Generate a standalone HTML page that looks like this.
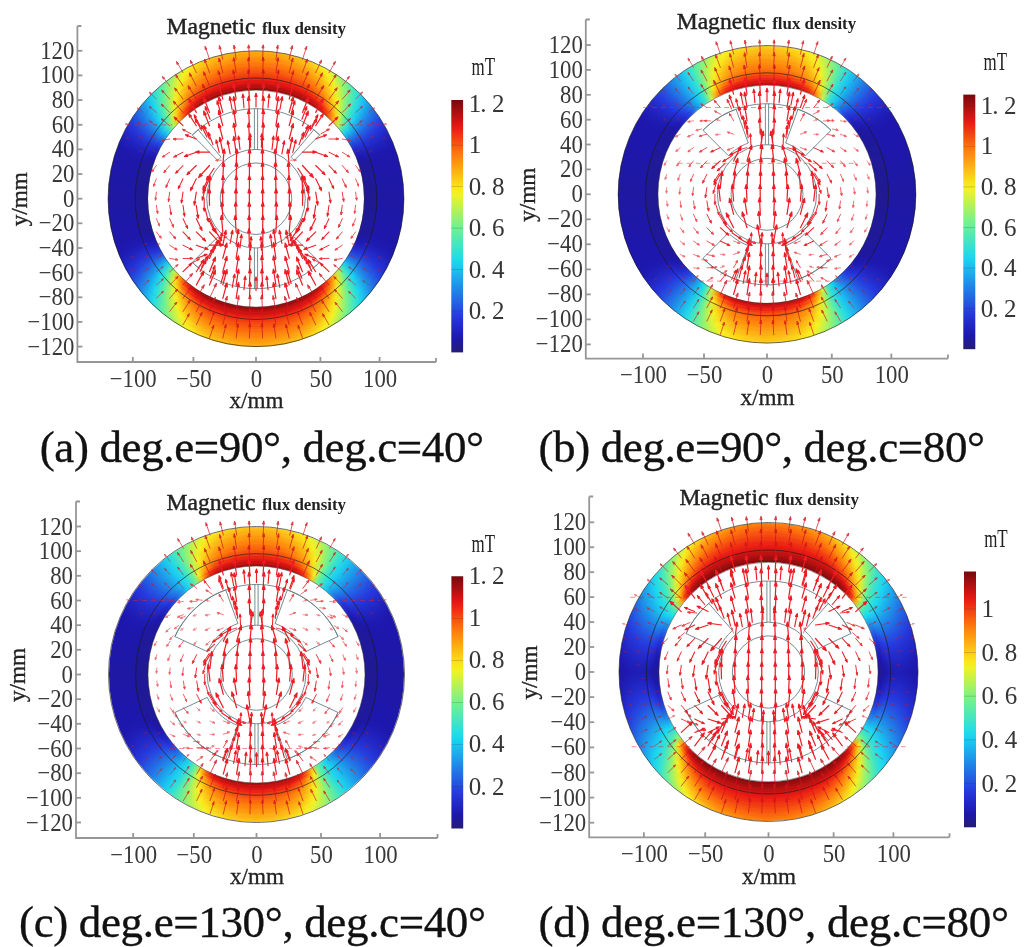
<!DOCTYPE html>
<html><head><meta charset="utf-8"><title>Magnetic flux density</title>
<style>
html,body{margin:0;padding:0;background:#fff;}
#wrap{position:relative;width:1025px;height:947px;overflow:hidden;background:#fff;font-family:"Liberation Serif",serif;}
.disc{position:absolute;border-radius:50%;}
svg{position:absolute;left:0;top:0;}
text{font-family:"Liberation Serif",serif;fill:#222;}
.tk{font-size:24.5px;fill:#383838;}
.cb{font-size:25px;fill:#363636;}
.cap{font-size:45px;fill:#111;stroke:#111;stroke-width:0.35px;}
</style></head><body><div id="wrap">
<div class="disc" style="left:108.10px;top:50.80px;width:295.80px;height:295.80px;background:conic-gradient(#fdaa13 0deg,#fdab14 3deg,#fdae14 6deg,#fdb114 9deg,#fdb515 12deg,#fcbb16 15deg,#fcc317 18deg,#fcce19 21deg,#fbdc1b 24deg,#faee1e 27deg,#e2f232 30deg,#bef24f 33deg,#93f272 36deg,#68ef99 39deg,#45e5c1 42deg,#20dbeb 45deg,#1cb6ee 48deg,#1f8ee9 51deg,#2269e4 54deg,#2549e0 57deg,#2533d6 60deg,#2227c5 63deg,#1f1eb8 66deg,#1d17ad 69deg,#1e17ab 72deg,#1e17aa 75deg,#1e17a9 78deg,#1e18a7 81deg,#1e18a6 84deg,#1e18a5 87deg,#1e18a3 90deg,#1e18a5 93deg,#1e18a6 96deg,#1e18a7 99deg,#1e17a9 102deg,#1e17aa 105deg,#1e17ab 108deg,#1d17ad 111deg,#1f1eb8 114deg,#2227c5 117deg,#2533d6 120deg,#2549e0 123deg,#2269e4 126deg,#1f8ee9 129deg,#1cb6ee 132deg,#20dbeb 135deg,#45e5c1 138deg,#68ef99 141deg,#93f272 144deg,#bef24f 147deg,#e2f232 150deg,#faee1e 153deg,#fbdc1b 156deg,#fcce19 159deg,#fcc317 162deg,#fcbb16 165deg,#fdb515 168deg,#fdb114 171deg,#fdae14 174deg,#fdab14 177deg,#fdaa13 180deg,#fdab14 183deg,#fdae14 186deg,#fdb114 189deg,#fdb515 192deg,#fcbb16 195deg,#fcc317 198deg,#fcce19 201deg,#fbdc1b 204deg,#faee1e 207deg,#e2f232 210deg,#bef24f 213deg,#93f272 216deg,#68ef99 219deg,#45e5c1 222deg,#20dbeb 225deg,#1cb6ee 228deg,#1f8ee9 231deg,#2269e4 234deg,#2549e0 237deg,#2533d6 240deg,#2227c5 243deg,#1f1eb8 246deg,#1d17ad 249deg,#1e17ab 252deg,#1e17aa 255deg,#1e17a9 258deg,#1e18a7 261deg,#1e18a6 264deg,#1e18a5 267deg,#1e18a3 270deg,#1e18a5 273deg,#1e18a6 276deg,#1e18a7 279deg,#1e17a9 282deg,#1e17aa 285deg,#1e17ab 288deg,#1d17ad 291deg,#1f1eb8 294deg,#2227c5 297deg,#2533d6 300deg,#2549e0 303deg,#2269e4 306deg,#1f8ee9 309deg,#1cb6ee 312deg,#20dbeb 315deg,#45e5c1 318deg,#68ef99 321deg,#93f272 324deg,#bef24f 327deg,#e2f232 330deg,#faee1e 333deg,#fbdc1b 336deg,#fcce19 339deg,#fcc317 342deg,#fcbb16 345deg,#fdb515 348deg,#fdb114 351deg,#fdae14 354deg,#fdab14 357deg,#fdaa13 360deg)"></div>
<div class="disc" style="left:110.56px;top:53.26px;width:290.87px;height:290.87px;background:conic-gradient(#fe9f12 0deg,#fea112 3deg,#fda312 6deg,#fda613 9deg,#fdaa13 12deg,#fdaf14 15deg,#fdb715 18deg,#fcc117 21deg,#fbce19 24deg,#fbe01c 27deg,#f4f223 30deg,#d1f240 33deg,#a5f263 36deg,#73f28c 39deg,#4fe8b5 42deg,#28dde1 45deg,#1cbeef 48deg,#1f95ea 51deg,#226fe5 54deg,#254de1 57deg,#2535d9 60deg,#2228c7 63deg,#1f1fb9 66deg,#1d17ae 69deg,#1e17ab 72deg,#1e17aa 75deg,#1e17a9 78deg,#1e18a7 81deg,#1e18a6 84deg,#1e18a5 87deg,#1e18a3 90deg,#1e18a5 93deg,#1e18a6 96deg,#1e18a7 99deg,#1e17a9 102deg,#1e17aa 105deg,#1e17ab 108deg,#1d17ae 111deg,#1f1fb9 114deg,#2228c7 117deg,#2535d9 120deg,#254de1 123deg,#226fe5 126deg,#1f95ea 129deg,#1cbeef 132deg,#28dde1 135deg,#4fe8b5 138deg,#73f28c 141deg,#a5f263 144deg,#d1f240 147deg,#f4f223 150deg,#fbe01c 153deg,#fbce19 156deg,#fcc117 159deg,#fdb715 162deg,#fdaf14 165deg,#fdaa13 168deg,#fda613 171deg,#fda312 174deg,#fea112 177deg,#fe9f12 180deg,#fea112 183deg,#fda312 186deg,#fda613 189deg,#fdaa13 192deg,#fdaf14 195deg,#fdb715 198deg,#fcc117 201deg,#fbce19 204deg,#fbe01c 207deg,#f4f223 210deg,#d1f240 213deg,#a5f263 216deg,#73f28c 219deg,#4fe8b5 222deg,#28dde1 225deg,#1cbeef 228deg,#1f95ea 231deg,#226fe5 234deg,#254de1 237deg,#2535d9 240deg,#2228c7 243deg,#1f1fb9 246deg,#1d17ae 249deg,#1e17ab 252deg,#1e17aa 255deg,#1e17a9 258deg,#1e18a7 261deg,#1e18a6 264deg,#1e18a5 267deg,#1e18a3 270deg,#1e18a5 273deg,#1e18a6 276deg,#1e18a7 279deg,#1e17a9 282deg,#1e17aa 285deg,#1e17ab 288deg,#1d17ae 291deg,#1f1fb9 294deg,#2228c7 297deg,#2535d9 300deg,#254de1 303deg,#226fe5 306deg,#1f95ea 309deg,#1cbeef 312deg,#28dde1 315deg,#4fe8b5 318deg,#73f28c 321deg,#a5f263 324deg,#d1f240 327deg,#f4f223 330deg,#fbe01c 333deg,#fbce19 336deg,#fcc117 339deg,#fdb715 342deg,#fdaf14 345deg,#fdaa13 348deg,#fda613 351deg,#fda312 354deg,#fea112 357deg,#fe9f12 360deg)"></div>
<div class="disc" style="left:113.03px;top:55.73px;width:285.94px;height:285.94px;background:conic-gradient(#fe9510 0deg,#fe9610 3deg,#fe9811 6deg,#fe9b11 9deg,#fe9f12 12deg,#fda412 15deg,#fdab13 18deg,#fdb415 21deg,#fcc117 24deg,#fbd21a 27deg,#fae81d 30deg,#e4f231 33deg,#b8f254 36deg,#85f27e 39deg,#59eba9 42deg,#31e0d7 45deg,#1bc7f0 48deg,#1e9ceb 51deg,#2175e6 54deg,#2452e1 57deg,#2636db 60deg,#222ac9 63deg,#2020ba 66deg,#1e18af 69deg,#1e17ab 72deg,#1e17aa 75deg,#1e17a9 78deg,#1e18a7 81deg,#1e18a6 84deg,#1e18a5 87deg,#1e18a3 90deg,#1e18a5 93deg,#1e18a6 96deg,#1e18a7 99deg,#1e17a9 102deg,#1e17aa 105deg,#1e17ab 108deg,#1e18af 111deg,#2020ba 114deg,#222ac9 117deg,#2636db 120deg,#2452e1 123deg,#2175e6 126deg,#1e9ceb 129deg,#1bc7f0 132deg,#31e0d7 135deg,#59eba9 138deg,#85f27e 141deg,#b8f254 144deg,#e4f231 147deg,#fae81d 150deg,#fbd21a 153deg,#fcc117 156deg,#fdb415 159deg,#fdab13 162deg,#fda412 165deg,#fe9f12 168deg,#fe9b11 171deg,#fe9811 174deg,#fe9610 177deg,#fe9510 180deg,#fe9610 183deg,#fe9811 186deg,#fe9b11 189deg,#fe9f12 192deg,#fda412 195deg,#fdab13 198deg,#fdb415 201deg,#fcc117 204deg,#fbd21a 207deg,#fae81d 210deg,#e4f231 213deg,#b8f254 216deg,#85f27e 219deg,#59eba9 222deg,#31e0d7 225deg,#1bc7f0 228deg,#1e9ceb 231deg,#2175e6 234deg,#2452e1 237deg,#2636db 240deg,#222ac9 243deg,#2020ba 246deg,#1e18af 249deg,#1e17ab 252deg,#1e17aa 255deg,#1e17a9 258deg,#1e18a7 261deg,#1e18a6 264deg,#1e18a5 267deg,#1e18a3 270deg,#1e18a5 273deg,#1e18a6 276deg,#1e18a7 279deg,#1e17a9 282deg,#1e17aa 285deg,#1e17ab 288deg,#1e18af 291deg,#2020ba 294deg,#222ac9 297deg,#2636db 300deg,#2452e1 303deg,#2175e6 306deg,#1e9ceb 309deg,#1bc7f0 312deg,#31e0d7 315deg,#59eba9 318deg,#85f27e 321deg,#b8f254 324deg,#e4f231 327deg,#fae81d 330deg,#fbd21a 333deg,#fcc117 336deg,#fdb415 339deg,#fdab13 342deg,#fda412 345deg,#fe9f12 348deg,#fe9b11 351deg,#fe9811 354deg,#fe9610 357deg,#fe9510 360deg)"></div>
<div class="disc" style="left:115.50px;top:58.19px;width:281.01px;height:281.01px;background:conic-gradient(#ff8b0e 0deg,#fe8c0f 3deg,#fe8e0f 6deg,#fe900f 9deg,#fe9310 12deg,#fe9811 15deg,#fe9e12 18deg,#fda713 21deg,#fdb315 24deg,#fcc417 27deg,#fbd91b 30deg,#f7f221 33deg,#ccf244 36deg,#97f26e 39deg,#64ee9d 42deg,#3be2cc 45deg,#1ad0f1 48deg,#1ea3eb 51deg,#217be6 54deg,#2457e2 57deg,#2638de 60deg,#232bcb 63deg,#2021bc 66deg,#1e19b0 69deg,#1e17ab 72deg,#1e17aa 75deg,#1e17a9 78deg,#1e18a7 81deg,#1e18a6 84deg,#1e18a5 87deg,#1e18a3 90deg,#1e18a5 93deg,#1e18a6 96deg,#1e18a7 99deg,#1e17a9 102deg,#1e17aa 105deg,#1e17ab 108deg,#1e19b0 111deg,#2021bc 114deg,#232bcb 117deg,#2638de 120deg,#2457e2 123deg,#217be6 126deg,#1ea3eb 129deg,#1ad0f1 132deg,#3be2cc 135deg,#64ee9d 138deg,#97f26e 141deg,#ccf244 144deg,#f7f221 147deg,#fbd91b 150deg,#fcc417 153deg,#fdb315 156deg,#fda713 159deg,#fe9e12 162deg,#fe9811 165deg,#fe9310 168deg,#fe900f 171deg,#fe8e0f 174deg,#fe8c0f 177deg,#ff8b0e 180deg,#fe8c0f 183deg,#fe8e0f 186deg,#fe900f 189deg,#fe9310 192deg,#fe9811 195deg,#fe9e12 198deg,#fda713 201deg,#fdb315 204deg,#fcc417 207deg,#fbd91b 210deg,#f7f221 213deg,#ccf244 216deg,#97f26e 219deg,#64ee9d 222deg,#3be2cc 225deg,#1ad0f1 228deg,#1ea3eb 231deg,#217be6 234deg,#2457e2 237deg,#2638de 240deg,#232bcb 243deg,#2021bc 246deg,#1e19b0 249deg,#1e17ab 252deg,#1e17aa 255deg,#1e17a9 258deg,#1e18a7 261deg,#1e18a6 264deg,#1e18a5 267deg,#1e18a3 270deg,#1e18a5 273deg,#1e18a6 276deg,#1e18a7 279deg,#1e17a9 282deg,#1e17aa 285deg,#1e17ab 288deg,#1e19b0 291deg,#2021bc 294deg,#232bcb 297deg,#2638de 300deg,#2457e2 303deg,#217be6 306deg,#1ea3eb 309deg,#1ad0f1 312deg,#3be2cc 315deg,#64ee9d 318deg,#97f26e 321deg,#ccf244 324deg,#f7f221 327deg,#fbd91b 330deg,#fcc417 333deg,#fdb315 336deg,#fda713 339deg,#fe9e12 342deg,#fe9811 345deg,#fe9310 348deg,#fe900f 351deg,#fe8e0f 354deg,#fe8c0f 357deg,#ff8b0e 360deg)"></div>
<div class="disc" style="left:117.96px;top:60.66px;width:276.08px;height:276.08px;background:conic-gradient(#ff800d 0deg,#ff810d 3deg,#ff830d 6deg,#ff850e 9deg,#ff880e 12deg,#fe8c0f 15deg,#fe9210 18deg,#fe9a11 21deg,#fda613 24deg,#fdb515 27deg,#fcca18 30deg,#fae51d 33deg,#e0f234 36deg,#abf25f 39deg,#70f190 42deg,#45e5c1 45deg,#1ad9f2 48deg,#1dabec 51deg,#2081e7 54deg,#235be2 57deg,#263bde 60deg,#232ccc 63deg,#2021bd 66deg,#1e19b1 69deg,#1e17ab 72deg,#1e17aa 75deg,#1e17a9 78deg,#1e18a7 81deg,#1e18a6 84deg,#1e18a5 87deg,#1e18a3 90deg,#1e18a5 93deg,#1e18a6 96deg,#1e18a7 99deg,#1e17a9 102deg,#1e17aa 105deg,#1e17ab 108deg,#1e19b1 111deg,#2021bd 114deg,#232ccc 117deg,#263bde 120deg,#235be2 123deg,#2081e7 126deg,#1dabec 129deg,#1ad9f2 132deg,#45e5c1 135deg,#70f190 138deg,#abf25f 141deg,#e0f234 144deg,#fae51d 147deg,#fcca18 150deg,#fdb515 153deg,#fda613 156deg,#fe9a11 159deg,#fe9210 162deg,#fe8c0f 165deg,#ff880e 168deg,#ff850e 171deg,#ff830d 174deg,#ff810d 177deg,#ff800d 180deg,#ff810d 183deg,#ff830d 186deg,#ff850e 189deg,#ff880e 192deg,#fe8c0f 195deg,#fe9210 198deg,#fe9a11 201deg,#fda613 204deg,#fdb515 207deg,#fcca18 210deg,#fae51d 213deg,#e0f234 216deg,#abf25f 219deg,#70f190 222deg,#45e5c1 225deg,#1ad9f2 228deg,#1dabec 231deg,#2081e7 234deg,#235be2 237deg,#263bde 240deg,#232ccc 243deg,#2021bd 246deg,#1e19b1 249deg,#1e17ab 252deg,#1e17aa 255deg,#1e17a9 258deg,#1e18a7 261deg,#1e18a6 264deg,#1e18a5 267deg,#1e18a3 270deg,#1e18a5 273deg,#1e18a6 276deg,#1e18a7 279deg,#1e17a9 282deg,#1e17aa 285deg,#1e17ab 288deg,#1e19b1 291deg,#2021bd 294deg,#232ccc 297deg,#263bde 300deg,#235be2 303deg,#2081e7 306deg,#1dabec 309deg,#1ad9f2 312deg,#45e5c1 315deg,#70f190 318deg,#abf25f 321deg,#e0f234 324deg,#fae51d 327deg,#fcca18 330deg,#fdb515 333deg,#fda613 336deg,#fe9a11 339deg,#fe9210 342deg,#fe8c0f 345deg,#ff880e 348deg,#ff850e 351deg,#ff830d 354deg,#ff810d 357deg,#ff800d 360deg)"></div>
<div class="disc" style="left:120.43px;top:63.12px;width:271.15px;height:271.15px;background:conic-gradient(#fd750e 0deg,#fd760d 3deg,#fd770d 6deg,#fe790d 9deg,#fe7c0d 12deg,#ff810d 15deg,#ff860e 18deg,#fe8d0f 21deg,#fe9811 24deg,#fda713 27deg,#fcba16 30deg,#fbd51a 33deg,#f4f223 36deg,#bff24e 39deg,#81f281 42deg,#4fe8b5 45deg,#22dbe8 48deg,#1cb3ed 51deg,#2087e8 54deg,#2360e3 57deg,#263fdf 60deg,#232dce 63deg,#2022be 66deg,#1e1ab1 69deg,#1e17ab 72deg,#1e17aa 75deg,#1e17a9 78deg,#1e18a7 81deg,#1e18a6 84deg,#1e18a5 87deg,#1e18a3 90deg,#1e18a5 93deg,#1e18a6 96deg,#1e18a7 99deg,#1e17a9 102deg,#1e17aa 105deg,#1e17ab 108deg,#1e1ab1 111deg,#2022be 114deg,#232dce 117deg,#263fdf 120deg,#2360e3 123deg,#2087e8 126deg,#1cb3ed 129deg,#22dbe8 132deg,#4fe8b5 135deg,#81f281 138deg,#bff24e 141deg,#f4f223 144deg,#fbd51a 147deg,#fcba16 150deg,#fda713 153deg,#fe9811 156deg,#fe8d0f 159deg,#ff860e 162deg,#ff810d 165deg,#fe7c0d 168deg,#fe790d 171deg,#fd770d 174deg,#fd760d 177deg,#fd750e 180deg,#fd760d 183deg,#fd770d 186deg,#fe790d 189deg,#fe7c0d 192deg,#ff810d 195deg,#ff860e 198deg,#fe8d0f 201deg,#fe9811 204deg,#fda713 207deg,#fcba16 210deg,#fbd51a 213deg,#f4f223 216deg,#bff24e 219deg,#81f281 222deg,#4fe8b5 225deg,#22dbe8 228deg,#1cb3ed 231deg,#2087e8 234deg,#2360e3 237deg,#263fdf 240deg,#232dce 243deg,#2022be 246deg,#1e1ab1 249deg,#1e17ab 252deg,#1e17aa 255deg,#1e17a9 258deg,#1e18a7 261deg,#1e18a6 264deg,#1e18a5 267deg,#1e18a3 270deg,#1e18a5 273deg,#1e18a6 276deg,#1e18a7 279deg,#1e17a9 282deg,#1e17aa 285deg,#1e17ab 288deg,#1e1ab1 291deg,#2022be 294deg,#232dce 297deg,#263fdf 300deg,#2360e3 303deg,#2087e8 306deg,#1cb3ed 309deg,#22dbe8 312deg,#4fe8b5 315deg,#81f281 318deg,#bff24e 321deg,#f4f223 324deg,#fbd51a 327deg,#fcba16 330deg,#fda713 333deg,#fe9811 336deg,#fe8d0f 339deg,#ff860e 342deg,#ff810d 345deg,#fe7c0d 348deg,#fe790d 351deg,#fd770d 354deg,#fd760d 357deg,#fd750e 360deg)"></div>
<div class="disc" style="left:122.89px;top:65.59px;width:266.22px;height:266.22px;background:conic-gradient(#fa690e 0deg,#fb6a0e 3deg,#fb6b0e 6deg,#fb6d0e 9deg,#fc6f0e 12deg,#fd730e 15deg,#fe790d 18deg,#ff810d 21deg,#ff8a0e 24deg,#fe9811 27deg,#fdab13 30deg,#fcc417 33deg,#fae61d 36deg,#d4f23d 39deg,#94f271 42deg,#5aeba8 45deg,#2bdede 48deg,#1cbbee 51deg,#208de9 54deg,#2364e3 57deg,#2542df 60deg,#242ed0 63deg,#2123bf 66deg,#1e1ab2 69deg,#1e17ab 72deg,#1e17aa 75deg,#1e17a9 78deg,#1e18a7 81deg,#1e18a6 84deg,#1e18a5 87deg,#1e18a3 90deg,#1e18a5 93deg,#1e18a6 96deg,#1e18a7 99deg,#1e17a9 102deg,#1e17aa 105deg,#1e17ab 108deg,#1e1ab2 111deg,#2123bf 114deg,#242ed0 117deg,#2542df 120deg,#2364e3 123deg,#208de9 126deg,#1cbbee 129deg,#2bdede 132deg,#5aeba8 135deg,#94f271 138deg,#d4f23d 141deg,#fae61d 144deg,#fcc417 147deg,#fdab13 150deg,#fe9811 153deg,#ff8a0e 156deg,#ff810d 159deg,#fe790d 162deg,#fd730e 165deg,#fc6f0e 168deg,#fb6d0e 171deg,#fb6b0e 174deg,#fb6a0e 177deg,#fa690e 180deg,#fb6a0e 183deg,#fb6b0e 186deg,#fb6d0e 189deg,#fc6f0e 192deg,#fd730e 195deg,#fe790d 198deg,#ff810d 201deg,#ff8a0e 204deg,#fe9811 207deg,#fdab13 210deg,#fcc417 213deg,#fae61d 216deg,#d4f23d 219deg,#94f271 222deg,#5aeba8 225deg,#2bdede 228deg,#1cbbee 231deg,#208de9 234deg,#2364e3 237deg,#2542df 240deg,#242ed0 243deg,#2123bf 246deg,#1e1ab2 249deg,#1e17ab 252deg,#1e17aa 255deg,#1e17a9 258deg,#1e18a7 261deg,#1e18a6 264deg,#1e18a5 267deg,#1e18a3 270deg,#1e18a5 273deg,#1e18a6 276deg,#1e18a7 279deg,#1e17a9 282deg,#1e17aa 285deg,#1e17ab 288deg,#1e1ab2 291deg,#2123bf 294deg,#242ed0 297deg,#2542df 300deg,#2364e3 303deg,#208de9 306deg,#1cbbee 309deg,#2bdede 312deg,#5aeba8 315deg,#94f271 318deg,#d4f23d 321deg,#fae61d 324deg,#fcc417 327deg,#fdab13 330deg,#fe9811 333deg,#ff8a0e 336deg,#ff810d 339deg,#fe790d 342deg,#fd730e 345deg,#fc6f0e 348deg,#fb6d0e 351deg,#fb6b0e 354deg,#fb6a0e 357deg,#fa690e 360deg)"></div>
<div class="disc" style="left:125.36px;top:68.06px;width:261.29px;height:261.29px;background:conic-gradient(#f85d0f 0deg,#f85e0f 3deg,#f85f0f 6deg,#f9600f 9deg,#f9620f 12deg,#fa660f 15deg,#fb6b0e 18deg,#fc720e 21deg,#fe7c0d 24deg,#ff890e 27deg,#fe9b11 30deg,#fdb415 33deg,#fbd41a 36deg,#eaf22b 39deg,#a9f260 42deg,#66ef9b 45deg,#34e0d4 48deg,#1bc4f0 51deg,#1f93e9 54deg,#2269e4 57deg,#2545df 60deg,#242fd1 63deg,#2123bf 66deg,#1e1ab2 69deg,#1e17ab 72deg,#1e17aa 75deg,#1e17a9 78deg,#1e18a7 81deg,#1e18a6 84deg,#1e18a5 87deg,#1e18a3 90deg,#1e18a5 93deg,#1e18a6 96deg,#1e18a7 99deg,#1e17a9 102deg,#1e17aa 105deg,#1e17ab 108deg,#1e1ab2 111deg,#2123bf 114deg,#242fd1 117deg,#2545df 120deg,#2269e4 123deg,#1f93e9 126deg,#1bc4f0 129deg,#34e0d4 132deg,#66ef9b 135deg,#a9f260 138deg,#eaf22b 141deg,#fbd41a 144deg,#fdb415 147deg,#fe9b11 150deg,#ff890e 153deg,#fe7c0d 156deg,#fc720e 159deg,#fb6b0e 162deg,#fa660f 165deg,#f9620f 168deg,#f9600f 171deg,#f85f0f 174deg,#f85e0f 177deg,#f85d0f 180deg,#f85e0f 183deg,#f85f0f 186deg,#f9600f 189deg,#f9620f 192deg,#fa660f 195deg,#fb6b0e 198deg,#fc720e 201deg,#fe7c0d 204deg,#ff890e 207deg,#fe9b11 210deg,#fdb415 213deg,#fbd41a 216deg,#eaf22b 219deg,#a9f260 222deg,#66ef9b 225deg,#34e0d4 228deg,#1bc4f0 231deg,#1f93e9 234deg,#2269e4 237deg,#2545df 240deg,#242fd1 243deg,#2123bf 246deg,#1e1ab2 249deg,#1e17ab 252deg,#1e17aa 255deg,#1e17a9 258deg,#1e18a7 261deg,#1e18a6 264deg,#1e18a5 267deg,#1e18a3 270deg,#1e18a5 273deg,#1e18a6 276deg,#1e18a7 279deg,#1e17a9 282deg,#1e17aa 285deg,#1e17ab 288deg,#1e1ab2 291deg,#2123bf 294deg,#242fd1 297deg,#2545df 300deg,#2269e4 303deg,#1f93e9 306deg,#1bc4f0 309deg,#34e0d4 312deg,#66ef9b 315deg,#a9f260 318deg,#eaf22b 321deg,#fbd41a 324deg,#fdb415 327deg,#fe9b11 330deg,#ff890e 333deg,#fe7c0d 336deg,#fc720e 339deg,#fb6b0e 342deg,#fa660f 345deg,#f9620f 348deg,#f9600f 351deg,#f85f0f 354deg,#f85e0f 357deg,#f85d0f 360deg)"></div>
<div class="disc" style="left:127.82px;top:70.52px;width:256.36px;height:256.36px;background:conic-gradient(#f65110 0deg,#f65210 3deg,#f65210 6deg,#f65410 9deg,#f75610 12deg,#f75910 15deg,#f85d0f 18deg,#f9630f 21deg,#fb6c0e 24deg,#fe7a0d 27deg,#fe8b0f 30deg,#fda212 33deg,#fcc217 36deg,#faec1e 39deg,#c0f24e 42deg,#73f28c 45deg,#3de3c9 48deg,#1bccf1 51deg,#1f9aea 54deg,#226de5 57deg,#2548e0 60deg,#2430d2 63deg,#2124c0 66deg,#1e1ab2 69deg,#1e17ab 72deg,#1e17aa 75deg,#1e17a9 78deg,#1e18a7 81deg,#1e18a6 84deg,#1e18a5 87deg,#1e18a3 90deg,#1e18a5 93deg,#1e18a6 96deg,#1e18a7 99deg,#1e17a9 102deg,#1e17aa 105deg,#1e17ab 108deg,#1e1ab2 111deg,#2124c0 114deg,#2430d2 117deg,#2548e0 120deg,#226de5 123deg,#1f9aea 126deg,#1bccf1 129deg,#3de3c9 132deg,#73f28c 135deg,#c0f24e 138deg,#faec1e 141deg,#fcc217 144deg,#fda212 147deg,#fe8b0f 150deg,#fe7a0d 153deg,#fb6c0e 156deg,#f9630f 159deg,#f85d0f 162deg,#f75910 165deg,#f75610 168deg,#f65410 171deg,#f65210 174deg,#f65210 177deg,#f65110 180deg,#f65210 183deg,#f65210 186deg,#f65410 189deg,#f75610 192deg,#f75910 195deg,#f85d0f 198deg,#f9630f 201deg,#fb6c0e 204deg,#fe7a0d 207deg,#fe8b0f 210deg,#fda212 213deg,#fcc217 216deg,#faec1e 219deg,#c0f24e 222deg,#73f28c 225deg,#3de3c9 228deg,#1bccf1 231deg,#1f9aea 234deg,#226de5 237deg,#2548e0 240deg,#2430d2 243deg,#2124c0 246deg,#1e1ab2 249deg,#1e17ab 252deg,#1e17aa 255deg,#1e17a9 258deg,#1e18a7 261deg,#1e18a6 264deg,#1e18a5 267deg,#1e18a3 270deg,#1e18a5 273deg,#1e18a6 276deg,#1e18a7 279deg,#1e17a9 282deg,#1e17aa 285deg,#1e17ab 288deg,#1e1ab2 291deg,#2124c0 294deg,#2430d2 297deg,#2548e0 300deg,#226de5 303deg,#1f9aea 306deg,#1bccf1 309deg,#3de3c9 312deg,#73f28c 315deg,#c0f24e 318deg,#faec1e 321deg,#fcc217 324deg,#fda212 327deg,#fe8b0f 330deg,#fe7a0d 333deg,#fb6c0e 336deg,#f9630f 339deg,#f85d0f 342deg,#f75910 345deg,#f75610 348deg,#f65410 351deg,#f65210 354deg,#f65210 357deg,#f65110 360deg)"></div>
<div class="disc" style="left:130.29px;top:72.98px;width:251.43px;height:251.43px;background:conic-gradient(#f34511 0deg,#f34611 3deg,#f44611 6deg,#f44711 9deg,#f44911 12deg,#f54b11 15deg,#f54f10 18deg,#f65410 21deg,#f85c0f 24deg,#fa690e 27deg,#fe7a0d 30deg,#fe910f 33deg,#fdb014 36deg,#fbd91b 39deg,#d7f23b 42deg,#88f27b 45deg,#48e6bd 48deg,#1ad5f2 51deg,#1ea0eb 54deg,#2271e5 57deg,#254ae0 60deg,#2431d3 63deg,#2124c0 66deg,#1e1ab2 69deg,#1e17ab 72deg,#1e17aa 75deg,#1e17a9 78deg,#1e18a7 81deg,#1e18a6 84deg,#1e18a5 87deg,#1e18a3 90deg,#1e18a5 93deg,#1e18a6 96deg,#1e18a7 99deg,#1e17a9 102deg,#1e17aa 105deg,#1e17ab 108deg,#1e1ab2 111deg,#2124c0 114deg,#2431d3 117deg,#254ae0 120deg,#2271e5 123deg,#1ea0eb 126deg,#1ad5f2 129deg,#48e6bd 132deg,#88f27b 135deg,#d7f23b 138deg,#fbd91b 141deg,#fdb014 144deg,#fe910f 147deg,#fe7a0d 150deg,#fa690e 153deg,#f85c0f 156deg,#f65410 159deg,#f54f10 162deg,#f54b11 165deg,#f44911 168deg,#f44711 171deg,#f44611 174deg,#f34611 177deg,#f34511 180deg,#f34611 183deg,#f44611 186deg,#f44711 189deg,#f44911 192deg,#f54b11 195deg,#f54f10 198deg,#f65410 201deg,#f85c0f 204deg,#fa690e 207deg,#fe7a0d 210deg,#fe910f 213deg,#fdb014 216deg,#fbd91b 219deg,#d7f23b 222deg,#88f27b 225deg,#48e6bd 228deg,#1ad5f2 231deg,#1ea0eb 234deg,#2271e5 237deg,#254ae0 240deg,#2431d3 243deg,#2124c0 246deg,#1e1ab2 249deg,#1e17ab 252deg,#1e17aa 255deg,#1e17a9 258deg,#1e18a7 261deg,#1e18a6 264deg,#1e18a5 267deg,#1e18a3 270deg,#1e18a5 273deg,#1e18a6 276deg,#1e18a7 279deg,#1e17a9 282deg,#1e17aa 285deg,#1e17ab 288deg,#1e1ab2 291deg,#2124c0 294deg,#2431d3 297deg,#254ae0 300deg,#2271e5 303deg,#1ea0eb 306deg,#1ad5f2 309deg,#48e6bd 312deg,#88f27b 315deg,#d7f23b 318deg,#fbd91b 321deg,#fdb014 324deg,#fe910f 327deg,#fe7a0d 330deg,#fa690e 333deg,#f85c0f 336deg,#f65410 339deg,#f54f10 342deg,#f54b11 345deg,#f44911 348deg,#f44711 351deg,#f44611 354deg,#f34611 357deg,#f34511 360deg)"></div>
<div class="disc" style="left:132.75px;top:75.45px;width:246.50px;height:246.50px;background:conic-gradient(#f13a12 0deg,#f13a12 3deg,#f13a12 6deg,#f13b12 9deg,#f23c12 12deg,#f23e12 15deg,#f34111 18deg,#f34611 21deg,#f54d11 24deg,#f75710 27deg,#fa670f 30deg,#ff7f0d 33deg,#fe9c11 36deg,#fcc417 39deg,#f1f226 42deg,#9ef269 45deg,#54e9b0 48deg,#1edaed 51deg,#1da7ec 54deg,#2175e6 57deg,#254ce0 60deg,#2431d4 63deg,#2124c0 66deg,#1e1ab2 69deg,#1e17ab 72deg,#1e17aa 75deg,#1e17a9 78deg,#1e18a7 81deg,#1e18a6 84deg,#1e18a5 87deg,#1e18a3 90deg,#1e18a5 93deg,#1e18a6 96deg,#1e18a7 99deg,#1e17a9 102deg,#1e17aa 105deg,#1e17ab 108deg,#1e1ab2 111deg,#2124c0 114deg,#2431d4 117deg,#254ce0 120deg,#2175e6 123deg,#1da7ec 126deg,#1edaed 129deg,#54e9b0 132deg,#9ef269 135deg,#f1f226 138deg,#fcc417 141deg,#fe9c11 144deg,#ff7f0d 147deg,#fa670f 150deg,#f75710 153deg,#f54d11 156deg,#f34611 159deg,#f34111 162deg,#f23e12 165deg,#f23c12 168deg,#f13b12 171deg,#f13a12 174deg,#f13a12 177deg,#f13a12 180deg,#f13a12 183deg,#f13a12 186deg,#f13b12 189deg,#f23c12 192deg,#f23e12 195deg,#f34111 198deg,#f34611 201deg,#f54d11 204deg,#f75710 207deg,#fa670f 210deg,#ff7f0d 213deg,#fe9c11 216deg,#fcc417 219deg,#f1f226 222deg,#9ef269 225deg,#54e9b0 228deg,#1edaed 231deg,#1da7ec 234deg,#2175e6 237deg,#254ce0 240deg,#2431d4 243deg,#2124c0 246deg,#1e1ab2 249deg,#1e17ab 252deg,#1e17aa 255deg,#1e17a9 258deg,#1e18a7 261deg,#1e18a6 264deg,#1e18a5 267deg,#1e18a3 270deg,#1e18a5 273deg,#1e18a6 276deg,#1e18a7 279deg,#1e17a9 282deg,#1e17aa 285deg,#1e17ab 288deg,#1e1ab2 291deg,#2124c0 294deg,#2431d4 297deg,#254ce0 300deg,#2175e6 303deg,#1da7ec 306deg,#1edaed 309deg,#54e9b0 312deg,#9ef269 315deg,#f1f226 318deg,#fcc417 321deg,#fe9c11 324deg,#ff7f0d 327deg,#fa670f 330deg,#f75710 333deg,#f54d11 336deg,#f34611 339deg,#f34111 342deg,#f23e12 345deg,#f23c12 348deg,#f13b12 351deg,#f13a12 354deg,#f13a12 357deg,#f13a12 360deg)"></div>
<div class="disc" style="left:135.22px;top:77.91px;width:241.57px;height:241.57px;background:conic-gradient(#ed2414 0deg,#ed2414 3deg,#ed2414 6deg,#ed2514 9deg,#ed2613 12deg,#ed2713 15deg,#ee2913 18deg,#ee2d13 21deg,#f03313 24deg,#f13c12 27deg,#f44a11 30deg,#f9600f 33deg,#ff800d 36deg,#fda713 39deg,#fbdd1b 42deg,#bff24e 45deg,#64ee9d 48deg,#2adde0 51deg,#1db0ed 54deg,#217be6 57deg,#244fe1 60deg,#2532d5 63deg,#2124c0 66deg,#1e1ab1 69deg,#1f18a1 72deg,#201999 75deg,#201998 78deg,#201997 81deg,#201995 84deg,#201994 87deg,#201993 90deg,#201994 93deg,#201995 96deg,#201997 99deg,#201998 102deg,#201999 105deg,#1f18a1 108deg,#1e1ab1 111deg,#2124c0 114deg,#2532d5 117deg,#244fe1 120deg,#217be6 123deg,#1db0ed 126deg,#2adde0 129deg,#64ee9d 132deg,#bff24e 135deg,#fbdd1b 138deg,#fda713 141deg,#ff800d 144deg,#f9600f 147deg,#f44a11 150deg,#f13c12 153deg,#f03313 156deg,#ee2d13 159deg,#ee2913 162deg,#ed2713 165deg,#ed2613 168deg,#ed2514 171deg,#ed2414 174deg,#ed2414 177deg,#ed2414 180deg,#ed2414 183deg,#ed2414 186deg,#ed2514 189deg,#ed2613 192deg,#ed2713 195deg,#ee2913 198deg,#ee2d13 201deg,#f03313 204deg,#f13c12 207deg,#f44a11 210deg,#f9600f 213deg,#ff800d 216deg,#fda713 219deg,#fbdd1b 222deg,#bff24e 225deg,#64ee9d 228deg,#2adde0 231deg,#1db0ed 234deg,#217be6 237deg,#244fe1 240deg,#2532d5 243deg,#2124c0 246deg,#1e1ab1 249deg,#1f18a1 252deg,#201999 255deg,#201998 258deg,#201997 261deg,#201995 264deg,#201994 267deg,#201993 270deg,#201994 273deg,#201995 276deg,#201997 279deg,#201998 282deg,#201999 285deg,#1f18a1 288deg,#1e1ab1 291deg,#2124c0 294deg,#2532d5 297deg,#244fe1 300deg,#217be6 303deg,#1db0ed 306deg,#2adde0 309deg,#64ee9d 312deg,#bff24e 315deg,#fbdd1b 318deg,#fda713 321deg,#ff800d 324deg,#f9600f 327deg,#f44a11 330deg,#f13c12 333deg,#f03313 336deg,#ee2d13 339deg,#ee2913 342deg,#ed2713 345deg,#ed2613 348deg,#ed2514 351deg,#ed2414 354deg,#ed2414 357deg,#ed2414 360deg)"></div>
<div class="disc" style="left:137.68px;top:80.38px;width:236.64px;height:236.64px;background:conic-gradient(#e21814 0deg,#e21814 3deg,#e21814 6deg,#e21814 9deg,#e31814 12deg,#e41914 15deg,#e61914 18deg,#e91914 21deg,#eb1d14 24deg,#ed2414 27deg,#ef3013 30deg,#f34311 33deg,#f9610f 36deg,#fe8b0f 39deg,#fcc017 42deg,#e0f234 45deg,#76f28a 48deg,#34e0d4 51deg,#1cb8ee 54deg,#217fe7 57deg,#2450e1 60deg,#2532d4 63deg,#2123bf 66deg,#1e19b0 69deg,#1f189e 72deg,#201999 75deg,#201998 78deg,#201997 81deg,#201995 84deg,#201994 87deg,#201993 90deg,#201994 93deg,#201995 96deg,#201997 99deg,#201998 102deg,#201999 105deg,#1f189e 108deg,#1e19b0 111deg,#2123bf 114deg,#2532d4 117deg,#2450e1 120deg,#217fe7 123deg,#1cb8ee 126deg,#34e0d4 129deg,#76f28a 132deg,#e0f234 135deg,#fcc017 138deg,#fe8b0f 141deg,#f9610f 144deg,#f34311 147deg,#ef3013 150deg,#ed2414 153deg,#eb1d14 156deg,#e91914 159deg,#e61914 162deg,#e41914 165deg,#e31814 168deg,#e21814 171deg,#e21814 174deg,#e21814 177deg,#e21814 180deg,#e21814 183deg,#e21814 186deg,#e21814 189deg,#e31814 192deg,#e41914 195deg,#e61914 198deg,#e91914 201deg,#eb1d14 204deg,#ed2414 207deg,#ef3013 210deg,#f34311 213deg,#f9610f 216deg,#fe8b0f 219deg,#fcc017 222deg,#e0f234 225deg,#76f28a 228deg,#34e0d4 231deg,#1cb8ee 234deg,#217fe7 237deg,#2450e1 240deg,#2532d4 243deg,#2123bf 246deg,#1e19b0 249deg,#1f189e 252deg,#201999 255deg,#201998 258deg,#201997 261deg,#201995 264deg,#201994 267deg,#201993 270deg,#201994 273deg,#201995 276deg,#201997 279deg,#201998 282deg,#201999 285deg,#1f189e 288deg,#1e19b0 291deg,#2123bf 294deg,#2532d4 297deg,#2450e1 300deg,#217fe7 303deg,#1cb8ee 306deg,#34e0d4 309deg,#76f28a 312deg,#e0f234 315deg,#fcc017 318deg,#fe8b0f 321deg,#f9610f 324deg,#f34311 327deg,#ef3013 330deg,#ed2414 333deg,#eb1d14 336deg,#e91914 339deg,#e61914 342deg,#e41914 345deg,#e31814 348deg,#e21814 351deg,#e21814 354deg,#e21814 357deg,#e21814 360deg)"></div>
<div class="disc" style="left:140.15px;top:82.84px;width:231.71px;height:231.71px;background:conic-gradient(#cc1512 0deg,#cc1512 3deg,#cc1512 6deg,#cd1512 9deg,#cd1512 12deg,#ce1512 15deg,#cf1513 18deg,#d11613 21deg,#d51613 24deg,#db1713 27deg,#e51914 30deg,#ed2414 33deg,#f23e12 36deg,#fa670f 39deg,#fe9f12 42deg,#fae71d 45deg,#95f271 48deg,#40e4c7 51deg,#1cbfef 54deg,#2082e7 57deg,#2450e1 60deg,#2430d2 63deg,#2021bc 66deg,#1d17ad 69deg,#1f199a 72deg,#201999 75deg,#201998 78deg,#201997 81deg,#201995 84deg,#201994 87deg,#201993 90deg,#201994 93deg,#201995 96deg,#201997 99deg,#201998 102deg,#201999 105deg,#1f199a 108deg,#1d17ad 111deg,#2021bc 114deg,#2430d2 117deg,#2450e1 120deg,#2082e7 123deg,#1cbfef 126deg,#40e4c7 129deg,#95f271 132deg,#fae71d 135deg,#fe9f12 138deg,#fa670f 141deg,#f23e12 144deg,#ed2414 147deg,#e51914 150deg,#db1713 153deg,#d51613 156deg,#d11613 159deg,#cf1513 162deg,#ce1512 165deg,#cd1512 168deg,#cd1512 171deg,#cc1512 174deg,#cc1512 177deg,#cc1512 180deg,#cc1512 183deg,#cc1512 186deg,#cd1512 189deg,#cd1512 192deg,#ce1512 195deg,#cf1513 198deg,#d11613 201deg,#d51613 204deg,#db1713 207deg,#e51914 210deg,#ed2414 213deg,#f23e12 216deg,#fa670f 219deg,#fe9f12 222deg,#fae71d 225deg,#95f271 228deg,#40e4c7 231deg,#1cbfef 234deg,#2082e7 237deg,#2450e1 240deg,#2430d2 243deg,#2021bc 246deg,#1d17ad 249deg,#1f199a 252deg,#201999 255deg,#201998 258deg,#201997 261deg,#201995 264deg,#201994 267deg,#201993 270deg,#201994 273deg,#201995 276deg,#201997 279deg,#201998 282deg,#201999 285deg,#1f199a 288deg,#1d17ad 291deg,#2021bc 294deg,#2430d2 297deg,#2450e1 300deg,#2082e7 303deg,#1cbfef 306deg,#40e4c7 309deg,#95f271 312deg,#fae71d 315deg,#fe9f12 318deg,#fa670f 321deg,#f23e12 324deg,#ed2414 327deg,#e51914 330deg,#db1713 333deg,#d51613 336deg,#d11613 339deg,#cf1513 342deg,#ce1512 345deg,#cd1512 348deg,#cd1512 351deg,#cc1512 354deg,#cc1512 357deg,#cc1512 360deg)"></div>
<div class="disc" style="left:142.61px;top:85.31px;width:226.78px;height:226.78px;background:conic-gradient(#b51111 0deg,#b51111 3deg,#b51111 6deg,#b51111 9deg,#b61111 12deg,#b61111 15deg,#b71111 18deg,#b81211 21deg,#ba1211 24deg,#bf1311 27deg,#c71412 30deg,#d51613 33deg,#eb1c14 36deg,#f24111 39deg,#fe7d0d 42deg,#fcc818 45deg,#b2f259 48deg,#49e6bc 51deg,#1bc3ef 54deg,#2181e7 57deg,#254be0 60deg,#232dce 63deg,#1f1eb8 66deg,#1e18a6 69deg,#1f199a 72deg,#201999 75deg,#201998 78deg,#201997 81deg,#201995 84deg,#201994 87deg,#201993 90deg,#201994 93deg,#201995 96deg,#201997 99deg,#201998 102deg,#201999 105deg,#1f199a 108deg,#1e18a6 111deg,#1f1eb8 114deg,#232dce 117deg,#254be0 120deg,#2181e7 123deg,#1bc3ef 126deg,#49e6bc 129deg,#b2f259 132deg,#fcc818 135deg,#fe7d0d 138deg,#f24111 141deg,#eb1c14 144deg,#d51613 147deg,#c71412 150deg,#bf1311 153deg,#ba1211 156deg,#b81211 159deg,#b71111 162deg,#b61111 165deg,#b61111 168deg,#b51111 171deg,#b51111 174deg,#b51111 177deg,#b51111 180deg,#b51111 183deg,#b51111 186deg,#b51111 189deg,#b61111 192deg,#b61111 195deg,#b71111 198deg,#b81211 201deg,#ba1211 204deg,#bf1311 207deg,#c71412 210deg,#d51613 213deg,#eb1c14 216deg,#f24111 219deg,#fe7d0d 222deg,#fcc818 225deg,#b2f259 228deg,#49e6bc 231deg,#1bc3ef 234deg,#2181e7 237deg,#254be0 240deg,#232dce 243deg,#1f1eb8 246deg,#1e18a6 249deg,#1f199a 252deg,#201999 255deg,#201998 258deg,#201997 261deg,#201995 264deg,#201994 267deg,#201993 270deg,#201994 273deg,#201995 276deg,#201997 279deg,#201998 282deg,#201999 285deg,#1f199a 288deg,#1e18a6 291deg,#1f1eb8 294deg,#232dce 297deg,#254be0 300deg,#2181e7 303deg,#1bc3ef 306deg,#49e6bc 309deg,#b2f259 312deg,#fcc818 315deg,#fe7d0d 318deg,#f24111 321deg,#eb1c14 324deg,#d51613 327deg,#c71412 330deg,#bf1311 333deg,#ba1211 336deg,#b81211 339deg,#b71111 342deg,#b61111 345deg,#b61111 348deg,#b51111 351deg,#b51111 354deg,#b51111 357deg,#b51111 360deg)"></div>
<div class="disc" style="left:145.07px;top:87.77px;width:221.85px;height:221.85px;background:conic-gradient(#9a0d0f 0deg,#9a0d0f 3deg,#9a0d0f 6deg,#9b0d0f 9deg,#9b0d0f 12deg,#9b0d0f 15deg,#9c0d0f 18deg,#9d0d0f 21deg,#a00e0f 24deg,#a40f10 27deg,#ac1010 30deg,#bb1211 33deg,#d41613 36deg,#ee2c13 39deg,#fa690e 42deg,#fcb916 45deg,#c2f24c 48deg,#51e8b3 51deg,#1bcaf0 54deg,#2085e8 57deg,#244fe1 60deg,#242ed0 63deg,#201fb9 66deg,#1e17a8 69deg,#1f199a 72deg,#201999 75deg,#201998 78deg,#201997 81deg,#201995 84deg,#201994 87deg,#201993 90deg,#201994 93deg,#201995 96deg,#201997 99deg,#201998 102deg,#201999 105deg,#1f199a 108deg,#1e17a8 111deg,#201fb9 114deg,#242ed0 117deg,#244fe1 120deg,#2085e8 123deg,#1bcaf0 126deg,#51e8b3 129deg,#c2f24c 132deg,#fcb916 135deg,#fa690e 138deg,#ee2c13 141deg,#d41613 144deg,#bb1211 147deg,#ac1010 150deg,#a40f10 153deg,#a00e0f 156deg,#9d0d0f 159deg,#9c0d0f 162deg,#9b0d0f 165deg,#9b0d0f 168deg,#9b0d0f 171deg,#9a0d0f 174deg,#9a0d0f 177deg,#9a0d0f 180deg,#9a0d0f 183deg,#9a0d0f 186deg,#9b0d0f 189deg,#9b0d0f 192deg,#9b0d0f 195deg,#9c0d0f 198deg,#9d0d0f 201deg,#a00e0f 204deg,#a40f10 207deg,#ac1010 210deg,#bb1211 213deg,#d41613 216deg,#ee2c13 219deg,#fa690e 222deg,#fcb916 225deg,#c2f24c 228deg,#51e8b3 231deg,#1bcaf0 234deg,#2085e8 237deg,#244fe1 240deg,#242ed0 243deg,#201fb9 246deg,#1e17a8 249deg,#1f199a 252deg,#201999 255deg,#201998 258deg,#201997 261deg,#201995 264deg,#201994 267deg,#201993 270deg,#201994 273deg,#201995 276deg,#201997 279deg,#201998 282deg,#201999 285deg,#1f199a 288deg,#1e17a8 291deg,#201fb9 294deg,#242ed0 297deg,#244fe1 300deg,#2085e8 303deg,#1bcaf0 306deg,#51e8b3 309deg,#c2f24c 312deg,#fcb916 315deg,#fa690e 318deg,#ee2c13 321deg,#d41613 324deg,#bb1211 327deg,#ac1010 330deg,#a40f10 333deg,#a00e0f 336deg,#9d0d0f 339deg,#9c0d0f 342deg,#9b0d0f 345deg,#9b0d0f 348deg,#9b0d0f 351deg,#9a0d0f 354deg,#9a0d0f 357deg,#9a0d0f 360deg)"></div>
<div class="disc" style="left:147.54px;top:90.24px;width:216.92px;height:216.92px;background:#fff"></div>
<div class="disc" style="left:618.20px;top:45.50px;width:297.60px;height:297.60px;background:conic-gradient(#fccb19 0deg,#fcce19 3deg,#fbd119 6deg,#fbd71a 9deg,#fbdf1c 12deg,#faeb1d 15deg,#eef228 18deg,#d1f240 21deg,#aaf25f 24deg,#78f288 27deg,#50e8b4 30deg,#25dce5 33deg,#1cbaee 36deg,#1f94ea 39deg,#2271e5 42deg,#2452e1 45deg,#2637dd 48deg,#232bcb 51deg,#2022bd 54deg,#1e1ab2 57deg,#1d17ae 60deg,#1d17ad 63deg,#1d17ac 66deg,#1e17ab 69deg,#1e17aa 72deg,#1e17a8 75deg,#1e18a7 78deg,#1e18a6 81deg,#1e18a5 84deg,#1e18a3 87deg,#1f18a2 90deg,#1e18a3 93deg,#1e18a5 96deg,#1e18a6 99deg,#1e18a7 102deg,#1e17a8 105deg,#1e17aa 108deg,#1e17ab 111deg,#1d17ac 114deg,#1d17ad 117deg,#1d17ae 120deg,#1e1ab2 123deg,#2022bd 126deg,#232bcb 129deg,#2637dd 132deg,#2452e1 135deg,#2271e5 138deg,#1f94ea 141deg,#1cbaee 144deg,#25dce5 147deg,#50e8b4 150deg,#78f288 153deg,#aaf25f 156deg,#d1f240 159deg,#eef228 162deg,#faeb1d 165deg,#fbdf1c 168deg,#fbd71a 171deg,#fbd119 174deg,#fcce19 177deg,#fccb19 180deg,#fcce19 183deg,#fbd119 186deg,#fbd71a 189deg,#fbdf1c 192deg,#faeb1d 195deg,#eef228 198deg,#d1f240 201deg,#aaf25f 204deg,#78f288 207deg,#50e8b4 210deg,#25dce5 213deg,#1cbaee 216deg,#1f94ea 219deg,#2271e5 222deg,#2452e1 225deg,#2637dd 228deg,#232bcb 231deg,#2022bd 234deg,#1e1ab2 237deg,#1d17ae 240deg,#1d17ad 243deg,#1d17ac 246deg,#1e17ab 249deg,#1e17aa 252deg,#1e17a8 255deg,#1e18a7 258deg,#1e18a6 261deg,#1e18a5 264deg,#1e18a3 267deg,#1f18a2 270deg,#1e18a3 273deg,#1e18a5 276deg,#1e18a6 279deg,#1e18a7 282deg,#1e17a8 285deg,#1e17aa 288deg,#1e17ab 291deg,#1d17ac 294deg,#1d17ad 297deg,#1d17ae 300deg,#1e1ab2 303deg,#2022bd 306deg,#232bcb 309deg,#2637dd 312deg,#2452e1 315deg,#2271e5 318deg,#1f94ea 321deg,#1cbaee 324deg,#25dce5 327deg,#50e8b4 330deg,#78f288 333deg,#aaf25f 336deg,#d1f240 339deg,#eef228 342deg,#faeb1d 345deg,#fbdf1c 348deg,#fbd71a 351deg,#fbd119 354deg,#fcce19 357deg,#fccb19 360deg)"></div>
<div class="disc" style="left:620.68px;top:47.98px;width:292.64px;height:292.64px;background:conic-gradient(#fcc117 0deg,#fcc417 3deg,#fcc818 6deg,#fccd19 9deg,#fbd51a 12deg,#fbe11c 15deg,#faf11e 18deg,#ddf236 21deg,#b5f257 24deg,#81f281 27deg,#54e9af 30deg,#27dde3 33deg,#1cbbef 36deg,#1f96ea 39deg,#2272e5 42deg,#2453e1 45deg,#2638dd 48deg,#232ccc 51deg,#2022bd 54deg,#1e1ab2 57deg,#1d17ae 60deg,#1d17ad 63deg,#1d17ac 66deg,#1e17ab 69deg,#1e17aa 72deg,#1e17a8 75deg,#1e18a7 78deg,#1e18a6 81deg,#1e18a5 84deg,#1e18a3 87deg,#1f18a2 90deg,#1e18a3 93deg,#1e18a5 96deg,#1e18a6 99deg,#1e18a7 102deg,#1e17a8 105deg,#1e17aa 108deg,#1e17ab 111deg,#1d17ac 114deg,#1d17ad 117deg,#1d17ae 120deg,#1e1ab2 123deg,#2022bd 126deg,#232ccc 129deg,#2638dd 132deg,#2453e1 135deg,#2272e5 138deg,#1f96ea 141deg,#1cbbef 144deg,#27dde3 147deg,#54e9af 150deg,#81f281 153deg,#b5f257 156deg,#ddf236 159deg,#faf11e 162deg,#fbe11c 165deg,#fbd51a 168deg,#fccd19 171deg,#fcc818 174deg,#fcc417 177deg,#fcc117 180deg,#fcc417 183deg,#fcc818 186deg,#fccd19 189deg,#fbd51a 192deg,#fbe11c 195deg,#faf11e 198deg,#ddf236 201deg,#b5f257 204deg,#81f281 207deg,#54e9af 210deg,#27dde3 213deg,#1cbbef 216deg,#1f96ea 219deg,#2272e5 222deg,#2453e1 225deg,#2638dd 228deg,#232ccc 231deg,#2022bd 234deg,#1e1ab2 237deg,#1d17ae 240deg,#1d17ad 243deg,#1d17ac 246deg,#1e17ab 249deg,#1e17aa 252deg,#1e17a8 255deg,#1e18a7 258deg,#1e18a6 261deg,#1e18a5 264deg,#1e18a3 267deg,#1f18a2 270deg,#1e18a3 273deg,#1e18a5 276deg,#1e18a6 279deg,#1e18a7 282deg,#1e17a8 285deg,#1e17aa 288deg,#1e17ab 291deg,#1d17ac 294deg,#1d17ad 297deg,#1d17ae 300deg,#1e1ab2 303deg,#2022bd 306deg,#232ccc 309deg,#2638dd 312deg,#2453e1 315deg,#2272e5 318deg,#1f96ea 321deg,#1cbbef 324deg,#27dde3 327deg,#54e9af 330deg,#81f281 333deg,#b5f257 336deg,#ddf236 339deg,#faf11e 342deg,#fbe11c 345deg,#fbd51a 348deg,#fccd19 351deg,#fcc818 354deg,#fcc417 357deg,#fcc117 360deg)"></div>
<div class="disc" style="left:623.16px;top:50.46px;width:287.68px;height:287.68px;background:conic-gradient(#fcb816 0deg,#fcba16 3deg,#fcbe16 6deg,#fcc317 9deg,#fccb18 12deg,#fbd61a 15deg,#fae71d 18deg,#eaf22c 21deg,#c0f24d 24deg,#8af279 27deg,#58ebab 30deg,#29dde1 33deg,#1cbdef 36deg,#1f97ea 39deg,#2273e5 42deg,#2453e1 45deg,#2638de 48deg,#232ccc 51deg,#2022be 54deg,#1e1ab2 57deg,#1d17ae 60deg,#1d17ad 63deg,#1d17ac 66deg,#1e17ab 69deg,#1e17aa 72deg,#1e17a8 75deg,#1e18a7 78deg,#1e18a6 81deg,#1e18a5 84deg,#1e18a3 87deg,#1f18a2 90deg,#1e18a3 93deg,#1e18a5 96deg,#1e18a6 99deg,#1e18a7 102deg,#1e17a8 105deg,#1e17aa 108deg,#1e17ab 111deg,#1d17ac 114deg,#1d17ad 117deg,#1d17ae 120deg,#1e1ab2 123deg,#2022be 126deg,#232ccc 129deg,#2638de 132deg,#2453e1 135deg,#2273e5 138deg,#1f97ea 141deg,#1cbdef 144deg,#29dde1 147deg,#58ebab 150deg,#8af279 153deg,#c0f24d 156deg,#eaf22c 159deg,#fae71d 162deg,#fbd61a 165deg,#fccb18 168deg,#fcc317 171deg,#fcbe16 174deg,#fcba16 177deg,#fcb816 180deg,#fcba16 183deg,#fcbe16 186deg,#fcc317 189deg,#fccb18 192deg,#fbd61a 195deg,#fae71d 198deg,#eaf22c 201deg,#c0f24d 204deg,#8af279 207deg,#58ebab 210deg,#29dde1 213deg,#1cbdef 216deg,#1f97ea 219deg,#2273e5 222deg,#2453e1 225deg,#2638de 228deg,#232ccc 231deg,#2022be 234deg,#1e1ab2 237deg,#1d17ae 240deg,#1d17ad 243deg,#1d17ac 246deg,#1e17ab 249deg,#1e17aa 252deg,#1e17a8 255deg,#1e18a7 258deg,#1e18a6 261deg,#1e18a5 264deg,#1e18a3 267deg,#1f18a2 270deg,#1e18a3 273deg,#1e18a5 276deg,#1e18a6 279deg,#1e18a7 282deg,#1e17a8 285deg,#1e17aa 288deg,#1e17ab 291deg,#1d17ac 294deg,#1d17ad 297deg,#1d17ae 300deg,#1e1ab2 303deg,#2022be 306deg,#232ccc 309deg,#2638de 312deg,#2453e1 315deg,#2273e5 318deg,#1f97ea 321deg,#1cbdef 324deg,#29dde1 327deg,#58ebab 330deg,#8af279 333deg,#c0f24d 336deg,#eaf22c 339deg,#fae71d 342deg,#fbd61a 345deg,#fccb18 348deg,#fcc317 351deg,#fcbe16 354deg,#fcba16 357deg,#fcb816 360deg)"></div>
<div class="disc" style="left:625.64px;top:52.94px;width:282.72px;height:282.72px;background:conic-gradient(#fdae14 0deg,#fdb014 3deg,#fdb415 6deg,#fcb916 9deg,#fcc017 12deg,#fccc19 15deg,#fbdd1b 18deg,#f6f221 21deg,#ccf244 24deg,#94f272 27deg,#5ceca6 30deg,#2adedf 33deg,#1cbfef 36deg,#1f98ea 39deg,#2174e5 42deg,#2454e1 45deg,#2639de 48deg,#232ccc 51deg,#2022be 54deg,#1e1bb3 57deg,#1d17ae 60deg,#1d17ad 63deg,#1d17ac 66deg,#1e17ab 69deg,#1e17aa 72deg,#1e17a8 75deg,#1e18a7 78deg,#1e18a6 81deg,#1e18a5 84deg,#1e18a3 87deg,#1f18a2 90deg,#1e18a3 93deg,#1e18a5 96deg,#1e18a6 99deg,#1e18a7 102deg,#1e17a8 105deg,#1e17aa 108deg,#1e17ab 111deg,#1d17ac 114deg,#1d17ad 117deg,#1d17ae 120deg,#1e1bb3 123deg,#2022be 126deg,#232ccc 129deg,#2639de 132deg,#2454e1 135deg,#2174e5 138deg,#1f98ea 141deg,#1cbfef 144deg,#2adedf 147deg,#5ceca6 150deg,#94f272 153deg,#ccf244 156deg,#f6f221 159deg,#fbdd1b 162deg,#fccc19 165deg,#fcc017 168deg,#fcb916 171deg,#fdb415 174deg,#fdb014 177deg,#fdae14 180deg,#fdb014 183deg,#fdb415 186deg,#fcb916 189deg,#fcc017 192deg,#fccc19 195deg,#fbdd1b 198deg,#f6f221 201deg,#ccf244 204deg,#94f272 207deg,#5ceca6 210deg,#2adedf 213deg,#1cbfef 216deg,#1f98ea 219deg,#2174e5 222deg,#2454e1 225deg,#2639de 228deg,#232ccc 231deg,#2022be 234deg,#1e1bb3 237deg,#1d17ae 240deg,#1d17ad 243deg,#1d17ac 246deg,#1e17ab 249deg,#1e17aa 252deg,#1e17a8 255deg,#1e18a7 258deg,#1e18a6 261deg,#1e18a5 264deg,#1e18a3 267deg,#1f18a2 270deg,#1e18a3 273deg,#1e18a5 276deg,#1e18a6 279deg,#1e18a7 282deg,#1e17a8 285deg,#1e17aa 288deg,#1e17ab 291deg,#1d17ac 294deg,#1d17ad 297deg,#1d17ae 300deg,#1e1bb3 303deg,#2022be 306deg,#232ccc 309deg,#2639de 312deg,#2454e1 315deg,#2174e5 318deg,#1f98ea 321deg,#1cbfef 324deg,#2adedf 327deg,#5ceca6 330deg,#94f272 333deg,#ccf244 336deg,#f6f221 339deg,#fbdd1b 342deg,#fccc19 345deg,#fcc017 348deg,#fcb916 351deg,#fdb415 354deg,#fdb014 357deg,#fdae14 360deg)"></div>
<div class="disc" style="left:628.12px;top:55.42px;width:277.76px;height:277.76px;background:conic-gradient(#fda513 0deg,#fda713 3deg,#fdaa13 6deg,#fdae14 9deg,#fdb615 12deg,#fcc117 15deg,#fbd21a 18deg,#faeb1d 21deg,#d8f23a 24deg,#9df26a 27deg,#60eda2 30deg,#2cdede 33deg,#1bc0ef 36deg,#1f99ea 39deg,#2175e6 42deg,#2454e1 45deg,#2639de 48deg,#232ccd 51deg,#2022be 54deg,#1e1bb3 57deg,#1d17ae 60deg,#1d17ad 63deg,#1d17ac 66deg,#1e17ab 69deg,#1e17aa 72deg,#1e17a8 75deg,#1e18a7 78deg,#1e18a6 81deg,#1e18a5 84deg,#1e18a3 87deg,#1f18a2 90deg,#1e18a3 93deg,#1e18a5 96deg,#1e18a6 99deg,#1e18a7 102deg,#1e17a8 105deg,#1e17aa 108deg,#1e17ab 111deg,#1d17ac 114deg,#1d17ad 117deg,#1d17ae 120deg,#1e1bb3 123deg,#2022be 126deg,#232ccd 129deg,#2639de 132deg,#2454e1 135deg,#2175e6 138deg,#1f99ea 141deg,#1bc0ef 144deg,#2cdede 147deg,#60eda2 150deg,#9df26a 153deg,#d8f23a 156deg,#faeb1d 159deg,#fbd21a 162deg,#fcc117 165deg,#fdb615 168deg,#fdae14 171deg,#fdaa13 174deg,#fda713 177deg,#fda513 180deg,#fda713 183deg,#fdaa13 186deg,#fdae14 189deg,#fdb615 192deg,#fcc117 195deg,#fbd21a 198deg,#faeb1d 201deg,#d8f23a 204deg,#9df26a 207deg,#60eda2 210deg,#2cdede 213deg,#1bc0ef 216deg,#1f99ea 219deg,#2175e6 222deg,#2454e1 225deg,#2639de 228deg,#232ccd 231deg,#2022be 234deg,#1e1bb3 237deg,#1d17ae 240deg,#1d17ad 243deg,#1d17ac 246deg,#1e17ab 249deg,#1e17aa 252deg,#1e17a8 255deg,#1e18a7 258deg,#1e18a6 261deg,#1e18a5 264deg,#1e18a3 267deg,#1f18a2 270deg,#1e18a3 273deg,#1e18a5 276deg,#1e18a6 279deg,#1e18a7 282deg,#1e17a8 285deg,#1e17aa 288deg,#1e17ab 291deg,#1d17ac 294deg,#1d17ad 297deg,#1d17ae 300deg,#1e1bb3 303deg,#2022be 306deg,#232ccd 309deg,#2639de 312deg,#2454e1 315deg,#2175e6 318deg,#1f99ea 321deg,#1bc0ef 324deg,#2cdede 327deg,#60eda2 330deg,#9df26a 333deg,#d8f23a 336deg,#faeb1d 339deg,#fbd21a 342deg,#fcc117 345deg,#fdb615 348deg,#fdae14 351deg,#fdaa13 354deg,#fda713 357deg,#fda513 360deg)"></div>
<div class="disc" style="left:630.60px;top:57.90px;width:272.80px;height:272.80px;background:conic-gradient(#fe9b11 0deg,#fe9d11 3deg,#fea012 6deg,#fda412 9deg,#fdab14 12deg,#fdb615 15deg,#fcc718 18deg,#fbe01c 21deg,#e4f231 24deg,#a7f262 27deg,#64ee9e 30deg,#2ddedc 33deg,#1bc1ef 36deg,#1f9aea 39deg,#2175e6 42deg,#2454e1 45deg,#2639de 48deg,#232ccc 51deg,#2022be 54deg,#1e1ab2 57deg,#1d17ae 60deg,#1d17ad 63deg,#1d17ac 66deg,#1e17ab 69deg,#1e17aa 72deg,#1e17a8 75deg,#1e18a7 78deg,#1e18a6 81deg,#1e18a5 84deg,#1e18a3 87deg,#1f18a2 90deg,#1e18a3 93deg,#1e18a5 96deg,#1e18a6 99deg,#1e18a7 102deg,#1e17a8 105deg,#1e17aa 108deg,#1e17ab 111deg,#1d17ac 114deg,#1d17ad 117deg,#1d17ae 120deg,#1e1ab2 123deg,#2022be 126deg,#232ccc 129deg,#2639de 132deg,#2454e1 135deg,#2175e6 138deg,#1f9aea 141deg,#1bc1ef 144deg,#2ddedc 147deg,#64ee9e 150deg,#a7f262 153deg,#e4f231 156deg,#fbe01c 159deg,#fcc718 162deg,#fdb615 165deg,#fdab14 168deg,#fda412 171deg,#fea012 174deg,#fe9d11 177deg,#fe9b11 180deg,#fe9d11 183deg,#fea012 186deg,#fda412 189deg,#fdab14 192deg,#fdb615 195deg,#fcc718 198deg,#fbe01c 201deg,#e4f231 204deg,#a7f262 207deg,#64ee9e 210deg,#2ddedc 213deg,#1bc1ef 216deg,#1f9aea 219deg,#2175e6 222deg,#2454e1 225deg,#2639de 228deg,#232ccc 231deg,#2022be 234deg,#1e1ab2 237deg,#1d17ae 240deg,#1d17ad 243deg,#1d17ac 246deg,#1e17ab 249deg,#1e17aa 252deg,#1e17a8 255deg,#1e18a7 258deg,#1e18a6 261deg,#1e18a5 264deg,#1e18a3 267deg,#1f18a2 270deg,#1e18a3 273deg,#1e18a5 276deg,#1e18a6 279deg,#1e18a7 282deg,#1e17a8 285deg,#1e17aa 288deg,#1e17ab 291deg,#1d17ac 294deg,#1d17ad 297deg,#1d17ae 300deg,#1e1ab2 303deg,#2022be 306deg,#232ccc 309deg,#2639de 312deg,#2454e1 315deg,#2175e6 318deg,#1f9aea 321deg,#1bc1ef 324deg,#2ddedc 327deg,#64ee9e 330deg,#a7f262 333deg,#e4f231 336deg,#fbe01c 339deg,#fcc718 342deg,#fdb615 345deg,#fdab14 348deg,#fda412 351deg,#fea012 354deg,#fe9d11 357deg,#fe9b11 360deg)"></div>
<div class="disc" style="left:633.08px;top:60.38px;width:267.84px;height:267.84px;background:conic-gradient(#fe9110 0deg,#fe9310 3deg,#fe9610 6deg,#fe9a11 9deg,#fea012 12deg,#fdab14 15deg,#fcbc16 18deg,#fbd51a 21deg,#f1f226 24deg,#b1f25a 27deg,#67ef99 30deg,#2ddedc 33deg,#1bc2ef 36deg,#1e9aea 39deg,#2175e6 42deg,#2454e1 45deg,#2638de 48deg,#232ccc 51deg,#2022bd 54deg,#1e1ab2 57deg,#1d17ae 60deg,#1d17ad 63deg,#1d17ac 66deg,#1e17ab 69deg,#1e17aa 72deg,#1e17a8 75deg,#1e18a7 78deg,#1e18a6 81deg,#1e18a5 84deg,#1e18a3 87deg,#1f18a2 90deg,#1e18a3 93deg,#1e18a5 96deg,#1e18a6 99deg,#1e18a7 102deg,#1e17a8 105deg,#1e17aa 108deg,#1e17ab 111deg,#1d17ac 114deg,#1d17ad 117deg,#1d17ae 120deg,#1e1ab2 123deg,#2022bd 126deg,#232ccc 129deg,#2638de 132deg,#2454e1 135deg,#2175e6 138deg,#1e9aea 141deg,#1bc2ef 144deg,#2ddedc 147deg,#67ef99 150deg,#b1f25a 153deg,#f1f226 156deg,#fbd51a 159deg,#fcbc16 162deg,#fdab14 165deg,#fea012 168deg,#fe9a11 171deg,#fe9610 174deg,#fe9310 177deg,#fe9110 180deg,#fe9310 183deg,#fe9610 186deg,#fe9a11 189deg,#fea012 192deg,#fdab14 195deg,#fcbc16 198deg,#fbd51a 201deg,#f1f226 204deg,#b1f25a 207deg,#67ef99 210deg,#2ddedc 213deg,#1bc2ef 216deg,#1e9aea 219deg,#2175e6 222deg,#2454e1 225deg,#2638de 228deg,#232ccc 231deg,#2022bd 234deg,#1e1ab2 237deg,#1d17ae 240deg,#1d17ad 243deg,#1d17ac 246deg,#1e17ab 249deg,#1e17aa 252deg,#1e17a8 255deg,#1e18a7 258deg,#1e18a6 261deg,#1e18a5 264deg,#1e18a3 267deg,#1f18a2 270deg,#1e18a3 273deg,#1e18a5 276deg,#1e18a6 279deg,#1e18a7 282deg,#1e17a8 285deg,#1e17aa 288deg,#1e17ab 291deg,#1d17ac 294deg,#1d17ad 297deg,#1d17ae 300deg,#1e1ab2 303deg,#2022bd 306deg,#232ccc 309deg,#2638de 312deg,#2454e1 315deg,#2175e6 318deg,#1e9aea 321deg,#1bc2ef 324deg,#2ddedc 327deg,#67ef99 330deg,#b1f25a 333deg,#f1f226 336deg,#fbd51a 339deg,#fcbc16 342deg,#fdab14 345deg,#fea012 348deg,#fe9a11 351deg,#fe9610 354deg,#fe9310 357deg,#fe9110 360deg)"></div>
<div class="disc" style="left:635.56px;top:62.86px;width:262.88px;height:262.88px;background:conic-gradient(#ff880e 0deg,#ff890e 3deg,#fe8b0f 6deg,#fe8f0f 9deg,#fe9610 12deg,#fea012 15deg,#fdb014 18deg,#fcca18 21deg,#faef1e 24deg,#bcf251 27deg,#6bf095 30deg,#2edfdb 33deg,#1bc3f0 36deg,#1e9aea 39deg,#2174e6 42deg,#2453e1 45deg,#2638dd 48deg,#232bcb 51deg,#2021bd 54deg,#1e1ab1 57deg,#1d17ae 60deg,#1d17ad 63deg,#1d17ac 66deg,#1e17ab 69deg,#1e17aa 72deg,#1e17a8 75deg,#1e18a7 78deg,#1e18a6 81deg,#1e18a5 84deg,#1e18a3 87deg,#1f18a2 90deg,#1e18a3 93deg,#1e18a5 96deg,#1e18a6 99deg,#1e18a7 102deg,#1e17a8 105deg,#1e17aa 108deg,#1e17ab 111deg,#1d17ac 114deg,#1d17ad 117deg,#1d17ae 120deg,#1e1ab1 123deg,#2021bd 126deg,#232bcb 129deg,#2638dd 132deg,#2453e1 135deg,#2174e6 138deg,#1e9aea 141deg,#1bc3f0 144deg,#2edfdb 147deg,#6bf095 150deg,#bcf251 153deg,#faef1e 156deg,#fcca18 159deg,#fdb014 162deg,#fea012 165deg,#fe9610 168deg,#fe8f0f 171deg,#fe8b0f 174deg,#ff890e 177deg,#ff880e 180deg,#ff890e 183deg,#fe8b0f 186deg,#fe8f0f 189deg,#fe9610 192deg,#fea012 195deg,#fdb014 198deg,#fcca18 201deg,#faef1e 204deg,#bcf251 207deg,#6bf095 210deg,#2edfdb 213deg,#1bc3f0 216deg,#1e9aea 219deg,#2174e6 222deg,#2453e1 225deg,#2638dd 228deg,#232bcb 231deg,#2021bd 234deg,#1e1ab1 237deg,#1d17ae 240deg,#1d17ad 243deg,#1d17ac 246deg,#1e17ab 249deg,#1e17aa 252deg,#1e17a8 255deg,#1e18a7 258deg,#1e18a6 261deg,#1e18a5 264deg,#1e18a3 267deg,#1f18a2 270deg,#1e18a3 273deg,#1e18a5 276deg,#1e18a6 279deg,#1e18a7 282deg,#1e17a8 285deg,#1e17aa 288deg,#1e17ab 291deg,#1d17ac 294deg,#1d17ad 297deg,#1d17ae 300deg,#1e1ab1 303deg,#2021bd 306deg,#232bcb 309deg,#2638dd 312deg,#2453e1 315deg,#2174e6 318deg,#1e9aea 321deg,#1bc3f0 324deg,#2edfdb 327deg,#6bf095 330deg,#bcf251 333deg,#faef1e 336deg,#fcca18 339deg,#fdb014 342deg,#fea012 345deg,#fe9610 348deg,#fe8f0f 351deg,#fe8b0f 354deg,#ff890e 357deg,#ff880e 360deg)"></div>
<div class="disc" style="left:638.04px;top:65.34px;width:257.92px;height:257.92px;background:conic-gradient(#ff7e0d 0deg,#ff7f0d 3deg,#ff810d 6deg,#ff850e 9deg,#ff8b0e 12deg,#fe9410 15deg,#fda412 18deg,#fcbe16 21deg,#fbe41c 24deg,#c7f248 27deg,#6ff190 30deg,#2edfdb 33deg,#1bc4f0 36deg,#1e9aea 39deg,#2274e5 42deg,#2452e1 45deg,#2637dc 48deg,#232bca 51deg,#2021bc 54deg,#1e19b0 57deg,#1d17ae 60deg,#1d17ad 63deg,#1d17ac 66deg,#1e17ab 69deg,#1e17aa 72deg,#1e17a8 75deg,#1e18a7 78deg,#1e18a6 81deg,#1e18a5 84deg,#1e18a3 87deg,#1f18a2 90deg,#1e18a3 93deg,#1e18a5 96deg,#1e18a6 99deg,#1e18a7 102deg,#1e17a8 105deg,#1e17aa 108deg,#1e17ab 111deg,#1d17ac 114deg,#1d17ad 117deg,#1d17ae 120deg,#1e19b0 123deg,#2021bc 126deg,#232bca 129deg,#2637dc 132deg,#2452e1 135deg,#2274e5 138deg,#1e9aea 141deg,#1bc4f0 144deg,#2edfdb 147deg,#6ff190 150deg,#c7f248 153deg,#fbe41c 156deg,#fcbe16 159deg,#fda412 162deg,#fe9410 165deg,#ff8b0e 168deg,#ff850e 171deg,#ff810d 174deg,#ff7f0d 177deg,#ff7e0d 180deg,#ff7f0d 183deg,#ff810d 186deg,#ff850e 189deg,#ff8b0e 192deg,#fe9410 195deg,#fda412 198deg,#fcbe16 201deg,#fbe41c 204deg,#c7f248 207deg,#6ff190 210deg,#2edfdb 213deg,#1bc4f0 216deg,#1e9aea 219deg,#2274e5 222deg,#2452e1 225deg,#2637dc 228deg,#232bca 231deg,#2021bc 234deg,#1e19b0 237deg,#1d17ae 240deg,#1d17ad 243deg,#1d17ac 246deg,#1e17ab 249deg,#1e17aa 252deg,#1e17a8 255deg,#1e18a7 258deg,#1e18a6 261deg,#1e18a5 264deg,#1e18a3 267deg,#1f18a2 270deg,#1e18a3 273deg,#1e18a5 276deg,#1e18a6 279deg,#1e18a7 282deg,#1e17a8 285deg,#1e17aa 288deg,#1e17ab 291deg,#1d17ac 294deg,#1d17ad 297deg,#1d17ae 300deg,#1e19b0 303deg,#2021bc 306deg,#232bca 309deg,#2637dc 312deg,#2452e1 315deg,#2274e5 318deg,#1e9aea 321deg,#1bc4f0 324deg,#2edfdb 327deg,#6ff190 330deg,#c7f248 333deg,#fbe41c 336deg,#fcbe16 339deg,#fda412 342deg,#fe9410 345deg,#ff8b0e 348deg,#ff850e 351deg,#ff810d 354deg,#ff7f0d 357deg,#ff7e0d 360deg)"></div>
<div class="disc" style="left:640.52px;top:67.82px;width:252.96px;height:252.96px;background:conic-gradient(#fc730e 0deg,#fd740e 3deg,#fd760d 6deg,#fe7a0d 9deg,#ff800d 12deg,#ff890e 15deg,#fe9811 18deg,#fdb114 21deg,#fbd81b 24deg,#d2f23f 27deg,#73f28c 30deg,#2fdfda 33deg,#1bc4f0 36deg,#1f99ea 39deg,#2272e5 42deg,#2450e1 45deg,#2636db 48deg,#222ac9 51deg,#2020ba 54deg,#1e18af 57deg,#1d17ae 60deg,#1d17ad 63deg,#1d17ac 66deg,#1e17ab 69deg,#1e17aa 72deg,#1e17a8 75deg,#1e18a7 78deg,#1e18a6 81deg,#1e18a5 84deg,#1e18a3 87deg,#1f18a2 90deg,#1e18a3 93deg,#1e18a5 96deg,#1e18a6 99deg,#1e18a7 102deg,#1e17a8 105deg,#1e17aa 108deg,#1e17ab 111deg,#1d17ac 114deg,#1d17ad 117deg,#1d17ae 120deg,#1e18af 123deg,#2020ba 126deg,#222ac9 129deg,#2636db 132deg,#2450e1 135deg,#2272e5 138deg,#1f99ea 141deg,#1bc4f0 144deg,#2fdfda 147deg,#73f28c 150deg,#d2f23f 153deg,#fbd81b 156deg,#fdb114 159deg,#fe9811 162deg,#ff890e 165deg,#ff800d 168deg,#fe7a0d 171deg,#fd760d 174deg,#fd740e 177deg,#fc730e 180deg,#fd740e 183deg,#fd760d 186deg,#fe7a0d 189deg,#ff800d 192deg,#ff890e 195deg,#fe9811 198deg,#fdb114 201deg,#fbd81b 204deg,#d2f23f 207deg,#73f28c 210deg,#2fdfda 213deg,#1bc4f0 216deg,#1f99ea 219deg,#2272e5 222deg,#2450e1 225deg,#2636db 228deg,#222ac9 231deg,#2020ba 234deg,#1e18af 237deg,#1d17ae 240deg,#1d17ad 243deg,#1d17ac 246deg,#1e17ab 249deg,#1e17aa 252deg,#1e17a8 255deg,#1e18a7 258deg,#1e18a6 261deg,#1e18a5 264deg,#1e18a3 267deg,#1f18a2 270deg,#1e18a3 273deg,#1e18a5 276deg,#1e18a6 279deg,#1e18a7 282deg,#1e17a8 285deg,#1e17aa 288deg,#1e17ab 291deg,#1d17ac 294deg,#1d17ad 297deg,#1d17ae 300deg,#1e18af 303deg,#2020ba 306deg,#222ac9 309deg,#2636db 312deg,#2450e1 315deg,#2272e5 318deg,#1f99ea 321deg,#1bc4f0 324deg,#2fdfda 327deg,#73f28c 330deg,#d2f23f 333deg,#fbd81b 336deg,#fdb114 339deg,#fe9811 342deg,#ff890e 345deg,#ff800d 348deg,#fe7a0d 351deg,#fd760d 354deg,#fd740e 357deg,#fc730e 360deg)"></div>
<div class="disc" style="left:643.00px;top:70.30px;width:248.00px;height:248.00px;background:conic-gradient(#fa680f 0deg,#fa690e 3deg,#fb6a0e 6deg,#fb6d0e 9deg,#fc730e 12deg,#fe7c0d 15deg,#fe8b0f 18deg,#fda412 21deg,#fccc19 24deg,#dff234 27deg,#7af287 30deg,#30dfd8 33deg,#1bc4f0 36deg,#1f98ea 39deg,#2270e5 42deg,#254ee1 45deg,#2534d8 48deg,#2228c7 51deg,#1f1eb8 54deg,#1e18ae 57deg,#1d17ae 60deg,#1d17ad 63deg,#1d17ac 66deg,#1e17ab 69deg,#1e17aa 72deg,#1e17a8 75deg,#1e18a7 78deg,#1e18a6 81deg,#1e18a5 84deg,#1e18a3 87deg,#1f18a2 90deg,#1e18a3 93deg,#1e18a5 96deg,#1e18a6 99deg,#1e18a7 102deg,#1e17a8 105deg,#1e17aa 108deg,#1e17ab 111deg,#1d17ac 114deg,#1d17ad 117deg,#1d17ae 120deg,#1e18ae 123deg,#1f1eb8 126deg,#2228c7 129deg,#2534d8 132deg,#254ee1 135deg,#2270e5 138deg,#1f98ea 141deg,#1bc4f0 144deg,#30dfd8 147deg,#7af287 150deg,#dff234 153deg,#fccc19 156deg,#fda412 159deg,#fe8b0f 162deg,#fe7c0d 165deg,#fc730e 168deg,#fb6d0e 171deg,#fb6a0e 174deg,#fa690e 177deg,#fa680f 180deg,#fa690e 183deg,#fb6a0e 186deg,#fb6d0e 189deg,#fc730e 192deg,#fe7c0d 195deg,#fe8b0f 198deg,#fda412 201deg,#fccc19 204deg,#dff234 207deg,#7af287 210deg,#30dfd8 213deg,#1bc4f0 216deg,#1f98ea 219deg,#2270e5 222deg,#254ee1 225deg,#2534d8 228deg,#2228c7 231deg,#1f1eb8 234deg,#1e18ae 237deg,#1d17ae 240deg,#1d17ad 243deg,#1d17ac 246deg,#1e17ab 249deg,#1e17aa 252deg,#1e17a8 255deg,#1e18a7 258deg,#1e18a6 261deg,#1e18a5 264deg,#1e18a3 267deg,#1f18a2 270deg,#1e18a3 273deg,#1e18a5 276deg,#1e18a6 279deg,#1e18a7 282deg,#1e17a8 285deg,#1e17aa 288deg,#1e17ab 291deg,#1d17ac 294deg,#1d17ad 297deg,#1d17ae 300deg,#1e18ae 303deg,#1f1eb8 306deg,#2228c7 309deg,#2534d8 312deg,#254ee1 315deg,#2270e5 318deg,#1f98ea 321deg,#1bc4f0 324deg,#30dfd8 327deg,#7af287 330deg,#dff234 333deg,#fccc19 336deg,#fda412 339deg,#fe8b0f 342deg,#fe7c0d 345deg,#fc730e 348deg,#fb6d0e 351deg,#fb6a0e 354deg,#fa690e 357deg,#fa680f 360deg)"></div>
<div class="disc" style="left:645.48px;top:72.78px;width:243.04px;height:243.04px;background:conic-gradient(#f65010 0deg,#f65110 3deg,#f65210 6deg,#f65510 9deg,#f75a10 12deg,#f9620f 15deg,#fc720e 18deg,#fe8c0f 21deg,#fdb515 24deg,#f8f221 27deg,#89f27b 30deg,#35e1d3 33deg,#1bc7f0 36deg,#1f99ea 39deg,#226fe5 42deg,#254ce0 45deg,#2533d7 48deg,#2227c5 51deg,#1f1db7 54deg,#1e17ab 57deg,#1f189e 60deg,#1f189d 63deg,#1f199c 66deg,#1f199a 69deg,#201999 72deg,#201998 75deg,#201997 78deg,#201996 81deg,#201994 84deg,#201993 87deg,#201992 90deg,#201993 93deg,#201994 96deg,#201996 99deg,#201997 102deg,#201998 105deg,#201999 108deg,#1f199a 111deg,#1f199c 114deg,#1f189d 117deg,#1f189e 120deg,#1e17ab 123deg,#1f1db7 126deg,#2227c5 129deg,#2533d7 132deg,#254ce0 135deg,#226fe5 138deg,#1f99ea 141deg,#1bc7f0 144deg,#35e1d3 147deg,#89f27b 150deg,#f8f221 153deg,#fdb515 156deg,#fe8c0f 159deg,#fc720e 162deg,#f9620f 165deg,#f75a10 168deg,#f65510 171deg,#f65210 174deg,#f65110 177deg,#f65010 180deg,#f65110 183deg,#f65210 186deg,#f65510 189deg,#f75a10 192deg,#f9620f 195deg,#fc720e 198deg,#fe8c0f 201deg,#fdb515 204deg,#f8f221 207deg,#89f27b 210deg,#35e1d3 213deg,#1bc7f0 216deg,#1f99ea 219deg,#226fe5 222deg,#254ce0 225deg,#2533d7 228deg,#2227c5 231deg,#1f1db7 234deg,#1e17ab 237deg,#1f189e 240deg,#1f189d 243deg,#1f199c 246deg,#1f199a 249deg,#201999 252deg,#201998 255deg,#201997 258deg,#201996 261deg,#201994 264deg,#201993 267deg,#201992 270deg,#201993 273deg,#201994 276deg,#201996 279deg,#201997 282deg,#201998 285deg,#201999 288deg,#1f199a 291deg,#1f199c 294deg,#1f189d 297deg,#1f189e 300deg,#1e17ab 303deg,#1f1db7 306deg,#2227c5 309deg,#2533d7 312deg,#254ce0 315deg,#226fe5 318deg,#1f99ea 321deg,#1bc7f0 324deg,#35e1d3 327deg,#89f27b 330deg,#f8f221 333deg,#fdb515 336deg,#fe8c0f 339deg,#fc720e 342deg,#f9620f 345deg,#f75a10 348deg,#f65510 351deg,#f65210 354deg,#f65110 357deg,#f65010 360deg)"></div>
<div class="disc" style="left:647.96px;top:75.26px;width:238.08px;height:238.08px;background:conic-gradient(#f13b12 0deg,#f13c12 3deg,#f23c12 6deg,#f23e12 9deg,#f34211 12deg,#f44911 15deg,#f75810 18deg,#fc720e 21deg,#fe9d11 24deg,#fbe01c 27deg,#97f26f 30deg,#39e2ce 33deg,#1bc9f0 36deg,#1f98ea 39deg,#226ce4 42deg,#2548e0 45deg,#2431d3 48deg,#2125c1 51deg,#1e1bb4 54deg,#1e18a6 57deg,#1f189e 60deg,#1f189d 63deg,#1f199c 66deg,#1f199a 69deg,#201999 72deg,#201998 75deg,#201997 78deg,#201996 81deg,#201994 84deg,#201993 87deg,#201992 90deg,#201993 93deg,#201994 96deg,#201996 99deg,#201997 102deg,#201998 105deg,#201999 108deg,#1f199a 111deg,#1f199c 114deg,#1f189d 117deg,#1f189e 120deg,#1e18a6 123deg,#1e1bb4 126deg,#2125c1 129deg,#2431d3 132deg,#2548e0 135deg,#226ce4 138deg,#1f98ea 141deg,#1bc9f0 144deg,#39e2ce 147deg,#97f26f 150deg,#fbe01c 153deg,#fe9d11 156deg,#fc720e 159deg,#f75810 162deg,#f44911 165deg,#f34211 168deg,#f23e12 171deg,#f23c12 174deg,#f13c12 177deg,#f13b12 180deg,#f13c12 183deg,#f23c12 186deg,#f23e12 189deg,#f34211 192deg,#f44911 195deg,#f75810 198deg,#fc720e 201deg,#fe9d11 204deg,#fbe01c 207deg,#97f26f 210deg,#39e2ce 213deg,#1bc9f0 216deg,#1f98ea 219deg,#226ce4 222deg,#2548e0 225deg,#2431d3 228deg,#2125c1 231deg,#1e1bb4 234deg,#1e18a6 237deg,#1f189e 240deg,#1f189d 243deg,#1f199c 246deg,#1f199a 249deg,#201999 252deg,#201998 255deg,#201997 258deg,#201996 261deg,#201994 264deg,#201993 267deg,#201992 270deg,#201993 273deg,#201994 276deg,#201996 279deg,#201997 282deg,#201998 285deg,#201999 288deg,#1f199a 291deg,#1f199c 294deg,#1f189d 297deg,#1f189e 300deg,#1e18a6 303deg,#1e1bb4 306deg,#2125c1 309deg,#2431d3 312deg,#2548e0 315deg,#226ce4 318deg,#1f98ea 321deg,#1bc9f0 324deg,#39e2ce 327deg,#97f26f 330deg,#fbe01c 333deg,#fe9d11 336deg,#fc720e 339deg,#f75810 342deg,#f44911 345deg,#f34211 348deg,#f23e12 351deg,#f23c12 354deg,#f13c12 357deg,#f13b12 360deg)"></div>
<div class="disc" style="left:650.44px;top:77.74px;width:233.12px;height:233.12px;background:conic-gradient(#ed2514 0deg,#ed2514 3deg,#ed2514 6deg,#ed2713 9deg,#ee2913 12deg,#ef2f13 15deg,#f13a12 18deg,#f65210 21deg,#ff800d 24deg,#fcc718 27deg,#a9f260 30deg,#3de3ca 33deg,#1bc8f0 36deg,#1f94ea 39deg,#2367e4 42deg,#2641df 45deg,#232dce 48deg,#2021bc 51deg,#1e18af 54deg,#1f189f 57deg,#1f189e 60deg,#1f189d 63deg,#1f199c 66deg,#1f199a 69deg,#201999 72deg,#201998 75deg,#201997 78deg,#201996 81deg,#201994 84deg,#201993 87deg,#201992 90deg,#201993 93deg,#201994 96deg,#201996 99deg,#201997 102deg,#201998 105deg,#201999 108deg,#1f199a 111deg,#1f199c 114deg,#1f189d 117deg,#1f189e 120deg,#1f189f 123deg,#1e18af 126deg,#2021bc 129deg,#232dce 132deg,#2641df 135deg,#2367e4 138deg,#1f94ea 141deg,#1bc8f0 144deg,#3de3ca 147deg,#a9f260 150deg,#fcc718 153deg,#ff800d 156deg,#f65210 159deg,#f13a12 162deg,#ef2f13 165deg,#ee2913 168deg,#ed2713 171deg,#ed2514 174deg,#ed2514 177deg,#ed2514 180deg,#ed2514 183deg,#ed2514 186deg,#ed2713 189deg,#ee2913 192deg,#ef2f13 195deg,#f13a12 198deg,#f65210 201deg,#ff800d 204deg,#fcc718 207deg,#a9f260 210deg,#3de3ca 213deg,#1bc8f0 216deg,#1f94ea 219deg,#2367e4 222deg,#2641df 225deg,#232dce 228deg,#2021bc 231deg,#1e18af 234deg,#1f189f 237deg,#1f189e 240deg,#1f189d 243deg,#1f199c 246deg,#1f199a 249deg,#201999 252deg,#201998 255deg,#201997 258deg,#201996 261deg,#201994 264deg,#201993 267deg,#201992 270deg,#201993 273deg,#201994 276deg,#201996 279deg,#201997 282deg,#201998 285deg,#201999 288deg,#1f199a 291deg,#1f199c 294deg,#1f189d 297deg,#1f189e 300deg,#1f189f 303deg,#1e18af 306deg,#2021bc 309deg,#232dce 312deg,#2641df 315deg,#2367e4 318deg,#1f94ea 321deg,#1bc8f0 324deg,#3de3ca 327deg,#a9f260 330deg,#fcc718 333deg,#ff800d 336deg,#f65210 339deg,#f13a12 342deg,#ef2f13 345deg,#ee2913 348deg,#ed2713 351deg,#ed2514 354deg,#ed2514 357deg,#ed2514 360deg)"></div>
<div class="disc" style="left:652.92px;top:80.22px;width:228.16px;height:228.16px;background:conic-gradient(#dc1713 0deg,#dc1713 3deg,#dc1713 6deg,#dd1713 9deg,#df1814 12deg,#e31814 15deg,#eb1b14 18deg,#ef2f13 21deg,#f75a10 24deg,#fda713 27deg,#c1f24d 30deg,#42e4c4 33deg,#1bc8f0 36deg,#1f90e9 39deg,#235fe3 42deg,#2639de 45deg,#2229c7 48deg,#1f1db6 51deg,#1e17a7 54deg,#1f189f 57deg,#1f189e 60deg,#1f189d 63deg,#1f199c 66deg,#1f199a 69deg,#201999 72deg,#201998 75deg,#201997 78deg,#201996 81deg,#201994 84deg,#201993 87deg,#201992 90deg,#201993 93deg,#201994 96deg,#201996 99deg,#201997 102deg,#201998 105deg,#201999 108deg,#1f199a 111deg,#1f199c 114deg,#1f189d 117deg,#1f189e 120deg,#1f189f 123deg,#1e17a7 126deg,#1f1db6 129deg,#2229c7 132deg,#2639de 135deg,#235fe3 138deg,#1f90e9 141deg,#1bc8f0 144deg,#42e4c4 147deg,#c1f24d 150deg,#fda713 153deg,#f75a10 156deg,#ef2f13 159deg,#eb1b14 162deg,#e31814 165deg,#df1814 168deg,#dd1713 171deg,#dc1713 174deg,#dc1713 177deg,#dc1713 180deg,#dc1713 183deg,#dc1713 186deg,#dd1713 189deg,#df1814 192deg,#e31814 195deg,#eb1b14 198deg,#ef2f13 201deg,#f75a10 204deg,#fda713 207deg,#c1f24d 210deg,#42e4c4 213deg,#1bc8f0 216deg,#1f90e9 219deg,#235fe3 222deg,#2639de 225deg,#2229c7 228deg,#1f1db6 231deg,#1e17a7 234deg,#1f189f 237deg,#1f189e 240deg,#1f189d 243deg,#1f199c 246deg,#1f199a 249deg,#201999 252deg,#201998 255deg,#201997 258deg,#201996 261deg,#201994 264deg,#201993 267deg,#201992 270deg,#201993 273deg,#201994 276deg,#201996 279deg,#201997 282deg,#201998 285deg,#201999 288deg,#1f199a 291deg,#1f199c 294deg,#1f189d 297deg,#1f189e 300deg,#1f189f 303deg,#1e17a7 306deg,#1f1db6 309deg,#2229c7 312deg,#2639de 315deg,#235fe3 318deg,#1f90e9 321deg,#1bc8f0 324deg,#42e4c4 327deg,#c1f24d 330deg,#fda713 333deg,#f75a10 336deg,#ef2f13 339deg,#eb1b14 342deg,#e31814 345deg,#df1814 348deg,#dd1713 351deg,#dc1713 354deg,#dc1713 357deg,#dc1713 360deg)"></div>
<div class="disc" style="left:655.40px;top:82.70px;width:223.20px;height:223.20px;background:conic-gradient(#bc1211 0deg,#bc1211 3deg,#bd1211 6deg,#bd1211 9deg,#bf1312 12deg,#c31312 15deg,#ce1512 18deg,#e41914 21deg,#f24012 24deg,#fe9410 27deg,#d4f23d 30deg,#4be7ba 33deg,#1ad0f1 36deg,#1f96ea 39deg,#2364e3 42deg,#263cde 45deg,#222ac9 48deg,#1f1eb8 51deg,#1e17a9 54deg,#1f189f 57deg,#1f189e 60deg,#1f189d 63deg,#1f199c 66deg,#1f199a 69deg,#201999 72deg,#201998 75deg,#201997 78deg,#201996 81deg,#201994 84deg,#201993 87deg,#201992 90deg,#201993 93deg,#201994 96deg,#201996 99deg,#201997 102deg,#201998 105deg,#201999 108deg,#1f199a 111deg,#1f199c 114deg,#1f189d 117deg,#1f189e 120deg,#1f189f 123deg,#1e17a9 126deg,#1f1eb8 129deg,#222ac9 132deg,#263cde 135deg,#2364e3 138deg,#1f96ea 141deg,#1ad0f1 144deg,#4be7ba 147deg,#d4f23d 150deg,#fe9410 153deg,#f24012 156deg,#e41914 159deg,#ce1512 162deg,#c31312 165deg,#bf1312 168deg,#bd1211 171deg,#bd1211 174deg,#bc1211 177deg,#bc1211 180deg,#bc1211 183deg,#bd1211 186deg,#bd1211 189deg,#bf1312 192deg,#c31312 195deg,#ce1512 198deg,#e41914 201deg,#f24012 204deg,#fe9410 207deg,#d4f23d 210deg,#4be7ba 213deg,#1ad0f1 216deg,#1f96ea 219deg,#2364e3 222deg,#263cde 225deg,#222ac9 228deg,#1f1eb8 231deg,#1e17a9 234deg,#1f189f 237deg,#1f189e 240deg,#1f189d 243deg,#1f199c 246deg,#1f199a 249deg,#201999 252deg,#201998 255deg,#201997 258deg,#201996 261deg,#201994 264deg,#201993 267deg,#201992 270deg,#201993 273deg,#201994 276deg,#201996 279deg,#201997 282deg,#201998 285deg,#201999 288deg,#1f199a 291deg,#1f199c 294deg,#1f189d 297deg,#1f189e 300deg,#1f189f 303deg,#1e17a9 306deg,#1f1eb8 309deg,#222ac9 312deg,#263cde 315deg,#2364e3 318deg,#1f96ea 321deg,#1ad0f1 324deg,#4be7ba 327deg,#d4f23d 330deg,#fe9410 333deg,#f24012 336deg,#e41914 339deg,#ce1512 342deg,#c31312 345deg,#bf1312 348deg,#bd1211 351deg,#bd1211 354deg,#bc1211 357deg,#bc1211 360deg)"></div>
<div class="disc" style="left:657.88px;top:85.18px;width:218.24px;height:218.24px;background:#fff"></div>
<div class="disc" style="left:108.50px;top:526.50px;width:295.99px;height:295.99px;background:conic-gradient(#fcc017 0deg,#fcc217 3deg,#fcc618 6deg,#fccb18 9deg,#fbd21a 12deg,#fbdc1b 15deg,#faea1d 18deg,#eef228 21deg,#d0f241 24deg,#a9f260 27deg,#7af286 30deg,#54eaaf 33deg,#2edfdb 36deg,#1bc6f0 39deg,#1ea4ec 42deg,#2084e7 45deg,#2366e4 48deg,#254ce0 51deg,#2636db 54deg,#232ccc 57deg,#2123bf 60deg,#1f1cb5 63deg,#1d17ae 66deg,#1d17ad 69deg,#1d17ac 72deg,#1e17ab 75deg,#1e17a9 78deg,#1e17a8 81deg,#1e18a7 84deg,#1e18a5 87deg,#1e18a4 90deg,#1e18a5 93deg,#1e18a7 96deg,#1e17a8 99deg,#1e17a9 102deg,#1e17ab 105deg,#1d17ac 108deg,#1d17ad 111deg,#1d17ae 114deg,#1f1cb5 117deg,#2123bf 120deg,#232ccc 123deg,#2636db 126deg,#254ce0 129deg,#2366e4 132deg,#2084e7 135deg,#1ea4ec 138deg,#1bc6f0 141deg,#2edfdb 144deg,#54eaaf 147deg,#7af286 150deg,#a9f260 153deg,#d0f241 156deg,#eef228 159deg,#faea1d 162deg,#fbdc1b 165deg,#fbd21a 168deg,#fccb18 171deg,#fcc618 174deg,#fcc217 177deg,#fcc017 180deg,#fcc217 183deg,#fcc618 186deg,#fccb18 189deg,#fbd21a 192deg,#fbdc1b 195deg,#faea1d 198deg,#eef228 201deg,#d0f241 204deg,#a9f260 207deg,#7af286 210deg,#54eaaf 213deg,#2edfdb 216deg,#1bc6f0 219deg,#1ea4ec 222deg,#2084e7 225deg,#2366e4 228deg,#254ce0 231deg,#2636db 234deg,#232ccc 237deg,#2123bf 240deg,#1f1cb5 243deg,#1d17ae 246deg,#1d17ad 249deg,#1d17ac 252deg,#1e17ab 255deg,#1e17a9 258deg,#1e17a8 261deg,#1e18a7 264deg,#1e18a5 267deg,#1e18a4 270deg,#1e18a5 273deg,#1e18a7 276deg,#1e17a8 279deg,#1e17a9 282deg,#1e17ab 285deg,#1d17ac 288deg,#1d17ad 291deg,#1d17ae 294deg,#1f1cb5 297deg,#2123bf 300deg,#232ccc 303deg,#2636db 306deg,#254ce0 309deg,#2366e4 312deg,#2084e7 315deg,#1ea4ec 318deg,#1bc6f0 321deg,#2edfdb 324deg,#54eaaf 327deg,#7af286 330deg,#a9f260 333deg,#d0f241 336deg,#eef228 339deg,#faea1d 342deg,#fbdc1b 345deg,#fbd21a 348deg,#fccb18 351deg,#fcc618 354deg,#fcc217 357deg,#fcc017 360deg)"></div>
<div class="disc" style="left:110.97px;top:528.97px;width:291.06px;height:291.06px;background:conic-gradient(#fdb515 0deg,#fdb815 3deg,#fcbb16 6deg,#fcc017 9deg,#fcc718 12deg,#fbd119 15deg,#fbdf1c 18deg,#faf11e 21deg,#dcf237 24deg,#b4f258 27deg,#82f280 30deg,#58eaab 33deg,#2fdfda 36deg,#1bc8f0 39deg,#1ea6ec 42deg,#2086e8 45deg,#2268e4 48deg,#254ee1 51deg,#2637dd 54deg,#232dce 57deg,#2124c1 60deg,#1f1db6 63deg,#1d17ae 66deg,#1d17ad 69deg,#1d17ac 72deg,#1e17ab 75deg,#1e17a9 78deg,#1e17a8 81deg,#1e18a7 84deg,#1e18a5 87deg,#1e18a4 90deg,#1e18a5 93deg,#1e18a7 96deg,#1e17a8 99deg,#1e17a9 102deg,#1e17ab 105deg,#1d17ac 108deg,#1d17ad 111deg,#1d17ae 114deg,#1f1db6 117deg,#2124c1 120deg,#232dce 123deg,#2637dd 126deg,#254ee1 129deg,#2268e4 132deg,#2086e8 135deg,#1ea6ec 138deg,#1bc8f0 141deg,#2fdfda 144deg,#58eaab 147deg,#82f280 150deg,#b4f258 153deg,#dcf237 156deg,#faf11e 159deg,#fbdf1c 162deg,#fbd119 165deg,#fcc718 168deg,#fcc017 171deg,#fcbb16 174deg,#fdb815 177deg,#fdb515 180deg,#fdb815 183deg,#fcbb16 186deg,#fcc017 189deg,#fcc718 192deg,#fbd119 195deg,#fbdf1c 198deg,#faf11e 201deg,#dcf237 204deg,#b4f258 207deg,#82f280 210deg,#58eaab 213deg,#2fdfda 216deg,#1bc8f0 219deg,#1ea6ec 222deg,#2086e8 225deg,#2268e4 228deg,#254ee1 231deg,#2637dd 234deg,#232dce 237deg,#2124c1 240deg,#1f1db6 243deg,#1d17ae 246deg,#1d17ad 249deg,#1d17ac 252deg,#1e17ab 255deg,#1e17a9 258deg,#1e17a8 261deg,#1e18a7 264deg,#1e18a5 267deg,#1e18a4 270deg,#1e18a5 273deg,#1e18a7 276deg,#1e17a8 279deg,#1e17a9 282deg,#1e17ab 285deg,#1d17ac 288deg,#1d17ad 291deg,#1d17ae 294deg,#1f1db6 297deg,#2124c1 300deg,#232dce 303deg,#2637dd 306deg,#254ee1 309deg,#2268e4 312deg,#2086e8 315deg,#1ea6ec 318deg,#1bc8f0 321deg,#2fdfda 324deg,#58eaab 327deg,#82f280 330deg,#b4f258 333deg,#dcf237 336deg,#faf11e 339deg,#fbdf1c 342deg,#fbd119 345deg,#fcc718 348deg,#fcc017 351deg,#fcbb16 354deg,#fdb815 357deg,#fdb515 360deg)"></div>
<div class="disc" style="left:113.44px;top:531.44px;width:286.13px;height:286.13px;background:conic-gradient(#fdaa13 0deg,#fdad14 3deg,#fdb014 6deg,#fdb515 9deg,#fcbc16 12deg,#fcc618 15deg,#fbd41a 18deg,#fae71d 21deg,#e8f22d 24deg,#bef24f 27deg,#8af27a 30deg,#5aeba8 33deg,#2fdfd9 36deg,#1bc9f0 39deg,#1da7ec 42deg,#2087e8 45deg,#226ae4 48deg,#2450e1 51deg,#2639de 54deg,#242ecf 57deg,#2125c2 60deg,#1f1eb8 63deg,#1e18af 66deg,#1d17ad 69deg,#1d17ac 72deg,#1e17ab 75deg,#1e17a9 78deg,#1e17a8 81deg,#1e18a7 84deg,#1e18a5 87deg,#1e18a4 90deg,#1e18a5 93deg,#1e18a7 96deg,#1e17a8 99deg,#1e17a9 102deg,#1e17ab 105deg,#1d17ac 108deg,#1d17ad 111deg,#1e18af 114deg,#1f1eb8 117deg,#2125c2 120deg,#242ecf 123deg,#2639de 126deg,#2450e1 129deg,#226ae4 132deg,#2087e8 135deg,#1da7ec 138deg,#1bc9f0 141deg,#2fdfd9 144deg,#5aeba8 147deg,#8af27a 150deg,#bef24f 153deg,#e8f22d 156deg,#fae71d 159deg,#fbd41a 162deg,#fcc618 165deg,#fcbc16 168deg,#fdb515 171deg,#fdb014 174deg,#fdad14 177deg,#fdaa13 180deg,#fdad14 183deg,#fdb014 186deg,#fdb515 189deg,#fcbc16 192deg,#fcc618 195deg,#fbd41a 198deg,#fae71d 201deg,#e8f22d 204deg,#bef24f 207deg,#8af27a 210deg,#5aeba8 213deg,#2fdfd9 216deg,#1bc9f0 219deg,#1da7ec 222deg,#2087e8 225deg,#226ae4 228deg,#2450e1 231deg,#2639de 234deg,#242ecf 237deg,#2125c2 240deg,#1f1eb8 243deg,#1e18af 246deg,#1d17ad 249deg,#1d17ac 252deg,#1e17ab 255deg,#1e17a9 258deg,#1e17a8 261deg,#1e18a7 264deg,#1e18a5 267deg,#1e18a4 270deg,#1e18a5 273deg,#1e18a7 276deg,#1e17a8 279deg,#1e17a9 282deg,#1e17ab 285deg,#1d17ac 288deg,#1d17ad 291deg,#1e18af 294deg,#1f1eb8 297deg,#2125c2 300deg,#242ecf 303deg,#2639de 306deg,#2450e1 309deg,#226ae4 312deg,#2087e8 315deg,#1da7ec 318deg,#1bc9f0 321deg,#2fdfd9 324deg,#5aeba8 327deg,#8af27a 330deg,#bef24f 333deg,#e8f22d 336deg,#fae71d 339deg,#fbd41a 342deg,#fcc618 345deg,#fcbc16 348deg,#fdb515 351deg,#fdb014 354deg,#fdad14 357deg,#fdaa13 360deg)"></div>
<div class="disc" style="left:115.90px;top:533.90px;width:281.19px;height:281.19px;background:conic-gradient(#fea012 0deg,#fda212 3deg,#fda513 6deg,#fdaa13 9deg,#fdb114 12deg,#fcba16 15deg,#fcc818 18deg,#fbdc1b 21deg,#f5f223 24deg,#c9f247 27deg,#91f273 30deg,#5deca5 33deg,#2fdfd9 36deg,#1bcaf0 39deg,#1da8ec 42deg,#2089e8 45deg,#226ce4 48deg,#2451e1 51deg,#263bde 54deg,#242fd0 57deg,#2126c4 60deg,#1f1fb9 63deg,#1e19b0 66deg,#1d17ad 69deg,#1d17ac 72deg,#1e17ab 75deg,#1e17a9 78deg,#1e17a8 81deg,#1e18a7 84deg,#1e18a5 87deg,#1e18a4 90deg,#1e18a5 93deg,#1e18a7 96deg,#1e17a8 99deg,#1e17a9 102deg,#1e17ab 105deg,#1d17ac 108deg,#1d17ad 111deg,#1e19b0 114deg,#1f1fb9 117deg,#2126c4 120deg,#242fd0 123deg,#263bde 126deg,#2451e1 129deg,#226ce4 132deg,#2089e8 135deg,#1da8ec 138deg,#1bcaf0 141deg,#2fdfd9 144deg,#5deca5 147deg,#91f273 150deg,#c9f247 153deg,#f5f223 156deg,#fbdc1b 159deg,#fcc818 162deg,#fcba16 165deg,#fdb114 168deg,#fdaa13 171deg,#fda513 174deg,#fda212 177deg,#fea012 180deg,#fda212 183deg,#fda513 186deg,#fdaa13 189deg,#fdb114 192deg,#fcba16 195deg,#fcc818 198deg,#fbdc1b 201deg,#f5f223 204deg,#c9f247 207deg,#91f273 210deg,#5deca5 213deg,#2fdfd9 216deg,#1bcaf0 219deg,#1da8ec 222deg,#2089e8 225deg,#226ce4 228deg,#2451e1 231deg,#263bde 234deg,#242fd0 237deg,#2126c4 240deg,#1f1fb9 243deg,#1e19b0 246deg,#1d17ad 249deg,#1d17ac 252deg,#1e17ab 255deg,#1e17a9 258deg,#1e17a8 261deg,#1e18a7 264deg,#1e18a5 267deg,#1e18a4 270deg,#1e18a5 273deg,#1e18a7 276deg,#1e17a8 279deg,#1e17a9 282deg,#1e17ab 285deg,#1d17ac 288deg,#1d17ad 291deg,#1e19b0 294deg,#1f1fb9 297deg,#2126c4 300deg,#242fd0 303deg,#263bde 306deg,#2451e1 309deg,#226ce4 312deg,#2089e8 315deg,#1da8ec 318deg,#1bcaf0 321deg,#2fdfd9 324deg,#5deca5 327deg,#91f273 330deg,#c9f247 333deg,#f5f223 336deg,#fbdc1b 339deg,#fcc818 342deg,#fcba16 345deg,#fdb114 348deg,#fdaa13 351deg,#fda513 354deg,#fda212 357deg,#fea012 360deg)"></div>
<div class="disc" style="left:118.37px;top:536.37px;width:276.26px;height:276.26px;background:conic-gradient(#fe9510 0deg,#fe9710 3deg,#fe9a11 6deg,#fe9f12 9deg,#fda513 12deg,#fdaf14 15deg,#fcbd16 18deg,#fbd119 21deg,#faec1e 24deg,#d3f23e 27deg,#99f26d 30deg,#5feda3 33deg,#2fdfda 36deg,#1bcbf0 39deg,#1da9ec 42deg,#208ae8 45deg,#226de5 48deg,#2453e1 51deg,#263cde 54deg,#2430d1 57deg,#2227c5 60deg,#201fba 63deg,#1e19b1 66deg,#1d17ad 69deg,#1d17ac 72deg,#1e17ab 75deg,#1e17a9 78deg,#1e17a8 81deg,#1e18a7 84deg,#1e18a5 87deg,#1e18a4 90deg,#1e18a5 93deg,#1e18a7 96deg,#1e17a8 99deg,#1e17a9 102deg,#1e17ab 105deg,#1d17ac 108deg,#1d17ad 111deg,#1e19b1 114deg,#201fba 117deg,#2227c5 120deg,#2430d1 123deg,#263cde 126deg,#2453e1 129deg,#226de5 132deg,#208ae8 135deg,#1da9ec 138deg,#1bcbf0 141deg,#2fdfda 144deg,#5feda3 147deg,#99f26d 150deg,#d3f23e 153deg,#faec1e 156deg,#fbd119 159deg,#fcbd16 162deg,#fdaf14 165deg,#fda513 168deg,#fe9f12 171deg,#fe9a11 174deg,#fe9710 177deg,#fe9510 180deg,#fe9710 183deg,#fe9a11 186deg,#fe9f12 189deg,#fda513 192deg,#fdaf14 195deg,#fcbd16 198deg,#fbd119 201deg,#faec1e 204deg,#d3f23e 207deg,#99f26d 210deg,#5feda3 213deg,#2fdfda 216deg,#1bcbf0 219deg,#1da9ec 222deg,#208ae8 225deg,#226de5 228deg,#2453e1 231deg,#263cde 234deg,#2430d1 237deg,#2227c5 240deg,#201fba 243deg,#1e19b1 246deg,#1d17ad 249deg,#1d17ac 252deg,#1e17ab 255deg,#1e17a9 258deg,#1e17a8 261deg,#1e18a7 264deg,#1e18a5 267deg,#1e18a4 270deg,#1e18a5 273deg,#1e18a7 276deg,#1e17a8 279deg,#1e17a9 282deg,#1e17ab 285deg,#1d17ac 288deg,#1d17ad 291deg,#1e19b1 294deg,#201fba 297deg,#2227c5 300deg,#2430d1 303deg,#263cde 306deg,#2453e1 309deg,#226de5 312deg,#208ae8 315deg,#1da9ec 318deg,#1bcbf0 321deg,#2fdfda 324deg,#5feda3 327deg,#99f26d 330deg,#d3f23e 333deg,#faec1e 336deg,#fbd119 339deg,#fcbd16 342deg,#fdaf14 345deg,#fda513 348deg,#fe9f12 351deg,#fe9a11 354deg,#fe9710 357deg,#fe9510 360deg)"></div>
<div class="disc" style="left:120.84px;top:538.84px;width:271.33px;height:271.33px;background:conic-gradient(#ff8a0e 0deg,#fe8c0f 3deg,#fe8f0f 6deg,#fe9310 9deg,#fe9a11 12deg,#fda312 15deg,#fdb114 18deg,#fcc518 21deg,#fbe21c 24deg,#def235 27deg,#a1f267 30deg,#61eda0 33deg,#2edfdb 36deg,#1bccf1 39deg,#1daaec 42deg,#208be8 45deg,#226ee5 48deg,#2454e1 51deg,#263dde 54deg,#2430d2 57deg,#2227c5 60deg,#2020ba 63deg,#1e1ab2 66deg,#1d17ad 69deg,#1d17ac 72deg,#1e17ab 75deg,#1e17a9 78deg,#1e17a8 81deg,#1e18a7 84deg,#1e18a5 87deg,#1e18a4 90deg,#1e18a5 93deg,#1e18a7 96deg,#1e17a8 99deg,#1e17a9 102deg,#1e17ab 105deg,#1d17ac 108deg,#1d17ad 111deg,#1e1ab2 114deg,#2020ba 117deg,#2227c5 120deg,#2430d2 123deg,#263dde 126deg,#2454e1 129deg,#226ee5 132deg,#208be8 135deg,#1daaec 138deg,#1bccf1 141deg,#2edfdb 144deg,#61eda0 147deg,#a1f267 150deg,#def235 153deg,#fbe21c 156deg,#fcc518 159deg,#fdb114 162deg,#fda312 165deg,#fe9a11 168deg,#fe9310 171deg,#fe8f0f 174deg,#fe8c0f 177deg,#ff8a0e 180deg,#fe8c0f 183deg,#fe8f0f 186deg,#fe9310 189deg,#fe9a11 192deg,#fda312 195deg,#fdb114 198deg,#fcc518 201deg,#fbe21c 204deg,#def235 207deg,#a1f267 210deg,#61eda0 213deg,#2edfdb 216deg,#1bccf1 219deg,#1daaec 222deg,#208be8 225deg,#226ee5 228deg,#2454e1 231deg,#263dde 234deg,#2430d2 237deg,#2227c5 240deg,#2020ba 243deg,#1e1ab2 246deg,#1d17ad 249deg,#1d17ac 252deg,#1e17ab 255deg,#1e17a9 258deg,#1e17a8 261deg,#1e18a7 264deg,#1e18a5 267deg,#1e18a4 270deg,#1e18a5 273deg,#1e18a7 276deg,#1e17a8 279deg,#1e17a9 282deg,#1e17ab 285deg,#1d17ac 288deg,#1d17ad 291deg,#1e1ab2 294deg,#2020ba 297deg,#2227c5 300deg,#2430d2 303deg,#263dde 306deg,#2454e1 309deg,#226ee5 312deg,#208be8 315deg,#1daaec 318deg,#1bccf1 321deg,#2edfdb 324deg,#61eda0 327deg,#a1f267 330deg,#def235 333deg,#fbe21c 336deg,#fcc518 339deg,#fdb114 342deg,#fda312 345deg,#fe9a11 348deg,#fe9310 351deg,#fe8f0f 354deg,#fe8c0f 357deg,#ff8a0e 360deg)"></div>
<div class="disc" style="left:123.30px;top:541.30px;width:266.39px;height:266.39px;background:conic-gradient(#ff800d 0deg,#ff810d 3deg,#ff840d 6deg,#ff880e 9deg,#fe8e0f 12deg,#fe9710 15deg,#fda513 18deg,#fcba16 21deg,#fbd71a 24deg,#eaf22c 27deg,#a9f261 30deg,#63ee9e 33deg,#2ddedc 36deg,#1accf1 39deg,#1dabec 42deg,#208be8 45deg,#226ee5 48deg,#2454e1 51deg,#263dde 54deg,#2430d2 57deg,#2227c5 60deg,#2020bb 63deg,#1e1ab2 66deg,#1d17ad 69deg,#1d17ac 72deg,#1e17ab 75deg,#1e17a9 78deg,#1e17a8 81deg,#1e18a7 84deg,#1e18a5 87deg,#1e18a4 90deg,#1e18a5 93deg,#1e18a7 96deg,#1e17a8 99deg,#1e17a9 102deg,#1e17ab 105deg,#1d17ac 108deg,#1d17ad 111deg,#1e1ab2 114deg,#2020bb 117deg,#2227c5 120deg,#2430d2 123deg,#263dde 126deg,#2454e1 129deg,#226ee5 132deg,#208be8 135deg,#1dabec 138deg,#1accf1 141deg,#2ddedc 144deg,#63ee9e 147deg,#a9f261 150deg,#eaf22c 153deg,#fbd71a 156deg,#fcba16 159deg,#fda513 162deg,#fe9710 165deg,#fe8e0f 168deg,#ff880e 171deg,#ff840d 174deg,#ff810d 177deg,#ff800d 180deg,#ff810d 183deg,#ff840d 186deg,#ff880e 189deg,#fe8e0f 192deg,#fe9710 195deg,#fda513 198deg,#fcba16 201deg,#fbd71a 204deg,#eaf22c 207deg,#a9f261 210deg,#63ee9e 213deg,#2ddedc 216deg,#1accf1 219deg,#1dabec 222deg,#208be8 225deg,#226ee5 228deg,#2454e1 231deg,#263dde 234deg,#2430d2 237deg,#2227c5 240deg,#2020bb 243deg,#1e1ab2 246deg,#1d17ad 249deg,#1d17ac 252deg,#1e17ab 255deg,#1e17a9 258deg,#1e17a8 261deg,#1e18a7 264deg,#1e18a5 267deg,#1e18a4 270deg,#1e18a5 273deg,#1e18a7 276deg,#1e17a8 279deg,#1e17a9 282deg,#1e17ab 285deg,#1d17ac 288deg,#1d17ad 291deg,#1e1ab2 294deg,#2020bb 297deg,#2227c5 300deg,#2430d2 303deg,#263dde 306deg,#2454e1 309deg,#226ee5 312deg,#208be8 315deg,#1dabec 318deg,#1accf1 321deg,#2ddedc 324deg,#63ee9e 327deg,#a9f261 330deg,#eaf22c 333deg,#fbd71a 336deg,#fcba16 339deg,#fda513 342deg,#fe9710 345deg,#fe8e0f 348deg,#ff880e 351deg,#ff840d 354deg,#ff810d 357deg,#ff800d 360deg)"></div>
<div class="disc" style="left:125.77px;top:543.77px;width:261.46px;height:261.46px;background:conic-gradient(#fd730e 0deg,#fd750e 3deg,#fd770d 6deg,#fe7c0d 9deg,#ff820d 12deg,#fe8b0f 15deg,#fe9911 18deg,#fdad14 21deg,#fccc19 24deg,#f6f222 27deg,#b0f25a 30deg,#65ee9c 33deg,#2edfdb 36deg,#1acdf1 39deg,#1dabec 42deg,#208be8 45deg,#226ee5 48deg,#2454e1 51deg,#263dde 54deg,#2430d2 57deg,#2227c5 60deg,#2020bb 63deg,#1e1ab2 66deg,#1d17ad 69deg,#1d17ac 72deg,#1e17ab 75deg,#1e17a9 78deg,#1e17a8 81deg,#1e18a7 84deg,#1e18a5 87deg,#1e18a4 90deg,#1e18a5 93deg,#1e18a7 96deg,#1e17a8 99deg,#1e17a9 102deg,#1e17ab 105deg,#1d17ac 108deg,#1d17ad 111deg,#1e1ab2 114deg,#2020bb 117deg,#2227c5 120deg,#2430d2 123deg,#263dde 126deg,#2454e1 129deg,#226ee5 132deg,#208be8 135deg,#1dabec 138deg,#1acdf1 141deg,#2edfdb 144deg,#65ee9c 147deg,#b0f25a 150deg,#f6f222 153deg,#fccc19 156deg,#fdad14 159deg,#fe9911 162deg,#fe8b0f 165deg,#ff820d 168deg,#fe7c0d 171deg,#fd770d 174deg,#fd750e 177deg,#fd730e 180deg,#fd750e 183deg,#fd770d 186deg,#fe7c0d 189deg,#ff820d 192deg,#fe8b0f 195deg,#fe9911 198deg,#fdad14 201deg,#fccc19 204deg,#f6f222 207deg,#b0f25a 210deg,#65ee9c 213deg,#2edfdb 216deg,#1acdf1 219deg,#1dabec 222deg,#208be8 225deg,#226ee5 228deg,#2454e1 231deg,#263dde 234deg,#2430d2 237deg,#2227c5 240deg,#2020bb 243deg,#1e1ab2 246deg,#1d17ad 249deg,#1d17ac 252deg,#1e17ab 255deg,#1e17a9 258deg,#1e17a8 261deg,#1e18a7 264deg,#1e18a5 267deg,#1e18a4 270deg,#1e18a5 273deg,#1e18a7 276deg,#1e17a8 279deg,#1e17a9 282deg,#1e17ab 285deg,#1d17ac 288deg,#1d17ad 291deg,#1e1ab2 294deg,#2020bb 297deg,#2227c5 300deg,#2430d2 303deg,#263dde 306deg,#2454e1 309deg,#226ee5 312deg,#208be8 315deg,#1dabec 318deg,#1acdf1 321deg,#2edfdb 324deg,#65ee9c 327deg,#b0f25a 330deg,#f6f222 333deg,#fccc19 336deg,#fdad14 339deg,#fe9911 342deg,#fe8b0f 345deg,#ff820d 348deg,#fe7c0d 351deg,#fd770d 354deg,#fd750e 357deg,#fd730e 360deg)"></div>
<div class="disc" style="left:128.24px;top:546.24px;width:256.53px;height:256.53px;background:conic-gradient(#fa670f 0deg,#fa680f 3deg,#fb6a0e 6deg,#fc6e0e 9deg,#fd740e 12deg,#ff7e0d 15deg,#fe8c0f 18deg,#fea112 21deg,#fcc017 24deg,#faec1e 27deg,#b8f254 30deg,#66ef9b 33deg,#2fdfda 36deg,#1acdf1 39deg,#1dabec 42deg,#208be8 45deg,#226de5 48deg,#2453e1 51deg,#263cde 54deg,#2430d2 57deg,#2227c5 60deg,#2020ba 63deg,#1e1ab1 66deg,#1d17ad 69deg,#1d17ac 72deg,#1e17ab 75deg,#1e17a9 78deg,#1e17a8 81deg,#1e18a7 84deg,#1e18a5 87deg,#1e18a4 90deg,#1e18a5 93deg,#1e18a7 96deg,#1e17a8 99deg,#1e17a9 102deg,#1e17ab 105deg,#1d17ac 108deg,#1d17ad 111deg,#1e1ab1 114deg,#2020ba 117deg,#2227c5 120deg,#2430d2 123deg,#263cde 126deg,#2453e1 129deg,#226de5 132deg,#208be8 135deg,#1dabec 138deg,#1acdf1 141deg,#2fdfda 144deg,#66ef9b 147deg,#b8f254 150deg,#faec1e 153deg,#fcc017 156deg,#fea112 159deg,#fe8c0f 162deg,#ff7e0d 165deg,#fd740e 168deg,#fc6e0e 171deg,#fb6a0e 174deg,#fa680f 177deg,#fa670f 180deg,#fa680f 183deg,#fb6a0e 186deg,#fc6e0e 189deg,#fd740e 192deg,#ff7e0d 195deg,#fe8c0f 198deg,#fea112 201deg,#fcc017 204deg,#faec1e 207deg,#b8f254 210deg,#66ef9b 213deg,#2fdfda 216deg,#1acdf1 219deg,#1dabec 222deg,#208be8 225deg,#226de5 228deg,#2453e1 231deg,#263cde 234deg,#2430d2 237deg,#2227c5 240deg,#2020ba 243deg,#1e1ab1 246deg,#1d17ad 249deg,#1d17ac 252deg,#1e17ab 255deg,#1e17a9 258deg,#1e17a8 261deg,#1e18a7 264deg,#1e18a5 267deg,#1e18a4 270deg,#1e18a5 273deg,#1e18a7 276deg,#1e17a8 279deg,#1e17a9 282deg,#1e17ab 285deg,#1d17ac 288deg,#1d17ad 291deg,#1e1ab1 294deg,#2020ba 297deg,#2227c5 300deg,#2430d2 303deg,#263cde 306deg,#2453e1 309deg,#226de5 312deg,#208be8 315deg,#1dabec 318deg,#1acdf1 321deg,#2fdfda 324deg,#66ef9b 327deg,#b8f254 330deg,#faec1e 333deg,#fcc017 336deg,#fea112 339deg,#fe8c0f 342deg,#ff7e0d 345deg,#fd740e 348deg,#fc6e0e 351deg,#fb6a0e 354deg,#fa680f 357deg,#fa670f 360deg)"></div>
<div class="disc" style="left:130.70px;top:548.70px;width:251.59px;height:251.59px;background:conic-gradient(#f85a10 0deg,#f85b0f 3deg,#f85d0f 6deg,#f9610f 9deg,#fa660f 12deg,#fc700e 15deg,#ff7f0d 18deg,#fe9310 21deg,#fdb315 24deg,#fbe11c 27deg,#c1f24d 30deg,#66ef9b 33deg,#2fdfda 36deg,#1acdf1 39deg,#1daaec 42deg,#2089e8 45deg,#226ce4 48deg,#2451e1 51deg,#263ade 54deg,#242fd0 57deg,#2126c4 60deg,#1f1fb9 63deg,#1e19b0 66deg,#1d17ad 69deg,#1d17ac 72deg,#1e17ab 75deg,#1e17a9 78deg,#1e17a8 81deg,#1e18a7 84deg,#1e18a5 87deg,#1e18a4 90deg,#1e18a5 93deg,#1e18a7 96deg,#1e17a8 99deg,#1e17a9 102deg,#1e17ab 105deg,#1d17ac 108deg,#1d17ad 111deg,#1e19b0 114deg,#1f1fb9 117deg,#2126c4 120deg,#242fd0 123deg,#263ade 126deg,#2451e1 129deg,#226ce4 132deg,#2089e8 135deg,#1daaec 138deg,#1acdf1 141deg,#2fdfda 144deg,#66ef9b 147deg,#c1f24d 150deg,#fbe11c 153deg,#fdb315 156deg,#fe9310 159deg,#ff7f0d 162deg,#fc700e 165deg,#fa660f 168deg,#f9610f 171deg,#f85d0f 174deg,#f85b0f 177deg,#f85a10 180deg,#f85b0f 183deg,#f85d0f 186deg,#f9610f 189deg,#fa660f 192deg,#fc700e 195deg,#ff7f0d 198deg,#fe9310 201deg,#fdb315 204deg,#fbe11c 207deg,#c1f24d 210deg,#66ef9b 213deg,#2fdfda 216deg,#1acdf1 219deg,#1daaec 222deg,#2089e8 225deg,#226ce4 228deg,#2451e1 231deg,#263ade 234deg,#242fd0 237deg,#2126c4 240deg,#1f1fb9 243deg,#1e19b0 246deg,#1d17ad 249deg,#1d17ac 252deg,#1e17ab 255deg,#1e17a9 258deg,#1e17a8 261deg,#1e18a7 264deg,#1e18a5 267deg,#1e18a4 270deg,#1e18a5 273deg,#1e18a7 276deg,#1e17a8 279deg,#1e17a9 282deg,#1e17ab 285deg,#1d17ac 288deg,#1d17ad 291deg,#1e19b0 294deg,#1f1fb9 297deg,#2126c4 300deg,#242fd0 303deg,#263ade 306deg,#2451e1 309deg,#226ce4 312deg,#2089e8 315deg,#1daaec 318deg,#1acdf1 321deg,#2fdfda 324deg,#66ef9b 327deg,#c1f24d 330deg,#fbe11c 333deg,#fdb315 336deg,#fe9310 339deg,#ff7f0d 342deg,#fc700e 345deg,#fa660f 348deg,#f9610f 351deg,#f85d0f 354deg,#f85b0f 357deg,#f85a10 360deg)"></div>
<div class="disc" style="left:133.17px;top:551.17px;width:246.66px;height:246.66px;background:conic-gradient(#f54e10 0deg,#f54f10 3deg,#f65010 6deg,#f65310 9deg,#f75810 12deg,#f9600f 15deg,#fc6f0e 18deg,#ff850e 21deg,#fda513 24deg,#fbd51a 27deg,#c9f246 30deg,#66ef9a 33deg,#2fdfd9 36deg,#1accf1 39deg,#1da9ec 42deg,#2087e8 45deg,#2269e4 48deg,#244fe1 51deg,#2638de 54deg,#232ece 57deg,#2125c2 60deg,#1f1eb7 63deg,#1e18af 66deg,#1d17ad 69deg,#1d17ac 72deg,#1e17ab 75deg,#1e17a9 78deg,#1e17a8 81deg,#1e18a7 84deg,#1e18a5 87deg,#1e18a4 90deg,#1e18a5 93deg,#1e18a7 96deg,#1e17a8 99deg,#1e17a9 102deg,#1e17ab 105deg,#1d17ac 108deg,#1d17ad 111deg,#1e18af 114deg,#1f1eb7 117deg,#2125c2 120deg,#232ece 123deg,#2638de 126deg,#244fe1 129deg,#2269e4 132deg,#2087e8 135deg,#1da9ec 138deg,#1accf1 141deg,#2fdfd9 144deg,#66ef9a 147deg,#c9f246 150deg,#fbd51a 153deg,#fda513 156deg,#ff850e 159deg,#fc6f0e 162deg,#f9600f 165deg,#f75810 168deg,#f65310 171deg,#f65010 174deg,#f54f10 177deg,#f54e10 180deg,#f54f10 183deg,#f65010 186deg,#f65310 189deg,#f75810 192deg,#f9600f 195deg,#fc6f0e 198deg,#ff850e 201deg,#fda513 204deg,#fbd51a 207deg,#c9f246 210deg,#66ef9a 213deg,#2fdfd9 216deg,#1accf1 219deg,#1da9ec 222deg,#2087e8 225deg,#2269e4 228deg,#244fe1 231deg,#2638de 234deg,#232ece 237deg,#2125c2 240deg,#1f1eb7 243deg,#1e18af 246deg,#1d17ad 249deg,#1d17ac 252deg,#1e17ab 255deg,#1e17a9 258deg,#1e17a8 261deg,#1e18a7 264deg,#1e18a5 267deg,#1e18a4 270deg,#1e18a5 273deg,#1e18a7 276deg,#1e17a8 279deg,#1e17a9 282deg,#1e17ab 285deg,#1d17ac 288deg,#1d17ad 291deg,#1e18af 294deg,#1f1eb7 297deg,#2125c2 300deg,#232ece 303deg,#2638de 306deg,#244fe1 309deg,#2269e4 312deg,#2087e8 315deg,#1da9ec 318deg,#1accf1 321deg,#2fdfd9 324deg,#66ef9a 327deg,#c9f246 330deg,#fbd51a 333deg,#fda513 336deg,#ff850e 339deg,#fc6f0e 342deg,#f9600f 345deg,#f75810 348deg,#f65310 351deg,#f65010 354deg,#f54f10 357deg,#f54e10 360deg)"></div>
<div class="disc" style="left:135.64px;top:553.64px;width:241.73px;height:241.73px;background:conic-gradient(#f03612 0deg,#f03712 3deg,#f13812 6deg,#f13a12 9deg,#f23e12 12deg,#f34611 15deg,#f65310 18deg,#fb6a0e 21deg,#fe8d0f 24deg,#fcc117 27deg,#dbf237 30deg,#6af096 33deg,#33e0d5 36deg,#1acef1 39deg,#1da9ec 42deg,#2087e8 45deg,#2268e4 48deg,#254ce0 51deg,#2637dc 54deg,#232ccc 57deg,#2124c0 60deg,#1f1cb5 63deg,#1d17ad 66deg,#1f18a1 69deg,#1f199b 72deg,#20199a 75deg,#201998 78deg,#201997 81deg,#201996 84deg,#201994 87deg,#201993 90deg,#201994 93deg,#201996 96deg,#201997 99deg,#201998 102deg,#20199a 105deg,#1f199b 108deg,#1f18a1 111deg,#1d17ad 114deg,#1f1cb5 117deg,#2124c0 120deg,#232ccc 123deg,#2637dc 126deg,#254ce0 129deg,#2268e4 132deg,#2087e8 135deg,#1da9ec 138deg,#1acef1 141deg,#33e0d5 144deg,#6af096 147deg,#dbf237 150deg,#fcc117 153deg,#fe8d0f 156deg,#fb6a0e 159deg,#f65310 162deg,#f34611 165deg,#f23e12 168deg,#f13a12 171deg,#f13812 174deg,#f03712 177deg,#f03612 180deg,#f03712 183deg,#f13812 186deg,#f13a12 189deg,#f23e12 192deg,#f34611 195deg,#f65310 198deg,#fb6a0e 201deg,#fe8d0f 204deg,#fcc117 207deg,#dbf237 210deg,#6af096 213deg,#33e0d5 216deg,#1acef1 219deg,#1da9ec 222deg,#2087e8 225deg,#2268e4 228deg,#254ce0 231deg,#2637dc 234deg,#232ccc 237deg,#2124c0 240deg,#1f1cb5 243deg,#1d17ad 246deg,#1f18a1 249deg,#1f199b 252deg,#20199a 255deg,#201998 258deg,#201997 261deg,#201996 264deg,#201994 267deg,#201993 270deg,#201994 273deg,#201996 276deg,#201997 279deg,#201998 282deg,#20199a 285deg,#1f199b 288deg,#1f18a1 291deg,#1d17ad 294deg,#1f1cb5 297deg,#2124c0 300deg,#232ccc 303deg,#2637dc 306deg,#254ce0 309deg,#2268e4 312deg,#2087e8 315deg,#1da9ec 318deg,#1acef1 321deg,#33e0d5 324deg,#6af096 327deg,#dbf237 330deg,#fcc117 333deg,#fe8d0f 336deg,#fb6a0e 339deg,#f65310 342deg,#f34611 345deg,#f23e12 348deg,#f13a12 351deg,#f13812 354deg,#f03712 357deg,#f03612 360deg)"></div>
<div class="disc" style="left:138.10px;top:556.10px;width:236.79px;height:236.79px;background:conic-gradient(#ec2214 0deg,#ec2314 3deg,#ed2414 6deg,#ed2514 9deg,#ee2813 12deg,#ef2f13 15deg,#f13a12 18deg,#f54f10 21deg,#fd750e 24deg,#fdac14 27deg,#edf229 30deg,#6cf095 33deg,#34e0d4 36deg,#1acef1 39deg,#1da7ec 42deg,#2083e7 45deg,#2363e3 48deg,#2547e0 51deg,#2534d8 54deg,#2229c8 57deg,#2021bc 60deg,#1e1ab2 63deg,#1e17a8 66deg,#1f189d 69deg,#1f199b 72deg,#20199a 75deg,#201998 78deg,#201997 81deg,#201996 84deg,#201994 87deg,#201993 90deg,#201994 93deg,#201996 96deg,#201997 99deg,#201998 102deg,#20199a 105deg,#1f199b 108deg,#1f189d 111deg,#1e17a8 114deg,#1e1ab2 117deg,#2021bc 120deg,#2229c8 123deg,#2534d8 126deg,#2547e0 129deg,#2363e3 132deg,#2083e7 135deg,#1da7ec 138deg,#1acef1 141deg,#34e0d4 144deg,#6cf095 147deg,#edf229 150deg,#fdac14 153deg,#fd750e 156deg,#f54f10 159deg,#f13a12 162deg,#ef2f13 165deg,#ee2813 168deg,#ed2514 171deg,#ed2414 174deg,#ec2314 177deg,#ec2214 180deg,#ec2314 183deg,#ed2414 186deg,#ed2514 189deg,#ee2813 192deg,#ef2f13 195deg,#f13a12 198deg,#f54f10 201deg,#fd750e 204deg,#fdac14 207deg,#edf229 210deg,#6cf095 213deg,#34e0d4 216deg,#1acef1 219deg,#1da7ec 222deg,#2083e7 225deg,#2363e3 228deg,#2547e0 231deg,#2534d8 234deg,#2229c8 237deg,#2021bc 240deg,#1e1ab2 243deg,#1e17a8 246deg,#1f189d 249deg,#1f199b 252deg,#20199a 255deg,#201998 258deg,#201997 261deg,#201996 264deg,#201994 267deg,#201993 270deg,#201994 273deg,#201996 276deg,#201997 279deg,#201998 282deg,#20199a 285deg,#1f199b 288deg,#1f189d 291deg,#1e17a8 294deg,#1e1ab2 297deg,#2021bc 300deg,#2229c8 303deg,#2534d8 306deg,#2547e0 309deg,#2363e3 312deg,#2083e7 315deg,#1da7ec 318deg,#1acef1 321deg,#34e0d4 324deg,#6cf095 327deg,#edf229 330deg,#fdac14 333deg,#fd750e 336deg,#f54f10 339deg,#f13a12 342deg,#ef2f13 345deg,#ee2813 348deg,#ed2514 351deg,#ed2414 354deg,#ec2314 357deg,#ec2214 360deg)"></div>
<div class="disc" style="left:140.57px;top:558.57px;width:231.86px;height:231.86px;background:conic-gradient(#dd1713 0deg,#dd1714 3deg,#de1814 6deg,#df1814 9deg,#e11814 12deg,#e61914 15deg,#ec1e14 18deg,#ef3013 21deg,#f65310 24deg,#fe910f 27deg,#faeb1d 30deg,#6cf094 33deg,#35e1d3 36deg,#1bcbf1 39deg,#1ea1eb 42deg,#217be6 45deg,#245ae2 48deg,#263edf 51deg,#242fd1 54deg,#2125c2 57deg,#1f1db6 60deg,#1d17ad 63deg,#1f18a0 66deg,#1f199c 69deg,#1f199b 72deg,#20199a 75deg,#201998 78deg,#201997 81deg,#201996 84deg,#201994 87deg,#201993 90deg,#201994 93deg,#201996 96deg,#201997 99deg,#201998 102deg,#20199a 105deg,#1f199b 108deg,#1f199c 111deg,#1f18a0 114deg,#1d17ad 117deg,#1f1db6 120deg,#2125c2 123deg,#242fd1 126deg,#263edf 129deg,#245ae2 132deg,#217be6 135deg,#1ea1eb 138deg,#1bcbf1 141deg,#35e1d3 144deg,#6cf094 147deg,#faeb1d 150deg,#fe910f 153deg,#f65310 156deg,#ef3013 159deg,#ec1e14 162deg,#e61914 165deg,#e11814 168deg,#df1814 171deg,#de1814 174deg,#dd1714 177deg,#dd1713 180deg,#dd1714 183deg,#de1814 186deg,#df1814 189deg,#e11814 192deg,#e61914 195deg,#ec1e14 198deg,#ef3013 201deg,#f65310 204deg,#fe910f 207deg,#faeb1d 210deg,#6cf094 213deg,#35e1d3 216deg,#1bcbf1 219deg,#1ea1eb 222deg,#217be6 225deg,#245ae2 228deg,#263edf 231deg,#242fd1 234deg,#2125c2 237deg,#1f1db6 240deg,#1d17ad 243deg,#1f18a0 246deg,#1f199c 249deg,#1f199b 252deg,#20199a 255deg,#201998 258deg,#201997 261deg,#201996 264deg,#201994 267deg,#201993 270deg,#201994 273deg,#201996 276deg,#201997 279deg,#201998 282deg,#20199a 285deg,#1f199b 288deg,#1f199c 291deg,#1f18a0 294deg,#1d17ad 297deg,#1f1db6 300deg,#2125c2 303deg,#242fd1 306deg,#263edf 309deg,#245ae2 312deg,#217be6 315deg,#1ea1eb 318deg,#1bcbf1 321deg,#35e1d3 324deg,#6cf094 327deg,#faeb1d 330deg,#fe910f 333deg,#f65310 336deg,#ef3013 339deg,#ec1e14 342deg,#e61914 345deg,#e11814 348deg,#df1814 351deg,#de1814 354deg,#dd1714 357deg,#dd1713 360deg)"></div>
<div class="disc" style="left:143.04px;top:561.04px;width:226.93px;height:226.93px;background:conic-gradient(#c41312 0deg,#c41312 3deg,#c41412 6deg,#c51412 9deg,#c61412 12deg,#c91412 15deg,#cf1513 18deg,#de1814 21deg,#ee2c13 24deg,#fb6b0e 27deg,#fbd019 30deg,#71f28f 33deg,#36e1d2 36deg,#1bc8f0 39deg,#1e9aea 42deg,#2272e5 45deg,#244fe1 48deg,#2635da 51deg,#2229c8 54deg,#2020ba 57deg,#1e18af 60deg,#1f18a2 63deg,#1f189d 66deg,#1f199c 69deg,#1f199b 72deg,#20199a 75deg,#201998 78deg,#201997 81deg,#201996 84deg,#201994 87deg,#201993 90deg,#201994 93deg,#201996 96deg,#201997 99deg,#201998 102deg,#20199a 105deg,#1f199b 108deg,#1f199c 111deg,#1f189d 114deg,#1f18a2 117deg,#1e18af 120deg,#2020ba 123deg,#2229c8 126deg,#2635da 129deg,#244fe1 132deg,#2272e5 135deg,#1e9aea 138deg,#1bc8f0 141deg,#36e1d2 144deg,#71f28f 147deg,#fbd019 150deg,#fb6b0e 153deg,#ee2c13 156deg,#de1814 159deg,#cf1513 162deg,#c91412 165deg,#c61412 168deg,#c51412 171deg,#c41412 174deg,#c41312 177deg,#c41312 180deg,#c41312 183deg,#c41412 186deg,#c51412 189deg,#c61412 192deg,#c91412 195deg,#cf1513 198deg,#de1814 201deg,#ee2c13 204deg,#fb6b0e 207deg,#fbd019 210deg,#71f28f 213deg,#36e1d2 216deg,#1bc8f0 219deg,#1e9aea 222deg,#2272e5 225deg,#244fe1 228deg,#2635da 231deg,#2229c8 234deg,#2020ba 237deg,#1e18af 240deg,#1f18a2 243deg,#1f189d 246deg,#1f199c 249deg,#1f199b 252deg,#20199a 255deg,#201998 258deg,#201997 261deg,#201996 264deg,#201994 267deg,#201993 270deg,#201994 273deg,#201996 276deg,#201997 279deg,#201998 282deg,#20199a 285deg,#1f199b 288deg,#1f199c 291deg,#1f189d 294deg,#1f18a2 297deg,#1e18af 300deg,#2020ba 303deg,#2229c8 306deg,#2635da 309deg,#244fe1 312deg,#2272e5 315deg,#1e9aea 318deg,#1bc8f0 321deg,#36e1d2 324deg,#71f28f 327deg,#fbd019 330deg,#fb6b0e 333deg,#ee2c13 336deg,#de1814 339deg,#cf1513 342deg,#c91412 345deg,#c61412 348deg,#c51412 351deg,#c41412 354deg,#c41312 357deg,#c41312 360deg)"></div>
<div class="disc" style="left:145.50px;top:563.50px;width:221.99px;height:221.99px;background:conic-gradient(#a70f10 0deg,#a70f10 3deg,#a70f10 6deg,#a80f10 9deg,#a90f10 12deg,#ac1010 15deg,#b21111 18deg,#c21312 21deg,#e51914 24deg,#f65510 27deg,#fcc017 30deg,#7ef283 33deg,#3ee3c9 36deg,#1acff1 39deg,#1ea0eb 42deg,#2177e6 45deg,#2453e1 48deg,#2637dc 51deg,#232aca 54deg,#2021bb 57deg,#1e19b0 60deg,#1f18a3 63deg,#1f189d 66deg,#1f199c 69deg,#1f199b 72deg,#20199a 75deg,#201998 78deg,#201997 81deg,#201996 84deg,#201994 87deg,#201993 90deg,#201994 93deg,#201996 96deg,#201997 99deg,#201998 102deg,#20199a 105deg,#1f199b 108deg,#1f199c 111deg,#1f189d 114deg,#1f18a3 117deg,#1e19b0 120deg,#2021bb 123deg,#232aca 126deg,#2637dc 129deg,#2453e1 132deg,#2177e6 135deg,#1ea0eb 138deg,#1acff1 141deg,#3ee3c9 144deg,#7ef283 147deg,#fcc017 150deg,#f65510 153deg,#e51914 156deg,#c21312 159deg,#b21111 162deg,#ac1010 165deg,#a90f10 168deg,#a80f10 171deg,#a70f10 174deg,#a70f10 177deg,#a70f10 180deg,#a70f10 183deg,#a70f10 186deg,#a80f10 189deg,#a90f10 192deg,#ac1010 195deg,#b21111 198deg,#c21312 201deg,#e51914 204deg,#f65510 207deg,#fcc017 210deg,#7ef283 213deg,#3ee3c9 216deg,#1acff1 219deg,#1ea0eb 222deg,#2177e6 225deg,#2453e1 228deg,#2637dc 231deg,#232aca 234deg,#2021bb 237deg,#1e19b0 240deg,#1f18a3 243deg,#1f189d 246deg,#1f199c 249deg,#1f199b 252deg,#20199a 255deg,#201998 258deg,#201997 261deg,#201996 264deg,#201994 267deg,#201993 270deg,#201994 273deg,#201996 276deg,#201997 279deg,#201998 282deg,#20199a 285deg,#1f199b 288deg,#1f199c 291deg,#1f189d 294deg,#1f18a3 297deg,#1e19b0 300deg,#2021bb 303deg,#232aca 306deg,#2637dc 309deg,#2453e1 312deg,#2177e6 315deg,#1ea0eb 318deg,#1acff1 321deg,#3ee3c9 324deg,#7ef283 327deg,#fcc017 330deg,#f65510 333deg,#e51914 336deg,#c21312 339deg,#b21111 342deg,#ac1010 345deg,#a90f10 348deg,#a80f10 351deg,#a70f10 354deg,#a70f10 357deg,#a70f10 360deg)"></div>
<div class="disc" style="left:147.97px;top:565.97px;width:217.06px;height:217.06px;background:#fff"></div>
<div class="disc" style="left:619.00px;top:522.50px;width:298.99px;height:298.99px;background:conic-gradient(#fe7c0d 0deg,#ff7f0d 3deg,#ff820d 6deg,#ff850e 9deg,#ff8a0e 12deg,#fe900f 15deg,#fe9811 18deg,#fda212 21deg,#fdb014 24deg,#fcc117 27deg,#fbd61a 30deg,#faf01e 33deg,#d6f23c 36deg,#a9f261 39deg,#76f28a 42deg,#52e9b2 45deg,#2edfdb 48deg,#1ad4f2 51deg,#1cb9ee 54deg,#1e9eeb 57deg,#2085e8 60deg,#226ee5 63deg,#2459e2 66deg,#2546e0 69deg,#2636db 72deg,#242ed0 75deg,#2227c5 78deg,#2021bd 81deg,#1f1cb5 84deg,#1e18af 87deg,#1e18a6 90deg,#1e18af 93deg,#1f1cb5 96deg,#2021bd 99deg,#2227c5 102deg,#242ed0 105deg,#2636db 108deg,#2546e0 111deg,#2459e2 114deg,#226ee5 117deg,#2085e8 120deg,#1e9eeb 123deg,#1cb9ee 126deg,#1ad4f2 129deg,#2edfdb 132deg,#52e9b2 135deg,#76f28a 138deg,#a9f261 141deg,#d6f23c 144deg,#faf01e 147deg,#fbd61a 150deg,#fcc117 153deg,#fdb014 156deg,#fda212 159deg,#fe9811 162deg,#fe900f 165deg,#ff8a0e 168deg,#ff850e 171deg,#ff820d 174deg,#ff7f0d 177deg,#fe7c0d 180deg,#ff7f0d 183deg,#ff820d 186deg,#ff850e 189deg,#ff8a0e 192deg,#fe900f 195deg,#fe9811 198deg,#fda212 201deg,#fdb014 204deg,#fcc117 207deg,#fbd61a 210deg,#faf01e 213deg,#d6f23c 216deg,#a9f261 219deg,#76f28a 222deg,#52e9b2 225deg,#2edfdb 228deg,#1ad4f2 231deg,#1cb9ee 234deg,#1e9eeb 237deg,#2085e8 240deg,#226ee5 243deg,#2459e2 246deg,#2546e0 249deg,#2636db 252deg,#242ed0 255deg,#2227c5 258deg,#2021bd 261deg,#1f1cb5 264deg,#1e18af 267deg,#1e18a6 270deg,#1e18af 273deg,#1f1cb5 276deg,#2021bd 279deg,#2227c5 282deg,#242ed0 285deg,#2636db 288deg,#2546e0 291deg,#2459e2 294deg,#226ee5 297deg,#2085e8 300deg,#1e9eeb 303deg,#1cb9ee 306deg,#1ad4f2 309deg,#2edfdb 312deg,#52e9b2 315deg,#76f28a 318deg,#a9f261 321deg,#d6f23c 324deg,#faf01e 327deg,#fbd61a 330deg,#fcc117 333deg,#fdb014 336deg,#fda212 339deg,#fe9811 342deg,#fe900f 345deg,#ff8a0e 348deg,#ff850e 351deg,#ff820d 354deg,#ff7f0d 357deg,#fe7c0d 360deg)"></div>
<div class="disc" style="left:621.50px;top:525.00px;width:294.01px;height:294.01px;background:conic-gradient(#fc710e 0deg,#fc730e 3deg,#fd760d 6deg,#fe790d 9deg,#ff7e0d 12deg,#ff840d 15deg,#fe8b0f 18deg,#fe9510 21deg,#fda112 24deg,#fdb115 27deg,#fcc618 30deg,#fbdf1c 33deg,#ebf22a 36deg,#bef24f 39deg,#8af27a 42deg,#5deca5 45deg,#37e1d1 48deg,#1ddaee 51deg,#1bc1ef 54deg,#1da7ec 57deg,#1f8ee9 60deg,#2176e6 63deg,#2360e3 66deg,#254de0 69deg,#263bde 72deg,#2431d4 75deg,#222ac9 78deg,#2124c0 81deg,#1f1eb8 84deg,#1e1ab1 87deg,#1e17aa 90deg,#1e1ab1 93deg,#1f1eb8 96deg,#2124c0 99deg,#222ac9 102deg,#2431d4 105deg,#263bde 108deg,#254de0 111deg,#2360e3 114deg,#2176e6 117deg,#1f8ee9 120deg,#1da7ec 123deg,#1bc1ef 126deg,#1ddaee 129deg,#37e1d1 132deg,#5deca5 135deg,#8af27a 138deg,#bef24f 141deg,#ebf22a 144deg,#fbdf1c 147deg,#fcc618 150deg,#fdb115 153deg,#fda112 156deg,#fe9510 159deg,#fe8b0f 162deg,#ff840d 165deg,#ff7e0d 168deg,#fe790d 171deg,#fd760d 174deg,#fc730e 177deg,#fc710e 180deg,#fc730e 183deg,#fd760d 186deg,#fe790d 189deg,#ff7e0d 192deg,#ff840d 195deg,#fe8b0f 198deg,#fe9510 201deg,#fda112 204deg,#fdb115 207deg,#fcc618 210deg,#fbdf1c 213deg,#ebf22a 216deg,#bef24f 219deg,#8af27a 222deg,#5deca5 225deg,#37e1d1 228deg,#1ddaee 231deg,#1bc1ef 234deg,#1da7ec 237deg,#1f8ee9 240deg,#2176e6 243deg,#2360e3 246deg,#254de0 249deg,#263bde 252deg,#2431d4 255deg,#222ac9 258deg,#2124c0 261deg,#1f1eb8 264deg,#1e1ab1 267deg,#1e17aa 270deg,#1e1ab1 273deg,#1f1eb8 276deg,#2124c0 279deg,#222ac9 282deg,#2431d4 285deg,#263bde 288deg,#254de0 291deg,#2360e3 294deg,#2176e6 297deg,#1f8ee9 300deg,#1da7ec 303deg,#1bc1ef 306deg,#1ddaee 309deg,#37e1d1 312deg,#5deca5 315deg,#8af27a 318deg,#bef24f 321deg,#ebf22a 324deg,#fbdf1c 327deg,#fcc618 330deg,#fdb115 333deg,#fda112 336deg,#fe9510 339deg,#fe8b0f 342deg,#ff840d 345deg,#ff7e0d 348deg,#fe790d 351deg,#fd760d 354deg,#fc730e 357deg,#fc710e 360deg)"></div>
<div class="disc" style="left:623.99px;top:527.49px;width:289.03px;height:289.03px;background:conic-gradient(#fa660f 0deg,#fa670f 3deg,#fb6a0e 6deg,#fb6d0e 9deg,#fc710e 12deg,#fd770d 15deg,#ff7f0d 18deg,#ff870e 21deg,#fe9310 24deg,#fda212 27deg,#fdb515 30deg,#fcce19 33deg,#faec1e 36deg,#d4f23e 39deg,#9ff269 42deg,#69f097 45deg,#41e4c5 48deg,#25dce5 51deg,#1bcaf0 54deg,#1dafed 57deg,#1f96ea 60deg,#217de7 63deg,#2367e4 66deg,#2453e1 69deg,#2641df 72deg,#2534d8 75deg,#232dcd 78deg,#2126c4 81deg,#2020bb 84deg,#1f1bb4 87deg,#1d17ae 90deg,#1f1bb4 93deg,#2020bb 96deg,#2126c4 99deg,#232dcd 102deg,#2534d8 105deg,#2641df 108deg,#2453e1 111deg,#2367e4 114deg,#217de7 117deg,#1f96ea 120deg,#1dafed 123deg,#1bcaf0 126deg,#25dce5 129deg,#41e4c5 132deg,#69f097 135deg,#9ff269 138deg,#d4f23e 141deg,#faec1e 144deg,#fcce19 147deg,#fdb515 150deg,#fda212 153deg,#fe9310 156deg,#ff870e 159deg,#ff7f0d 162deg,#fd770d 165deg,#fc710e 168deg,#fb6d0e 171deg,#fb6a0e 174deg,#fa670f 177deg,#fa660f 180deg,#fa670f 183deg,#fb6a0e 186deg,#fb6d0e 189deg,#fc710e 192deg,#fd770d 195deg,#ff7f0d 198deg,#ff870e 201deg,#fe9310 204deg,#fda212 207deg,#fdb515 210deg,#fcce19 213deg,#faec1e 216deg,#d4f23e 219deg,#9ff269 222deg,#69f097 225deg,#41e4c5 228deg,#25dce5 231deg,#1bcaf0 234deg,#1dafed 237deg,#1f96ea 240deg,#217de7 243deg,#2367e4 246deg,#2453e1 249deg,#2641df 252deg,#2534d8 255deg,#232dcd 258deg,#2126c4 261deg,#2020bb 264deg,#1f1bb4 267deg,#1d17ae 270deg,#1f1bb4 273deg,#2020bb 276deg,#2126c4 279deg,#232dcd 282deg,#2534d8 285deg,#2641df 288deg,#2453e1 291deg,#2367e4 294deg,#217de7 297deg,#1f96ea 300deg,#1dafed 303deg,#1bcaf0 306deg,#25dce5 309deg,#41e4c5 312deg,#69f097 315deg,#9ff269 318deg,#d4f23e 321deg,#faec1e 324deg,#fcce19 327deg,#fdb515 330deg,#fda212 333deg,#fe9310 336deg,#ff870e 339deg,#ff7f0d 342deg,#fd770d 345deg,#fc710e 348deg,#fb6d0e 351deg,#fb6a0e 354deg,#fa670f 357deg,#fa660f 360deg)"></div>
<div class="disc" style="left:626.48px;top:529.98px;width:284.04px;height:284.04px;background:conic-gradient(#f85b10 0deg,#f85c0f 3deg,#f85e0f 6deg,#f9610f 9deg,#fa640f 12deg,#fb690e 15deg,#fc700e 18deg,#fe790d 21deg,#ff850e 24deg,#fe9310 27deg,#fda513 30deg,#fcbc16 33deg,#fbda1b 36deg,#ebf22b 39deg,#b5f257 42deg,#78f288 45deg,#4de7b8 48deg,#2cdedd 51deg,#1ad2f1 54deg,#1cb7ee 57deg,#1e9deb 60deg,#2085e8 63deg,#226ee5 66deg,#2459e2 69deg,#2547e0 72deg,#2637dc 75deg,#242fd1 78deg,#2228c7 81deg,#2022be 84deg,#1f1db6 87deg,#1e19b0 90deg,#1f1db6 93deg,#2022be 96deg,#2228c7 99deg,#242fd1 102deg,#2637dc 105deg,#2547e0 108deg,#2459e2 111deg,#226ee5 114deg,#2085e8 117deg,#1e9deb 120deg,#1cb7ee 123deg,#1ad2f1 126deg,#2cdedd 129deg,#4de7b8 132deg,#78f288 135deg,#b5f257 138deg,#ebf22b 141deg,#fbda1b 144deg,#fcbc16 147deg,#fda513 150deg,#fe9310 153deg,#ff850e 156deg,#fe790d 159deg,#fc700e 162deg,#fb690e 165deg,#fa640f 168deg,#f9610f 171deg,#f85e0f 174deg,#f85c0f 177deg,#f85b10 180deg,#f85c0f 183deg,#f85e0f 186deg,#f9610f 189deg,#fa640f 192deg,#fb690e 195deg,#fc700e 198deg,#fe790d 201deg,#ff850e 204deg,#fe9310 207deg,#fda513 210deg,#fcbc16 213deg,#fbda1b 216deg,#ebf22b 219deg,#b5f257 222deg,#78f288 225deg,#4de7b8 228deg,#2cdedd 231deg,#1ad2f1 234deg,#1cb7ee 237deg,#1e9deb 240deg,#2085e8 243deg,#226ee5 246deg,#2459e2 249deg,#2547e0 252deg,#2637dc 255deg,#242fd1 258deg,#2228c7 261deg,#2022be 264deg,#1f1db6 267deg,#1e19b0 270deg,#1f1db6 273deg,#2022be 276deg,#2228c7 279deg,#242fd1 282deg,#2637dc 285deg,#2547e0 288deg,#2459e2 291deg,#226ee5 294deg,#2085e8 297deg,#1e9deb 300deg,#1cb7ee 303deg,#1ad2f1 306deg,#2cdedd 309deg,#4de7b8 312deg,#78f288 315deg,#b5f257 318deg,#ebf22b 321deg,#fbda1b 324deg,#fcbc16 327deg,#fda513 330deg,#fe9310 333deg,#ff850e 336deg,#fe790d 339deg,#fc700e 342deg,#fb690e 345deg,#fa640f 348deg,#f9610f 351deg,#f85e0f 354deg,#f85c0f 357deg,#f85b10 360deg)"></div>
<div class="disc" style="left:628.97px;top:532.47px;width:279.06px;height:279.06px;background:conic-gradient(#f55010 0deg,#f65110 3deg,#f65210 6deg,#f65510 9deg,#f75810 12deg,#f85c0f 15deg,#f9620f 18deg,#fb6a0e 21deg,#fd750e 24deg,#ff830d 27deg,#fe9410 30deg,#fdab13 33deg,#fcc718 36deg,#faeb1d 39deg,#ccf243 42deg,#8ef276 45deg,#59ebaa 48deg,#34e0d4 51deg,#1bd9f0 54deg,#1cbfef 57deg,#1ea5ec 60deg,#208ce8 63deg,#2175e6 66deg,#235fe3 69deg,#254ce0 72deg,#263bde 75deg,#2431d4 78deg,#232aca 81deg,#2124c1 84deg,#1f1fb9 87deg,#1e1ab2 90deg,#1f1fb9 93deg,#2124c1 96deg,#232aca 99deg,#2431d4 102deg,#263bde 105deg,#254ce0 108deg,#235fe3 111deg,#2175e6 114deg,#208ce8 117deg,#1ea5ec 120deg,#1cbfef 123deg,#1bd9f0 126deg,#34e0d4 129deg,#59ebaa 132deg,#8ef276 135deg,#ccf243 138deg,#faeb1d 141deg,#fcc718 144deg,#fdab13 147deg,#fe9410 150deg,#ff830d 153deg,#fd750e 156deg,#fb6a0e 159deg,#f9620f 162deg,#f85c0f 165deg,#f75810 168deg,#f65510 171deg,#f65210 174deg,#f65110 177deg,#f55010 180deg,#f65110 183deg,#f65210 186deg,#f65510 189deg,#f75810 192deg,#f85c0f 195deg,#f9620f 198deg,#fb6a0e 201deg,#fd750e 204deg,#ff830d 207deg,#fe9410 210deg,#fdab13 213deg,#fcc718 216deg,#faeb1d 219deg,#ccf243 222deg,#8ef276 225deg,#59ebaa 228deg,#34e0d4 231deg,#1bd9f0 234deg,#1cbfef 237deg,#1ea5ec 240deg,#208ce8 243deg,#2175e6 246deg,#235fe3 249deg,#254ce0 252deg,#263bde 255deg,#2431d4 258deg,#232aca 261deg,#2124c1 264deg,#1f1fb9 267deg,#1e1ab2 270deg,#1f1fb9 273deg,#2124c1 276deg,#232aca 279deg,#2431d4 282deg,#263bde 285deg,#254ce0 288deg,#235fe3 291deg,#2175e6 294deg,#208ce8 297deg,#1ea5ec 300deg,#1cbfef 303deg,#1bd9f0 306deg,#34e0d4 309deg,#59ebaa 312deg,#8ef276 315deg,#ccf243 318deg,#faeb1d 321deg,#fcc718 324deg,#fdab13 327deg,#fe9410 330deg,#ff830d 333deg,#fd750e 336deg,#fb6a0e 339deg,#f9620f 342deg,#f85c0f 345deg,#f75810 348deg,#f65510 351deg,#f65210 354deg,#f65110 357deg,#f55010 360deg)"></div>
<div class="disc" style="left:631.46px;top:534.96px;width:274.08px;height:274.08px;background:conic-gradient(#f34511 0deg,#f34611 3deg,#f44711 6deg,#f44911 9deg,#f54b11 12deg,#f54f10 15deg,#f65410 18deg,#f85b10 21deg,#fa640f 24deg,#fc720e 27deg,#ff830d 30deg,#fe9811 33deg,#fdb415 36deg,#fbd71a 39deg,#e5f22f 42deg,#a5f263 45deg,#66ee9b 48deg,#3be2cc 51deg,#22dbe8 54deg,#1bc7f0 57deg,#1daced 60deg,#1f92e9 63deg,#217be6 66deg,#2365e4 69deg,#2451e1 72deg,#263fdf 75deg,#2533d7 78deg,#232ccc 81deg,#2126c3 84deg,#2020bb 87deg,#1e1bb4 90deg,#2020bb 93deg,#2126c3 96deg,#232ccc 99deg,#2533d7 102deg,#263fdf 105deg,#2451e1 108deg,#2365e4 111deg,#217be6 114deg,#1f92e9 117deg,#1daced 120deg,#1bc7f0 123deg,#22dbe8 126deg,#3be2cc 129deg,#66ee9b 132deg,#a5f263 135deg,#e5f22f 138deg,#fbd71a 141deg,#fdb415 144deg,#fe9811 147deg,#ff830d 150deg,#fc720e 153deg,#fa640f 156deg,#f85b10 159deg,#f65410 162deg,#f54f10 165deg,#f54b11 168deg,#f44911 171deg,#f44711 174deg,#f34611 177deg,#f34511 180deg,#f34611 183deg,#f44711 186deg,#f44911 189deg,#f54b11 192deg,#f54f10 195deg,#f65410 198deg,#f85b10 201deg,#fa640f 204deg,#fc720e 207deg,#ff830d 210deg,#fe9811 213deg,#fdb415 216deg,#fbd71a 219deg,#e5f22f 222deg,#a5f263 225deg,#66ee9b 228deg,#3be2cc 231deg,#22dbe8 234deg,#1bc7f0 237deg,#1daced 240deg,#1f92e9 243deg,#217be6 246deg,#2365e4 249deg,#2451e1 252deg,#263fdf 255deg,#2533d7 258deg,#232ccc 261deg,#2126c3 264deg,#2020bb 267deg,#1e1bb4 270deg,#2020bb 273deg,#2126c3 276deg,#232ccc 279deg,#2533d7 282deg,#263fdf 285deg,#2451e1 288deg,#2365e4 291deg,#217be6 294deg,#1f92e9 297deg,#1daced 300deg,#1bc7f0 303deg,#22dbe8 306deg,#3be2cc 309deg,#66ee9b 312deg,#a5f263 315deg,#e5f22f 318deg,#fbd71a 321deg,#fdb415 324deg,#fe9811 327deg,#ff830d 330deg,#fc720e 333deg,#fa640f 336deg,#f85b10 339deg,#f65410 342deg,#f54f10 345deg,#f54b11 348deg,#f44911 351deg,#f44711 354deg,#f34611 357deg,#f34511 360deg)"></div>
<div class="disc" style="left:633.95px;top:537.45px;width:269.09px;height:269.09px;background:conic-gradient(#f13a12 0deg,#f13b12 3deg,#f13c12 6deg,#f23d12 9deg,#f23f12 12deg,#f34211 15deg,#f34611 18deg,#f54c11 21deg,#f65410 24deg,#f9600f 27deg,#fc700e 30deg,#ff860e 33deg,#fea012 36deg,#fcc217 39deg,#faed1e 42deg,#bff24f 45deg,#74f28b 48deg,#43e5c3 51deg,#2adde0 54deg,#1acff1 57deg,#1cb3ed 60deg,#1f99ea 63deg,#2180e7 66deg,#226ae4 69deg,#2455e2 72deg,#2543df 75deg,#2535da 78deg,#232ece 81deg,#2227c5 84deg,#2021bc 87deg,#1f1cb5 90deg,#2021bc 93deg,#2227c5 96deg,#232ece 99deg,#2535da 102deg,#2543df 105deg,#2455e2 108deg,#226ae4 111deg,#2180e7 114deg,#1f99ea 117deg,#1cb3ed 120deg,#1acff1 123deg,#2adde0 126deg,#43e5c3 129deg,#74f28b 132deg,#bff24f 135deg,#faed1e 138deg,#fcc217 141deg,#fea012 144deg,#ff860e 147deg,#fc700e 150deg,#f9600f 153deg,#f65410 156deg,#f54c11 159deg,#f34611 162deg,#f34211 165deg,#f23f12 168deg,#f23d12 171deg,#f13c12 174deg,#f13b12 177deg,#f13a12 180deg,#f13b12 183deg,#f13c12 186deg,#f23d12 189deg,#f23f12 192deg,#f34211 195deg,#f34611 198deg,#f54c11 201deg,#f65410 204deg,#f9600f 207deg,#fc700e 210deg,#ff860e 213deg,#fea012 216deg,#fcc217 219deg,#faed1e 222deg,#bff24f 225deg,#74f28b 228deg,#43e5c3 231deg,#2adde0 234deg,#1acff1 237deg,#1cb3ed 240deg,#1f99ea 243deg,#2180e7 246deg,#226ae4 249deg,#2455e2 252deg,#2543df 255deg,#2535da 258deg,#232ece 261deg,#2227c5 264deg,#2021bc 267deg,#1f1cb5 270deg,#2021bc 273deg,#2227c5 276deg,#232ece 279deg,#2535da 282deg,#2543df 285deg,#2455e2 288deg,#226ae4 291deg,#2180e7 294deg,#1f99ea 297deg,#1cb3ed 300deg,#1acff1 303deg,#2adde0 306deg,#43e5c3 309deg,#74f28b 312deg,#bff24f 315deg,#faed1e 318deg,#fcc217 321deg,#fea012 324deg,#ff860e 327deg,#fc700e 330deg,#f9600f 333deg,#f65410 336deg,#f54c11 339deg,#f34611 342deg,#f34211 345deg,#f23f12 348deg,#f23d12 351deg,#f13c12 354deg,#f13b12 357deg,#f13a12 360deg)"></div>
<div class="disc" style="left:636.45px;top:539.95px;width:264.11px;height:264.11px;background:conic-gradient(#ef3013 0deg,#ef3013 3deg,#ef3113 6deg,#ef3213 9deg,#f03312 12deg,#f03512 15deg,#f13912 18deg,#f23d12 21deg,#f34411 24deg,#f54e10 27deg,#f85d0f 30deg,#fc710e 33deg,#fe8c0f 36deg,#fdac14 39deg,#fbd71a 42deg,#daf239 45deg,#8cf277 48deg,#4ee8b7 51deg,#31dfd8 54deg,#1ad6f2 57deg,#1cbaee 60deg,#1e9feb 63deg,#2086e8 66deg,#226ee5 69deg,#2459e2 72deg,#2546e0 75deg,#2637dc 78deg,#242fd0 81deg,#2228c6 84deg,#2022bd 87deg,#1f1db6 90deg,#2022bd 93deg,#2228c6 96deg,#242fd0 99deg,#2637dc 102deg,#2546e0 105deg,#2459e2 108deg,#226ee5 111deg,#2086e8 114deg,#1e9feb 117deg,#1cbaee 120deg,#1ad6f2 123deg,#31dfd8 126deg,#4ee8b7 129deg,#8cf277 132deg,#daf239 135deg,#fbd71a 138deg,#fdac14 141deg,#fe8c0f 144deg,#fc710e 147deg,#f85d0f 150deg,#f54e10 153deg,#f34411 156deg,#f23d12 159deg,#f13912 162deg,#f03512 165deg,#f03312 168deg,#ef3213 171deg,#ef3113 174deg,#ef3013 177deg,#ef3013 180deg,#ef3013 183deg,#ef3113 186deg,#ef3213 189deg,#f03312 192deg,#f03512 195deg,#f13912 198deg,#f23d12 201deg,#f34411 204deg,#f54e10 207deg,#f85d0f 210deg,#fc710e 213deg,#fe8c0f 216deg,#fdac14 219deg,#fbd71a 222deg,#daf239 225deg,#8cf277 228deg,#4ee8b7 231deg,#31dfd8 234deg,#1ad6f2 237deg,#1cbaee 240deg,#1e9feb 243deg,#2086e8 246deg,#226ee5 249deg,#2459e2 252deg,#2546e0 255deg,#2637dc 258deg,#242fd0 261deg,#2228c6 264deg,#2022bd 267deg,#1f1db6 270deg,#2022bd 273deg,#2228c6 276deg,#242fd0 279deg,#2637dc 282deg,#2546e0 285deg,#2459e2 288deg,#226ee5 291deg,#2086e8 294deg,#1e9feb 297deg,#1cbaee 300deg,#1ad6f2 303deg,#31dfd8 306deg,#4ee8b7 309deg,#8cf277 312deg,#daf239 315deg,#fbd71a 318deg,#fdac14 321deg,#fe8c0f 324deg,#fc710e 327deg,#f85d0f 330deg,#f54e10 333deg,#f34411 336deg,#f23d12 339deg,#f13912 342deg,#f03512 345deg,#f03312 348deg,#ef3213 351deg,#ef3113 354deg,#ef3013 357deg,#ef3013 360deg)"></div>
<div class="disc" style="left:638.94px;top:542.44px;width:259.13px;height:259.13px;background:conic-gradient(#ed2514 0deg,#ed2514 3deg,#ed2613 6deg,#ed2713 9deg,#ed2813 12deg,#ee2913 15deg,#ee2c13 18deg,#ef3013 21deg,#f03512 24deg,#f23d12 27deg,#f44a11 30deg,#f85c0f 33deg,#fd760d 36deg,#fe9610 39deg,#fcbf17 42deg,#f8f220 45deg,#a7f262 48deg,#5beca7 51deg,#38e2cf 54deg,#1edaed 57deg,#1bc0ef 60deg,#1ea4ec 63deg,#208ae8 66deg,#2272e5 69deg,#235ce2 72deg,#2549e0 75deg,#2638dd 78deg,#242fd1 81deg,#2228c7 84deg,#2022be 87deg,#1f1db6 90deg,#2022be 93deg,#2228c7 96deg,#242fd1 99deg,#2638dd 102deg,#2549e0 105deg,#235ce2 108deg,#2272e5 111deg,#208ae8 114deg,#1ea4ec 117deg,#1bc0ef 120deg,#1edaed 123deg,#38e2cf 126deg,#5beca7 129deg,#a7f262 132deg,#f8f220 135deg,#fcbf17 138deg,#fe9610 141deg,#fd760d 144deg,#f85c0f 147deg,#f44a11 150deg,#f23d12 153deg,#f03512 156deg,#ef3013 159deg,#ee2c13 162deg,#ee2913 165deg,#ed2813 168deg,#ed2713 171deg,#ed2613 174deg,#ed2514 177deg,#ed2514 180deg,#ed2514 183deg,#ed2613 186deg,#ed2713 189deg,#ed2813 192deg,#ee2913 195deg,#ee2c13 198deg,#ef3013 201deg,#f03512 204deg,#f23d12 207deg,#f44a11 210deg,#f85c0f 213deg,#fd760d 216deg,#fe9610 219deg,#fcbf17 222deg,#f8f220 225deg,#a7f262 228deg,#5beca7 231deg,#38e2cf 234deg,#1edaed 237deg,#1bc0ef 240deg,#1ea4ec 243deg,#208ae8 246deg,#2272e5 249deg,#235ce2 252deg,#2549e0 255deg,#2638dd 258deg,#242fd1 261deg,#2228c7 264deg,#2022be 267deg,#1f1db6 270deg,#2022be 273deg,#2228c7 276deg,#242fd1 279deg,#2638dd 282deg,#2549e0 285deg,#235ce2 288deg,#2272e5 291deg,#208ae8 294deg,#1ea4ec 297deg,#1bc0ef 300deg,#1edaed 303deg,#38e2cf 306deg,#5beca7 309deg,#a7f262 312deg,#f8f220 315deg,#fcbf17 318deg,#fe9610 321deg,#fd760d 324deg,#f85c0f 327deg,#f44a11 330deg,#f23d12 333deg,#f03512 336deg,#ef3013 339deg,#ee2c13 342deg,#ee2913 345deg,#ed2813 348deg,#ed2713 351deg,#ed2613 354deg,#ed2514 357deg,#ed2514 360deg)"></div>
<div class="disc" style="left:641.43px;top:544.93px;width:254.14px;height:254.14px;background:conic-gradient(#eb1b14 0deg,#eb1b14 3deg,#eb1b14 6deg,#eb1c14 9deg,#eb1d14 12deg,#eb1e14 15deg,#ec1f14 18deg,#ec2214 21deg,#ed2613 24deg,#ee2d13 27deg,#f03712 30deg,#f44611 33deg,#f85d0f 36deg,#ff7e0d 39deg,#fda613 42deg,#fbda1b 45deg,#c5f249 48deg,#6bf096 51deg,#40e4c7 54deg,#24dce6 57deg,#1bc7f0 60deg,#1daaec 63deg,#1f8ee9 66deg,#2175e6 69deg,#235fe3 72deg,#254ae0 75deg,#2638de 78deg,#2430d2 81deg,#2228c7 84deg,#2022be 87deg,#1f1db6 90deg,#2022be 93deg,#2228c7 96deg,#2430d2 99deg,#2638de 102deg,#254ae0 105deg,#235fe3 108deg,#2175e6 111deg,#1f8ee9 114deg,#1daaec 117deg,#1bc7f0 120deg,#24dce6 123deg,#40e4c7 126deg,#6bf096 129deg,#c5f249 132deg,#fbda1b 135deg,#fda613 138deg,#ff7e0d 141deg,#f85d0f 144deg,#f44611 147deg,#f03712 150deg,#ee2d13 153deg,#ed2613 156deg,#ec2214 159deg,#ec1f14 162deg,#eb1e14 165deg,#eb1d14 168deg,#eb1c14 171deg,#eb1b14 174deg,#eb1b14 177deg,#eb1b14 180deg,#eb1b14 183deg,#eb1b14 186deg,#eb1c14 189deg,#eb1d14 192deg,#eb1e14 195deg,#ec1f14 198deg,#ec2214 201deg,#ed2613 204deg,#ee2d13 207deg,#f03712 210deg,#f44611 213deg,#f85d0f 216deg,#ff7e0d 219deg,#fda613 222deg,#fbda1b 225deg,#c5f249 228deg,#6bf096 231deg,#40e4c7 234deg,#24dce6 237deg,#1bc7f0 240deg,#1daaec 243deg,#1f8ee9 246deg,#2175e6 249deg,#235fe3 252deg,#254ae0 255deg,#2638de 258deg,#2430d2 261deg,#2228c7 264deg,#2022be 267deg,#1f1db6 270deg,#2022be 273deg,#2228c7 276deg,#2430d2 279deg,#2638de 282deg,#254ae0 285deg,#235fe3 288deg,#2175e6 291deg,#1f8ee9 294deg,#1daaec 297deg,#1bc7f0 300deg,#24dce6 303deg,#40e4c7 306deg,#6bf096 309deg,#c5f249 312deg,#fbda1b 315deg,#fda613 318deg,#ff7e0d 321deg,#f85d0f 324deg,#f44611 327deg,#f03712 330deg,#ee2d13 333deg,#ed2613 336deg,#ec2214 339deg,#ec1f14 342deg,#eb1e14 345deg,#eb1d14 348deg,#eb1c14 351deg,#eb1b14 354deg,#eb1b14 357deg,#eb1b14 360deg)"></div>
<div class="disc" style="left:643.92px;top:547.42px;width:249.16px;height:249.16px;background:conic-gradient(#e11814 0deg,#e11814 3deg,#e11814 6deg,#e11814 9deg,#e21814 12deg,#e21814 15deg,#e41814 18deg,#e61914 21deg,#e91914 24deg,#eb1d14 27deg,#ed2514 30deg,#ef3113 33deg,#f34411 36deg,#f9610f 39deg,#ff8b0e 42deg,#fcbe16 45deg,#e7f22e 48deg,#81f280 51deg,#47e6be 54deg,#2bdedf 57deg,#1accf1 60deg,#1daeed 63deg,#1f91e9 66deg,#2177e6 69deg,#2360e3 72deg,#254ae0 75deg,#2638de 78deg,#242fd1 81deg,#2228c6 84deg,#2021bd 87deg,#1f1cb5 90deg,#2021bd 93deg,#2228c6 96deg,#242fd1 99deg,#2638de 102deg,#254ae0 105deg,#2360e3 108deg,#2177e6 111deg,#1f91e9 114deg,#1daeed 117deg,#1accf1 120deg,#2bdedf 123deg,#47e6be 126deg,#81f280 129deg,#e7f22e 132deg,#fcbe16 135deg,#ff8b0e 138deg,#f9610f 141deg,#f34411 144deg,#ef3113 147deg,#ed2514 150deg,#eb1d14 153deg,#e91914 156deg,#e61914 159deg,#e41814 162deg,#e21814 165deg,#e21814 168deg,#e11814 171deg,#e11814 174deg,#e11814 177deg,#e11814 180deg,#e11814 183deg,#e11814 186deg,#e11814 189deg,#e21814 192deg,#e21814 195deg,#e41814 198deg,#e61914 201deg,#e91914 204deg,#eb1d14 207deg,#ed2514 210deg,#ef3113 213deg,#f34411 216deg,#f9610f 219deg,#ff8b0e 222deg,#fcbe16 225deg,#e7f22e 228deg,#81f280 231deg,#47e6be 234deg,#2bdedf 237deg,#1accf1 240deg,#1daeed 243deg,#1f91e9 246deg,#2177e6 249deg,#2360e3 252deg,#254ae0 255deg,#2638de 258deg,#242fd1 261deg,#2228c6 264deg,#2021bd 267deg,#1f1cb5 270deg,#2021bd 273deg,#2228c6 276deg,#242fd1 279deg,#2638de 282deg,#254ae0 285deg,#2360e3 288deg,#2177e6 291deg,#1f91e9 294deg,#1daeed 297deg,#1accf1 300deg,#2bdedf 303deg,#47e6be 306deg,#81f280 309deg,#e7f22e 312deg,#fcbe16 315deg,#ff8b0e 318deg,#f9610f 321deg,#f34411 324deg,#ef3113 327deg,#ed2514 330deg,#eb1d14 333deg,#e91914 336deg,#e61914 339deg,#e41814 342deg,#e21814 345deg,#e21814 348deg,#e11814 351deg,#e11814 354deg,#e11814 357deg,#e11814 360deg)"></div>
<div class="disc" style="left:646.41px;top:549.91px;width:244.18px;height:244.18px;background:conic-gradient(#cb1512 0deg,#cb1512 3deg,#cb1512 6deg,#cb1512 9deg,#cb1512 12deg,#cc1512 15deg,#cc1512 18deg,#ce1512 21deg,#d01513 24deg,#d41613 27deg,#da1713 30deg,#e41814 33deg,#ec2314 36deg,#f13c12 39deg,#f9620f 42deg,#fe9811 45deg,#fbdd1b 48deg,#a8f261 51deg,#52e9b1 54deg,#34e0d4 57deg,#1ad4f2 60deg,#1cb4ee 63deg,#1f95ea 66deg,#2179e6 69deg,#2360e3 72deg,#254ae0 75deg,#2637dd 78deg,#242ed0 81deg,#2227c5 84deg,#2020bb 87deg,#1e1bb3 90deg,#2020bb 93deg,#2227c5 96deg,#242ed0 99deg,#2637dd 102deg,#254ae0 105deg,#2360e3 108deg,#2179e6 111deg,#1f95ea 114deg,#1cb4ee 117deg,#1ad4f2 120deg,#34e0d4 123deg,#52e9b1 126deg,#a8f261 129deg,#fbdd1b 132deg,#fe9811 135deg,#f9620f 138deg,#f13c12 141deg,#ec2314 144deg,#e41814 147deg,#da1713 150deg,#d41613 153deg,#d01513 156deg,#ce1512 159deg,#cc1512 162deg,#cc1512 165deg,#cb1512 168deg,#cb1512 171deg,#cb1512 174deg,#cb1512 177deg,#cb1512 180deg,#cb1512 183deg,#cb1512 186deg,#cb1512 189deg,#cb1512 192deg,#cc1512 195deg,#cc1512 198deg,#ce1512 201deg,#d01513 204deg,#d41613 207deg,#da1713 210deg,#e41814 213deg,#ec2314 216deg,#f13c12 219deg,#f9620f 222deg,#fe9811 225deg,#fbdd1b 228deg,#a8f261 231deg,#52e9b1 234deg,#34e0d4 237deg,#1ad4f2 240deg,#1cb4ee 243deg,#1f95ea 246deg,#2179e6 249deg,#2360e3 252deg,#254ae0 255deg,#2637dd 258deg,#242ed0 261deg,#2227c5 264deg,#2020bb 267deg,#1e1bb3 270deg,#2020bb 273deg,#2227c5 276deg,#242ed0 279deg,#2637dd 282deg,#254ae0 285deg,#2360e3 288deg,#2179e6 291deg,#1f95ea 294deg,#1cb4ee 297deg,#1ad4f2 300deg,#34e0d4 303deg,#52e9b1 306deg,#a8f261 309deg,#fbdd1b 312deg,#fe9811 315deg,#f9620f 318deg,#f13c12 321deg,#ec2314 324deg,#e41814 327deg,#da1713 330deg,#d41613 333deg,#d01513 336deg,#ce1512 339deg,#cc1512 342deg,#cc1512 345deg,#cb1512 348deg,#cb1512 351deg,#cb1512 354deg,#cb1512 357deg,#cb1512 360deg)"></div>
<div class="disc" style="left:648.90px;top:552.40px;width:239.19px;height:239.19px;background:conic-gradient(#bc1211 0deg,#bc1211 3deg,#bc1211 6deg,#bc1211 9deg,#bc1211 12deg,#bc1211 15deg,#bc1211 18deg,#bd1211 21deg,#be1311 24deg,#c01312 27deg,#c41412 30deg,#cb1512 33deg,#d71613 36deg,#eb1b14 39deg,#f13b12 42deg,#fc700e 45deg,#fdb615 48deg,#d2f23f 51deg,#5ceca6 54deg,#3be2cc 57deg,#1ad9f2 60deg,#1cb6ee 63deg,#1f95ea 66deg,#2178e6 69deg,#235de3 72deg,#2546e0 75deg,#2535d9 78deg,#232ccc 81deg,#2124c0 84deg,#1f1eb7 87deg,#1e18af 90deg,#1f1eb7 93deg,#2124c0 96deg,#232ccc 99deg,#2535d9 102deg,#2546e0 105deg,#235de3 108deg,#2178e6 111deg,#1f95ea 114deg,#1cb6ee 117deg,#1ad9f2 120deg,#3be2cc 123deg,#5ceca6 126deg,#d2f23f 129deg,#fdb615 132deg,#fc700e 135deg,#f13b12 138deg,#eb1b14 141deg,#d71613 144deg,#cb1512 147deg,#c41412 150deg,#c01312 153deg,#be1311 156deg,#bd1211 159deg,#bc1211 162deg,#bc1211 165deg,#bc1211 168deg,#bc1211 171deg,#bc1211 174deg,#bc1211 177deg,#bc1211 180deg,#bc1211 183deg,#bc1211 186deg,#bc1211 189deg,#bc1211 192deg,#bc1211 195deg,#bc1211 198deg,#bd1211 201deg,#be1311 204deg,#c01312 207deg,#c41412 210deg,#cb1512 213deg,#d71613 216deg,#eb1b14 219deg,#f13b12 222deg,#fc700e 225deg,#fdb615 228deg,#d2f23f 231deg,#5ceca6 234deg,#3be2cc 237deg,#1ad9f2 240deg,#1cb6ee 243deg,#1f95ea 246deg,#2178e6 249deg,#235de3 252deg,#2546e0 255deg,#2535d9 258deg,#232ccc 261deg,#2124c0 264deg,#1f1eb7 267deg,#1e18af 270deg,#1f1eb7 273deg,#2124c0 276deg,#232ccc 279deg,#2535d9 282deg,#2546e0 285deg,#235de3 288deg,#2178e6 291deg,#1f95ea 294deg,#1cb6ee 297deg,#1ad9f2 300deg,#3be2cc 303deg,#5ceca6 306deg,#d2f23f 309deg,#fdb615 312deg,#fc700e 315deg,#f13b12 318deg,#eb1b14 321deg,#d71613 324deg,#cb1512 327deg,#c41412 330deg,#c01312 333deg,#be1311 336deg,#bd1211 339deg,#bc1211 342deg,#bc1211 345deg,#bc1211 348deg,#bc1211 351deg,#bc1211 354deg,#bc1211 357deg,#bc1211 360deg)"></div>
<div class="disc" style="left:651.39px;top:554.89px;width:234.21px;height:234.21px;background:conic-gradient(#ac1010 0deg,#ac1010 3deg,#ac1010 6deg,#ac1010 9deg,#ac1010 12deg,#ac1010 15deg,#ac1010 18deg,#ac1010 21deg,#ad1010 24deg,#ae1010 27deg,#af1010 30deg,#b21111 33deg,#b91211 36deg,#c61412 39deg,#e01814 42deg,#f13a12 45deg,#ff840d 48deg,#fae61d 51deg,#6ef192 54deg,#41e4c5 57deg,#1ddaef 60deg,#1cb5ee 63deg,#1f90e9 66deg,#2270e5 69deg,#2454e1 72deg,#263bde 75deg,#242fd1 78deg,#2126c3 81deg,#1f1fb8 84deg,#1e19b0 87deg,#1e18a5 90deg,#1e19b0 93deg,#1f1fb8 96deg,#2126c3 99deg,#242fd1 102deg,#263bde 105deg,#2454e1 108deg,#2270e5 111deg,#1f90e9 114deg,#1cb5ee 117deg,#1ddaef 120deg,#41e4c5 123deg,#6ef192 126deg,#fae61d 129deg,#ff840d 132deg,#f13a12 135deg,#e01814 138deg,#c61412 141deg,#b91211 144deg,#b21111 147deg,#af1010 150deg,#ae1010 153deg,#ad1010 156deg,#ac1010 159deg,#ac1010 162deg,#ac1010 165deg,#ac1010 168deg,#ac1010 171deg,#ac1010 174deg,#ac1010 177deg,#ac1010 180deg,#ac1010 183deg,#ac1010 186deg,#ac1010 189deg,#ac1010 192deg,#ac1010 195deg,#ac1010 198deg,#ac1010 201deg,#ad1010 204deg,#ae1010 207deg,#af1010 210deg,#b21111 213deg,#b91211 216deg,#c61412 219deg,#e01814 222deg,#f13a12 225deg,#ff840d 228deg,#fae61d 231deg,#6ef192 234deg,#41e4c5 237deg,#1ddaef 240deg,#1cb5ee 243deg,#1f90e9 246deg,#2270e5 249deg,#2454e1 252deg,#263bde 255deg,#242fd1 258deg,#2126c3 261deg,#1f1fb8 264deg,#1e19b0 267deg,#1e18a5 270deg,#1e19b0 273deg,#1f1fb8 276deg,#2126c3 279deg,#242fd1 282deg,#263bde 285deg,#2454e1 288deg,#2270e5 291deg,#1f90e9 294deg,#1cb5ee 297deg,#1ddaef 300deg,#41e4c5 303deg,#6ef192 306deg,#fae61d 309deg,#ff840d 312deg,#f13a12 315deg,#e01814 318deg,#c61412 321deg,#b91211 324deg,#b21111 327deg,#af1010 330deg,#ae1010 333deg,#ad1010 336deg,#ac1010 339deg,#ac1010 342deg,#ac1010 345deg,#ac1010 348deg,#ac1010 351deg,#ac1010 354deg,#ac1010 357deg,#ac1010 360deg)"></div>
<div class="disc" style="left:653.89px;top:557.39px;width:229.23px;height:229.23px;background:conic-gradient(#9b0d0f 0deg,#9b0d0f 3deg,#9b0d0f 6deg,#9b0d0f 9deg,#9b0d0f 12deg,#9b0d0f 15deg,#9b0d0f 18deg,#9b0d0f 21deg,#9b0d0f 24deg,#9b0d0f 27deg,#9c0d0f 30deg,#9d0d0f 33deg,#a00e0f 36deg,#a60f10 39deg,#b61111 42deg,#d81713 45deg,#f44911 48deg,#fdb515 51deg,#8bf278 54deg,#45e5c1 57deg,#1bd9f1 60deg,#1daded 63deg,#2084e7 66deg,#2361e3 69deg,#2543df 72deg,#2431d3 75deg,#2126c4 78deg,#1f1eb7 81deg,#1d17ae 84deg,#1f18a0 87deg,#201996 90deg,#1f18a0 93deg,#1d17ae 96deg,#1f1eb7 99deg,#2126c4 102deg,#2431d3 105deg,#2543df 108deg,#2361e3 111deg,#2084e7 114deg,#1daded 117deg,#1bd9f1 120deg,#45e5c1 123deg,#8bf278 126deg,#fdb515 129deg,#f44911 132deg,#d81713 135deg,#b61111 138deg,#a60f10 141deg,#a00e0f 144deg,#9d0d0f 147deg,#9c0d0f 150deg,#9b0d0f 153deg,#9b0d0f 156deg,#9b0d0f 159deg,#9b0d0f 162deg,#9b0d0f 165deg,#9b0d0f 168deg,#9b0d0f 171deg,#9b0d0f 174deg,#9b0d0f 177deg,#9b0d0f 180deg,#9b0d0f 183deg,#9b0d0f 186deg,#9b0d0f 189deg,#9b0d0f 192deg,#9b0d0f 195deg,#9b0d0f 198deg,#9b0d0f 201deg,#9b0d0f 204deg,#9b0d0f 207deg,#9c0d0f 210deg,#9d0d0f 213deg,#a00e0f 216deg,#a60f10 219deg,#b61111 222deg,#d81713 225deg,#f44911 228deg,#fdb515 231deg,#8bf278 234deg,#45e5c1 237deg,#1bd9f1 240deg,#1daded 243deg,#2084e7 246deg,#2361e3 249deg,#2543df 252deg,#2431d3 255deg,#2126c4 258deg,#1f1eb7 261deg,#1d17ae 264deg,#1f18a0 267deg,#201996 270deg,#1f18a0 273deg,#1d17ae 276deg,#1f1eb7 279deg,#2126c4 282deg,#2431d3 285deg,#2543df 288deg,#2361e3 291deg,#2084e7 294deg,#1daded 297deg,#1bd9f1 300deg,#45e5c1 303deg,#8bf278 306deg,#fdb515 309deg,#f44911 312deg,#d81713 315deg,#b61111 318deg,#a60f10 321deg,#a00e0f 324deg,#9d0d0f 327deg,#9c0d0f 330deg,#9b0d0f 333deg,#9b0d0f 336deg,#9b0d0f 339deg,#9b0d0f 342deg,#9b0d0f 345deg,#9b0d0f 348deg,#9b0d0f 351deg,#9b0d0f 354deg,#9b0d0f 357deg,#9b0d0f 360deg)"></div>
<div class="disc" style="left:656.38px;top:559.88px;width:224.24px;height:224.24px;background:conic-gradient(#870a0e 0deg,#870a0e 3deg,#870a0e 6deg,#870a0e 9deg,#870a0e 12deg,#870a0e 15deg,#870a0e 18deg,#870a0e 21deg,#870a0e 24deg,#870a0e 27deg,#880a0e 30deg,#890a0e 33deg,#8c0b0e 36deg,#930c0f 39deg,#a20e10 42deg,#c51412 45deg,#f13912 48deg,#fdaa13 51deg,#96f270 54deg,#4ae7ba 57deg,#1fdaec 60deg,#1db1ed 63deg,#2088e8 66deg,#2364e3 69deg,#2545e0 72deg,#2532d4 75deg,#2227c5 78deg,#1f1eb8 81deg,#1d18ae 84deg,#1f18a1 87deg,#201997 90deg,#1f18a1 93deg,#1d18ae 96deg,#1f1eb8 99deg,#2227c5 102deg,#2532d4 105deg,#2545e0 108deg,#2364e3 111deg,#2088e8 114deg,#1db1ed 117deg,#1fdaec 120deg,#4ae7ba 123deg,#96f270 126deg,#fdaa13 129deg,#f13912 132deg,#c51412 135deg,#a20e10 138deg,#930c0f 141deg,#8c0b0e 144deg,#890a0e 147deg,#880a0e 150deg,#870a0e 153deg,#870a0e 156deg,#870a0e 159deg,#870a0e 162deg,#870a0e 165deg,#870a0e 168deg,#870a0e 171deg,#870a0e 174deg,#870a0e 177deg,#870a0e 180deg,#870a0e 183deg,#870a0e 186deg,#870a0e 189deg,#870a0e 192deg,#870a0e 195deg,#870a0e 198deg,#870a0e 201deg,#870a0e 204deg,#870a0e 207deg,#880a0e 210deg,#890a0e 213deg,#8c0b0e 216deg,#930c0f 219deg,#a20e10 222deg,#c51412 225deg,#f13912 228deg,#fdaa13 231deg,#96f270 234deg,#4ae7ba 237deg,#1fdaec 240deg,#1db1ed 243deg,#2088e8 246deg,#2364e3 249deg,#2545e0 252deg,#2532d4 255deg,#2227c5 258deg,#1f1eb8 261deg,#1d18ae 264deg,#1f18a1 267deg,#201997 270deg,#1f18a1 273deg,#1d18ae 276deg,#1f1eb8 279deg,#2227c5 282deg,#2532d4 285deg,#2545e0 288deg,#2364e3 291deg,#2088e8 294deg,#1db1ed 297deg,#1fdaec 300deg,#4ae7ba 303deg,#96f270 306deg,#fdaa13 309deg,#f13912 312deg,#c51412 315deg,#a20e10 318deg,#930c0f 321deg,#8c0b0e 324deg,#890a0e 327deg,#880a0e 330deg,#870a0e 333deg,#870a0e 336deg,#870a0e 339deg,#870a0e 342deg,#870a0e 345deg,#870a0e 348deg,#870a0e 351deg,#870a0e 354deg,#870a0e 357deg,#870a0e 360deg)"></div>
<div class="disc" style="left:658.87px;top:562.37px;width:219.26px;height:219.26px;background:#fff"></div>
<svg width="1025" height="947" viewBox="0 0 1025 947">
<defs><linearGradient id="jet" x1="0" y1="1" x2="0" y2="0"><stop offset="0.000" stop-color="#241c75"/><stop offset="0.025" stop-color="#211a8f"/><stop offset="0.050" stop-color="#1e17a8"/><stop offset="0.075" stop-color="#1f1fb9"/><stop offset="0.100" stop-color="#2228c7"/><stop offset="0.125" stop-color="#2532d5"/><stop offset="0.150" stop-color="#263fdf"/><stop offset="0.175" stop-color="#2452e1"/><stop offset="0.200" stop-color="#2364e3"/><stop offset="0.225" stop-color="#2176e6"/><stop offset="0.250" stop-color="#2088e8"/><stop offset="0.275" stop-color="#1e9bea"/><stop offset="0.300" stop-color="#1daded"/><stop offset="0.325" stop-color="#1cbfef"/><stop offset="0.350" stop-color="#1ad1f1"/><stop offset="0.375" stop-color="#23dbe7"/><stop offset="0.400" stop-color="#33e0d5"/><stop offset="0.425" stop-color="#43e5c3"/><stop offset="0.450" stop-color="#53e9b1"/><stop offset="0.475" stop-color="#63ee9e"/><stop offset="0.500" stop-color="#73f28c"/><stop offset="0.525" stop-color="#8cf278"/><stop offset="0.550" stop-color="#a5f264"/><stop offset="0.575" stop-color="#bef24f"/><stop offset="0.600" stop-color="#d7f23b"/><stop offset="0.625" stop-color="#f0f227"/><stop offset="0.650" stop-color="#fae61d"/><stop offset="0.675" stop-color="#fbd31a"/><stop offset="0.700" stop-color="#fcbf17"/><stop offset="0.725" stop-color="#fdab14"/><stop offset="0.750" stop-color="#fe9710"/><stop offset="0.775" stop-color="#ff830d"/><stop offset="0.800" stop-color="#fb6d0e"/><stop offset="0.825" stop-color="#f75610"/><stop offset="0.850" stop-color="#f23f12"/><stop offset="0.875" stop-color="#ed2713"/><stop offset="0.900" stop-color="#e01814"/><stop offset="0.925" stop-color="#c61412"/><stop offset="0.950" stop-color="#ac1010"/><stop offset="0.975" stop-color="#920c0e"/><stop offset="1.000" stop-color="#78080d"/></linearGradient></defs>
<g stroke="#969696" stroke-width="1.8" fill="none">
<path d="M77.4 26.0V362.0H436.0"/>
<path d="M77.4 26.0h4M436.0 362.0v-4"/>
<path d="M77.4 346.6h5"/>
<path d="M77.4 321.9h5"/>
<path d="M77.4 297.3h5"/>
<path d="M77.4 272.6h5"/>
<path d="M77.4 248.0h5"/>
<path d="M77.4 223.3h5"/>
<path d="M77.4 198.7h5"/>
<path d="M77.4 174.0h5"/>
<path d="M77.4 149.4h5"/>
<path d="M77.4 124.8h5"/>
<path d="M77.4 100.1h5"/>
<path d="M77.4 75.4h5"/>
<path d="M77.4 50.8h5"/>
<path d="M132.8 362.0v-5"/>
<path d="M193.4 362.0v-5"/>
<path d="M256.0 362.0v-5"/>
<path d="M320.4 362.0v-5"/>
<path d="M379.6 362.0v-5"/>
</g>
<text class="tk" transform="translate(74.4 354.6) scale(0.93 1)" text-anchor="end">−120</text>
<text class="tk" transform="translate(74.4 329.9) scale(0.93 1)" text-anchor="end">−100</text>
<text class="tk" transform="translate(74.4 305.3) scale(0.93 1)" text-anchor="end">−80</text>
<text class="tk" transform="translate(74.4 280.6) scale(0.93 1)" text-anchor="end">−60</text>
<text class="tk" transform="translate(74.4 256.0) scale(0.93 1)" text-anchor="end">−40</text>
<text class="tk" transform="translate(74.4 231.3) scale(0.93 1)" text-anchor="end">−20</text>
<text class="tk" transform="translate(74.4 206.7) scale(0.93 1)" text-anchor="end">0</text>
<text class="tk" transform="translate(74.4 182.0) scale(0.93 1)" text-anchor="end">20</text>
<text class="tk" transform="translate(74.4 157.4) scale(0.93 1)" text-anchor="end">40</text>
<text class="tk" transform="translate(74.4 132.8) scale(0.93 1)" text-anchor="end">60</text>
<text class="tk" transform="translate(74.4 108.1) scale(0.93 1)" text-anchor="end">80</text>
<text class="tk" transform="translate(74.4 83.4) scale(0.93 1)" text-anchor="end">100</text>
<text class="tk" transform="translate(74.4 58.8) scale(0.93 1)" text-anchor="end">120</text>
<text class="tk" transform="translate(133.2 386.8) scale(0.93 1)" text-anchor="middle">−100</text>
<text class="tk" transform="translate(193.9 386.8) scale(0.93 1)" text-anchor="middle">−50</text>
<text class="tk" transform="translate(256.5 386.8) scale(0.93 1)" text-anchor="middle">0</text>
<text class="tk" transform="translate(320.9 386.8) scale(0.93 1)" text-anchor="middle">50</text>
<text class="tk" transform="translate(380.1 386.8) scale(0.93 1)" text-anchor="middle">100</text>
<text x="256.5" y="408.3" text-anchor="middle" font-size="24" fill="#2a2a2a" stroke="#2a2a2a" stroke-width="0.35" textLength="54" lengthAdjust="spacingAndGlyphs">x/mm</text>
<text transform="translate(26.7 199.2) rotate(-90)" text-anchor="middle" font-size="24" fill="#2a2a2a" stroke="#2a2a2a" stroke-width="0.35" textLength="54" lengthAdjust="spacingAndGlyphs">y/mm</text>
<text x="166.5" y="34.4" font-size="23.5" fill="#222" stroke="#222" stroke-width="0.45" textLength="89" lengthAdjust="spacingAndGlyphs">Magnetic</text>
<text x="262.0" y="34.4" font-size="16" font-weight="bold" fill="#222" textLength="84" lengthAdjust="spacingAndGlyphs">flux density</text>
<g fill="none" stroke="#1a1a1a" stroke-width="0.8" opacity="0.8">
<circle cx="256.0" cy="198.7" r="147.90"/>
<circle cx="256.0" cy="198.7" r="120.78"/>
</g>
<g fill="none" stroke="#4a6a70" stroke-width="0.9" opacity="0.85">
<circle cx="256.0" cy="198.7" r="108.46" stroke="#333" stroke-width="0.6"/>
<circle cx="256.0" cy="198.7" r="49.30"/>
<circle cx="256.0" cy="198.7" r="35.74"/>
<path d="M192.4 135.1L194.9 132.6L197.6 130.3L200.3 128.0L203.1 125.9L206.0 123.9L209.0 122.0L212.0 120.2L215.2 118.5L218.3 117.0L221.6 115.6L224.9 114.3L228.2 113.1L231.6 112.1L235.0 111.2L238.4 110.5L241.9 109.8L245.4 109.4L248.9 109.0L252.5 108.8L256.0 108.7L259.5 108.8L263.1 109.0L266.6 109.4L270.1 109.8L273.6 110.5L277.0 111.2L280.4 112.1L283.8 113.1L287.1 114.3L290.4 115.6L293.7 117.0L296.8 118.5L300.0 120.2L303.0 122.0L306.0 123.9L308.9 125.9L311.7 128.0L314.4 130.3L317.1 132.6L319.6 135.1"/>
<path d="M254.4 149.4V108.7"/>
<path d="M257.6 149.4V108.7"/>
<path d="M198.2 129.8L197.7 130.2L197.2 130.6L196.7 131.1L196.2 131.5L195.7 131.9L195.2 132.4L194.7 132.8L194.3 133.3L193.8 133.7L193.3 134.2L192.8 134.6L192.4 135.1L217.7 160.4L217.9 160.1L218.2 159.8L218.5 159.5L218.8 159.3L219.1 159.0L219.4 158.7L219.7 158.5L219.9 158.2L220.2 157.9L220.5 157.7L220.8 157.4L221.1 157.2Z"/>
<path d="M313.8 129.8L314.3 130.2L314.8 130.6L315.3 131.1L315.8 131.5L316.3 131.9L316.8 132.4L317.3 132.8L317.7 133.3L318.2 133.7L318.7 134.2L319.2 134.6L319.6 135.1L294.3 160.4L294.1 160.1L293.8 159.8L293.5 159.5L293.2 159.3L292.9 159.0L292.6 158.7L292.3 158.5L292.1 158.2L291.8 157.9L291.5 157.7L291.2 157.4L290.9 157.2Z"/>
<path d="M319.6 262.3L317.1 264.8L314.4 267.1L311.7 269.4L308.9 271.5L306.0 273.5L303.0 275.4L300.0 277.2L296.8 278.9L293.7 280.4L290.4 281.8L287.1 283.1L283.8 284.3L280.4 285.3L277.0 286.2L273.6 286.9L270.1 287.6L266.6 288.0L263.1 288.4L259.5 288.6L256.0 288.7L252.5 288.6L248.9 288.4L245.4 288.0L241.9 287.6L238.4 286.9L235.0 286.2L231.6 285.3L228.2 284.3L224.9 283.1L221.6 281.8L218.3 280.4L215.2 278.9L212.0 277.2L209.0 275.4L206.0 273.5L203.1 271.5L200.3 269.4L197.6 267.1L194.9 264.8L192.4 262.3"/>
<path d="M254.4 248.0V288.7"/>
<path d="M257.6 248.0V288.7"/>
<path d="M313.8 267.6L314.3 267.2L314.8 266.8L315.3 266.3L315.8 265.9L316.3 265.5L316.8 265.0L317.3 264.6L317.7 264.1L318.2 263.7L318.7 263.2L319.2 262.8L319.6 262.3L294.3 237.0L294.1 237.3L293.8 237.6L293.5 237.9L293.2 238.1L292.9 238.4L292.6 238.7L292.3 238.9L292.1 239.2L291.8 239.5L291.5 239.7L291.2 240.0L290.9 240.2Z"/>
<path d="M198.2 267.6L197.7 267.2L197.2 266.8L196.7 266.3L196.2 265.9L195.7 265.5L195.2 265.0L194.7 264.6L194.3 264.1L193.8 263.7L193.3 263.2L192.8 262.8L192.4 262.3L217.7 237.0L217.9 237.3L218.2 237.6L218.5 237.9L218.8 238.1L219.1 238.4L219.4 238.7L219.7 238.9L219.9 239.2L220.2 239.5L220.5 239.7L220.8 240.0L221.1 240.2Z"/>
</g>
<g stroke="#ee1c25" fill="#ee1c25" stroke-linecap="round" stroke-linejoin="round">
<path d="M129.9 271.7L134.1 269.3M134.1 269.3L133.1 270.6L132.5 269.5Z" opacity="0.52" stroke-width="0.59" stroke="#d2141e" fill="#d2141e"/>
<path d="M129.9 258.4L133.5 256.7M133.5 256.7L132.4 258.0L131.8 256.8Z" opacity="0.47" stroke-width="0.57" stroke="#d2141e" fill="#d2141e"/>
<path d="M129.9 139.0L126.3 137.3M126.3 137.3L128.0 137.4L127.4 138.5Z" opacity="0.47" stroke-width="0.57" stroke="#d2141e" fill="#d2141e"/>
<path d="M129.9 125.7L125.7 123.3M125.7 123.3L127.3 123.5L126.7 124.6Z" opacity="0.52" stroke-width="0.59" stroke="#d2141e" fill="#d2141e"/>
<path d="M143.2 285.0L148.9 280.6M148.9 280.6L148.0 282.1L147.3 281.0Z" opacity="0.64" stroke-width="0.64" stroke="#d2141e" fill="#d2141e"/>
<path d="M143.2 271.7L148.4 268.3M148.4 268.3L147.4 269.7L146.7 268.6Z" opacity="0.59" stroke-width="0.61" stroke="#d2141e" fill="#d2141e"/>
<path d="M143.2 258.4L147.5 256.1M147.5 256.1L146.5 257.4L145.9 256.3Z" opacity="0.52" stroke-width="0.59" stroke="#d2141e" fill="#d2141e"/>
<path d="M143.2 245.2L146.4 243.8M146.4 243.8L145.2 245.0L144.7 243.8Z" opacity="0.44" stroke-width="0.56" stroke="#d2141e" fill="#d2141e"/>
<path d="M143.2 152.2L140.0 150.9M140.0 150.9L141.6 150.9L141.1 152.1Z" opacity="0.44" stroke-width="0.56" stroke="#d2141e" fill="#d2141e"/>
<path d="M143.2 139.0L138.8 136.7M138.8 136.7L140.5 136.8L139.9 138.0Z" opacity="0.52" stroke-width="0.59" stroke="#d2141e" fill="#d2141e"/>
<path d="M143.2 125.7L138.0 122.3M138.0 122.3L139.6 122.6L138.9 123.7Z" opacity="0.59" stroke-width="0.61" stroke="#d2141e" fill="#d2141e"/>
<path d="M143.2 112.4L137.5 108.1M137.5 108.1L139.1 108.5L138.3 109.5Z" opacity="0.64" stroke-width="0.64" stroke="#d2141e" fill="#d2141e"/>
<path d="M156.4 298.3L163.3 291.4M163.3 291.4L162.3 293.3L161.4 292.4Z" opacity="0.78" stroke-width="0.70" stroke="#d2141e" fill="#d2141e"/>
<path d="M156.4 285.0L163.3 279.0M163.3 279.0L162.3 280.7L161.5 279.8Z" opacity="0.75" stroke-width="0.69" stroke="#d2141e" fill="#d2141e"/>
<path d="M156.4 271.7L162.9 267.0M162.9 267.0L161.9 268.5L161.2 267.4Z" opacity="0.69" stroke-width="0.66" stroke="#d2141e" fill="#d2141e"/>
<path d="M156.4 258.4L161.8 255.2M161.8 255.2L160.8 256.6L160.1 255.5Z" opacity="0.59" stroke-width="0.61" stroke="#d2141e" fill="#d2141e"/>
<path d="M156.4 245.2L159.9 243.5M159.9 243.5L158.8 244.8L158.3 243.6Z" opacity="0.46" stroke-width="0.57" stroke="#d2141e" fill="#d2141e"/>
<path d="M156.4 231.9L161.0 238.0M161.0 238.0L159.2 237.0L160.5 236.0Z" opacity="0.78" stroke-width="0.90"/>
<path d="M156.4 218.6L159.4 225.8M159.4 225.8L157.9 224.4L159.4 223.8Z" opacity="0.80" stroke-width="0.91"/>
<path d="M156.4 205.3L157.5 213.2M157.5 213.2L156.4 211.4L158.0 211.2Z" opacity="0.80" stroke-width="0.91"/>
<path d="M156.4 192.1L155.4 199.9M155.4 199.9L154.9 197.9L156.5 198.1Z" opacity="0.80" stroke-width="0.91"/>
<path d="M156.4 178.8L153.5 186.0M153.5 186.0L153.5 184.0L155.0 184.6Z" opacity="0.80" stroke-width="0.91"/>
<path d="M156.4 165.5L151.9 171.6M151.9 171.6L152.4 169.7L153.6 170.6Z" opacity="0.78" stroke-width="0.90"/>
<path d="M156.4 152.2L152.9 150.6M152.9 150.6L154.6 150.7L154.1 151.8Z" opacity="0.46" stroke-width="0.57" stroke="#d2141e" fill="#d2141e"/>
<path d="M156.4 139.0L151.1 135.8M151.1 135.8L152.8 136.0L152.1 137.1Z" opacity="0.59" stroke-width="0.61" stroke="#d2141e" fill="#d2141e"/>
<path d="M156.4 125.7L150.0 121.0M150.0 121.0L151.7 121.4L151.0 122.5Z" opacity="0.69" stroke-width="0.66" stroke="#d2141e" fill="#d2141e"/>
<path d="M156.4 112.4L149.6 106.5M149.6 106.5L151.4 107.2L150.6 108.2Z" opacity="0.75" stroke-width="0.69" stroke="#d2141e" fill="#d2141e"/>
<path d="M156.4 99.1L149.6 92.3M149.6 92.3L151.5 93.3L150.6 94.2Z" opacity="0.78" stroke-width="0.70" stroke="#d2141e" fill="#d2141e"/>
<path d="M169.7 311.5L176.7 302.4M176.7 302.4L175.9 304.7L174.7 303.8Z" opacity="0.85" stroke-width="0.76" stroke="#d2141e" fill="#d2141e"/>
<path d="M169.7 298.3L177.4 289.4M177.4 289.4L176.4 291.7L175.3 290.7Z" opacity="0.85" stroke-width="0.77" stroke="#d2141e" fill="#d2141e"/>
<path d="M169.7 285.0L177.9 276.8M177.9 276.8L176.8 279.0L175.7 277.9Z" opacity="0.85" stroke-width="0.76" stroke="#d2141e" fill="#d2141e"/>
<path d="M169.7 271.7L177.9 264.8M177.9 264.8L176.7 266.7L175.8 265.7Z" opacity="0.83" stroke-width="0.73" stroke="#d2141e" fill="#d2141e"/>
<path d="M169.7 258.4L177.6 259.9M177.6 259.9L175.6 260.3L175.8 258.7Z" opacity="0.81" stroke-width="0.91"/>
<path d="M169.7 245.2L176.8 249.8M176.8 249.8L174.7 249.3L175.6 248.0Z" opacity="0.84" stroke-width="0.93"/>
<path d="M169.7 231.9L175.5 238.7M175.5 238.7L173.5 237.6L174.7 236.5Z" opacity="0.87" stroke-width="0.95"/>
<path d="M169.7 218.6L173.4 227.0M173.4 227.0L171.8 225.3L173.3 224.6Z" opacity="0.88" stroke-width="0.96"/>
<path d="M169.7 205.3L171.0 214.5M171.0 214.5L169.9 212.4L171.5 212.2Z" opacity="0.89" stroke-width="0.96"/>
<path d="M169.7 192.1L168.4 201.2M168.4 201.2L168.0 198.9L169.5 199.2Z" opacity="0.89" stroke-width="0.96"/>
<path d="M169.7 178.8L166.0 187.2M166.0 187.2L166.2 184.8L167.6 185.5Z" opacity="0.88" stroke-width="0.96"/>
<path d="M169.7 165.5L164.0 172.3M164.0 172.3L164.7 170.2L166.0 171.2Z" opacity="0.87" stroke-width="0.95"/>
<path d="M169.7 152.2L162.6 156.8M162.6 156.8L163.9 155.1L164.7 156.4Z" opacity="0.84" stroke-width="0.93"/>
<path d="M169.7 139.0L161.9 140.4M161.9 140.4L163.6 139.3L163.9 140.9Z" opacity="0.81" stroke-width="0.91"/>
<path d="M169.7 125.7L161.6 118.8M161.6 118.8L163.7 119.7L162.8 120.7Z" opacity="0.83" stroke-width="0.73" stroke="#d2141e" fill="#d2141e"/>
<path d="M169.7 112.4L161.6 104.3M161.6 104.3L163.8 105.4L162.7 106.5Z" opacity="0.85" stroke-width="0.76" stroke="#d2141e" fill="#d2141e"/>
<path d="M169.7 99.1L162.0 90.3M162.0 90.3L164.2 91.6L163.0 92.6Z" opacity="0.85" stroke-width="0.77" stroke="#d2141e" fill="#d2141e"/>
<path d="M169.7 85.9L162.7 76.7M162.7 76.7L164.7 78.1L163.5 79.0Z" opacity="0.85" stroke-width="0.76" stroke="#d2141e" fill="#d2141e"/>
<path d="M183.0 324.8L189.2 314.0M189.2 314.0L188.7 316.6L187.3 315.8Z" opacity="0.85" stroke-width="0.79" stroke="#d2141e" fill="#d2141e"/>
<path d="M183.0 311.5L190.1 300.5M190.1 300.5L189.4 303.2L187.9 302.3Z" opacity="0.85" stroke-width="0.81" stroke="#d2141e" fill="#d2141e"/>
<path d="M183.0 298.3L191.1 287.2M191.1 287.2L190.2 290.0L188.7 288.9Z" opacity="0.85" stroke-width="0.83" stroke="#d2141e" fill="#d2141e"/>
<path d="M183.0 285.0L192.5 273.7M192.5 273.7L191.3 276.6L189.8 275.4Z" opacity="0.85" stroke-width="0.87" stroke="#d2141e" fill="#d2141e"/>
<path d="M183.0 271.7L191.9 263.0M191.9 263.0L190.4 265.8L189.0 264.4Z" opacity="1.00" stroke-width="1.10"/>
<path d="M183.0 258.4L192.5 258.5M192.5 258.5L190.2 259.3L190.2 257.7Z" opacity="0.90" stroke-width="0.97"/>
<path d="M183.0 245.2L192.1 249.8M192.1 249.8L189.5 249.4L190.3 247.9Z" opacity="0.95" stroke-width="1.00"/>
<path d="M183.0 231.9L190.3 239.6M190.3 239.6L187.9 238.4L189.2 237.2Z" opacity="0.98" stroke-width="1.02"/>
<path d="M183.0 218.6L187.7 228.5M187.7 228.5L185.8 226.5L187.4 225.7Z" opacity="0.99" stroke-width="1.03"/>
<path d="M183.0 205.3L184.6 216.2M184.6 216.2L183.3 213.7L185.1 213.5Z" opacity="1.00" stroke-width="1.03"/>
<path d="M183.0 192.1L181.4 203.0M181.4 203.0L180.9 200.2L182.7 200.5Z" opacity="1.00" stroke-width="1.03"/>
<path d="M183.0 178.8L178.3 188.6M178.3 188.6L178.6 185.9L180.2 186.7Z" opacity="0.99" stroke-width="1.03"/>
<path d="M183.0 165.5L175.6 173.3M175.6 173.3L176.8 170.8L178.0 172.0Z" opacity="0.98" stroke-width="1.02"/>
<path d="M183.0 152.2L173.9 156.8M173.9 156.8L175.7 155.0L176.5 156.5Z" opacity="0.95" stroke-width="1.00"/>
<path d="M183.0 139.0L173.5 139.0M173.5 139.0L175.8 138.2L175.8 139.8Z" opacity="0.90" stroke-width="0.97"/>
<path d="M183.0 125.7L174.1 117.0M174.1 117.0L177.0 118.4L175.5 119.8Z" opacity="1.00" stroke-width="1.10"/>
<path d="M183.0 112.4L173.5 101.2M173.5 101.2L176.1 102.8L174.7 104.1Z" opacity="0.85" stroke-width="0.87" stroke="#d2141e" fill="#d2141e"/>
<path d="M183.0 99.1L174.9 88.1M174.9 88.1L177.3 89.8L175.8 90.9Z" opacity="0.85" stroke-width="0.83" stroke="#d2141e" fill="#d2141e"/>
<path d="M183.0 85.9L175.9 74.8M175.9 74.8L178.0 76.6L176.6 77.6Z" opacity="0.85" stroke-width="0.81" stroke="#d2141e" fill="#d2141e"/>
<path d="M183.0 72.6L176.7 61.8M176.7 61.8L178.7 63.6L177.3 64.4Z" opacity="0.85" stroke-width="0.79" stroke="#d2141e" fill="#d2141e"/>
<path d="M196.3 324.8L202.0 312.6M202.0 312.6L201.7 315.5L200.1 314.7Z" opacity="0.85" stroke-width="0.83" stroke="#d2141e" fill="#d2141e"/>
<path d="M196.3 311.5L203.0 298.9M203.0 298.9L202.4 301.9L200.8 301.0Z" opacity="0.85" stroke-width="0.85" stroke="#d2141e" fill="#d2141e"/>
<path d="M196.3 298.3L204.2 285.1M204.2 285.1L203.4 288.3L201.7 287.3Z" opacity="0.85" stroke-width="0.88" stroke="#d2141e" fill="#d2141e"/>
<path d="M196.3 285.0L203.9 271.1M203.9 271.1L203.2 275.1L200.9 273.8Z" opacity="1.00" stroke-width="1.22"/>
<path d="M196.3 271.7L203.9 259.6M203.9 259.6L203.1 263.1L201.1 261.9Z" opacity="1.00" stroke-width="1.19"/>
<path d="M196.3 258.4L207.2 254.2M207.2 254.2L204.9 256.1L204.2 254.3Z" opacity="1.00" stroke-width="1.06"/>
<path d="M196.3 245.2L208.1 249.4M208.1 249.4L204.9 249.3L205.6 247.4Z" opacity="1.00" stroke-width="1.10"/>
<path d="M196.3 231.9L205.6 241.1M205.6 241.1L202.6 239.6L204.1 238.1Z" opacity="1.00" stroke-width="1.13"/>
<path d="M196.3 218.6L202.0 230.4M202.0 230.4L199.7 228.1L201.6 227.1Z" opacity="1.00" stroke-width="1.13"/>
<path d="M196.3 205.3L198.2 218.3M198.2 218.3L196.7 215.4L198.8 215.1Z" opacity="1.00" stroke-width="1.13"/>
<path d="M196.3 192.1L194.3 205.1M194.3 205.1L193.7 201.8L195.8 202.1Z" opacity="1.00" stroke-width="1.13"/>
<path d="M196.3 178.8L190.5 190.6M190.5 190.6L190.9 187.3L192.9 188.2Z" opacity="1.00" stroke-width="1.13"/>
<path d="M196.3 165.5L186.9 174.7M186.9 174.7L188.4 171.8L189.9 173.3Z" opacity="1.00" stroke-width="1.13"/>
<path d="M196.3 152.2L184.4 156.5M184.4 156.5L186.9 154.5L187.6 156.4Z" opacity="1.00" stroke-width="1.10"/>
<path d="M196.3 139.0L185.4 134.8M185.4 134.8L188.3 134.9L187.6 136.7Z" opacity="1.00" stroke-width="1.06"/>
<path d="M196.3 125.7L188.6 113.6M188.6 113.6L191.4 115.9L189.5 117.1Z" opacity="1.00" stroke-width="1.19"/>
<path d="M196.3 112.4L188.6 98.5M188.6 98.5L191.6 101.3L189.3 102.5Z" opacity="1.00" stroke-width="1.22"/>
<path d="M196.3 99.1L188.4 86.0M188.4 86.0L190.8 88.2L189.1 89.2Z" opacity="0.85" stroke-width="0.88" stroke="#d2141e" fill="#d2141e"/>
<path d="M196.3 85.9L189.6 73.2M189.6 73.2L191.8 75.4L190.1 76.3Z" opacity="0.85" stroke-width="0.85" stroke="#d2141e" fill="#d2141e"/>
<path d="M196.3 72.6L190.5 60.4M190.5 60.4L192.5 62.5L190.9 63.3Z" opacity="0.85" stroke-width="0.83" stroke="#d2141e" fill="#d2141e"/>
<path d="M209.5 338.1L213.8 325.4M213.8 325.4L213.7 328.3L212.1 327.7Z" opacity="0.85" stroke-width="0.82" stroke="#d2141e" fill="#d2141e"/>
<path d="M209.5 324.8L214.4 311.5M214.4 311.5L214.3 314.5L212.6 313.9Z" opacity="0.85" stroke-width="0.85" stroke="#d2141e" fill="#d2141e"/>
<path d="M209.5 311.5L215.2 297.7M215.2 297.7L215.0 300.9L213.2 300.1Z" opacity="0.85" stroke-width="0.88" stroke="#d2141e" fill="#d2141e"/>
<path d="M209.5 298.3L216.4 283.5M216.4 283.5L216.0 287.0L214.0 286.1Z" opacity="0.85" stroke-width="0.88" stroke="#d2141e" fill="#d2141e"/>
<path d="M209.5 285.0L215.4 270.2M215.4 270.2L215.2 274.2L212.8 273.2Z" opacity="1.00" stroke-width="1.22"/>
<path d="M209.5 271.7L215.4 257.2M215.4 257.2L215.2 261.1L212.8 260.2Z" opacity="1.00" stroke-width="1.22"/>
<path d="M209.5 258.4L215.4 244.9M215.4 244.9L215.1 248.7L212.9 247.7Z" opacity="1.00" stroke-width="1.21"/>
<path d="M209.5 245.2L223.5 244.9M223.5 244.9L220.1 246.1L220.1 243.9Z" opacity="1.00" stroke-width="1.17"/>
<path d="M209.5 231.9L220.5 243.8M220.5 243.8L216.9 241.9L218.8 240.1Z" opacity="1.00" stroke-width="1.22"/>
<path d="M209.5 218.6L216.1 232.8M216.1 232.8L213.4 229.9L215.7 228.8Z" opacity="1.00" stroke-width="1.22"/>
<path d="M209.5 205.3L209.2 188.8M209.2 188.8L210.6 192.8L207.9 192.8Z" opacity="1.00" stroke-width="1.22"/>
<path d="M209.5 192.1L209.9 175.6M209.9 175.6L211.2 179.6L208.5 179.5Z" opacity="1.00" stroke-width="1.22"/>
<path d="M209.5 178.8L203.0 193.0M203.0 193.0L203.4 189.0L205.7 190.1Z" opacity="1.00" stroke-width="1.22"/>
<path d="M209.5 165.5L198.6 177.5M198.6 177.5L200.2 173.7L202.2 175.5Z" opacity="1.00" stroke-width="1.22"/>
<path d="M209.5 152.2L195.6 152.0M195.6 152.0L199.0 150.9L198.9 153.2Z" opacity="1.00" stroke-width="1.17"/>
<path d="M209.5 139.0L203.7 125.5M203.7 125.5L206.2 128.2L204.0 129.2Z" opacity="1.00" stroke-width="1.21"/>
<path d="M209.5 125.7L203.7 111.2M203.7 111.2L206.3 114.2L203.9 115.1Z" opacity="1.00" stroke-width="1.22"/>
<path d="M209.5 112.4L203.6 97.6M203.6 97.6L206.3 100.7L203.8 101.6Z" opacity="1.00" stroke-width="1.22"/>
<path d="M209.5 99.1L202.7 84.4M202.7 84.4L205.0 87.0L203.1 87.9Z" opacity="0.85" stroke-width="0.88" stroke="#d2141e" fill="#d2141e"/>
<path d="M209.5 85.9L203.8 72.0M203.8 72.0L205.9 74.5L204.1 75.2Z" opacity="0.85" stroke-width="0.88" stroke="#d2141e" fill="#d2141e"/>
<path d="M209.5 72.6L204.6 59.3M204.6 59.3L206.5 61.7L204.8 62.3Z" opacity="0.85" stroke-width="0.85" stroke="#d2141e" fill="#d2141e"/>
<path d="M209.5 59.3L205.3 46.7M205.3 46.7L207.0 49.0L205.4 49.5Z" opacity="0.85" stroke-width="0.82" stroke="#d2141e" fill="#d2141e"/>
<path d="M222.8 338.1L226.0 324.7M226.0 324.7L226.2 327.6L224.5 327.2Z" opacity="0.85" stroke-width="0.84" stroke="#d2141e" fill="#d2141e"/>
<path d="M222.8 324.8L226.5 310.7M226.5 310.7L226.7 313.8L224.8 313.3Z" opacity="0.85" stroke-width="0.86" stroke="#d2141e" fill="#d2141e"/>
<path d="M222.8 311.5L227.2 296.6M227.2 296.6L227.3 300.0L225.3 299.4Z" opacity="0.85" stroke-width="0.88" stroke="#d2141e" fill="#d2141e"/>
<path d="M222.8 298.3L227.0 282.8M227.0 282.8L227.3 286.9L224.7 286.2Z" opacity="1.00" stroke-width="1.22"/>
<path d="M222.8 285.0L227.0 269.5M227.0 269.5L227.2 273.6L224.7 272.9Z" opacity="1.00" stroke-width="1.22"/>
<path d="M222.8 271.7L226.9 256.3M226.9 256.3L227.2 260.3L224.7 259.6Z" opacity="1.00" stroke-width="1.22"/>
<path d="M222.8 258.4L226.9 243.1M226.9 243.1L227.1 247.1L224.6 246.4Z" opacity="1.00" stroke-width="1.22"/>
<path d="M222.8 245.2L225.9 230.4M225.9 230.4L226.4 234.2L223.9 233.7Z" opacity="1.00" stroke-width="1.22"/>
<path d="M222.8 231.9L221.4 215.4M221.4 215.4L223.1 219.3L220.4 219.5Z" opacity="1.00" stroke-width="1.22"/>
<path d="M222.8 218.6L222.0 202.1M222.0 202.1L223.5 206.0L220.8 206.2Z" opacity="1.00" stroke-width="1.22"/>
<path d="M222.8 205.3L222.5 188.8M222.5 188.8L224.0 192.8L221.3 192.8Z" opacity="1.00" stroke-width="1.22"/>
<path d="M222.8 192.1L223.1 175.6M223.1 175.6L224.4 179.5L221.7 179.5Z" opacity="1.00" stroke-width="1.22"/>
<path d="M222.8 178.8L223.6 162.3M223.6 162.3L224.8 166.3L222.1 166.2Z" opacity="1.00" stroke-width="1.22"/>
<path d="M222.8 165.5L224.2 149.1M224.2 149.1L225.2 153.1L222.5 152.9Z" opacity="1.00" stroke-width="1.22"/>
<path d="M222.8 152.2L219.7 137.4M219.7 137.4L221.7 140.7L219.3 141.3Z" opacity="1.00" stroke-width="1.22"/>
<path d="M222.8 139.0L218.8 123.6M218.8 123.6L221.0 127.0L218.5 127.6Z" opacity="1.00" stroke-width="1.22"/>
<path d="M222.8 125.7L218.7 110.3M218.7 110.3L220.9 113.6L218.4 114.3Z" opacity="1.00" stroke-width="1.22"/>
<path d="M222.8 112.4L218.7 97.0M218.7 97.0L220.9 100.3L218.4 101.0Z" opacity="1.00" stroke-width="1.22"/>
<path d="M222.8 99.1L218.6 83.7M218.6 83.7L220.9 87.1L218.4 87.7Z" opacity="1.00" stroke-width="1.22"/>
<path d="M222.8 85.9L218.4 71.0M218.4 71.0L220.3 73.7L218.4 74.3Z" opacity="0.85" stroke-width="0.88" stroke="#d2141e" fill="#d2141e"/>
<path d="M222.8 72.6L219.1 58.5M219.1 58.5L220.8 61.1L218.9 61.6Z" opacity="0.85" stroke-width="0.86" stroke="#d2141e" fill="#d2141e"/>
<path d="M222.8 59.3L219.6 45.9M219.6 45.9L221.2 48.5L219.4 48.9Z" opacity="0.85" stroke-width="0.84" stroke="#d2141e" fill="#d2141e"/>
<path d="M236.1 338.1L238.1 324.2M238.1 324.2L238.6 327.2L236.8 326.9Z" opacity="0.85" stroke-width="0.84" stroke="#d2141e" fill="#d2141e"/>
<path d="M236.1 324.8L238.4 310.2M238.4 310.2L238.9 313.3L237.0 313.0Z" opacity="0.85" stroke-width="0.87" stroke="#d2141e" fill="#d2141e"/>
<path d="M236.1 311.5L238.8 295.9M238.8 295.9L239.3 299.3L237.3 298.9Z" opacity="0.85" stroke-width="0.88" stroke="#d2141e" fill="#d2141e"/>
<path d="M236.1 298.3L238.6 282.5M238.6 282.5L239.3 286.4L236.7 286.0Z" opacity="1.00" stroke-width="1.22"/>
<path d="M236.1 285.0L238.6 269.2M238.6 269.2L239.3 273.2L236.7 272.8Z" opacity="1.00" stroke-width="1.22"/>
<path d="M236.1 271.7L238.5 255.9M238.5 255.9L239.2 259.9L236.6 259.5Z" opacity="1.00" stroke-width="1.22"/>
<path d="M236.1 258.4L238.5 242.6M238.5 242.6L239.2 246.6L236.6 246.2Z" opacity="1.00" stroke-width="1.22"/>
<path d="M236.1 245.2L238.4 229.3M238.4 229.3L239.1 233.3L236.6 233.0Z" opacity="1.00" stroke-width="1.22"/>
<path d="M236.1 231.9L235.2 215.4M235.2 215.4L236.8 219.3L234.1 219.4Z" opacity="1.00" stroke-width="1.22"/>
<path d="M236.1 218.6L235.6 202.1M235.6 202.1L237.1 206.0L234.4 206.1Z" opacity="1.00" stroke-width="1.22"/>
<path d="M236.1 205.3L235.9 188.8M235.9 188.8L237.3 192.8L234.6 192.8Z" opacity="1.00" stroke-width="1.22"/>
<path d="M236.1 192.1L236.3 175.6M236.3 175.6L237.6 179.5L234.9 179.5Z" opacity="1.00" stroke-width="1.22"/>
<path d="M236.1 178.8L236.6 162.3M236.6 162.3L237.8 166.3L235.1 166.2Z" opacity="1.00" stroke-width="1.22"/>
<path d="M236.1 165.5L236.9 149.0M236.9 149.0L238.1 153.1L235.4 152.9Z" opacity="1.00" stroke-width="1.22"/>
<path d="M236.1 152.2L233.8 136.4M233.8 136.4L235.6 140.0L233.0 140.4Z" opacity="1.00" stroke-width="1.22"/>
<path d="M236.1 139.0L233.7 123.1M233.7 123.1L235.6 126.8L233.0 127.1Z" opacity="1.00" stroke-width="1.22"/>
<path d="M236.1 125.7L233.7 109.9M233.7 109.9L235.5 113.5L232.9 113.9Z" opacity="1.00" stroke-width="1.22"/>
<path d="M236.1 112.4L233.6 96.6M233.6 96.6L235.5 100.2L232.9 100.6Z" opacity="1.00" stroke-width="1.22"/>
<path d="M236.1 99.1L233.6 83.3M233.6 83.3L235.5 86.9L232.9 87.3Z" opacity="1.00" stroke-width="1.22"/>
<path d="M236.1 85.9L233.3 70.3M233.3 70.3L234.9 73.3L232.9 73.6Z" opacity="0.85" stroke-width="0.88" stroke="#d2141e" fill="#d2141e"/>
<path d="M236.1 72.6L233.8 58.0M233.8 58.0L235.2 60.8L233.3 61.1Z" opacity="0.85" stroke-width="0.87" stroke="#d2141e" fill="#d2141e"/>
<path d="M236.1 59.3L234.1 45.4M234.1 45.4L235.4 48.1L233.6 48.4Z" opacity="0.85" stroke-width="0.84" stroke="#d2141e" fill="#d2141e"/>
<path d="M249.4 338.1L250.0 323.9M250.0 323.9L250.8 326.9L249.0 326.8Z" opacity="0.85" stroke-width="0.85" stroke="#d2141e" fill="#d2141e"/>
<path d="M249.4 324.8L250.1 309.9M250.1 309.9L251.0 313.0L249.0 312.9Z" opacity="0.85" stroke-width="0.88" stroke="#d2141e" fill="#d2141e"/>
<path d="M249.4 311.5L250.3 295.6M250.3 295.6L251.2 298.9L249.1 298.8Z" opacity="0.85" stroke-width="0.88" stroke="#d2141e" fill="#d2141e"/>
<path d="M249.4 298.3L250.2 282.3M250.2 282.3L251.3 286.2L248.7 286.0Z" opacity="1.00" stroke-width="1.22"/>
<path d="M249.4 285.0L250.2 269.0M250.2 269.0L251.3 272.9L248.7 272.8Z" opacity="1.00" stroke-width="1.22"/>
<path d="M249.4 271.7L250.2 255.7M250.2 255.7L251.3 259.6L248.7 259.5Z" opacity="1.00" stroke-width="1.22"/>
<path d="M249.4 258.4L250.1 242.5M250.1 242.5L251.3 246.4L248.7 246.2Z" opacity="1.00" stroke-width="1.22"/>
<path d="M249.4 245.2L248.9 228.7M248.9 228.7L250.4 232.6L247.7 232.7Z" opacity="1.00" stroke-width="1.22"/>
<path d="M249.4 231.9L249.1 215.4M249.1 215.4L250.5 219.3L247.8 219.4Z" opacity="1.00" stroke-width="1.22"/>
<path d="M249.4 218.6L249.2 202.1M249.2 202.1L250.6 206.1L247.9 206.1Z" opacity="1.00" stroke-width="1.22"/>
<path d="M249.4 205.3L249.3 188.8M249.3 188.8L250.7 192.8L248.0 192.8Z" opacity="1.00" stroke-width="1.22"/>
<path d="M249.4 192.1L249.4 175.6M249.4 175.6L250.8 179.5L248.1 179.5Z" opacity="1.00" stroke-width="1.22"/>
<path d="M249.4 178.8L249.5 162.3M249.5 162.3L250.8 166.3L248.1 166.2Z" opacity="1.00" stroke-width="1.22"/>
<path d="M249.4 165.5L249.6 149.0M249.6 149.0L250.9 153.0L248.2 153.0Z" opacity="1.00" stroke-width="1.22"/>
<path d="M249.4 152.2L249.8 135.7M249.8 135.7L251.0 139.7L248.3 139.7Z" opacity="1.00" stroke-width="1.22"/>
<path d="M249.4 139.0L248.6 123.0M248.6 123.0L250.1 126.8L247.5 126.9Z" opacity="1.00" stroke-width="1.22"/>
<path d="M249.4 125.7L248.6 109.7M248.6 109.7L250.1 113.5L247.4 113.6Z" opacity="1.00" stroke-width="1.22"/>
<path d="M249.4 112.4L248.5 96.4M248.5 96.4L250.0 100.2L247.4 100.3Z" opacity="1.00" stroke-width="1.22"/>
<path d="M249.4 99.1L248.5 83.2M248.5 83.2L250.0 86.9L247.4 87.1Z" opacity="1.00" stroke-width="1.22"/>
<path d="M249.4 85.9L248.4 69.9M248.4 69.9L249.7 73.1L247.6 73.2Z" opacity="0.85" stroke-width="0.88" stroke="#d2141e" fill="#d2141e"/>
<path d="M249.4 72.6L248.6 57.7M248.6 57.7L249.7 60.7L247.8 60.8Z" opacity="0.85" stroke-width="0.88" stroke="#d2141e" fill="#d2141e"/>
<path d="M249.4 59.3L248.7 45.2M248.7 45.2L249.8 48.0L247.9 48.1Z" opacity="0.85" stroke-width="0.85" stroke="#d2141e" fill="#d2141e"/>
<path d="M262.6 338.1L262.0 323.9M262.0 323.9L263.0 326.8L261.2 326.9Z" opacity="0.85" stroke-width="0.85" stroke="#d2141e" fill="#d2141e"/>
<path d="M262.6 324.8L261.9 309.9M261.9 309.9L263.0 312.9L261.0 313.0Z" opacity="0.85" stroke-width="0.88" stroke="#d2141e" fill="#d2141e"/>
<path d="M262.6 311.5L261.7 295.6M261.7 295.6L262.9 298.8L260.8 298.9Z" opacity="0.85" stroke-width="0.88" stroke="#d2141e" fill="#d2141e"/>
<path d="M262.6 298.3L261.8 282.3M261.8 282.3L263.3 286.0L260.7 286.2Z" opacity="1.00" stroke-width="1.22"/>
<path d="M262.6 285.0L261.8 269.0M261.8 269.0L263.3 272.8L260.7 272.9Z" opacity="1.00" stroke-width="1.22"/>
<path d="M262.6 271.7L261.8 255.7M261.8 255.7L263.3 259.5L260.7 259.6Z" opacity="1.00" stroke-width="1.22"/>
<path d="M262.6 258.4L261.9 242.5M261.9 242.5L263.3 246.2L260.7 246.4Z" opacity="1.00" stroke-width="1.22"/>
<path d="M262.6 245.2L263.1 228.7M263.1 228.7L264.3 232.7L261.6 232.6Z" opacity="1.00" stroke-width="1.22"/>
<path d="M262.6 231.9L262.9 215.4M262.9 215.4L264.2 219.4L261.5 219.3Z" opacity="1.00" stroke-width="1.22"/>
<path d="M262.6 218.6L262.8 202.1M262.8 202.1L264.1 206.1L261.4 206.1Z" opacity="1.00" stroke-width="1.22"/>
<path d="M262.6 205.3L262.7 188.8M262.7 188.8L264.0 192.8L261.3 192.8Z" opacity="1.00" stroke-width="1.22"/>
<path d="M262.6 192.1L262.6 175.6M262.6 175.6L263.9 179.5L261.2 179.5Z" opacity="1.00" stroke-width="1.22"/>
<path d="M262.6 178.8L262.5 162.3M262.5 162.3L263.9 166.2L261.2 166.3Z" opacity="1.00" stroke-width="1.22"/>
<path d="M262.6 165.5L262.4 149.0M262.4 149.0L263.8 153.0L261.1 153.0Z" opacity="1.00" stroke-width="1.22"/>
<path d="M262.6 152.2L262.2 135.7M262.2 135.7L263.7 139.7L261.0 139.7Z" opacity="1.00" stroke-width="1.22"/>
<path d="M262.6 139.0L263.4 123.0M263.4 123.0L264.5 126.9L261.9 126.8Z" opacity="1.00" stroke-width="1.22"/>
<path d="M262.6 125.7L263.4 109.7M263.4 109.7L264.6 113.6L261.9 113.5Z" opacity="1.00" stroke-width="1.22"/>
<path d="M262.6 112.4L263.5 96.4M263.5 96.4L264.6 100.3L262.0 100.2Z" opacity="1.00" stroke-width="1.22"/>
<path d="M262.6 99.1L263.5 83.2M263.5 83.2L264.6 87.1L262.0 86.9Z" opacity="1.00" stroke-width="1.22"/>
<path d="M262.6 85.9L263.6 69.9M263.6 69.9L264.4 73.2L262.3 73.1Z" opacity="0.85" stroke-width="0.88" stroke="#d2141e" fill="#d2141e"/>
<path d="M262.6 72.6L263.4 57.7M263.4 57.7L264.2 60.8L262.3 60.7Z" opacity="0.85" stroke-width="0.88" stroke="#d2141e" fill="#d2141e"/>
<path d="M262.6 59.3L263.3 45.2M263.3 45.2L264.1 48.1L262.2 48.0Z" opacity="0.85" stroke-width="0.85" stroke="#d2141e" fill="#d2141e"/>
<path d="M275.9 338.1L273.9 324.2M273.9 324.2L275.2 326.9L273.4 327.2Z" opacity="0.85" stroke-width="0.84" stroke="#d2141e" fill="#d2141e"/>
<path d="M275.9 324.8L273.6 310.2M273.6 310.2L275.0 313.0L273.1 313.3Z" opacity="0.85" stroke-width="0.87" stroke="#d2141e" fill="#d2141e"/>
<path d="M275.9 311.5L273.2 295.9M273.2 295.9L274.7 298.9L272.7 299.3Z" opacity="0.85" stroke-width="0.88" stroke="#d2141e" fill="#d2141e"/>
<path d="M275.9 298.3L273.4 282.5M273.4 282.5L275.3 286.0L272.7 286.4Z" opacity="1.00" stroke-width="1.22"/>
<path d="M275.9 285.0L273.4 269.2M273.4 269.2L275.3 272.8L272.7 273.2Z" opacity="1.00" stroke-width="1.22"/>
<path d="M275.9 271.7L273.5 255.9M273.5 255.9L275.4 259.5L272.8 259.9Z" opacity="1.00" stroke-width="1.22"/>
<path d="M275.9 258.4L273.5 242.6M273.5 242.6L275.4 246.2L272.8 246.6Z" opacity="1.00" stroke-width="1.22"/>
<path d="M275.9 245.2L273.6 229.3M273.6 229.3L275.4 233.0L272.9 233.3Z" opacity="1.00" stroke-width="1.22"/>
<path d="M275.9 231.9L276.8 215.4M276.8 215.4L277.9 219.4L275.2 219.3Z" opacity="1.00" stroke-width="1.22"/>
<path d="M275.9 218.6L276.4 202.1M276.4 202.1L277.6 206.1L274.9 206.0Z" opacity="1.00" stroke-width="1.22"/>
<path d="M275.9 205.3L276.1 188.8M276.1 188.8L277.4 192.8L274.7 192.8Z" opacity="1.00" stroke-width="1.22"/>
<path d="M275.9 192.1L275.7 175.6M275.7 175.6L277.1 179.5L274.4 179.5Z" opacity="1.00" stroke-width="1.22"/>
<path d="M275.9 178.8L275.4 162.3M275.4 162.3L276.9 166.2L274.2 166.3Z" opacity="1.00" stroke-width="1.22"/>
<path d="M275.9 165.5L275.1 149.0M275.1 149.0L276.6 152.9L273.9 153.1Z" opacity="1.00" stroke-width="1.22"/>
<path d="M275.9 152.2L278.2 136.4M278.2 136.4L279.0 140.4L276.4 140.0Z" opacity="1.00" stroke-width="1.22"/>
<path d="M275.9 139.0L278.3 123.1M278.3 123.1L279.0 127.1L276.4 126.8Z" opacity="1.00" stroke-width="1.22"/>
<path d="M275.9 125.7L278.3 109.9M278.3 109.9L279.1 113.9L276.5 113.5Z" opacity="1.00" stroke-width="1.22"/>
<path d="M275.9 112.4L278.4 96.6M278.4 96.6L279.1 100.6L276.5 100.2Z" opacity="1.00" stroke-width="1.22"/>
<path d="M275.9 99.1L278.4 83.3M278.4 83.3L279.1 87.3L276.5 86.9Z" opacity="1.00" stroke-width="1.22"/>
<path d="M275.9 85.9L278.7 70.3M278.7 70.3L279.1 73.6L277.1 73.3Z" opacity="0.85" stroke-width="0.88" stroke="#d2141e" fill="#d2141e"/>
<path d="M275.9 72.6L278.2 58.0M278.2 58.0L278.7 61.1L276.8 60.8Z" opacity="0.85" stroke-width="0.87" stroke="#d2141e" fill="#d2141e"/>
<path d="M275.9 59.3L277.9 45.4M277.9 45.4L278.4 48.4L276.6 48.1Z" opacity="0.85" stroke-width="0.84" stroke="#d2141e" fill="#d2141e"/>
<path d="M289.2 338.1L286.0 324.7M286.0 324.7L287.5 327.2L285.8 327.6Z" opacity="0.85" stroke-width="0.84" stroke="#d2141e" fill="#d2141e"/>
<path d="M289.2 324.8L285.5 310.7M285.5 310.7L287.2 313.3L285.3 313.8Z" opacity="0.85" stroke-width="0.86" stroke="#d2141e" fill="#d2141e"/>
<path d="M289.2 311.5L284.8 296.6M284.8 296.6L286.7 299.4L284.7 300.0Z" opacity="0.85" stroke-width="0.88" stroke="#d2141e" fill="#d2141e"/>
<path d="M289.2 298.3L285.0 282.8M285.0 282.8L287.3 286.2L284.7 286.9Z" opacity="1.00" stroke-width="1.22"/>
<path d="M289.2 285.0L285.0 269.5M285.0 269.5L287.3 272.9L284.8 273.6Z" opacity="1.00" stroke-width="1.22"/>
<path d="M289.2 271.7L285.1 256.3M285.1 256.3L287.3 259.6L284.8 260.3Z" opacity="1.00" stroke-width="1.22"/>
<path d="M289.2 258.4L285.1 243.1M285.1 243.1L287.4 246.4L284.9 247.1Z" opacity="1.00" stroke-width="1.22"/>
<path d="M289.2 245.2L286.1 230.4M286.1 230.4L288.1 233.7L285.6 234.2Z" opacity="1.00" stroke-width="1.22"/>
<path d="M289.2 231.9L290.6 215.4M290.6 215.4L291.6 219.5L288.9 219.3Z" opacity="1.00" stroke-width="1.22"/>
<path d="M289.2 218.6L290.0 202.1M290.0 202.1L291.2 206.2L288.5 206.0Z" opacity="1.00" stroke-width="1.22"/>
<path d="M289.2 205.3L289.5 188.8M289.5 188.8L290.7 192.8L288.0 192.8Z" opacity="1.00" stroke-width="1.22"/>
<path d="M289.2 192.1L288.9 175.6M288.9 175.6L290.3 179.5L287.6 179.5Z" opacity="1.00" stroke-width="1.22"/>
<path d="M289.2 178.8L288.4 162.3M288.4 162.3L289.9 166.2L287.2 166.3Z" opacity="1.00" stroke-width="1.22"/>
<path d="M289.2 165.5L287.8 149.1M287.8 149.1L289.5 152.9L286.8 153.1Z" opacity="1.00" stroke-width="1.22"/>
<path d="M289.2 152.2L292.3 137.4M292.3 137.4L292.7 141.3L290.3 140.7Z" opacity="1.00" stroke-width="1.22"/>
<path d="M289.2 139.0L293.2 123.6M293.2 123.6L293.5 127.6L291.0 127.0Z" opacity="1.00" stroke-width="1.22"/>
<path d="M289.2 125.7L293.3 110.3M293.3 110.3L293.6 114.3L291.1 113.6Z" opacity="1.00" stroke-width="1.22"/>
<path d="M289.2 112.4L293.3 97.0M293.3 97.0L293.6 101.0L291.1 100.3Z" opacity="1.00" stroke-width="1.22"/>
<path d="M289.2 99.1L293.4 83.7M293.4 83.7L293.6 87.7L291.1 87.1Z" opacity="1.00" stroke-width="1.22"/>
<path d="M289.2 85.9L293.6 71.0M293.6 71.0L293.6 74.3L291.7 73.7Z" opacity="0.85" stroke-width="0.88" stroke="#d2141e" fill="#d2141e"/>
<path d="M289.2 72.6L292.9 58.5M292.9 58.5L293.1 61.6L291.2 61.1Z" opacity="0.85" stroke-width="0.86" stroke="#d2141e" fill="#d2141e"/>
<path d="M289.2 59.3L292.4 45.9M292.4 45.9L292.6 48.9L290.8 48.5Z" opacity="0.85" stroke-width="0.84" stroke="#d2141e" fill="#d2141e"/>
<path d="M302.5 338.1L298.2 325.4M298.2 325.4L299.9 327.7L298.3 328.3Z" opacity="0.85" stroke-width="0.82" stroke="#d2141e" fill="#d2141e"/>
<path d="M302.5 324.8L297.6 311.5M297.6 311.5L299.4 313.9L297.7 314.5Z" opacity="0.85" stroke-width="0.85" stroke="#d2141e" fill="#d2141e"/>
<path d="M302.5 311.5L296.8 297.7M296.8 297.7L298.8 300.1L297.0 300.9Z" opacity="0.85" stroke-width="0.88" stroke="#d2141e" fill="#d2141e"/>
<path d="M302.5 298.3L295.6 283.5M295.6 283.5L298.0 286.1L296.0 287.0Z" opacity="0.85" stroke-width="0.88" stroke="#d2141e" fill="#d2141e"/>
<path d="M302.5 285.0L296.6 270.2M296.6 270.2L299.2 273.2L296.8 274.2Z" opacity="1.00" stroke-width="1.22"/>
<path d="M302.5 271.7L296.6 257.2M296.6 257.2L299.2 260.2L296.8 261.1Z" opacity="1.00" stroke-width="1.22"/>
<path d="M302.5 258.4L296.6 244.9M296.6 244.9L299.1 247.7L296.9 248.7Z" opacity="1.00" stroke-width="1.21"/>
<path d="M302.5 245.2L288.5 244.9M288.5 244.9L291.9 243.9L291.9 246.1Z" opacity="1.00" stroke-width="1.17"/>
<path d="M302.5 231.9L291.5 243.8M291.5 243.8L293.2 240.1L295.1 241.9Z" opacity="1.00" stroke-width="1.22"/>
<path d="M302.5 218.6L295.9 232.8M295.9 232.8L296.3 228.8L298.6 229.9Z" opacity="1.00" stroke-width="1.22"/>
<path d="M302.5 205.3L302.8 188.8M302.8 188.8L304.1 192.8L301.4 192.8Z" opacity="1.00" stroke-width="1.22"/>
<path d="M302.5 192.1L302.1 175.6M302.1 175.6L303.5 179.5L300.8 179.6Z" opacity="1.00" stroke-width="1.22"/>
<path d="M302.5 178.8L309.0 193.0M309.0 193.0L306.3 190.1L308.6 189.0Z" opacity="1.00" stroke-width="1.22"/>
<path d="M302.5 165.5L313.4 177.5M313.4 177.5L309.8 175.5L311.8 173.7Z" opacity="1.00" stroke-width="1.22"/>
<path d="M302.5 152.2L316.4 152.0M316.4 152.0L313.1 153.2L313.0 150.9Z" opacity="1.00" stroke-width="1.17"/>
<path d="M302.5 139.0L308.3 125.5M308.3 125.5L308.0 129.2L305.8 128.2Z" opacity="1.00" stroke-width="1.21"/>
<path d="M302.5 125.7L308.3 111.2M308.3 111.2L308.1 115.1L305.7 114.2Z" opacity="1.00" stroke-width="1.22"/>
<path d="M302.5 112.4L308.4 97.6M308.4 97.6L308.2 101.6L305.7 100.7Z" opacity="1.00" stroke-width="1.22"/>
<path d="M302.5 99.1L309.3 84.4M309.3 84.4L308.9 87.9L307.0 87.0Z" opacity="0.85" stroke-width="0.88" stroke="#d2141e" fill="#d2141e"/>
<path d="M302.5 85.9L308.2 72.0M308.2 72.0L307.9 75.2L306.1 74.5Z" opacity="0.85" stroke-width="0.88" stroke="#d2141e" fill="#d2141e"/>
<path d="M302.5 72.6L307.4 59.3M307.4 59.3L307.2 62.3L305.5 61.7Z" opacity="0.85" stroke-width="0.85" stroke="#d2141e" fill="#d2141e"/>
<path d="M302.5 59.3L306.7 46.7M306.7 46.7L306.6 49.5L305.0 49.0Z" opacity="0.85" stroke-width="0.82" stroke="#d2141e" fill="#d2141e"/>
<path d="M315.7 324.8L310.0 312.6M310.0 312.6L311.9 314.7L310.3 315.5Z" opacity="0.85" stroke-width="0.83" stroke="#d2141e" fill="#d2141e"/>
<path d="M315.7 311.5L309.0 298.9M309.0 298.9L311.2 301.0L309.6 301.9Z" opacity="0.85" stroke-width="0.85" stroke="#d2141e" fill="#d2141e"/>
<path d="M315.7 298.3L307.8 285.1M307.8 285.1L310.3 287.3L308.6 288.3Z" opacity="0.85" stroke-width="0.88" stroke="#d2141e" fill="#d2141e"/>
<path d="M315.7 285.0L308.1 271.1M308.1 271.1L311.1 273.8L308.8 275.1Z" opacity="1.00" stroke-width="1.22"/>
<path d="M315.7 271.7L308.1 259.6M308.1 259.6L310.9 261.9L308.9 263.1Z" opacity="1.00" stroke-width="1.19"/>
<path d="M315.7 258.4L304.8 254.2M304.8 254.2L307.8 254.3L307.1 256.1Z" opacity="1.00" stroke-width="1.06"/>
<path d="M315.7 245.2L303.9 249.4M303.9 249.4L306.4 247.4L307.1 249.3Z" opacity="1.00" stroke-width="1.10"/>
<path d="M315.7 231.9L306.4 241.1M306.4 241.1L307.9 238.1L309.4 239.6Z" opacity="1.00" stroke-width="1.13"/>
<path d="M315.7 218.6L310.0 230.4M310.0 230.4L310.4 227.1L312.3 228.1Z" opacity="1.00" stroke-width="1.13"/>
<path d="M315.7 205.3L313.8 218.3M313.8 218.3L313.2 215.1L315.3 215.4Z" opacity="1.00" stroke-width="1.13"/>
<path d="M315.7 192.1L317.7 205.1M317.7 205.1L316.2 202.1L318.3 201.8Z" opacity="1.00" stroke-width="1.13"/>
<path d="M315.7 178.8L321.5 190.6M321.5 190.6L319.1 188.2L321.1 187.3Z" opacity="1.00" stroke-width="1.13"/>
<path d="M315.7 165.5L325.1 174.7M325.1 174.7L322.1 173.3L323.6 171.8Z" opacity="1.00" stroke-width="1.13"/>
<path d="M315.7 152.2L327.6 156.5M327.6 156.5L324.4 156.4L325.1 154.5Z" opacity="1.00" stroke-width="1.10"/>
<path d="M315.7 139.0L326.6 134.8M326.6 134.8L324.4 136.7L323.7 134.9Z" opacity="1.00" stroke-width="1.06"/>
<path d="M315.7 125.7L323.4 113.6M323.4 113.6L322.5 117.1L320.6 115.9Z" opacity="1.00" stroke-width="1.19"/>
<path d="M315.7 112.4L323.4 98.5M323.4 98.5L322.7 102.5L320.4 101.3Z" opacity="1.00" stroke-width="1.22"/>
<path d="M315.7 99.1L323.6 86.0M323.6 86.0L322.9 89.2L321.2 88.2Z" opacity="0.85" stroke-width="0.88" stroke="#d2141e" fill="#d2141e"/>
<path d="M315.7 85.9L322.4 73.2M322.4 73.2L321.9 76.3L320.2 75.4Z" opacity="0.85" stroke-width="0.85" stroke="#d2141e" fill="#d2141e"/>
<path d="M315.7 72.6L321.5 60.4M321.5 60.4L321.1 63.3L319.5 62.5Z" opacity="0.85" stroke-width="0.83" stroke="#d2141e" fill="#d2141e"/>
<path d="M329.0 324.8L322.8 314.0M322.8 314.0L324.7 315.8L323.3 316.6Z" opacity="0.85" stroke-width="0.79" stroke="#d2141e" fill="#d2141e"/>
<path d="M329.0 311.5L321.9 300.5M321.9 300.5L324.1 302.3L322.6 303.2Z" opacity="0.85" stroke-width="0.81" stroke="#d2141e" fill="#d2141e"/>
<path d="M329.0 298.3L320.9 287.2M320.9 287.2L323.3 288.9L321.8 290.0Z" opacity="0.85" stroke-width="0.83" stroke="#d2141e" fill="#d2141e"/>
<path d="M329.0 285.0L319.5 273.7M319.5 273.7L322.2 275.4L320.7 276.6Z" opacity="0.85" stroke-width="0.87" stroke="#d2141e" fill="#d2141e"/>
<path d="M329.0 271.7L320.1 263.0M320.1 263.0L323.0 264.4L321.6 265.8Z" opacity="1.00" stroke-width="1.10"/>
<path d="M329.0 258.4L319.5 258.5M319.5 258.5L321.8 257.7L321.8 259.3Z" opacity="0.90" stroke-width="0.97"/>
<path d="M329.0 245.2L319.9 249.8M319.9 249.8L321.7 247.9L322.5 249.4Z" opacity="0.95" stroke-width="1.00"/>
<path d="M329.0 231.9L321.7 239.6M321.7 239.6L322.8 237.2L324.1 238.4Z" opacity="0.98" stroke-width="1.02"/>
<path d="M329.0 218.6L324.3 228.5M324.3 228.5L324.6 225.7L326.2 226.5Z" opacity="0.99" stroke-width="1.03"/>
<path d="M329.0 205.3L327.4 216.2M327.4 216.2L326.9 213.5L328.7 213.7Z" opacity="1.00" stroke-width="1.03"/>
<path d="M329.0 192.1L330.6 203.0M330.6 203.0L329.3 200.5L331.1 200.2Z" opacity="1.00" stroke-width="1.03"/>
<path d="M329.0 178.8L333.7 188.6M333.7 188.6L331.8 186.7L333.4 185.9Z" opacity="0.99" stroke-width="1.03"/>
<path d="M329.0 165.5L336.4 173.3M336.4 173.3L334.0 172.0L335.2 170.8Z" opacity="0.98" stroke-width="1.02"/>
<path d="M329.0 152.2L338.1 156.8M338.1 156.8L335.5 156.5L336.3 155.0Z" opacity="0.95" stroke-width="1.00"/>
<path d="M329.0 139.0L338.5 139.0M338.5 139.0L336.2 139.8L336.2 138.2Z" opacity="0.90" stroke-width="0.97"/>
<path d="M329.0 125.7L337.9 117.0M337.9 117.0L336.5 119.8L335.0 118.4Z" opacity="1.00" stroke-width="1.10"/>
<path d="M329.0 112.4L338.5 101.2M338.5 101.2L337.3 104.1L335.9 102.8Z" opacity="0.85" stroke-width="0.87" stroke="#d2141e" fill="#d2141e"/>
<path d="M329.0 99.1L337.1 88.1M337.1 88.1L336.2 90.9L334.7 89.8Z" opacity="0.85" stroke-width="0.83" stroke="#d2141e" fill="#d2141e"/>
<path d="M329.0 85.9L336.1 74.8M336.1 74.8L335.4 77.6L334.0 76.6Z" opacity="0.85" stroke-width="0.81" stroke="#d2141e" fill="#d2141e"/>
<path d="M329.0 72.6L335.3 61.8M335.3 61.8L334.7 64.4L333.3 63.6Z" opacity="0.85" stroke-width="0.79" stroke="#d2141e" fill="#d2141e"/>
<path d="M342.3 311.5L335.3 302.4M335.3 302.4L337.3 303.8L336.1 304.7Z" opacity="0.85" stroke-width="0.76" stroke="#d2141e" fill="#d2141e"/>
<path d="M342.3 298.3L334.6 289.4M334.6 289.4L336.7 290.7L335.6 291.7Z" opacity="0.85" stroke-width="0.77" stroke="#d2141e" fill="#d2141e"/>
<path d="M342.3 285.0L334.1 276.8M334.1 276.8L336.3 277.9L335.2 279.0Z" opacity="0.85" stroke-width="0.76" stroke="#d2141e" fill="#d2141e"/>
<path d="M342.3 271.7L334.1 264.8M334.1 264.8L336.2 265.7L335.3 266.7Z" opacity="0.83" stroke-width="0.73" stroke="#d2141e" fill="#d2141e"/>
<path d="M342.3 258.4L334.4 259.9M334.4 259.9L336.2 258.7L336.4 260.3Z" opacity="0.81" stroke-width="0.91"/>
<path d="M342.3 245.2L335.2 249.8M335.2 249.8L336.4 248.0L337.3 249.3Z" opacity="0.84" stroke-width="0.93"/>
<path d="M342.3 231.9L336.5 238.7M336.5 238.7L337.3 236.5L338.5 237.6Z" opacity="0.87" stroke-width="0.95"/>
<path d="M342.3 218.6L338.6 227.0M338.6 227.0L338.7 224.6L340.2 225.3Z" opacity="0.88" stroke-width="0.96"/>
<path d="M342.3 205.3L341.0 214.5M341.0 214.5L340.5 212.2L342.1 212.4Z" opacity="0.89" stroke-width="0.96"/>
<path d="M342.3 192.1L343.6 201.2M343.6 201.2L342.5 199.2L344.0 198.9Z" opacity="0.89" stroke-width="0.96"/>
<path d="M342.3 178.8L346.0 187.2M346.0 187.2L344.4 185.5L345.8 184.8Z" opacity="0.88" stroke-width="0.96"/>
<path d="M342.3 165.5L348.0 172.3M348.0 172.3L346.0 171.2L347.3 170.2Z" opacity="0.87" stroke-width="0.95"/>
<path d="M342.3 152.2L349.4 156.8M349.4 156.8L347.3 156.4L348.1 155.1Z" opacity="0.84" stroke-width="0.93"/>
<path d="M342.3 139.0L350.1 140.4M350.1 140.4L348.1 140.9L348.4 139.3Z" opacity="0.81" stroke-width="0.91"/>
<path d="M342.3 125.7L350.4 118.8M350.4 118.8L349.2 120.7L348.3 119.7Z" opacity="0.83" stroke-width="0.73" stroke="#d2141e" fill="#d2141e"/>
<path d="M342.3 112.4L350.4 104.3M350.4 104.3L349.3 106.5L348.2 105.4Z" opacity="0.85" stroke-width="0.76" stroke="#d2141e" fill="#d2141e"/>
<path d="M342.3 99.1L350.0 90.3M350.0 90.3L349.0 92.6L347.8 91.6Z" opacity="0.85" stroke-width="0.77" stroke="#d2141e" fill="#d2141e"/>
<path d="M342.3 85.9L349.3 76.7M349.3 76.7L348.5 79.0L347.3 78.1Z" opacity="0.85" stroke-width="0.76" stroke="#d2141e" fill="#d2141e"/>
<path d="M355.6 298.3L348.7 291.4M348.7 291.4L350.6 292.4L349.7 293.3Z" opacity="0.78" stroke-width="0.70" stroke="#d2141e" fill="#d2141e"/>
<path d="M355.6 285.0L348.7 279.0M348.7 279.0L350.5 279.8L349.7 280.7Z" opacity="0.75" stroke-width="0.69" stroke="#d2141e" fill="#d2141e"/>
<path d="M355.6 271.7L349.1 267.0M349.1 267.0L350.8 267.4L350.1 268.5Z" opacity="0.69" stroke-width="0.66" stroke="#d2141e" fill="#d2141e"/>
<path d="M355.6 258.4L350.2 255.2M350.2 255.2L351.9 255.5L351.2 256.6Z" opacity="0.59" stroke-width="0.61" stroke="#d2141e" fill="#d2141e"/>
<path d="M355.6 245.2L352.1 243.5M352.1 243.5L353.7 243.6L353.2 244.8Z" opacity="0.46" stroke-width="0.57" stroke="#d2141e" fill="#d2141e"/>
<path d="M355.6 231.9L351.0 238.0M351.0 238.0L351.5 236.0L352.8 237.0Z" opacity="0.78" stroke-width="0.90"/>
<path d="M355.6 218.6L352.6 225.8M352.6 225.8L352.6 223.8L354.1 224.4Z" opacity="0.80" stroke-width="0.91"/>
<path d="M355.6 205.3L354.5 213.2M354.5 213.2L354.0 211.2L355.6 211.4Z" opacity="0.80" stroke-width="0.91"/>
<path d="M355.6 192.1L356.6 199.9M356.6 199.9L355.5 198.1L357.1 197.9Z" opacity="0.80" stroke-width="0.91"/>
<path d="M355.6 178.8L358.5 186.0M358.5 186.0L357.0 184.6L358.5 184.0Z" opacity="0.80" stroke-width="0.91"/>
<path d="M355.6 165.5L360.1 171.6M360.1 171.6L358.4 170.6L359.6 169.7Z" opacity="0.78" stroke-width="0.90"/>
<path d="M355.6 152.2L359.1 150.6M359.1 150.6L357.9 151.8L357.4 150.7Z" opacity="0.46" stroke-width="0.57" stroke="#d2141e" fill="#d2141e"/>
<path d="M355.6 139.0L360.9 135.8M360.9 135.8L359.9 137.1L359.2 136.0Z" opacity="0.59" stroke-width="0.61" stroke="#d2141e" fill="#d2141e"/>
<path d="M355.6 125.7L362.0 121.0M362.0 121.0L361.0 122.5L360.3 121.4Z" opacity="0.69" stroke-width="0.66" stroke="#d2141e" fill="#d2141e"/>
<path d="M355.6 112.4L362.4 106.5M362.4 106.5L361.4 108.2L360.6 107.2Z" opacity="0.75" stroke-width="0.69" stroke="#d2141e" fill="#d2141e"/>
<path d="M355.6 99.1L362.4 92.3M362.4 92.3L361.4 94.2L360.5 93.3Z" opacity="0.78" stroke-width="0.70" stroke="#d2141e" fill="#d2141e"/>
<path d="M368.8 285.0L363.1 280.6M363.1 280.6L364.7 281.0L364.0 282.1Z" opacity="0.64" stroke-width="0.64" stroke="#d2141e" fill="#d2141e"/>
<path d="M368.8 271.7L363.6 268.3M363.6 268.3L365.3 268.6L364.6 269.7Z" opacity="0.59" stroke-width="0.61" stroke="#d2141e" fill="#d2141e"/>
<path d="M368.8 258.4L364.5 256.1M364.5 256.1L366.1 256.3L365.5 257.4Z" opacity="0.52" stroke-width="0.59" stroke="#d2141e" fill="#d2141e"/>
<path d="M368.8 245.2L365.6 243.8M365.6 243.8L367.3 243.8L366.8 245.0Z" opacity="0.44" stroke-width="0.56" stroke="#d2141e" fill="#d2141e"/>
<path d="M368.8 152.2L372.0 150.9M372.0 150.9L370.9 152.1L370.4 150.9Z" opacity="0.44" stroke-width="0.56" stroke="#d2141e" fill="#d2141e"/>
<path d="M368.8 139.0L373.2 136.7M373.2 136.7L372.1 138.0L371.5 136.8Z" opacity="0.52" stroke-width="0.59" stroke="#d2141e" fill="#d2141e"/>
<path d="M368.8 125.7L374.0 122.3M374.0 122.3L373.1 123.7L372.4 122.6Z" opacity="0.59" stroke-width="0.61" stroke="#d2141e" fill="#d2141e"/>
<path d="M368.8 112.4L374.5 108.1M374.5 108.1L373.7 109.5L372.9 108.5Z" opacity="0.64" stroke-width="0.64" stroke="#d2141e" fill="#d2141e"/>
<path d="M382.1 271.7L377.9 269.3M377.9 269.3L379.5 269.5L378.9 270.6Z" opacity="0.52" stroke-width="0.59" stroke="#d2141e" fill="#d2141e"/>
<path d="M382.1 258.4L378.5 256.7M378.5 256.7L380.2 256.8L379.6 258.0Z" opacity="0.47" stroke-width="0.57" stroke="#d2141e" fill="#d2141e"/>
<path d="M382.1 139.0L385.7 137.3M385.7 137.3L384.6 138.5L384.0 137.4Z" opacity="0.47" stroke-width="0.57" stroke="#d2141e" fill="#d2141e"/>
<path d="M382.1 125.7L386.3 123.3M386.3 123.3L385.3 124.6L384.7 123.5Z" opacity="0.52" stroke-width="0.59" stroke="#d2141e" fill="#d2141e"/>
<path d="M261.4 147.2L261.9 133.6M261.9 133.6L262.9 136.9L260.7 136.8Z" opacity="1.00" stroke-width="1.15"/>
<path d="M272.0 149.5L273.6 136.0M273.6 136.0L274.3 139.3L272.1 139.1Z" opacity="1.00" stroke-width="1.15"/>
<path d="M281.9 153.9L284.4 140.7M284.4 140.7L284.8 144.1L282.7 143.6Z" opacity="1.00" stroke-width="1.14"/>
<path d="M290.6 160.2L296.1 160.3M296.1 160.3L294.3 161.1L294.3 159.5Z" opacity="0.65" stroke-width="0.83"/>
<path d="M297.9 168.3L305.6 179.8M305.6 179.8L302.8 177.6L304.7 176.4Z" opacity="1.00" stroke-width="1.16"/>
<path d="M303.3 177.6L309.1 189.5M309.1 189.5L306.8 187.1L308.7 186.1Z" opacity="1.00" stroke-width="1.13"/>
<path d="M306.6 187.9L309.7 200.2M309.7 200.2L308.0 197.5L310.0 197.0Z" opacity="1.00" stroke-width="1.11"/>
<path d="M307.8 198.7L307.8 211.2M307.8 211.2L306.7 208.2L308.8 208.2Z" opacity="1.00" stroke-width="1.10"/>
<path d="M306.6 209.5L303.6 221.7M303.6 221.7L303.3 218.5L305.3 219.0Z" opacity="1.00" stroke-width="1.11"/>
<path d="M303.3 219.8L297.5 231.6M297.5 231.6L297.9 228.3L299.8 229.2Z" opacity="1.00" stroke-width="1.13"/>
<path d="M297.9 229.1L290.2 240.6M290.2 240.6L291.1 237.2L292.9 238.5Z" opacity="1.00" stroke-width="1.16"/>
<path d="M290.6 237.2L285.2 237.2M285.2 237.2L287.0 236.4L287.0 238.0Z" opacity="0.65" stroke-width="0.83"/>
<path d="M281.9 243.5L279.4 230.3M279.4 230.3L281.1 233.3L278.9 233.7Z" opacity="1.00" stroke-width="1.14"/>
<path d="M272.0 247.9L270.4 234.4M270.4 234.4L271.9 237.5L269.7 237.8Z" opacity="1.00" stroke-width="1.15"/>
<path d="M261.4 250.2L260.9 236.6M260.9 236.6L262.1 239.8L259.9 239.9Z" opacity="1.00" stroke-width="1.15"/>
<path d="M250.6 250.2L251.1 236.6M251.1 236.6L252.1 239.9L249.9 239.8Z" opacity="1.00" stroke-width="1.15"/>
<path d="M240.0 247.9L241.6 234.4M241.6 234.4L242.3 237.8L240.1 237.5Z" opacity="1.00" stroke-width="1.15"/>
<path d="M230.1 243.5L232.6 230.3M232.6 230.3L233.1 233.7L230.9 233.3Z" opacity="1.00" stroke-width="1.14"/>
<path d="M221.4 237.2L226.8 237.2M226.8 237.2L225.0 238.0L225.0 236.4Z" opacity="0.65" stroke-width="0.83"/>
<path d="M214.1 229.1L221.8 240.6M221.8 240.6L219.1 238.5L220.9 237.2Z" opacity="1.00" stroke-width="1.16"/>
<path d="M208.7 219.8L214.5 231.6M214.5 231.6L212.2 229.2L214.1 228.3Z" opacity="1.00" stroke-width="1.13"/>
<path d="M205.4 209.5L208.4 221.7M208.4 221.7L206.7 219.0L208.7 218.5Z" opacity="1.00" stroke-width="1.11"/>
<path d="M204.2 198.7L204.2 211.2M204.2 211.2L203.2 208.2L205.3 208.2Z" opacity="1.00" stroke-width="1.10"/>
<path d="M205.4 187.9L202.3 200.2M202.3 200.2L202.0 197.0L204.0 197.5Z" opacity="1.00" stroke-width="1.11"/>
<path d="M208.7 177.6L202.9 189.5M202.9 189.5L203.3 186.1L205.2 187.1Z" opacity="1.00" stroke-width="1.13"/>
<path d="M214.1 168.3L206.4 179.8M206.4 179.8L207.3 176.4L209.2 177.6Z" opacity="1.00" stroke-width="1.16"/>
<path d="M221.4 160.2L215.9 160.3M215.9 160.3L217.7 159.5L217.7 161.1Z" opacity="0.65" stroke-width="0.83"/>
<path d="M230.1 153.9L227.6 140.7M227.6 140.7L229.3 143.6L227.2 144.1Z" opacity="1.00" stroke-width="1.14"/>
<path d="M240.0 149.5L238.4 136.0M238.4 136.0L239.9 139.1L237.7 139.3Z" opacity="1.00" stroke-width="1.15"/>
<path d="M250.6 147.2L250.1 133.6M250.1 133.6L251.3 136.8L249.1 136.9Z" opacity="1.00" stroke-width="1.15"/>
<path d="M191.1 133.8L182.8 129.3M182.8 129.3L185.2 129.6L184.4 131.0Z" opacity="0.90" stroke-width="0.97"/>
<path d="M200.1 125.9L194.1 114.9M194.1 114.9L196.4 117.0L194.6 118.0Z" opacity="1.00" stroke-width="1.10"/>
<path d="M210.1 119.2L205.2 106.6M205.2 106.6L207.4 109.2L205.3 110.0Z" opacity="1.00" stroke-width="1.15"/>
<path d="M220.9 113.9L217.1 100.8M217.1 100.8L219.1 103.6L216.9 104.2Z" opacity="1.00" stroke-width="1.15"/>
<path d="M232.2 110.0L229.7 96.6M229.7 96.6L231.4 99.6L229.2 100.1Z" opacity="1.00" stroke-width="1.15"/>
<path d="M244.0 107.7L242.8 94.1M242.8 94.1L244.2 97.3L242.0 97.5Z" opacity="1.00" stroke-width="1.15"/>
<path d="M256.0 106.9L256.0 93.3M256.0 93.3L257.1 96.5L254.9 96.5Z" opacity="1.00" stroke-width="1.15"/>
<path d="M268.0 107.7L269.2 94.1M269.2 94.1L270.0 97.5L267.8 97.3Z" opacity="1.00" stroke-width="1.15"/>
<path d="M279.8 110.0L282.3 96.6M282.3 96.6L282.8 100.1L280.6 99.6Z" opacity="1.00" stroke-width="1.15"/>
<path d="M291.1 113.9L294.9 100.8M294.9 100.8L295.1 104.2L292.9 103.6Z" opacity="1.00" stroke-width="1.15"/>
<path d="M301.9 119.2L306.8 106.6M306.8 106.6L306.7 110.0L304.6 109.2Z" opacity="1.00" stroke-width="1.15"/>
<path d="M311.9 125.9L317.9 114.9M317.9 114.9L317.4 118.0L315.6 117.0Z" opacity="1.00" stroke-width="1.10"/>
<path d="M320.9 133.8L329.2 129.3M329.2 129.3L327.6 131.0L326.8 129.6Z" opacity="0.90" stroke-width="0.97"/>
<path d="M219.2 152.4L216.1 139.9M216.1 139.9L217.9 142.7L215.8 143.2Z" opacity="1.00" stroke-width="1.12"/>
<path d="M213.0 144.7L208.3 132.4M208.3 132.4L210.4 135.0L208.4 135.8Z" opacity="1.00" stroke-width="1.13"/>
<path d="M206.9 137.0L201.2 125.3M201.2 125.3L203.5 127.6L201.6 128.6Z" opacity="1.00" stroke-width="1.12"/>
<path d="M201.5 130.2L195.2 119.1M195.2 119.1L197.7 121.2L195.8 122.3Z" opacity="1.00" stroke-width="1.11"/>
<path d="M292.8 152.4L295.9 139.9M295.9 139.9L296.2 143.2L294.1 142.7Z" opacity="1.00" stroke-width="1.12"/>
<path d="M299.0 144.7L303.7 132.4M303.7 132.4L303.6 135.8L301.6 135.0Z" opacity="1.00" stroke-width="1.13"/>
<path d="M305.1 137.0L310.8 125.3M310.8 125.3L310.4 128.6L308.5 127.6Z" opacity="1.00" stroke-width="1.12"/>
<path d="M310.5 130.2L316.8 119.1M316.8 119.1L316.2 122.3L314.3 121.2Z" opacity="1.00" stroke-width="1.11"/>
<path d="M320.9 263.6L312.7 259.1M312.7 259.1L315.0 259.5L314.3 260.9Z" opacity="0.90" stroke-width="0.97"/>
<path d="M311.9 271.5L305.9 260.6M305.9 260.6L308.2 262.7L306.4 263.7Z" opacity="1.00" stroke-width="1.10"/>
<path d="M301.9 278.2L297.0 265.7M297.0 265.7L299.2 268.3L297.1 269.1Z" opacity="1.00" stroke-width="1.15"/>
<path d="M291.1 283.5L287.4 270.5M287.4 270.5L289.4 273.3L287.2 273.9Z" opacity="1.00" stroke-width="1.15"/>
<path d="M279.8 287.4L277.3 274.0M277.3 274.0L278.9 277.0L276.8 277.4Z" opacity="1.00" stroke-width="1.15"/>
<path d="M268.0 289.7L266.7 276.2M266.7 276.2L268.1 279.3L265.9 279.5Z" opacity="1.00" stroke-width="1.15"/>
<path d="M256.0 290.5L256.0 276.9M256.0 276.9L257.1 280.2L254.9 280.2Z" opacity="1.00" stroke-width="1.15"/>
<path d="M244.0 289.7L245.3 276.2M245.3 276.2L246.1 279.5L243.9 279.3Z" opacity="1.00" stroke-width="1.15"/>
<path d="M232.2 287.4L234.7 274.0M234.7 274.0L235.2 277.4L233.1 277.0Z" opacity="1.00" stroke-width="1.15"/>
<path d="M220.9 283.5L224.6 270.5M224.6 270.5L224.8 273.9L222.6 273.3Z" opacity="1.00" stroke-width="1.15"/>
<path d="M210.1 278.2L215.0 265.7M215.0 265.7L214.9 269.1L212.8 268.3Z" opacity="1.00" stroke-width="1.15"/>
<path d="M200.1 271.5L206.1 260.6M206.1 260.6L205.6 263.7L203.8 262.7Z" opacity="1.00" stroke-width="1.10"/>
<path d="M191.1 263.6L199.3 259.1M199.3 259.1L197.7 260.9L197.0 259.5Z" opacity="0.90" stroke-width="0.97"/>
<path d="M292.8 245.0L289.8 232.5M289.8 232.5L291.5 235.3L289.5 235.8Z" opacity="1.00" stroke-width="1.12"/>
<path d="M299.0 252.7L294.2 240.5M294.2 240.5L296.4 243.0L294.4 243.8Z" opacity="1.00" stroke-width="1.13"/>
<path d="M305.1 260.4L299.4 248.8M299.4 248.8L301.7 251.1L299.8 252.0Z" opacity="1.00" stroke-width="1.12"/>
<path d="M310.5 267.2L304.2 256.0M304.2 256.0L306.6 258.2L304.8 259.2Z" opacity="1.00" stroke-width="1.11"/>
<path d="M219.2 245.0L222.2 232.5M222.2 232.5L222.5 235.8L220.5 235.3Z" opacity="1.00" stroke-width="1.12"/>
<path d="M213.0 252.7L217.8 240.5M217.8 240.5L217.6 243.8L215.6 243.0Z" opacity="1.00" stroke-width="1.13"/>
<path d="M206.9 260.4L212.6 248.8M212.6 248.8L212.2 252.0L210.3 251.1Z" opacity="1.00" stroke-width="1.12"/>
<path d="M201.5 267.2L207.8 256.0M207.8 256.0L207.2 259.2L205.4 258.2Z" opacity="1.00" stroke-width="1.11"/>
</g>
<path d="M125.4 124.8H172.2" stroke="#ee1c25" stroke-width="0.9" stroke-dasharray="5 4" opacity="0.55" fill="none"/>
<path d="M339.8 124.8H386.6" stroke="#ee1c25" stroke-width="0.9" stroke-dasharray="5 4" opacity="0.55" fill="none"/>
<rect x="451.3" y="100.0" width="11.8" height="252.4" fill="url(#jet)"/>
<path d="M451.3 103.7h11.8" stroke="#333" stroke-width="0.6" opacity="0.35"/>
<text class="cb" x="468.7 480.3 492.0" y="111.7">1.2</text>
<path d="M451.3 145.2h11.8" stroke="#333" stroke-width="0.6" opacity="0.35"/>
<text class="cb" x="468.7" y="153.2">1</text>
<path d="M451.3 186.6h11.8" stroke="#333" stroke-width="0.6" opacity="0.35"/>
<text class="cb" x="468.7 480.3 492.0" y="194.6">0.8</text>
<path d="M451.3 228.1h11.8" stroke="#333" stroke-width="0.6" opacity="0.35"/>
<text class="cb" x="468.7 480.3 492.0" y="236.1">0.6</text>
<path d="M451.3 269.5h11.8" stroke="#333" stroke-width="0.6" opacity="0.35"/>
<text class="cb" x="468.7 480.3 492.0" y="277.5">0.4</text>
<path d="M451.3 311.0h11.8" stroke="#333" stroke-width="0.6" opacity="0.35"/>
<text class="cb" x="468.7 480.3 492.0" y="319.0">0.2</text>
<text x="471.5" y="75.3" font-size="25" fill="#2a2a2a" textLength="23.5" lengthAdjust="spacingAndGlyphs">mT</text>
<text class="cap" x="39.7" y="461.5" textLength="444.3">(a) deg.e=90°, deg.c=40°</text>
<g stroke="#969696" stroke-width="1.8" fill="none">
<path d="M585.8 19.5V358.6H948.0"/>
<path d="M585.8 19.5h4M948.0 358.6v-4"/>
<path d="M585.8 344.4h5"/>
<path d="M585.8 319.4h5"/>
<path d="M585.8 294.4h5"/>
<path d="M585.8 269.4h5"/>
<path d="M585.8 244.3h5"/>
<path d="M585.8 219.3h5"/>
<path d="M585.8 194.3h5"/>
<path d="M585.8 169.4h5"/>
<path d="M585.8 144.5h5"/>
<path d="M585.8 119.7h5"/>
<path d="M585.8 94.8h5"/>
<path d="M585.8 69.9h5"/>
<path d="M585.8 45.0h5"/>
<path d="M643.0 358.6v-5"/>
<path d="M704.0 358.6v-5"/>
<path d="M767.0 358.6v-5"/>
<path d="M831.8 358.6v-5"/>
<path d="M891.3 358.6v-5"/>
</g>
<text class="tk" transform="translate(582.8 352.4) scale(0.93 1)" text-anchor="end">−120</text>
<text class="tk" transform="translate(582.8 327.4) scale(0.93 1)" text-anchor="end">−100</text>
<text class="tk" transform="translate(582.8 302.4) scale(0.93 1)" text-anchor="end">−80</text>
<text class="tk" transform="translate(582.8 277.4) scale(0.93 1)" text-anchor="end">−60</text>
<text class="tk" transform="translate(582.8 252.3) scale(0.93 1)" text-anchor="end">−40</text>
<text class="tk" transform="translate(582.8 227.3) scale(0.93 1)" text-anchor="end">−20</text>
<text class="tk" transform="translate(582.8 202.3) scale(0.93 1)" text-anchor="end">0</text>
<text class="tk" transform="translate(582.8 177.4) scale(0.93 1)" text-anchor="end">20</text>
<text class="tk" transform="translate(582.8 152.5) scale(0.93 1)" text-anchor="end">40</text>
<text class="tk" transform="translate(582.8 127.7) scale(0.93 1)" text-anchor="end">60</text>
<text class="tk" transform="translate(582.8 102.8) scale(0.93 1)" text-anchor="end">80</text>
<text class="tk" transform="translate(582.8 77.9) scale(0.93 1)" text-anchor="end">100</text>
<text class="tk" transform="translate(582.8 53.0) scale(0.93 1)" text-anchor="end">120</text>
<text class="tk" transform="translate(643.5 383.4) scale(0.93 1)" text-anchor="middle">−100</text>
<text class="tk" transform="translate(704.5 383.4) scale(0.93 1)" text-anchor="middle">−50</text>
<text class="tk" transform="translate(767.5 383.4) scale(0.93 1)" text-anchor="middle">0</text>
<text class="tk" transform="translate(832.3 383.4) scale(0.93 1)" text-anchor="middle">50</text>
<text class="tk" transform="translate(891.8 383.4) scale(0.93 1)" text-anchor="middle">100</text>
<text x="767.5" y="404.9" text-anchor="middle" font-size="24" fill="#2a2a2a" stroke="#2a2a2a" stroke-width="0.35" textLength="54" lengthAdjust="spacingAndGlyphs">x/mm</text>
<text transform="translate(535.1 194.8) rotate(-90)" text-anchor="middle" font-size="24" fill="#2a2a2a" stroke="#2a2a2a" stroke-width="0.35" textLength="54" lengthAdjust="spacingAndGlyphs">y/mm</text>
<text x="676.7" y="28.5" font-size="23.5" fill="#222" stroke="#222" stroke-width="0.45" textLength="89" lengthAdjust="spacingAndGlyphs">Magnetic</text>
<text x="772.2" y="28.5" font-size="16" font-weight="bold" fill="#222" textLength="84" lengthAdjust="spacingAndGlyphs">flux density</text>
<g fill="none" stroke="#1a1a1a" stroke-width="0.8" opacity="0.8">
<circle cx="767.0" cy="194.3" r="148.80"/>
<circle cx="767.0" cy="194.3" r="121.52"/>
</g>
<g fill="none" stroke="#4a6a70" stroke-width="0.9" opacity="0.85">
<circle cx="767.0" cy="194.3" r="109.12" stroke="#333" stroke-width="0.6"/>
<circle cx="767.0" cy="194.3" r="49.60"/>
<circle cx="767.0" cy="194.3" r="35.96"/>
<path d="M703.0 130.3L705.6 127.8L708.2 125.5L711.0 123.2L713.8 121.1L716.7 119.0L719.7 117.1L722.8 115.3L725.9 113.6L729.1 112.1L732.4 110.7L735.7 109.4L739.0 108.2L742.4 107.2L745.9 106.3L749.3 105.5L752.8 104.9L756.4 104.4L759.9 104.1L763.4 103.8L767.0 103.8L770.6 103.8L774.1 104.1L777.6 104.4L781.2 104.9L784.7 105.5L788.1 106.3L791.6 107.2L795.0 108.2L798.3 109.4L801.6 110.7L804.9 112.1L808.1 113.6L811.2 115.3L814.3 117.1L817.3 119.0L820.2 121.1L823.0 123.2L825.8 125.5L828.4 127.8L831.0 130.3"/>
<path d="M765.4 144.7V103.8"/>
<path d="M768.6 144.7V103.8"/>
<path d="M736.0 109.2L733.0 110.4L729.9 111.7L727.0 113.1L724.0 114.6L721.2 116.2L718.4 118.0L715.6 119.8L712.9 121.7L710.3 123.7L707.8 125.8L705.4 128.0L703.0 130.3L728.4 155.7L729.8 154.3L731.3 153.0L732.8 151.7L734.4 150.5L736.0 149.4L737.7 148.3L739.4 147.2L741.1 146.3L742.9 145.4L744.7 144.5L746.5 143.7L748.3 143.0Z"/>
<path d="M798.0 109.2L801.0 110.4L804.1 111.7L807.0 113.1L810.0 114.6L812.8 116.2L815.6 118.0L818.4 119.8L821.1 121.7L823.7 123.7L826.2 125.8L828.6 128.0L831.0 130.3L805.6 155.7L804.2 154.3L802.7 153.0L801.2 151.7L799.6 150.5L798.0 149.4L796.3 148.3L794.6 147.2L792.9 146.3L791.1 145.4L789.3 144.5L787.5 143.7L785.7 143.0Z"/>
<path d="M831.0 258.3L828.4 260.8L825.8 263.1L823.0 265.4L820.2 267.5L817.3 269.6L814.3 271.5L811.2 273.3L808.1 275.0L804.9 276.5L801.6 277.9L798.3 279.2L795.0 280.4L791.6 281.4L788.1 282.3L784.7 283.1L781.2 283.7L777.6 284.2L774.1 284.5L770.6 284.8L767.0 284.8L763.4 284.8L759.9 284.5L756.4 284.2L752.8 283.7L749.3 283.1L745.9 282.3L742.4 281.4L739.0 280.4L735.7 279.2L732.4 277.9L729.1 276.5L725.9 275.0L722.8 273.3L719.7 271.5L716.7 269.6L713.8 267.5L711.0 265.4L708.2 263.1L705.6 260.8L703.0 258.3"/>
<path d="M765.4 243.9V284.8"/>
<path d="M768.6 243.9V284.8"/>
<path d="M798.0 279.4L801.0 278.2L804.1 276.9L807.0 275.5L810.0 274.0L812.8 272.4L815.6 270.6L818.4 268.8L821.1 266.9L823.7 264.9L826.2 262.8L828.6 260.6L831.0 258.3L805.6 232.9L804.2 234.3L802.7 235.6L801.2 236.9L799.6 238.1L798.0 239.2L796.3 240.3L794.6 241.4L792.9 242.3L791.1 243.2L789.3 244.1L787.5 244.9L785.7 245.6Z"/>
<path d="M736.0 279.4L733.0 278.2L729.9 276.9L727.0 275.5L724.0 274.0L721.2 272.4L718.4 270.6L715.6 268.8L712.9 266.9L710.3 264.9L707.8 262.8L705.4 260.6L703.0 258.3L728.4 232.9L729.8 234.3L731.3 235.6L732.8 236.9L734.4 238.1L736.0 239.2L737.7 240.3L739.4 241.4L741.1 242.3L742.9 243.2L744.7 244.1L746.5 244.9L748.3 245.6Z"/>
</g>
<g stroke="#ee1c25" fill="#ee1c25" stroke-linecap="round" stroke-linejoin="round">
<path d="M653.5 281.1L656.8 278.6M656.8 278.6L655.9 280.0L655.2 279.0Z" opacity="0.48" stroke-width="0.57" stroke="#d2141e" fill="#d2141e"/>
<path d="M653.5 107.5L650.2 105.0M650.2 105.0L651.8 105.4L651.0 106.4Z" opacity="0.48" stroke-width="0.57" stroke="#d2141e" fill="#d2141e"/>
<path d="M666.8 294.5L671.1 290.2M671.1 290.2L670.5 291.7L669.6 290.8Z" opacity="0.58" stroke-width="0.61" stroke="#d2141e" fill="#d2141e"/>
<path d="M666.8 281.1L670.6 277.9M670.6 277.9L669.8 279.4L669.0 278.4Z" opacity="0.52" stroke-width="0.59" stroke="#d2141e" fill="#d2141e"/>
<path d="M666.8 267.8L669.8 265.6M669.8 265.6L668.9 267.0L668.2 266.0Z" opacity="0.45" stroke-width="0.56" stroke="#d2141e" fill="#d2141e"/>
<path d="M666.8 227.7L669.5 231.8M669.5 231.8L667.8 230.7L669.2 229.9Z" opacity="0.61" stroke-width="0.81"/>
<path d="M666.8 214.3L668.5 219.1M668.5 219.1L667.2 217.7L668.7 217.2Z" opacity="0.62" stroke-width="0.82"/>
<path d="M666.8 201.0L667.4 206.1M667.4 206.1L666.4 204.4L668.0 204.2Z" opacity="0.63" stroke-width="0.82"/>
<path d="M666.8 187.6L666.3 192.8M666.3 192.8L665.7 190.9L667.2 191.1Z" opacity="0.63" stroke-width="0.82"/>
<path d="M666.8 174.3L665.1 179.1M665.1 179.1L665.0 177.1L666.5 177.6Z" opacity="0.62" stroke-width="0.82"/>
<path d="M666.8 160.9L664.2 165.1M664.2 165.1L664.5 163.1L665.9 164.0Z" opacity="0.61" stroke-width="0.81"/>
<path d="M666.8 120.8L663.9 118.7M663.9 118.7L665.5 119.1L664.7 120.1Z" opacity="0.45" stroke-width="0.56" stroke="#d2141e" fill="#d2141e"/>
<path d="M666.8 107.5L663.1 104.3M663.1 104.3L664.7 104.8L663.8 105.7Z" opacity="0.52" stroke-width="0.59" stroke="#d2141e" fill="#d2141e"/>
<path d="M666.8 94.1L662.6 89.9M662.6 89.9L664.1 90.5L663.2 91.4Z" opacity="0.58" stroke-width="0.61" stroke="#d2141e" fill="#d2141e"/>
<path d="M680.2 307.8L685.2 301.3M685.2 301.3L684.7 303.0L683.6 302.3Z" opacity="0.70" stroke-width="0.66" stroke="#d2141e" fill="#d2141e"/>
<path d="M680.2 294.5L684.9 289.0M684.9 289.0L684.4 290.6L683.4 289.7Z" opacity="0.65" stroke-width="0.64" stroke="#d2141e" fill="#d2141e"/>
<path d="M680.2 281.1L684.3 277.0M684.3 277.0L683.7 278.5L682.8 277.6Z" opacity="0.57" stroke-width="0.61" stroke="#d2141e" fill="#d2141e"/>
<path d="M680.2 267.8L683.1 265.3M683.1 265.3L682.3 266.8L681.5 265.8Z" opacity="0.46" stroke-width="0.56" stroke="#d2141e" fill="#d2141e"/>
<path d="M680.2 254.4L684.7 256.9M684.7 256.9L682.8 256.7L683.5 255.3Z" opacity="0.63" stroke-width="0.82"/>
<path d="M680.2 241.0L684.4 244.7M684.4 244.7L682.5 244.1L683.6 242.9Z" opacity="0.66" stroke-width="0.83"/>
<path d="M680.2 227.7L683.6 232.5M683.6 232.5L681.9 231.5L683.2 230.6Z" opacity="0.68" stroke-width="0.84"/>
<path d="M680.2 214.3L682.4 220.1M682.4 220.1L681.0 218.7L682.5 218.1Z" opacity="0.69" stroke-width="0.85"/>
<path d="M680.2 201.0L681.0 207.2M681.0 207.2L680.0 205.5L681.5 205.3Z" opacity="0.70" stroke-width="0.86"/>
<path d="M680.2 187.6L679.4 193.9M679.4 193.9L678.8 192.0L680.4 192.2Z" opacity="0.70" stroke-width="0.86"/>
<path d="M680.2 174.3L677.9 180.0M677.9 180.0L677.9 178.0L679.3 178.6Z" opacity="0.69" stroke-width="0.85"/>
<path d="M680.2 160.9L676.8 165.7M676.8 165.7L677.2 163.8L678.5 164.7Z" opacity="0.68" stroke-width="0.84"/>
<path d="M680.2 147.6L676.0 151.2M676.0 151.2L676.8 149.4L677.9 150.6Z" opacity="0.66" stroke-width="0.83"/>
<path d="M680.2 134.2L675.6 136.7M675.6 136.7L676.8 135.1L677.6 136.5Z" opacity="0.63" stroke-width="0.82"/>
<path d="M680.2 120.8L677.3 118.4M677.3 118.4L678.9 118.9L678.1 119.9Z" opacity="0.46" stroke-width="0.56" stroke="#d2141e" fill="#d2141e"/>
<path d="M680.2 107.5L676.1 103.4M676.1 103.4L677.6 104.0L676.7 104.9Z" opacity="0.57" stroke-width="0.61" stroke="#d2141e" fill="#d2141e"/>
<path d="M680.2 94.1L675.5 88.7M675.5 88.7L677.0 89.4L676.0 90.3Z" opacity="0.65" stroke-width="0.64" stroke="#d2141e" fill="#d2141e"/>
<path d="M680.2 80.8L675.2 74.3M675.2 74.3L676.7 75.2L675.7 76.0Z" opacity="0.70" stroke-width="0.66" stroke="#d2141e" fill="#d2141e"/>
<path d="M693.5 321.2L698.8 312.1M698.8 312.1L698.3 314.3L697.1 313.6Z" opacity="0.82" stroke-width="0.73" stroke="#d2141e" fill="#d2141e"/>
<path d="M693.5 307.8L698.8 299.7M698.8 299.7L698.3 301.7L697.2 301.0Z" opacity="0.78" stroke-width="0.70" stroke="#d2141e" fill="#d2141e"/>
<path d="M693.5 294.5L698.7 287.5M698.7 287.5L698.1 289.3L697.1 288.5Z" opacity="0.72" stroke-width="0.68" stroke="#d2141e" fill="#d2141e"/>
<path d="M693.5 281.1L698.1 275.8M698.1 275.8L697.6 277.3L696.6 276.5Z" opacity="0.63" stroke-width="0.63" stroke="#d2141e" fill="#d2141e"/>
<path d="M693.5 267.8L699.1 268.5M699.1 268.5L697.2 269.1L697.4 267.5Z" opacity="0.66" stroke-width="0.83"/>
<path d="M693.5 254.4L699.3 256.7M699.3 256.7L697.3 256.8L697.9 255.3Z" opacity="0.70" stroke-width="0.85"/>
<path d="M693.5 241.0L699.0 245.0M699.0 245.0L697.1 244.6L698.0 243.3Z" opacity="0.73" stroke-width="0.87"/>
<path d="M693.5 227.7L698.1 233.3M698.1 233.3L696.4 232.4L697.6 231.4Z" opacity="0.76" stroke-width="0.89"/>
<path d="M693.5 214.3L696.6 221.3M696.6 221.3L695.1 219.9L696.6 219.3Z" opacity="0.78" stroke-width="0.90"/>
<path d="M693.5 201.0L694.6 208.7M694.6 208.7L693.6 206.9L695.2 206.7Z" opacity="0.80" stroke-width="0.91"/>
<path d="M693.5 187.6L692.5 195.3M692.5 195.3L691.9 193.4L693.5 193.6Z" opacity="0.80" stroke-width="0.91"/>
<path d="M693.5 174.3L690.5 181.2M690.5 181.2L690.5 179.2L691.9 179.9Z" opacity="0.78" stroke-width="0.90"/>
<path d="M693.5 160.9L689.0 166.5M689.0 166.5L689.5 164.6L690.7 165.6Z" opacity="0.76" stroke-width="0.89"/>
<path d="M693.5 147.6L688.1 151.6M688.1 151.6L689.1 149.8L690.0 151.1Z" opacity="0.73" stroke-width="0.87"/>
<path d="M693.5 134.2L687.8 136.5M687.8 136.5L689.2 135.1L689.8 136.6Z" opacity="0.70" stroke-width="0.85"/>
<path d="M693.5 120.8L688.0 121.6M688.0 121.6L689.7 120.6L689.9 122.2Z" opacity="0.66" stroke-width="0.83"/>
<path d="M693.5 107.5L689.0 102.2M689.0 102.2L690.5 102.9L689.5 103.7Z" opacity="0.63" stroke-width="0.63" stroke="#d2141e" fill="#d2141e"/>
<path d="M693.5 94.1L688.4 87.2M688.4 87.2L690.0 88.2L689.0 89.0Z" opacity="0.72" stroke-width="0.68" stroke="#d2141e" fill="#d2141e"/>
<path d="M693.5 80.8L688.3 72.7M688.3 72.7L689.9 74.0L688.8 74.7Z" opacity="0.78" stroke-width="0.70" stroke="#d2141e" fill="#d2141e"/>
<path d="M693.5 67.4L688.3 58.4M688.3 58.4L690.0 59.9L688.8 60.6Z" opacity="0.82" stroke-width="0.73" stroke="#d2141e" fill="#d2141e"/>
<path d="M706.9 321.2L712.1 310.3M712.1 310.3L711.7 312.9L710.3 312.2Z" opacity="0.85" stroke-width="0.78" stroke="#d2141e" fill="#d2141e"/>
<path d="M706.9 307.8L712.5 297.3M712.5 297.3L712.0 299.8L710.7 299.1Z" opacity="0.85" stroke-width="0.77" stroke="#d2141e" fill="#d2141e"/>
<path d="M706.9 294.5L712.6 284.9M712.6 284.9L712.1 287.2L710.8 286.5Z" opacity="0.85" stroke-width="0.75" stroke="#d2141e" fill="#d2141e"/>
<path d="M706.9 281.1L712.7 277.6M712.7 277.6L711.6 279.2L710.8 277.9Z" opacity="0.73" stroke-width="0.87"/>
<path d="M706.9 267.8L713.6 267.6M713.6 267.6L711.9 268.4L711.8 266.8Z" opacity="0.73" stroke-width="0.87"/>
<path d="M706.9 254.4L714.3 256.3M714.3 256.3L712.3 256.6L712.7 255.1Z" opacity="0.79" stroke-width="0.90"/>
<path d="M706.9 241.0L714.1 245.3M714.1 245.3L712.0 245.0L712.8 243.6Z" opacity="0.83" stroke-width="0.93"/>
<path d="M706.9 227.7L713.1 234.2M713.1 234.2L711.0 233.2L712.2 232.1Z" opacity="0.87" stroke-width="0.95"/>
<path d="M706.9 214.3L711.2 222.9M711.2 222.9L709.5 221.2L710.9 220.4Z" opacity="0.91" stroke-width="0.97"/>
<path d="M706.9 201.0L708.5 210.8M708.5 210.8L707.3 208.5L708.9 208.3Z" opacity="0.93" stroke-width="0.99"/>
<path d="M706.9 187.6L705.3 197.4M705.3 197.4L704.9 194.9L706.5 195.2Z" opacity="0.93" stroke-width="0.99"/>
<path d="M706.9 174.3L702.6 182.8M702.6 182.8L702.9 180.4L704.3 181.1Z" opacity="0.91" stroke-width="0.97"/>
<path d="M706.9 160.9L700.7 167.5M700.7 167.5L701.6 165.3L702.8 166.4Z" opacity="0.87" stroke-width="0.95"/>
<path d="M706.9 147.6L699.7 151.8M699.7 151.8L701.0 150.1L701.8 151.5Z" opacity="0.83" stroke-width="0.93"/>
<path d="M706.9 134.2L699.5 136.1M699.5 136.1L701.1 134.9L701.5 136.4Z" opacity="0.79" stroke-width="0.90"/>
<path d="M706.9 120.8L700.2 120.7M700.2 120.7L702.0 119.9L701.9 121.5Z" opacity="0.73" stroke-width="0.87"/>
<path d="M706.9 107.5L701.1 104.0M701.1 104.0L703.0 104.2L702.2 105.6Z" opacity="0.73" stroke-width="0.87"/>
<path d="M706.9 94.1L701.2 84.6M701.2 84.6L703.0 86.2L701.7 86.9Z" opacity="0.85" stroke-width="0.75" stroke="#d2141e" fill="#d2141e"/>
<path d="M706.9 80.8L701.3 70.3M701.3 70.3L703.2 72.0L701.8 72.8Z" opacity="0.85" stroke-width="0.77" stroke="#d2141e" fill="#d2141e"/>
<path d="M706.9 67.4L701.8 56.6M701.8 56.6L703.5 58.4L702.1 59.1Z" opacity="0.85" stroke-width="0.78" stroke="#d2141e" fill="#d2141e"/>
<path d="M720.3 334.5L724.3 322.5M724.3 322.5L724.2 325.2L722.7 324.7Z" opacity="0.85" stroke-width="0.80" stroke="#d2141e" fill="#d2141e"/>
<path d="M720.3 321.2L724.9 308.7M724.9 308.7L724.7 311.5L723.1 310.9Z" opacity="0.85" stroke-width="0.82" stroke="#d2141e" fill="#d2141e"/>
<path d="M720.3 307.8L725.5 295.0M725.5 295.0L725.3 298.0L723.6 297.3Z" opacity="0.85" stroke-width="0.84" stroke="#d2141e" fill="#d2141e"/>
<path d="M720.3 294.5L726.6 280.8M726.6 280.8L726.2 284.0L724.4 283.2Z" opacity="0.85" stroke-width="0.88" stroke="#d2141e" fill="#d2141e"/>
<path d="M720.3 281.1L726.1 274.0M726.1 274.0L725.3 276.2L724.1 275.2Z" opacity="0.88" stroke-width="0.96"/>
<path d="M720.3 267.8L724.2 266.2M724.2 266.2L722.8 267.6L722.2 266.1Z" opacity="0.57" stroke-width="0.79"/>
<path d="M720.3 254.4L724.9 254.8M724.9 254.8L723.0 255.4L723.1 253.8Z" opacity="0.59" stroke-width="0.81"/>
<path d="M720.3 241.0L729.9 245.6M729.9 245.6L727.2 245.3L727.9 243.7Z" opacity="0.98" stroke-width="1.02"/>
<path d="M720.3 227.7L728.7 235.3M728.7 235.3L726.0 234.1L727.3 232.8Z" opacity="1.00" stroke-width="1.05"/>
<path d="M720.3 214.3L726.6 224.8M726.6 224.8L724.2 222.8L725.9 221.8Z" opacity="1.00" stroke-width="1.09"/>
<path d="M720.3 201.0L718.4 184.6M718.4 184.6L720.2 188.4L717.5 188.7Z" opacity="1.00" stroke-width="1.22"/>
<path d="M720.3 187.6L722.1 171.2M722.1 171.2L723.0 175.3L720.3 175.0Z" opacity="1.00" stroke-width="1.22"/>
<path d="M720.3 174.3L713.9 184.7M713.9 184.7L714.6 181.7L716.3 182.8Z" opacity="1.00" stroke-width="1.09"/>
<path d="M720.3 160.9L711.8 168.5M711.8 168.5L713.2 166.0L714.5 167.4Z" opacity="1.00" stroke-width="1.05"/>
<path d="M720.3 147.6L710.7 152.1M710.7 152.1L712.6 150.2L713.3 151.8Z" opacity="0.98" stroke-width="1.02"/>
<path d="M720.3 134.2L715.7 134.6M715.7 134.6L717.4 133.7L717.5 135.2Z" opacity="0.59" stroke-width="0.81"/>
<path d="M720.3 120.8L716.3 119.3M716.3 119.3L718.3 119.2L717.7 120.7Z" opacity="0.57" stroke-width="0.79"/>
<path d="M720.3 107.5L714.4 100.4M714.4 100.4L716.4 101.6L715.2 102.6Z" opacity="0.88" stroke-width="0.96"/>
<path d="M720.3 94.1L713.9 80.5M713.9 80.5L716.1 82.9L714.3 83.7Z" opacity="0.85" stroke-width="0.88" stroke="#d2141e" fill="#d2141e"/>
<path d="M720.3 80.8L715.0 68.0M715.0 68.0L716.9 70.2L715.2 70.9Z" opacity="0.85" stroke-width="0.84" stroke="#d2141e" fill="#d2141e"/>
<path d="M720.3 67.4L715.7 55.0M715.7 55.0L717.4 57.2L715.8 57.8Z" opacity="0.85" stroke-width="0.82" stroke="#d2141e" fill="#d2141e"/>
<path d="M720.3 54.1L716.2 42.0M716.2 42.0L717.8 44.2L716.3 44.7Z" opacity="0.85" stroke-width="0.80" stroke="#d2141e" fill="#d2141e"/>
<path d="M733.6 334.5L736.7 321.5M736.7 321.5L736.9 324.4L735.2 324.0Z" opacity="0.85" stroke-width="0.82" stroke="#d2141e" fill="#d2141e"/>
<path d="M733.6 321.2L737.2 307.5M737.2 307.5L737.4 310.6L735.6 310.1Z" opacity="0.85" stroke-width="0.85" stroke="#d2141e" fill="#d2141e"/>
<path d="M733.6 307.8L737.9 293.3M737.9 293.3L738.0 296.5L736.1 296.0Z" opacity="0.85" stroke-width="0.88" stroke="#d2141e" fill="#d2141e"/>
<path d="M733.6 294.5L737.8 279.3M737.8 279.3L738.0 283.3L735.5 282.6Z" opacity="1.00" stroke-width="1.22"/>
<path d="M733.6 281.1L737.9 268.8M737.9 268.8L737.9 272.1L735.9 271.4Z" opacity="1.00" stroke-width="1.12"/>
<path d="M733.6 267.8L737.5 260.7M737.5 260.7L737.3 262.7L735.9 262.0Z" opacity="0.81" stroke-width="0.92"/>
<path d="M733.6 254.4L739.6 252.3M739.6 252.3L738.1 253.6L737.6 252.1Z" opacity="0.70" stroke-width="0.86"/>
<path d="M733.6 241.0L739.7 243.4M739.7 243.4L737.7 243.5L738.3 242.0Z" opacity="0.71" stroke-width="0.86"/>
<path d="M733.6 227.7L726.2 213.0M726.2 213.0L729.2 215.9L726.8 217.1Z" opacity="1.00" stroke-width="1.22"/>
<path d="M733.6 214.3L729.5 198.4M729.5 198.4L731.8 201.9L729.1 202.5Z" opacity="1.00" stroke-width="1.22"/>
<path d="M733.6 201.0L732.3 184.5M732.3 184.5L733.9 188.4L731.3 188.6Z" opacity="1.00" stroke-width="1.22"/>
<path d="M733.6 187.6L734.9 171.2M734.9 171.2L736.0 175.2L733.3 175.0Z" opacity="1.00" stroke-width="1.22"/>
<path d="M733.6 174.3L737.8 158.3M737.8 158.3L738.1 162.5L735.5 161.8Z" opacity="1.00" stroke-width="1.22"/>
<path d="M733.6 160.9L741.0 146.2M741.0 146.2L740.5 150.3L738.1 149.1Z" opacity="1.00" stroke-width="1.22"/>
<path d="M733.6 147.6L727.5 149.9M727.5 149.9L728.9 148.5L729.5 150.0Z" opacity="0.71" stroke-width="0.86"/>
<path d="M733.6 134.2L727.7 132.1M727.7 132.1L729.6 131.9L729.1 133.4Z" opacity="0.70" stroke-width="0.86"/>
<path d="M733.6 120.8L729.7 113.8M729.7 113.8L731.4 115.1L730.0 115.8Z" opacity="0.81" stroke-width="0.92"/>
<path d="M733.6 107.5L729.3 95.2M729.3 95.2L731.4 97.8L729.3 98.5Z" opacity="1.00" stroke-width="1.12"/>
<path d="M733.6 94.1L729.5 79.0M729.5 79.0L731.7 82.3L729.2 83.0Z" opacity="1.00" stroke-width="1.22"/>
<path d="M733.6 80.8L729.3 66.3M729.3 66.3L731.2 69.0L729.3 69.5Z" opacity="0.85" stroke-width="0.88" stroke="#d2141e" fill="#d2141e"/>
<path d="M733.6 67.4L730.0 53.8M730.0 53.8L731.6 56.4L729.9 56.8Z" opacity="0.85" stroke-width="0.85" stroke="#d2141e" fill="#d2141e"/>
<path d="M733.6 54.1L730.5 41.1M730.5 41.1L732.0 43.5L730.3 43.9Z" opacity="0.85" stroke-width="0.82" stroke="#d2141e" fill="#d2141e"/>
<path d="M747.0 334.5L748.9 321.0M748.9 321.0L749.4 323.8L747.6 323.6Z" opacity="0.85" stroke-width="0.83" stroke="#d2141e" fill="#d2141e"/>
<path d="M747.0 321.2L749.2 306.9M749.2 306.9L749.7 309.9L747.8 309.6Z" opacity="0.85" stroke-width="0.86" stroke="#d2141e" fill="#d2141e"/>
<path d="M747.0 307.8L749.7 292.4M749.7 292.4L750.1 295.7L748.1 295.4Z" opacity="0.85" stroke-width="0.88" stroke="#d2141e" fill="#d2141e"/>
<path d="M747.0 294.5L749.5 278.7M749.5 278.7L750.1 282.7L747.6 282.3Z" opacity="1.00" stroke-width="1.22"/>
<path d="M747.0 281.1L749.4 265.8M749.4 265.8L750.1 269.6L747.6 269.2Z" opacity="1.00" stroke-width="1.22"/>
<path d="M747.0 267.8L749.3 252.7M749.3 252.7L749.9 256.5L747.5 256.2Z" opacity="1.00" stroke-width="1.22"/>
<path d="M747.0 254.4L748.8 240.5M748.8 240.5L749.5 244.0L747.2 243.7Z" opacity="1.00" stroke-width="1.17"/>
<path d="M747.0 241.0L755.6 243.4M755.6 243.4L753.4 243.6L753.8 242.1Z" opacity="0.87" stroke-width="0.95"/>
<path d="M747.0 227.7L742.2 211.9M742.2 211.9L744.6 215.3L742.0 216.1Z" opacity="1.00" stroke-width="1.22"/>
<path d="M747.0 214.3L744.4 198.0M744.4 198.0L746.4 201.7L743.7 202.2Z" opacity="1.00" stroke-width="1.22"/>
<path d="M747.0 201.0L746.2 184.5M746.2 184.5L747.7 188.4L745.0 188.5Z" opacity="1.00" stroke-width="1.22"/>
<path d="M747.0 187.6L747.8 171.1M747.8 171.1L748.9 175.2L746.2 175.0Z" opacity="1.00" stroke-width="1.22"/>
<path d="M747.0 174.3L749.5 158.0M749.5 158.0L750.2 162.1L747.6 161.7Z" opacity="1.00" stroke-width="1.22"/>
<path d="M747.0 160.9L751.7 145.1M751.7 145.1L751.9 149.3L749.3 148.5Z" opacity="1.00" stroke-width="1.22"/>
<path d="M747.0 147.6L738.3 150.0M738.3 150.0L740.2 148.6L740.6 150.2Z" opacity="0.87" stroke-width="0.95"/>
<path d="M747.0 134.2L745.2 120.3M745.2 120.3L746.7 123.5L744.5 123.8Z" opacity="1.00" stroke-width="1.17"/>
<path d="M747.0 120.8L744.7 105.8M744.7 105.8L746.4 109.3L744.0 109.6Z" opacity="1.00" stroke-width="1.22"/>
<path d="M747.0 107.5L744.5 92.1M744.5 92.1L746.4 95.6L743.9 96.0Z" opacity="1.00" stroke-width="1.22"/>
<path d="M747.0 94.1L744.5 78.4M744.5 78.4L746.4 82.0L743.8 82.4Z" opacity="1.00" stroke-width="1.22"/>
<path d="M747.0 80.8L744.2 65.4M744.2 65.4L745.8 68.3L743.8 68.7Z" opacity="0.85" stroke-width="0.88" stroke="#d2141e" fill="#d2141e"/>
<path d="M747.0 67.4L744.7 53.1M744.7 53.1L746.1 55.9L744.2 56.2Z" opacity="0.85" stroke-width="0.86" stroke="#d2141e" fill="#d2141e"/>
<path d="M747.0 54.1L745.0 40.5M745.0 40.5L746.3 43.1L744.5 43.4Z" opacity="0.85" stroke-width="0.83" stroke="#d2141e" fill="#d2141e"/>
<path d="M760.3 334.5L761.0 320.7M761.0 320.7L761.8 323.5L759.9 323.4Z" opacity="0.85" stroke-width="0.84" stroke="#d2141e" fill="#d2141e"/>
<path d="M760.3 321.2L761.1 306.5M761.1 306.5L761.9 309.6L760.0 309.5Z" opacity="0.85" stroke-width="0.87" stroke="#d2141e" fill="#d2141e"/>
<path d="M760.3 307.8L761.3 292.0M761.3 292.0L762.1 295.3L760.0 295.2Z" opacity="0.85" stroke-width="0.88" stroke="#d2141e" fill="#d2141e"/>
<path d="M760.3 294.5L761.1 278.5M761.1 278.5L762.3 282.4L759.6 282.3Z" opacity="1.00" stroke-width="1.22"/>
<path d="M760.3 281.1L761.1 265.2M761.1 265.2L762.2 269.1L759.6 268.9Z" opacity="1.00" stroke-width="1.22"/>
<path d="M760.3 267.8L761.1 251.8M761.1 251.8L762.2 255.7L759.6 255.6Z" opacity="1.00" stroke-width="1.22"/>
<path d="M760.3 254.4L761.1 238.5M761.1 238.5L762.2 242.4L759.6 242.2Z" opacity="1.00" stroke-width="1.22"/>
<path d="M760.3 241.0L757.3 224.8M757.3 224.8L759.3 228.5L756.7 229.0Z" opacity="1.00" stroke-width="1.22"/>
<path d="M760.3 227.7L758.7 211.3M758.7 211.3L760.4 215.1L757.7 215.3Z" opacity="1.00" stroke-width="1.22"/>
<path d="M760.3 214.3L759.5 197.9M759.5 197.9L761.0 201.7L758.3 201.9Z" opacity="1.00" stroke-width="1.22"/>
<path d="M760.3 201.0L760.1 184.5M760.1 184.5L761.5 188.4L758.8 188.5Z" opacity="1.00" stroke-width="1.22"/>
<path d="M760.3 187.6L760.6 171.1M760.6 171.1L761.9 175.1L759.2 175.1Z" opacity="1.00" stroke-width="1.22"/>
<path d="M760.3 174.3L761.2 157.8M761.2 157.8L762.3 161.8L759.6 161.7Z" opacity="1.00" stroke-width="1.22"/>
<path d="M760.3 160.9L762.0 144.5M762.0 144.5L762.9 148.6L760.2 148.3Z" opacity="1.00" stroke-width="1.22"/>
<path d="M760.3 147.6L763.3 131.3M763.3 131.3L763.9 135.5L761.3 135.0Z" opacity="1.00" stroke-width="1.22"/>
<path d="M760.3 134.2L759.6 118.3M759.6 118.3L761.0 122.0L758.4 122.2Z" opacity="1.00" stroke-width="1.22"/>
<path d="M760.3 120.8L759.5 104.9M759.5 104.9L761.0 108.7L758.4 108.8Z" opacity="1.00" stroke-width="1.22"/>
<path d="M760.3 107.5L759.5 91.5M759.5 91.5L761.0 95.3L758.4 95.4Z" opacity="1.00" stroke-width="1.22"/>
<path d="M760.3 94.1L759.5 78.2M759.5 78.2L761.0 81.9L758.4 82.1Z" opacity="1.00" stroke-width="1.22"/>
<path d="M760.3 80.8L759.4 65.0M759.4 65.0L760.6 68.1L758.5 68.2Z" opacity="0.85" stroke-width="0.88" stroke="#d2141e" fill="#d2141e"/>
<path d="M760.3 67.4L759.6 52.8M759.6 52.8L760.7 55.7L758.8 55.8Z" opacity="0.85" stroke-width="0.87" stroke="#d2141e" fill="#d2141e"/>
<path d="M760.3 54.1L759.7 40.2M759.7 40.2L760.7 43.0L758.9 43.1Z" opacity="0.85" stroke-width="0.84" stroke="#d2141e" fill="#d2141e"/>
<path d="M773.7 334.5L773.0 320.7M773.0 320.7L774.1 323.4L772.2 323.5Z" opacity="0.85" stroke-width="0.84" stroke="#d2141e" fill="#d2141e"/>
<path d="M773.7 321.2L772.9 306.5M772.9 306.5L774.0 309.5L772.1 309.6Z" opacity="0.85" stroke-width="0.87" stroke="#d2141e" fill="#d2141e"/>
<path d="M773.7 307.8L772.7 292.0M772.7 292.0L774.0 295.2L771.9 295.3Z" opacity="0.85" stroke-width="0.88" stroke="#d2141e" fill="#d2141e"/>
<path d="M773.7 294.5L772.9 278.5M772.9 278.5L774.4 282.3L771.7 282.4Z" opacity="1.00" stroke-width="1.22"/>
<path d="M773.7 281.1L772.9 265.2M772.9 265.2L774.4 268.9L771.8 269.1Z" opacity="1.00" stroke-width="1.22"/>
<path d="M773.7 267.8L772.9 251.8M772.9 251.8L774.4 255.6L771.8 255.7Z" opacity="1.00" stroke-width="1.22"/>
<path d="M773.7 254.4L772.9 238.5M772.9 238.5L774.4 242.2L771.8 242.4Z" opacity="1.00" stroke-width="1.22"/>
<path d="M773.7 241.0L776.7 224.8M776.7 224.8L777.3 229.0L774.7 228.5Z" opacity="1.00" stroke-width="1.22"/>
<path d="M773.7 227.7L775.3 211.3M775.3 211.3L776.3 215.3L773.6 215.1Z" opacity="1.00" stroke-width="1.22"/>
<path d="M773.7 214.3L774.5 197.9M774.5 197.9L775.7 201.9L773.0 201.7Z" opacity="1.00" stroke-width="1.22"/>
<path d="M773.7 201.0L773.9 184.5M773.9 184.5L775.2 188.5L772.5 188.4Z" opacity="1.00" stroke-width="1.22"/>
<path d="M773.7 187.6L773.4 171.1M773.4 171.1L774.8 175.1L772.1 175.1Z" opacity="1.00" stroke-width="1.22"/>
<path d="M773.7 174.3L772.8 157.8M772.8 157.8L774.4 161.7L771.7 161.8Z" opacity="1.00" stroke-width="1.22"/>
<path d="M773.7 160.9L772.0 144.5M772.0 144.5L773.8 148.3L771.1 148.6Z" opacity="1.00" stroke-width="1.22"/>
<path d="M773.7 147.6L770.7 131.3M770.7 131.3L772.7 135.0L770.1 135.5Z" opacity="1.00" stroke-width="1.22"/>
<path d="M773.7 134.2L774.4 118.3M774.4 118.3L775.6 122.2L773.0 122.0Z" opacity="1.00" stroke-width="1.22"/>
<path d="M773.7 120.8L774.5 104.9M774.5 104.9L775.6 108.8L773.0 108.7Z" opacity="1.00" stroke-width="1.22"/>
<path d="M773.7 107.5L774.5 91.5M774.5 91.5L775.6 95.4L773.0 95.3Z" opacity="1.00" stroke-width="1.22"/>
<path d="M773.7 94.1L774.5 78.2M774.5 78.2L775.6 82.1L773.0 81.9Z" opacity="1.00" stroke-width="1.22"/>
<path d="M773.7 80.8L774.6 65.0M774.6 65.0L775.5 68.2L773.4 68.1Z" opacity="0.85" stroke-width="0.88" stroke="#d2141e" fill="#d2141e"/>
<path d="M773.7 67.4L774.4 52.8M774.4 52.8L775.2 55.8L773.3 55.7Z" opacity="0.85" stroke-width="0.87" stroke="#d2141e" fill="#d2141e"/>
<path d="M773.7 54.1L774.3 40.2M774.3 40.2L775.1 43.1L773.3 43.0Z" opacity="0.85" stroke-width="0.84" stroke="#d2141e" fill="#d2141e"/>
<path d="M787.0 334.5L785.1 321.0M785.1 321.0L786.4 323.6L784.6 323.8Z" opacity="0.85" stroke-width="0.83" stroke="#d2141e" fill="#d2141e"/>
<path d="M787.0 321.2L784.8 306.9M784.8 306.9L786.2 309.6L784.3 309.9Z" opacity="0.85" stroke-width="0.86" stroke="#d2141e" fill="#d2141e"/>
<path d="M787.0 307.8L784.3 292.4M784.3 292.4L785.9 295.4L783.9 295.7Z" opacity="0.85" stroke-width="0.88" stroke="#d2141e" fill="#d2141e"/>
<path d="M787.0 294.5L784.5 278.7M784.5 278.7L786.4 282.3L783.9 282.7Z" opacity="1.00" stroke-width="1.22"/>
<path d="M787.0 281.1L784.6 265.8M784.6 265.8L786.4 269.2L783.9 269.6Z" opacity="1.00" stroke-width="1.22"/>
<path d="M787.0 267.8L784.7 252.7M784.7 252.7L786.5 256.2L784.1 256.5Z" opacity="1.00" stroke-width="1.22"/>
<path d="M787.0 254.4L785.2 240.5M785.2 240.5L786.8 243.7L784.5 244.0Z" opacity="1.00" stroke-width="1.17"/>
<path d="M787.0 241.0L778.4 243.4M778.4 243.4L780.2 242.1L780.6 243.6Z" opacity="0.87" stroke-width="0.95"/>
<path d="M787.0 227.7L791.8 211.9M791.8 211.9L792.0 216.1L789.4 215.3Z" opacity="1.00" stroke-width="1.22"/>
<path d="M787.0 214.3L789.6 198.0M789.6 198.0L790.3 202.2L787.6 201.7Z" opacity="1.00" stroke-width="1.22"/>
<path d="M787.0 201.0L787.8 184.5M787.8 184.5L789.0 188.5L786.3 188.4Z" opacity="1.00" stroke-width="1.22"/>
<path d="M787.0 187.6L786.2 171.1M786.2 171.1L787.8 175.0L785.1 175.2Z" opacity="1.00" stroke-width="1.22"/>
<path d="M787.0 174.3L784.5 158.0M784.5 158.0L786.4 161.7L783.8 162.1Z" opacity="1.00" stroke-width="1.22"/>
<path d="M787.0 160.9L782.3 145.1M782.3 145.1L784.7 148.5L782.1 149.3Z" opacity="1.00" stroke-width="1.22"/>
<path d="M787.0 147.6L795.7 150.0M795.7 150.0L793.4 150.2L793.8 148.6Z" opacity="0.87" stroke-width="0.95"/>
<path d="M787.0 134.2L788.8 120.3M788.8 120.3L789.5 123.8L787.3 123.5Z" opacity="1.00" stroke-width="1.17"/>
<path d="M787.0 120.8L789.3 105.8M789.3 105.8L790.0 109.6L787.6 109.3Z" opacity="1.00" stroke-width="1.22"/>
<path d="M787.0 107.5L789.5 92.1M789.5 92.1L790.1 96.0L787.6 95.6Z" opacity="1.00" stroke-width="1.22"/>
<path d="M787.0 94.1L789.5 78.4M789.5 78.4L790.2 82.4L787.6 82.0Z" opacity="1.00" stroke-width="1.22"/>
<path d="M787.0 80.8L789.8 65.4M789.8 65.4L790.2 68.7L788.2 68.3Z" opacity="0.85" stroke-width="0.88" stroke="#d2141e" fill="#d2141e"/>
<path d="M787.0 67.4L789.3 53.1M789.3 53.1L789.8 56.2L787.9 55.9Z" opacity="0.85" stroke-width="0.86" stroke="#d2141e" fill="#d2141e"/>
<path d="M787.0 54.1L789.0 40.5M789.0 40.5L789.5 43.4L787.7 43.1Z" opacity="0.85" stroke-width="0.83" stroke="#d2141e" fill="#d2141e"/>
<path d="M800.4 334.5L797.3 321.5M797.3 321.5L798.8 324.0L797.1 324.4Z" opacity="0.85" stroke-width="0.82" stroke="#d2141e" fill="#d2141e"/>
<path d="M800.4 321.2L796.8 307.5M796.8 307.5L798.4 310.1L796.6 310.6Z" opacity="0.85" stroke-width="0.85" stroke="#d2141e" fill="#d2141e"/>
<path d="M800.4 307.8L796.1 293.3M796.1 293.3L797.9 296.0L796.0 296.5Z" opacity="0.85" stroke-width="0.88" stroke="#d2141e" fill="#d2141e"/>
<path d="M800.4 294.5L796.2 279.3M796.2 279.3L798.5 282.6L796.0 283.3Z" opacity="1.00" stroke-width="1.22"/>
<path d="M800.4 281.1L796.1 268.8M796.1 268.8L798.1 271.4L796.1 272.1Z" opacity="1.00" stroke-width="1.12"/>
<path d="M800.4 267.8L796.5 260.7M796.5 260.7L798.1 262.0L796.7 262.7Z" opacity="0.81" stroke-width="0.92"/>
<path d="M800.4 254.4L794.4 252.3M794.4 252.3L796.4 252.1L795.9 253.6Z" opacity="0.70" stroke-width="0.86"/>
<path d="M800.4 241.0L794.3 243.4M794.3 243.4L795.7 242.0L796.3 243.5Z" opacity="0.71" stroke-width="0.86"/>
<path d="M800.4 227.7L807.8 213.0M807.8 213.0L807.2 217.1L804.8 215.9Z" opacity="1.00" stroke-width="1.22"/>
<path d="M800.4 214.3L804.5 198.4M804.5 198.4L804.9 202.5L802.2 201.9Z" opacity="1.00" stroke-width="1.22"/>
<path d="M800.4 201.0L801.7 184.5M801.7 184.5L802.7 188.6L800.1 188.4Z" opacity="1.00" stroke-width="1.22"/>
<path d="M800.4 187.6L799.1 171.2M799.1 171.2L800.7 175.0L798.0 175.2Z" opacity="1.00" stroke-width="1.22"/>
<path d="M800.4 174.3L796.2 158.3M796.2 158.3L798.5 161.8L795.9 162.5Z" opacity="1.00" stroke-width="1.22"/>
<path d="M800.4 160.9L793.0 146.2M793.0 146.2L795.9 149.1L793.5 150.3Z" opacity="1.00" stroke-width="1.22"/>
<path d="M800.4 147.6L806.5 149.9M806.5 149.9L804.5 150.0L805.1 148.5Z" opacity="0.71" stroke-width="0.86"/>
<path d="M800.4 134.2L806.3 132.1M806.3 132.1L804.9 133.4L804.4 131.9Z" opacity="0.70" stroke-width="0.86"/>
<path d="M800.4 120.8L804.3 113.8M804.3 113.8L804.0 115.8L802.6 115.1Z" opacity="0.81" stroke-width="0.92"/>
<path d="M800.4 107.5L804.7 95.2M804.7 95.2L804.7 98.5L802.6 97.8Z" opacity="1.00" stroke-width="1.12"/>
<path d="M800.4 94.1L804.5 79.0M804.5 79.0L804.8 83.0L802.3 82.3Z" opacity="1.00" stroke-width="1.22"/>
<path d="M800.4 80.8L804.7 66.3M804.7 66.3L804.7 69.5L802.8 69.0Z" opacity="0.85" stroke-width="0.88" stroke="#d2141e" fill="#d2141e"/>
<path d="M800.4 67.4L804.0 53.8M804.0 53.8L804.1 56.8L802.4 56.4Z" opacity="0.85" stroke-width="0.85" stroke="#d2141e" fill="#d2141e"/>
<path d="M800.4 54.1L803.5 41.1M803.5 41.1L803.7 43.9L802.0 43.5Z" opacity="0.85" stroke-width="0.82" stroke="#d2141e" fill="#d2141e"/>
<path d="M813.7 334.5L809.7 322.5M809.7 322.5L811.3 324.7L809.8 325.2Z" opacity="0.85" stroke-width="0.80" stroke="#d2141e" fill="#d2141e"/>
<path d="M813.7 321.2L809.1 308.7M809.1 308.7L810.9 310.9L809.3 311.5Z" opacity="0.85" stroke-width="0.82" stroke="#d2141e" fill="#d2141e"/>
<path d="M813.7 307.8L808.5 295.0M808.5 295.0L810.4 297.3L808.7 298.0Z" opacity="0.85" stroke-width="0.84" stroke="#d2141e" fill="#d2141e"/>
<path d="M813.7 294.5L807.4 280.8M807.4 280.8L809.6 283.2L807.8 284.0Z" opacity="0.85" stroke-width="0.88" stroke="#d2141e" fill="#d2141e"/>
<path d="M813.7 281.1L807.9 274.0M807.9 274.0L809.9 275.2L808.7 276.2Z" opacity="0.88" stroke-width="0.96"/>
<path d="M813.7 267.8L809.8 266.2M809.8 266.2L811.8 266.1L811.2 267.6Z" opacity="0.57" stroke-width="0.79"/>
<path d="M813.7 254.4L809.1 254.8M809.1 254.8L810.9 253.8L811.0 255.4Z" opacity="0.59" stroke-width="0.81"/>
<path d="M813.7 241.0L804.1 245.6M804.1 245.6L806.1 243.7L806.8 245.3Z" opacity="0.98" stroke-width="1.02"/>
<path d="M813.7 227.7L805.3 235.3M805.3 235.3L806.7 232.8L808.0 234.1Z" opacity="1.00" stroke-width="1.05"/>
<path d="M813.7 214.3L807.4 224.8M807.4 224.8L808.1 221.8L809.8 222.8Z" opacity="1.00" stroke-width="1.09"/>
<path d="M813.7 201.0L815.6 184.6M815.6 184.6L816.5 188.7L813.8 188.4Z" opacity="1.00" stroke-width="1.22"/>
<path d="M813.7 187.6L811.9 171.2M811.9 171.2L813.7 175.0L811.0 175.3Z" opacity="1.00" stroke-width="1.22"/>
<path d="M813.7 174.3L820.1 184.7M820.1 184.7L817.7 182.8L819.4 181.7Z" opacity="1.00" stroke-width="1.09"/>
<path d="M813.7 160.9L822.2 168.5M822.2 168.5L819.5 167.4L820.8 166.0Z" opacity="1.00" stroke-width="1.05"/>
<path d="M813.7 147.6L823.3 152.1M823.3 152.1L820.7 151.8L821.4 150.2Z" opacity="0.98" stroke-width="1.02"/>
<path d="M813.7 134.2L818.3 134.6M818.3 134.6L816.5 135.2L816.6 133.7Z" opacity="0.59" stroke-width="0.81"/>
<path d="M813.7 120.8L817.7 119.3M817.7 119.3L816.3 120.7L815.7 119.2Z" opacity="0.57" stroke-width="0.79"/>
<path d="M813.7 107.5L819.6 100.4M819.6 100.4L818.8 102.6L817.6 101.6Z" opacity="0.88" stroke-width="0.96"/>
<path d="M813.7 94.1L820.1 80.5M820.1 80.5L819.7 83.7L817.9 82.9Z" opacity="0.85" stroke-width="0.88" stroke="#d2141e" fill="#d2141e"/>
<path d="M813.7 80.8L819.0 68.0M819.0 68.0L818.8 70.9L817.1 70.2Z" opacity="0.85" stroke-width="0.84" stroke="#d2141e" fill="#d2141e"/>
<path d="M813.7 67.4L818.3 55.0M818.3 55.0L818.2 57.8L816.6 57.2Z" opacity="0.85" stroke-width="0.82" stroke="#d2141e" fill="#d2141e"/>
<path d="M813.7 54.1L817.8 42.0M817.8 42.0L817.7 44.7L816.2 44.2Z" opacity="0.85" stroke-width="0.80" stroke="#d2141e" fill="#d2141e"/>
<path d="M827.1 321.2L821.9 310.3M821.9 310.3L823.7 312.2L822.3 312.9Z" opacity="0.85" stroke-width="0.78" stroke="#d2141e" fill="#d2141e"/>
<path d="M827.1 307.8L821.5 297.3M821.5 297.3L823.3 299.1L822.0 299.8Z" opacity="0.85" stroke-width="0.77" stroke="#d2141e" fill="#d2141e"/>
<path d="M827.1 294.5L821.4 284.9M821.4 284.9L823.2 286.5L821.9 287.2Z" opacity="0.85" stroke-width="0.75" stroke="#d2141e" fill="#d2141e"/>
<path d="M827.1 281.1L821.3 277.6M821.3 277.6L823.2 277.9L822.4 279.2Z" opacity="0.73" stroke-width="0.87"/>
<path d="M827.1 267.8L820.4 267.6M820.4 267.6L822.2 266.8L822.1 268.4Z" opacity="0.73" stroke-width="0.87"/>
<path d="M827.1 254.4L819.7 256.3M819.7 256.3L821.3 255.1L821.7 256.6Z" opacity="0.79" stroke-width="0.90"/>
<path d="M827.1 241.0L819.9 245.3M819.9 245.3L821.2 243.6L822.0 245.0Z" opacity="0.83" stroke-width="0.93"/>
<path d="M827.1 227.7L820.9 234.2M820.9 234.2L821.8 232.1L823.0 233.2Z" opacity="0.87" stroke-width="0.95"/>
<path d="M827.1 214.3L822.8 222.9M822.8 222.9L823.1 220.4L824.5 221.2Z" opacity="0.91" stroke-width="0.97"/>
<path d="M827.1 201.0L825.5 210.8M825.5 210.8L825.1 208.3L826.7 208.5Z" opacity="0.93" stroke-width="0.99"/>
<path d="M827.1 187.6L828.7 197.4M828.7 197.4L827.5 195.2L829.1 194.9Z" opacity="0.93" stroke-width="0.99"/>
<path d="M827.1 174.3L831.4 182.8M831.4 182.8L829.7 181.1L831.1 180.4Z" opacity="0.91" stroke-width="0.97"/>
<path d="M827.1 160.9L833.3 167.5M833.3 167.5L831.2 166.4L832.4 165.3Z" opacity="0.87" stroke-width="0.95"/>
<path d="M827.1 147.6L834.3 151.8M834.3 151.8L832.2 151.5L833.0 150.1Z" opacity="0.83" stroke-width="0.93"/>
<path d="M827.1 134.2L834.5 136.1M834.5 136.1L832.5 136.4L832.9 134.9Z" opacity="0.79" stroke-width="0.90"/>
<path d="M827.1 120.8L833.8 120.7M833.8 120.7L832.1 121.5L832.0 119.9Z" opacity="0.73" stroke-width="0.87"/>
<path d="M827.1 107.5L832.9 104.0M832.9 104.0L831.8 105.6L831.0 104.2Z" opacity="0.73" stroke-width="0.87"/>
<path d="M827.1 94.1L832.8 84.6M832.8 84.6L832.3 86.9L831.0 86.2Z" opacity="0.85" stroke-width="0.75" stroke="#d2141e" fill="#d2141e"/>
<path d="M827.1 80.8L832.7 70.3M832.7 70.3L832.2 72.8L830.8 72.0Z" opacity="0.85" stroke-width="0.77" stroke="#d2141e" fill="#d2141e"/>
<path d="M827.1 67.4L832.2 56.6M832.2 56.6L831.9 59.1L830.5 58.4Z" opacity="0.85" stroke-width="0.78" stroke="#d2141e" fill="#d2141e"/>
<path d="M840.5 321.2L835.2 312.1M835.2 312.1L836.9 313.6L835.7 314.3Z" opacity="0.82" stroke-width="0.73" stroke="#d2141e" fill="#d2141e"/>
<path d="M840.5 307.8L835.2 299.7M835.2 299.7L836.8 301.0L835.7 301.7Z" opacity="0.78" stroke-width="0.70" stroke="#d2141e" fill="#d2141e"/>
<path d="M840.5 294.5L835.3 287.5M835.3 287.5L836.9 288.5L835.9 289.3Z" opacity="0.72" stroke-width="0.68" stroke="#d2141e" fill="#d2141e"/>
<path d="M840.5 281.1L835.9 275.8M835.9 275.8L837.4 276.5L836.4 277.3Z" opacity="0.63" stroke-width="0.63" stroke="#d2141e" fill="#d2141e"/>
<path d="M840.5 267.8L834.9 268.5M834.9 268.5L836.6 267.5L836.8 269.1Z" opacity="0.66" stroke-width="0.83"/>
<path d="M840.5 254.4L834.7 256.7M834.7 256.7L836.1 255.3L836.7 256.8Z" opacity="0.70" stroke-width="0.85"/>
<path d="M840.5 241.0L835.0 245.0M835.0 245.0L836.0 243.3L836.9 244.6Z" opacity="0.73" stroke-width="0.87"/>
<path d="M840.5 227.7L835.9 233.3M835.9 233.3L836.4 231.4L837.6 232.4Z" opacity="0.76" stroke-width="0.89"/>
<path d="M840.5 214.3L837.4 221.3M837.4 221.3L837.4 219.3L838.9 219.9Z" opacity="0.78" stroke-width="0.90"/>
<path d="M840.5 201.0L839.4 208.7M839.4 208.7L838.8 206.7L840.4 206.9Z" opacity="0.80" stroke-width="0.91"/>
<path d="M840.5 187.6L841.5 195.3M841.5 195.3L840.5 193.6L842.1 193.4Z" opacity="0.80" stroke-width="0.91"/>
<path d="M840.5 174.3L843.5 181.2M843.5 181.2L842.1 179.9L843.5 179.2Z" opacity="0.78" stroke-width="0.90"/>
<path d="M840.5 160.9L845.0 166.5M845.0 166.5L843.3 165.6L844.5 164.6Z" opacity="0.76" stroke-width="0.89"/>
<path d="M840.5 147.6L845.9 151.6M845.9 151.6L844.0 151.1L844.9 149.8Z" opacity="0.73" stroke-width="0.87"/>
<path d="M840.5 134.2L846.2 136.5M846.2 136.5L844.2 136.6L844.8 135.1Z" opacity="0.70" stroke-width="0.85"/>
<path d="M840.5 120.8L846.0 121.6M846.0 121.6L844.1 122.2L844.3 120.6Z" opacity="0.66" stroke-width="0.83"/>
<path d="M840.5 107.5L845.0 102.2M845.0 102.2L844.5 103.7L843.5 102.9Z" opacity="0.63" stroke-width="0.63" stroke="#d2141e" fill="#d2141e"/>
<path d="M840.5 94.1L845.6 87.2M845.6 87.2L845.0 89.0L844.0 88.2Z" opacity="0.72" stroke-width="0.68" stroke="#d2141e" fill="#d2141e"/>
<path d="M840.5 80.8L845.7 72.7M845.7 72.7L845.2 74.7L844.1 74.0Z" opacity="0.78" stroke-width="0.70" stroke="#d2141e" fill="#d2141e"/>
<path d="M840.5 67.4L845.7 58.4M845.7 58.4L845.2 60.6L844.0 59.9Z" opacity="0.82" stroke-width="0.73" stroke="#d2141e" fill="#d2141e"/>
<path d="M853.8 307.8L848.8 301.3M848.8 301.3L850.4 302.3L849.3 303.0Z" opacity="0.70" stroke-width="0.66" stroke="#d2141e" fill="#d2141e"/>
<path d="M853.8 294.5L849.1 289.0M849.1 289.0L850.6 289.7L849.6 290.6Z" opacity="0.65" stroke-width="0.64" stroke="#d2141e" fill="#d2141e"/>
<path d="M853.8 281.1L849.7 277.0M849.7 277.0L851.2 277.6L850.3 278.5Z" opacity="0.57" stroke-width="0.61" stroke="#d2141e" fill="#d2141e"/>
<path d="M853.8 267.8L850.9 265.3M850.9 265.3L852.5 265.8L851.7 266.8Z" opacity="0.46" stroke-width="0.56" stroke="#d2141e" fill="#d2141e"/>
<path d="M853.8 254.4L849.3 256.9M849.3 256.9L850.5 255.3L851.2 256.7Z" opacity="0.63" stroke-width="0.82"/>
<path d="M853.8 241.0L849.6 244.7M849.6 244.7L850.4 242.9L851.5 244.1Z" opacity="0.66" stroke-width="0.83"/>
<path d="M853.8 227.7L850.4 232.5M850.4 232.5L850.8 230.6L852.1 231.5Z" opacity="0.68" stroke-width="0.84"/>
<path d="M853.8 214.3L851.6 220.1M851.6 220.1L851.5 218.1L853.0 218.7Z" opacity="0.69" stroke-width="0.85"/>
<path d="M853.8 201.0L853.0 207.2M853.0 207.2L852.5 205.3L854.0 205.5Z" opacity="0.70" stroke-width="0.86"/>
<path d="M853.8 187.6L854.6 193.9M854.6 193.9L853.6 192.2L855.2 192.0Z" opacity="0.70" stroke-width="0.86"/>
<path d="M853.8 174.3L856.1 180.0M856.1 180.0L854.7 178.6L856.1 178.0Z" opacity="0.69" stroke-width="0.85"/>
<path d="M853.8 160.9L857.2 165.7M857.2 165.7L855.5 164.7L856.8 163.8Z" opacity="0.68" stroke-width="0.84"/>
<path d="M853.8 147.6L858.0 151.2M858.0 151.2L856.1 150.6L857.2 149.4Z" opacity="0.66" stroke-width="0.83"/>
<path d="M853.8 134.2L858.4 136.7M858.4 136.7L856.4 136.5L857.2 135.1Z" opacity="0.63" stroke-width="0.82"/>
<path d="M853.8 120.8L856.7 118.4M856.7 118.4L855.9 119.9L855.1 118.9Z" opacity="0.46" stroke-width="0.56" stroke="#d2141e" fill="#d2141e"/>
<path d="M853.8 107.5L857.9 103.4M857.9 103.4L857.3 104.9L856.4 104.0Z" opacity="0.57" stroke-width="0.61" stroke="#d2141e" fill="#d2141e"/>
<path d="M853.8 94.1L858.5 88.7M858.5 88.7L858.0 90.3L857.0 89.4Z" opacity="0.65" stroke-width="0.64" stroke="#d2141e" fill="#d2141e"/>
<path d="M853.8 80.8L858.8 74.3M858.8 74.3L858.3 76.0L857.3 75.2Z" opacity="0.70" stroke-width="0.66" stroke="#d2141e" fill="#d2141e"/>
<path d="M867.2 294.5L862.9 290.2M862.9 290.2L864.4 290.8L863.5 291.7Z" opacity="0.58" stroke-width="0.61" stroke="#d2141e" fill="#d2141e"/>
<path d="M867.2 281.1L863.4 277.9M863.4 277.9L865.0 278.4L864.2 279.4Z" opacity="0.52" stroke-width="0.59" stroke="#d2141e" fill="#d2141e"/>
<path d="M867.2 267.8L864.2 265.6M864.2 265.6L865.8 266.0L865.1 267.0Z" opacity="0.45" stroke-width="0.56" stroke="#d2141e" fill="#d2141e"/>
<path d="M867.2 227.7L864.5 231.8M864.5 231.8L864.8 229.9L866.2 230.7Z" opacity="0.61" stroke-width="0.81"/>
<path d="M867.2 214.3L865.5 219.1M865.5 219.1L865.3 217.2L866.8 217.7Z" opacity="0.62" stroke-width="0.82"/>
<path d="M867.2 201.0L866.6 206.1M866.6 206.1L866.0 204.2L867.6 204.4Z" opacity="0.63" stroke-width="0.82"/>
<path d="M867.2 187.6L867.7 192.8M867.7 192.8L866.8 191.1L868.3 190.9Z" opacity="0.63" stroke-width="0.82"/>
<path d="M867.2 174.3L868.9 179.1M868.9 179.1L867.5 177.6L869.0 177.1Z" opacity="0.62" stroke-width="0.82"/>
<path d="M867.2 160.9L869.8 165.1M869.8 165.1L868.1 164.0L869.5 163.1Z" opacity="0.61" stroke-width="0.81"/>
<path d="M867.2 120.8L870.1 118.7M870.1 118.7L869.3 120.1L868.5 119.1Z" opacity="0.45" stroke-width="0.56" stroke="#d2141e" fill="#d2141e"/>
<path d="M867.2 107.5L870.9 104.3M870.9 104.3L870.2 105.7L869.3 104.8Z" opacity="0.52" stroke-width="0.59" stroke="#d2141e" fill="#d2141e"/>
<path d="M867.2 94.1L871.4 89.9M871.4 89.9L870.8 91.4L869.9 90.5Z" opacity="0.58" stroke-width="0.61" stroke="#d2141e" fill="#d2141e"/>
<path d="M880.5 281.1L877.2 278.6M877.2 278.6L878.8 279.0L878.1 280.0Z" opacity="0.48" stroke-width="0.57" stroke="#d2141e" fill="#d2141e"/>
<path d="M880.5 107.5L883.8 105.0M883.8 105.0L883.0 106.4L882.2 105.4Z" opacity="0.48" stroke-width="0.57" stroke="#d2141e" fill="#d2141e"/>
<path d="M772.4 142.5L773.0 129.0M773.0 129.0L773.9 132.3L771.7 132.2Z" opacity="1.00" stroke-width="1.15"/>
<path d="M783.1 144.8L783.6 133.7M783.6 133.7L784.4 136.4L782.6 136.3Z" opacity="1.00" stroke-width="1.04"/>
<path d="M793.0 149.2L804.3 155.3M804.3 155.3L801.1 154.7L802.1 152.9Z" opacity="1.00" stroke-width="1.11"/>
<path d="M801.8 155.6L811.3 161.8M811.3 161.8L808.5 161.1L809.5 159.5Z" opacity="1.00" stroke-width="1.05"/>
<path d="M809.1 163.7L816.8 170.9M816.8 170.9L814.4 169.8L815.5 168.6Z" opacity="0.97" stroke-width="1.01"/>
<path d="M814.6 173.1L820.0 181.7M820.0 181.7L818.0 180.1L819.4 179.2Z" opacity="0.95" stroke-width="1.00"/>
<path d="M817.9 183.5L820.8 193.1M820.8 193.1L819.3 191.0L820.9 190.5Z" opacity="0.94" stroke-width="0.99"/>
<path d="M819.1 194.3L819.1 204.3M819.1 204.3L818.3 201.9L819.9 201.9Z" opacity="0.93" stroke-width="0.99"/>
<path d="M817.9 205.1L815.1 214.7M815.1 214.7L815.0 212.2L816.5 212.7Z" opacity="0.94" stroke-width="0.99"/>
<path d="M814.6 215.5L809.1 224.1M809.1 224.1L809.7 221.6L811.1 222.5Z" opacity="0.95" stroke-width="1.00"/>
<path d="M809.1 224.9L801.5 232.2M801.5 232.2L802.7 229.8L803.9 231.0Z" opacity="0.97" stroke-width="1.01"/>
<path d="M801.8 233.0L792.4 239.2M792.4 239.2L794.1 236.9L795.2 238.5Z" opacity="1.00" stroke-width="1.05"/>
<path d="M793.0 239.4L781.8 245.5M781.8 245.5L784.0 243.1L785.0 244.9Z" opacity="1.00" stroke-width="1.11"/>
<path d="M783.1 243.8L782.6 232.7M782.6 232.7L783.6 235.4L781.8 235.4Z" opacity="1.00" stroke-width="1.04"/>
<path d="M772.4 246.1L771.9 232.6M771.9 232.6L773.2 235.8L770.9 235.8Z" opacity="1.00" stroke-width="1.15"/>
<path d="M761.6 246.1L762.1 232.6M762.1 232.6L763.1 235.8L760.8 235.8Z" opacity="1.00" stroke-width="1.15"/>
<path d="M750.9 243.8L751.4 232.7M751.4 232.7L752.2 235.4L750.4 235.4Z" opacity="1.00" stroke-width="1.04"/>
<path d="M741.0 239.4L752.2 245.5M752.2 245.5L749.0 244.9L750.0 243.1Z" opacity="1.00" stroke-width="1.11"/>
<path d="M732.2 233.0L741.6 239.2M741.6 239.2L738.8 238.5L739.9 236.9Z" opacity="1.00" stroke-width="1.05"/>
<path d="M724.9 224.9L732.5 232.2M732.5 232.2L730.1 231.0L731.3 229.8Z" opacity="0.97" stroke-width="1.01"/>
<path d="M719.4 215.5L724.9 224.1M724.9 224.1L722.9 222.5L724.3 221.6Z" opacity="0.95" stroke-width="1.00"/>
<path d="M716.1 205.1L718.9 214.7M718.9 214.7L717.5 212.7L719.0 212.2Z" opacity="0.94" stroke-width="0.99"/>
<path d="M714.9 194.3L714.9 204.3M714.9 204.3L714.1 201.9L715.7 201.9Z" opacity="0.93" stroke-width="0.99"/>
<path d="M716.1 183.5L713.2 193.1M713.2 193.1L713.1 190.5L714.7 191.0Z" opacity="0.94" stroke-width="0.99"/>
<path d="M719.4 173.1L714.0 181.7M714.0 181.7L714.6 179.2L716.0 180.1Z" opacity="0.95" stroke-width="1.00"/>
<path d="M724.9 163.7L717.2 170.9M717.2 170.9L718.5 168.6L719.6 169.8Z" opacity="0.97" stroke-width="1.01"/>
<path d="M732.2 155.6L722.7 161.8M722.7 161.8L724.5 159.5L725.5 161.1Z" opacity="1.00" stroke-width="1.05"/>
<path d="M741.0 149.2L729.7 155.3M729.7 155.3L731.9 152.9L732.9 154.7Z" opacity="1.00" stroke-width="1.11"/>
<path d="M750.9 144.8L750.4 133.7M750.4 133.7L751.4 136.3L749.6 136.4Z" opacity="1.00" stroke-width="1.04"/>
<path d="M761.6 142.5L761.0 129.0M761.0 129.0L762.3 132.2L760.1 132.3Z" opacity="1.00" stroke-width="1.15"/>
<path d="M701.7 129.0L696.1 130.2M696.1 130.2L697.7 129.0L698.0 130.6Z" opacity="0.66" stroke-width="0.84"/>
<path d="M710.8 121.0L704.7 120.6M704.7 120.6L706.5 119.9L706.4 121.5Z" opacity="0.69" stroke-width="0.85"/>
<path d="M720.8 114.3L714.8 111.0M714.8 111.0L716.7 111.2L716.0 112.6Z" opacity="0.74" stroke-width="0.87"/>
<path d="M731.6 109.0L727.4 99.7M727.4 99.7L729.2 101.6L727.7 102.3Z" opacity="0.94" stroke-width="1.00"/>
<path d="M743.1 105.1L740.6 92.3M740.6 92.3L742.3 95.1L740.2 95.5Z" opacity="1.00" stroke-width="1.12"/>
<path d="M754.9 102.7L753.7 89.2M753.7 89.2L755.1 92.4L752.9 92.6Z" opacity="1.00" stroke-width="1.15"/>
<path d="M767.0 101.9L767.0 88.3M767.0 88.3L768.1 91.6L765.9 91.6Z" opacity="1.00" stroke-width="1.15"/>
<path d="M779.1 102.7L780.3 89.2M780.3 89.2L781.1 92.6L778.9 92.4Z" opacity="1.00" stroke-width="1.15"/>
<path d="M790.9 105.1L793.4 92.3M793.4 92.3L793.8 95.5L791.7 95.1Z" opacity="1.00" stroke-width="1.12"/>
<path d="M802.4 109.0L806.6 99.7M806.6 99.7L806.3 102.3L804.8 101.6Z" opacity="0.94" stroke-width="1.00"/>
<path d="M813.2 114.3L819.2 111.0M819.2 111.0L818.0 112.6L817.3 111.2Z" opacity="0.74" stroke-width="0.87"/>
<path d="M823.2 121.0L829.3 120.6M829.3 120.6L827.6 121.5L827.5 119.9Z" opacity="0.69" stroke-width="0.85"/>
<path d="M832.3 129.0L837.9 130.2M837.9 130.2L836.0 130.6L836.3 129.0Z" opacity="0.66" stroke-width="0.84"/>
<path d="M748.1 137.9L746.9 125.5M746.9 125.5L748.2 128.4L746.2 128.6Z" opacity="1.00" stroke-width="1.10"/>
<path d="M745.0 128.4L742.8 115.9M742.8 115.9L744.4 118.7L742.3 119.1Z" opacity="1.00" stroke-width="1.11"/>
<path d="M741.8 119.0L739.1 106.7M739.1 106.7L740.8 109.4L738.7 109.9Z" opacity="1.00" stroke-width="1.11"/>
<path d="M739.1 110.8L736.0 98.7M736.0 98.7L737.7 101.3L735.8 101.8Z" opacity="1.00" stroke-width="1.10"/>
<path d="M785.9 137.9L787.1 125.5M787.1 125.5L787.8 128.6L785.8 128.4Z" opacity="1.00" stroke-width="1.10"/>
<path d="M789.0 128.4L791.2 115.9M791.2 115.9L791.7 119.1L789.6 118.7Z" opacity="1.00" stroke-width="1.11"/>
<path d="M792.2 119.0L794.9 106.7M794.9 106.7L795.3 109.9L793.2 109.4Z" opacity="1.00" stroke-width="1.11"/>
<path d="M794.9 110.8L798.0 98.7M798.0 98.7L798.2 101.8L796.3 101.3Z" opacity="1.00" stroke-width="1.10"/>
<path d="M832.3 259.6L826.7 260.8M826.7 260.8L828.3 259.6L828.7 261.2Z" opacity="0.66" stroke-width="0.84"/>
<path d="M823.2 267.6L817.2 267.1M817.2 267.1L819.0 266.5L818.9 268.1Z" opacity="0.69" stroke-width="0.85"/>
<path d="M813.2 274.3L807.2 271.0M807.2 271.0L809.1 271.2L808.4 272.6Z" opacity="0.74" stroke-width="0.87"/>
<path d="M802.4 279.6L798.2 270.4M798.2 270.4L799.9 272.3L798.4 273.0Z" opacity="0.94" stroke-width="1.00"/>
<path d="M790.9 283.5L788.4 270.7M788.4 270.7L790.1 273.6L788.0 274.0Z" opacity="1.00" stroke-width="1.12"/>
<path d="M779.1 285.9L777.8 272.4M777.8 272.4L779.2 275.5L777.0 275.7Z" opacity="1.00" stroke-width="1.15"/>
<path d="M767.0 286.7L767.0 273.1M767.0 273.1L768.1 276.3L765.9 276.3Z" opacity="1.00" stroke-width="1.15"/>
<path d="M754.9 285.9L756.2 272.4M756.2 272.4L757.0 275.7L754.8 275.5Z" opacity="1.00" stroke-width="1.15"/>
<path d="M743.1 283.5L745.6 270.7M745.6 270.7L746.0 274.0L743.9 273.6Z" opacity="1.00" stroke-width="1.12"/>
<path d="M731.6 279.6L735.8 270.4M735.8 270.4L735.6 273.0L734.1 272.3Z" opacity="0.94" stroke-width="1.00"/>
<path d="M720.8 274.3L726.8 271.0M726.8 271.0L725.6 272.6L724.9 271.2Z" opacity="0.74" stroke-width="0.87"/>
<path d="M710.8 267.6L716.8 267.1M716.8 267.1L715.1 268.1L715.0 266.5Z" opacity="0.69" stroke-width="0.85"/>
<path d="M701.7 259.6L707.3 260.8M707.3 260.8L705.3 261.2L705.7 259.6Z" opacity="0.66" stroke-width="0.84"/>
<path d="M785.9 250.7L784.6 238.4M784.6 238.4L785.9 241.2L783.9 241.4Z" opacity="1.00" stroke-width="1.10"/>
<path d="M789.0 260.2L786.9 247.6M786.9 247.6L788.4 250.4L786.4 250.8Z" opacity="1.00" stroke-width="1.11"/>
<path d="M792.2 269.6L789.5 257.2M789.5 257.2L791.1 259.9L789.1 260.4Z" opacity="1.00" stroke-width="1.11"/>
<path d="M794.9 277.8L791.9 265.7M791.9 265.7L793.6 268.3L791.6 268.8Z" opacity="1.00" stroke-width="1.10"/>
<path d="M748.1 250.7L749.4 238.4M749.4 238.4L750.1 241.4L748.1 241.2Z" opacity="1.00" stroke-width="1.10"/>
<path d="M745.0 260.2L747.1 247.6M747.1 247.6L747.6 250.8L745.6 250.4Z" opacity="1.00" stroke-width="1.11"/>
<path d="M741.8 269.6L744.5 257.2M744.5 257.2L744.9 260.4L742.9 259.9Z" opacity="1.00" stroke-width="1.11"/>
<path d="M739.1 277.8L742.1 265.7M742.1 265.7L742.4 268.8L740.4 268.3Z" opacity="1.00" stroke-width="1.10"/>
</g>
<path d="M643.0 107.5H891.0" stroke="#ee1c25" stroke-width="0.9" stroke-dasharray="5 4" opacity="0.55" fill="none"/>
<path d="M677.7 163.3H856.3" stroke="#ee1c25" stroke-width="0.9" stroke-dasharray="5 4" opacity="0.55" fill="none"/>
<path d="M690.1 281.1H843.9" stroke="#ee1c25" stroke-width="0.9" stroke-dasharray="5 4" opacity="0.55" fill="none"/>
<rect x="963.3" y="94.6" width="12.0" height="254.6" fill="url(#jet)"/>
<path d="M963.3 105.8h12.0" stroke="#333" stroke-width="0.6" opacity="0.35"/>
<text class="cb" x="980.7 992.3 1004.0" y="113.8">1.2</text>
<path d="M963.3 146.3h12.0" stroke="#333" stroke-width="0.6" opacity="0.35"/>
<text class="cb" x="980.7" y="154.3">1</text>
<path d="M963.3 186.9h12.0" stroke="#333" stroke-width="0.6" opacity="0.35"/>
<text class="cb" x="980.7 992.3 1004.0" y="194.9">0.8</text>
<path d="M963.3 227.5h12.0" stroke="#333" stroke-width="0.6" opacity="0.35"/>
<text class="cb" x="980.7 992.3 1004.0" y="235.5">0.6</text>
<path d="M963.3 268.1h12.0" stroke="#333" stroke-width="0.6" opacity="0.35"/>
<text class="cb" x="980.7 992.3 1004.0" y="276.1">0.4</text>
<path d="M963.3 308.6h12.0" stroke="#333" stroke-width="0.6" opacity="0.35"/>
<text class="cb" x="980.7 992.3 1004.0" y="316.6">0.2</text>
<text x="983.5" y="69.9" font-size="25" fill="#2a2a2a" textLength="23.5" lengthAdjust="spacingAndGlyphs">mT</text>
<text class="cap" x="538.5" y="461.5" textLength="446.5">(b) deg.e=90°, deg.c=80°</text>
<g stroke="#969696" stroke-width="1.8" fill="none">
<path d="M76.0 501.5V838.0H437.5"/>
<path d="M76.0 501.5h4M437.5 838.0v-4"/>
<path d="M76.0 822.5h5"/>
<path d="M76.0 797.8h5"/>
<path d="M76.0 773.2h5"/>
<path d="M76.0 748.5h5"/>
<path d="M76.0 723.8h5"/>
<path d="M76.0 699.2h5"/>
<path d="M76.0 674.5h5"/>
<path d="M76.0 649.8h5"/>
<path d="M76.0 625.2h5"/>
<path d="M76.0 600.5h5"/>
<path d="M76.0 575.8h5"/>
<path d="M76.0 551.2h5"/>
<path d="M76.0 526.5h5"/>
<path d="M133.2 838.0v-5"/>
<path d="M193.8 838.0v-5"/>
<path d="M256.5 838.0v-5"/>
<path d="M321.0 838.0v-5"/>
<path d="M380.1 838.0v-5"/>
</g>
<text class="tk" transform="translate(73.0 830.5) scale(0.93 1)" text-anchor="end">−120</text>
<text class="tk" transform="translate(73.0 805.8) scale(0.93 1)" text-anchor="end">−100</text>
<text class="tk" transform="translate(73.0 781.2) scale(0.93 1)" text-anchor="end">−80</text>
<text class="tk" transform="translate(73.0 756.5) scale(0.93 1)" text-anchor="end">−60</text>
<text class="tk" transform="translate(73.0 731.8) scale(0.93 1)" text-anchor="end">−40</text>
<text class="tk" transform="translate(73.0 707.2) scale(0.93 1)" text-anchor="end">−20</text>
<text class="tk" transform="translate(73.0 682.5) scale(0.93 1)" text-anchor="end">0</text>
<text class="tk" transform="translate(73.0 657.8) scale(0.93 1)" text-anchor="end">20</text>
<text class="tk" transform="translate(73.0 633.2) scale(0.93 1)" text-anchor="end">40</text>
<text class="tk" transform="translate(73.0 608.5) scale(0.93 1)" text-anchor="end">60</text>
<text class="tk" transform="translate(73.0 583.8) scale(0.93 1)" text-anchor="end">80</text>
<text class="tk" transform="translate(73.0 559.2) scale(0.93 1)" text-anchor="end">100</text>
<text class="tk" transform="translate(73.0 534.5) scale(0.93 1)" text-anchor="end">120</text>
<text class="tk" transform="translate(133.7 862.8) scale(0.93 1)" text-anchor="middle">−100</text>
<text class="tk" transform="translate(194.3 862.8) scale(0.93 1)" text-anchor="middle">−50</text>
<text class="tk" transform="translate(257.0 862.8) scale(0.93 1)" text-anchor="middle">0</text>
<text class="tk" transform="translate(321.5 862.8) scale(0.93 1)" text-anchor="middle">50</text>
<text class="tk" transform="translate(380.6 862.8) scale(0.93 1)" text-anchor="middle">100</text>
<text x="257.0" y="884.3" text-anchor="middle" font-size="24" fill="#2a2a2a" stroke="#2a2a2a" stroke-width="0.35" textLength="54" lengthAdjust="spacingAndGlyphs">x/mm</text>
<text transform="translate(25.3 675.0) rotate(-90)" text-anchor="middle" font-size="24" fill="#2a2a2a" stroke="#2a2a2a" stroke-width="0.35" textLength="54" lengthAdjust="spacingAndGlyphs">y/mm</text>
<text x="166.5" y="509.6" font-size="23.5" fill="#222" stroke="#222" stroke-width="0.45" textLength="89" lengthAdjust="spacingAndGlyphs">Magnetic</text>
<text x="262.0" y="509.6" font-size="16" font-weight="bold" fill="#222" textLength="84" lengthAdjust="spacingAndGlyphs">flux density</text>
<g fill="none" stroke="#1a1a1a" stroke-width="0.8" opacity="0.8">
<circle cx="256.5" cy="674.5" r="148.00"/>
<circle cx="256.5" cy="674.5" r="120.86"/>
</g>
<g fill="none" stroke="#4a6a70" stroke-width="0.9" opacity="0.85">
<circle cx="256.5" cy="674.5" r="108.53" stroke="#333" stroke-width="0.6"/>
<circle cx="256.5" cy="674.5" r="49.33"/>
<circle cx="256.5" cy="674.5" r="35.77"/>
<path d="M174.9 636.5L177.2 631.9L179.7 627.5L182.5 623.2L185.6 619.1L188.8 615.1L192.3 611.4L196.0 607.9L199.8 604.5L203.9 601.4L208.1 598.6L212.5 595.9L217.0 593.6L221.7 591.5L226.4 589.6L231.3 588.1L236.2 586.8L241.3 585.8L246.3 585.0L251.4 584.6L256.5 584.5L261.6 584.6L266.7 585.0L271.7 585.8L276.8 586.8L281.7 588.1L286.6 589.6L291.3 591.5L296.0 593.6L300.5 595.9L304.9 598.6L309.1 601.4L313.2 604.5L317.0 607.9L320.7 611.4L324.2 615.1L327.4 619.1L330.5 623.2L333.3 627.5L335.8 631.9L338.1 636.5"/>
<path d="M254.9 625.2V584.5"/>
<path d="M258.1 625.2V584.5"/>
<path d="M225.7 589.9L220.2 592.1L214.9 594.6L209.8 597.5L204.9 600.8L200.1 604.3L195.7 608.1L191.5 612.2L187.5 616.6L183.9 621.3L180.6 626.1L177.6 631.2L174.9 636.5L207.3 651.6L208.9 648.4L210.7 645.3L212.7 642.4L214.9 639.6L217.3 637.0L219.8 634.5L222.5 632.2L225.4 630.0L228.3 628.1L231.4 626.4L234.6 624.8L237.9 623.5Z"/>
<path d="M287.3 589.9L292.8 592.1L298.1 594.6L303.2 597.5L308.1 600.8L312.9 604.3L317.3 608.1L321.5 612.2L325.5 616.6L329.1 621.3L332.4 626.1L335.4 631.2L338.1 636.5L305.7 651.6L304.1 648.4L302.3 645.3L300.3 642.4L298.1 639.6L295.7 637.0L293.2 634.5L290.5 632.2L287.6 630.0L284.7 628.1L281.6 626.4L278.4 624.8L275.1 623.5Z"/>
<path d="M338.1 712.5L335.8 717.1L333.3 721.5L330.5 725.8L327.4 729.9L324.2 733.9L320.7 737.6L317.0 741.1L313.2 744.5L309.1 747.6L304.9 750.4L300.5 753.1L296.0 755.4L291.3 757.5L286.6 759.4L281.7 760.9L276.8 762.2L271.7 763.2L266.7 764.0L261.6 764.4L256.5 764.5L251.4 764.4L246.3 764.0L241.3 763.2L236.2 762.2L231.3 760.9L226.4 759.4L221.7 757.5L217.0 755.4L212.5 753.1L208.1 750.4L203.9 747.6L199.8 744.5L196.0 741.1L192.3 737.6L188.8 733.9L185.6 729.9L182.5 725.8L179.7 721.5L177.2 717.1L174.9 712.5"/>
<path d="M254.9 723.8V764.5"/>
<path d="M258.1 723.8V764.5"/>
<path d="M287.3 759.1L292.8 756.9L298.1 754.4L303.2 751.5L308.1 748.2L312.9 744.7L317.3 740.9L321.5 736.8L325.5 732.4L329.1 727.7L332.4 722.9L335.4 717.8L338.1 712.5L305.7 697.4L304.1 700.6L302.3 703.7L300.3 706.6L298.1 709.4L295.7 712.0L293.2 714.5L290.5 716.8L287.6 719.0L284.7 720.9L281.6 722.6L278.4 724.2L275.1 725.5Z"/>
<path d="M225.7 759.1L220.2 756.9L214.9 754.4L209.8 751.5L204.9 748.2L200.1 744.7L195.7 740.9L191.5 736.8L187.5 732.4L183.9 727.7L180.6 722.9L177.6 717.8L174.9 712.5L207.3 697.4L208.9 700.6L210.7 703.7L212.7 706.6L214.9 709.4L217.3 712.0L219.8 714.5L222.5 716.8L225.4 719.0L228.3 720.9L231.4 722.6L234.6 724.2L237.9 725.5Z"/>
</g>
<g stroke="#ee1c25" fill="#ee1c25" stroke-linecap="round" stroke-linejoin="round">
<path d="M130.3 747.6L133.6 745.6M133.6 745.6L132.6 747.0L132.0 745.8Z" opacity="0.46" stroke-width="0.56" stroke="#d2141e" fill="#d2141e"/>
<path d="M130.3 601.4L127.0 599.5M127.0 599.5L128.6 599.7L128.0 600.8Z" opacity="0.46" stroke-width="0.56" stroke="#d2141e" fill="#d2141e"/>
<path d="M143.6 760.8L147.9 757.6M147.9 757.6L147.1 759.0L146.3 758.0Z" opacity="0.55" stroke-width="0.60" stroke="#d2141e" fill="#d2141e"/>
<path d="M143.6 747.6L147.5 745.1M147.5 745.1L146.5 746.4L145.8 745.4Z" opacity="0.50" stroke-width="0.58" stroke="#d2141e" fill="#d2141e"/>
<path d="M143.6 734.3L146.9 732.5M146.9 732.5L145.8 733.8L145.2 732.7Z" opacity="0.46" stroke-width="0.56" stroke="#d2141e" fill="#d2141e"/>
<path d="M143.6 614.7L140.3 613.0M140.3 613.0L142.0 613.1L141.4 614.3Z" opacity="0.46" stroke-width="0.56" stroke="#d2141e" fill="#d2141e"/>
<path d="M143.6 601.4L139.7 599.0M139.7 599.0L141.4 599.2L140.7 600.3Z" opacity="0.50" stroke-width="0.58" stroke="#d2141e" fill="#d2141e"/>
<path d="M143.6 588.2L139.3 584.9M139.3 584.9L140.9 585.3L140.1 586.3Z" opacity="0.55" stroke-width="0.60" stroke="#d2141e" fill="#d2141e"/>
<path d="M156.9 774.1L162.0 769.0M162.0 769.0L161.3 770.6L160.4 769.7Z" opacity="0.64" stroke-width="0.64" stroke="#d2141e" fill="#d2141e"/>
<path d="M156.9 760.8L161.6 756.7M161.6 756.7L160.9 758.2L160.1 757.2Z" opacity="0.60" stroke-width="0.62" stroke="#d2141e" fill="#d2141e"/>
<path d="M156.9 747.6L161.0 744.5M161.0 744.5L160.2 745.9L159.4 744.9Z" opacity="0.53" stroke-width="0.59" stroke="#d2141e" fill="#d2141e"/>
<path d="M156.9 734.3L160.1 732.4M160.1 732.4L159.1 733.7L158.4 732.6Z" opacity="0.46" stroke-width="0.56" stroke="#d2141e" fill="#d2141e"/>
<path d="M156.9 707.7L159.5 711.9M159.5 711.9L157.9 710.8L159.2 709.9Z" opacity="0.61" stroke-width="0.81"/>
<path d="M156.9 694.4L158.6 699.2M158.6 699.2L157.2 697.8L158.7 697.3Z" opacity="0.62" stroke-width="0.82"/>
<path d="M156.9 681.1L157.5 686.3M157.5 686.3L156.5 684.6L158.1 684.4Z" opacity="0.63" stroke-width="0.82"/>
<path d="M156.9 667.9L156.3 673.0M156.3 673.0L155.7 671.1L157.3 671.3Z" opacity="0.63" stroke-width="0.82"/>
<path d="M156.9 654.6L155.2 659.4M155.2 659.4L155.0 657.4L156.5 657.9Z" opacity="0.62" stroke-width="0.82"/>
<path d="M156.9 641.3L154.3 645.5M154.3 645.5L154.5 643.5L155.9 644.4Z" opacity="0.61" stroke-width="0.81"/>
<path d="M156.9 614.7L153.7 612.8M153.7 612.8L155.3 613.0L154.7 614.1Z" opacity="0.46" stroke-width="0.56" stroke="#d2141e" fill="#d2141e"/>
<path d="M156.9 601.4L152.7 598.4M152.7 598.4L154.3 598.8L153.6 599.8Z" opacity="0.53" stroke-width="0.59" stroke="#d2141e" fill="#d2141e"/>
<path d="M156.9 588.2L152.1 584.0M152.1 584.0L153.7 584.6L152.9 585.5Z" opacity="0.60" stroke-width="0.62" stroke="#d2141e" fill="#d2141e"/>
<path d="M156.9 574.9L151.8 569.8M151.8 569.8L153.3 570.4L152.4 571.3Z" opacity="0.64" stroke-width="0.64" stroke="#d2141e" fill="#d2141e"/>
<path d="M170.2 787.4L175.6 780.3M175.6 780.3L175.0 782.1L174.0 781.3Z" opacity="0.74" stroke-width="0.69" stroke="#d2141e" fill="#d2141e"/>
<path d="M170.2 774.1L175.6 767.9M175.6 767.9L174.9 769.6L174.0 768.8Z" opacity="0.70" stroke-width="0.66" stroke="#d2141e" fill="#d2141e"/>
<path d="M170.2 760.8L175.2 755.8M175.2 755.8L174.6 757.3L173.7 756.4Z" opacity="0.64" stroke-width="0.64" stroke="#d2141e" fill="#d2141e"/>
<path d="M170.2 747.6L174.1 744.2M174.1 744.2L173.4 745.7L172.6 744.7Z" opacity="0.54" stroke-width="0.59" stroke="#d2141e" fill="#d2141e"/>
<path d="M170.2 734.3L174.7 736.7M174.7 736.7L172.8 736.6L173.5 735.2Z" opacity="0.63" stroke-width="0.82"/>
<path d="M170.2 721.0L174.4 724.7M174.4 724.7L172.5 724.1L173.5 722.9Z" opacity="0.66" stroke-width="0.83"/>
<path d="M170.2 707.7L173.6 712.5M173.6 712.5L171.9 711.5L173.2 710.6Z" opacity="0.68" stroke-width="0.84"/>
<path d="M170.2 694.4L172.4 700.1M172.4 700.1L171.0 698.8L172.5 698.2Z" opacity="0.69" stroke-width="0.85"/>
<path d="M170.2 681.1L171.0 687.4M171.0 687.4L169.9 685.7L171.5 685.5Z" opacity="0.70" stroke-width="0.86"/>
<path d="M170.2 667.9L169.4 674.1M169.4 674.1L168.8 672.2L170.4 672.4Z" opacity="0.70" stroke-width="0.86"/>
<path d="M170.2 654.6L167.9 660.3M167.9 660.3L167.8 658.3L169.3 658.9Z" opacity="0.69" stroke-width="0.85"/>
<path d="M170.2 641.3L166.7 646.1M166.7 646.1L167.1 644.2L168.4 645.1Z" opacity="0.68" stroke-width="0.84"/>
<path d="M170.2 628.0L166.0 631.7M166.0 631.7L166.8 629.9L167.8 631.1Z" opacity="0.66" stroke-width="0.83"/>
<path d="M170.2 614.7L165.6 617.2M165.6 617.2L166.8 615.6L167.6 617.0Z" opacity="0.63" stroke-width="0.82"/>
<path d="M170.2 601.4L166.2 598.1M166.2 598.1L167.8 598.6L166.9 599.6Z" opacity="0.54" stroke-width="0.59" stroke="#d2141e" fill="#d2141e"/>
<path d="M170.2 588.2L165.1 583.1M165.1 583.1L166.6 583.7L165.7 584.6Z" opacity="0.64" stroke-width="0.64" stroke="#d2141e" fill="#d2141e"/>
<path d="M170.2 574.9L164.8 568.7M164.8 568.7L166.4 569.5L165.4 570.4Z" opacity="0.70" stroke-width="0.66" stroke="#d2141e" fill="#d2141e"/>
<path d="M170.2 561.6L164.7 554.5M164.7 554.5L166.3 555.5L165.3 556.3Z" opacity="0.74" stroke-width="0.69" stroke="#d2141e" fill="#d2141e"/>
<path d="M183.4 800.7L189.0 791.2M189.0 791.2L188.5 793.5L187.2 792.7Z" opacity="0.85" stroke-width="0.74" stroke="#d2141e" fill="#d2141e"/>
<path d="M183.4 787.4L189.2 778.5M189.2 778.5L188.6 780.7L187.4 780.0Z" opacity="0.83" stroke-width="0.73" stroke="#d2141e" fill="#d2141e"/>
<path d="M183.4 774.1L189.0 766.6M189.0 766.6L188.4 768.5L187.3 767.7Z" opacity="0.76" stroke-width="0.70" stroke="#d2141e" fill="#d2141e"/>
<path d="M183.4 760.8L188.7 754.6M188.7 754.6L188.1 756.3L187.1 755.5Z" opacity="0.69" stroke-width="0.66" stroke="#d2141e" fill="#d2141e"/>
<path d="M183.4 747.6L189.0 748.3M189.0 748.3L187.1 748.9L187.3 747.3Z" opacity="0.66" stroke-width="0.83"/>
<path d="M183.4 734.3L189.2 736.6M189.2 736.6L187.2 736.7L187.8 735.2Z" opacity="0.70" stroke-width="0.85"/>
<path d="M183.4 721.0L186.0 722.9M186.0 722.9L184.1 722.5L185.1 721.2Z" opacity="0.51" stroke-width="0.77"/>
<path d="M183.4 707.7L188.0 713.3M188.0 713.3L186.3 712.4L187.5 711.4Z" opacity="0.76" stroke-width="0.89"/>
<path d="M183.4 694.4L186.5 701.4M186.5 701.4L185.0 700.0L186.5 699.4Z" opacity="0.78" stroke-width="0.90"/>
<path d="M183.4 681.1L184.5 688.8M184.5 688.8L183.5 687.1L185.1 686.9Z" opacity="0.80" stroke-width="0.91"/>
<path d="M183.4 667.9L182.4 675.6M182.4 675.6L181.8 673.6L183.4 673.8Z" opacity="0.80" stroke-width="0.91"/>
<path d="M183.4 654.6L180.4 661.5M180.4 661.5L180.4 659.5L181.8 660.2Z" opacity="0.78" stroke-width="0.90"/>
<path d="M183.4 641.3L178.9 646.9M178.9 646.9L179.4 645.0L180.6 646.0Z" opacity="0.76" stroke-width="0.89"/>
<path d="M183.4 628.0L180.8 629.9M180.8 629.9L181.8 628.2L182.8 629.5Z" opacity="0.51" stroke-width="0.77"/>
<path d="M183.4 614.7L177.7 617.1M177.7 617.1L179.1 615.6L179.6 617.1Z" opacity="0.70" stroke-width="0.85"/>
<path d="M183.4 601.4L177.9 602.2M177.9 602.2L179.6 601.2L179.8 602.8Z" opacity="0.66" stroke-width="0.83"/>
<path d="M183.4 588.2L178.2 582.0M178.2 582.0L179.8 582.8L178.8 583.6Z" opacity="0.69" stroke-width="0.66" stroke="#d2141e" fill="#d2141e"/>
<path d="M183.4 574.9L177.9 567.3M177.9 567.3L179.5 568.5L178.5 569.2Z" opacity="0.76" stroke-width="0.70" stroke="#d2141e" fill="#d2141e"/>
<path d="M183.4 561.6L177.7 552.7M177.7 552.7L179.5 554.2L178.3 554.9Z" opacity="0.83" stroke-width="0.73" stroke="#d2141e" fill="#d2141e"/>
<path d="M183.4 548.3L177.9 538.8M177.9 538.8L179.7 540.4L178.4 541.1Z" opacity="0.85" stroke-width="0.74" stroke="#d2141e" fill="#d2141e"/>
<path d="M196.7 800.7L202.0 789.6M202.0 789.6L201.6 792.2L200.2 791.5Z" opacity="0.85" stroke-width="0.78" stroke="#d2141e" fill="#d2141e"/>
<path d="M196.7 787.4L202.5 776.5M202.5 776.5L202.1 779.1L200.6 778.3Z" opacity="0.85" stroke-width="0.79" stroke="#d2141e" fill="#d2141e"/>
<path d="M196.7 774.1L202.9 763.8M202.9 763.8L202.3 766.3L201.0 765.5Z" opacity="0.85" stroke-width="0.78" stroke="#d2141e" fill="#d2141e"/>
<path d="M196.7 760.8L202.6 756.7M202.6 756.7L201.6 758.4L200.7 757.1Z" opacity="0.76" stroke-width="0.89"/>
<path d="M196.7 747.6L203.5 747.4M203.5 747.4L201.7 748.2L201.7 746.6Z" opacity="0.73" stroke-width="0.87"/>
<path d="M196.7 734.3L200.2 735.2M200.2 735.2L198.3 735.5L198.7 734.0Z" opacity="0.53" stroke-width="0.78"/>
<path d="M196.7 721.0L200.2 723.0M200.2 723.0L198.2 722.8L199.0 721.4Z" opacity="0.55" stroke-width="0.79"/>
<path d="M196.7 707.7L199.7 710.8M199.7 710.8L197.9 710.1L199.0 709.0Z" opacity="0.57" stroke-width="0.80"/>
<path d="M196.7 694.4L201.0 702.9M201.0 702.9L199.3 701.3L200.7 700.5Z" opacity="0.91" stroke-width="0.97"/>
<path d="M196.7 681.1L198.3 690.9M198.3 690.9L197.1 688.7L198.7 688.4Z" opacity="0.93" stroke-width="0.99"/>
<path d="M196.7 667.9L195.2 677.6M195.2 677.6L194.7 675.2L196.3 675.4Z" opacity="0.93" stroke-width="0.99"/>
<path d="M196.7 654.6L192.4 663.1M192.4 663.1L192.7 660.7L194.2 661.4Z" opacity="0.91" stroke-width="0.97"/>
<path d="M196.7 641.3L193.8 644.4M193.8 644.4L194.4 642.6L195.6 643.7Z" opacity="0.57" stroke-width="0.80"/>
<path d="M196.7 628.0L193.3 630.0M193.3 630.0L194.4 628.4L195.2 629.8Z" opacity="0.55" stroke-width="0.79"/>
<path d="M196.7 614.7L193.2 615.6M193.2 615.6L194.8 614.4L195.2 616.0Z" opacity="0.53" stroke-width="0.78"/>
<path d="M196.7 601.4L190.0 601.3M190.0 601.3L191.8 600.5L191.8 602.1Z" opacity="0.73" stroke-width="0.87"/>
<path d="M196.7 588.2L190.8 584.0M190.8 584.0L192.8 584.4L191.9 585.7Z" opacity="0.76" stroke-width="0.89"/>
<path d="M196.7 574.9L190.6 564.6M190.6 564.6L192.5 566.3L191.1 567.1Z" opacity="0.85" stroke-width="0.78" stroke="#d2141e" fill="#d2141e"/>
<path d="M196.7 561.6L190.9 550.7M190.9 550.7L192.8 552.5L191.4 553.3Z" opacity="0.85" stroke-width="0.79" stroke="#d2141e" fill="#d2141e"/>
<path d="M196.7 548.3L191.5 537.2M191.5 537.2L193.3 539.1L191.8 539.8Z" opacity="0.85" stroke-width="0.78" stroke="#d2141e" fill="#d2141e"/>
<path d="M210.0 814.0L214.0 802.0M214.0 802.0L214.0 804.7L212.4 804.2Z" opacity="0.85" stroke-width="0.80" stroke="#d2141e" fill="#d2141e"/>
<path d="M210.0 800.7L214.6 788.2M214.6 788.2L214.5 791.0L212.9 790.4Z" opacity="0.85" stroke-width="0.82" stroke="#d2141e" fill="#d2141e"/>
<path d="M210.0 787.4L215.3 774.5M215.3 774.5L215.1 777.5L213.4 776.8Z" opacity="0.85" stroke-width="0.84" stroke="#d2141e" fill="#d2141e"/>
<path d="M210.0 774.1L216.5 760.3M216.5 760.3L216.0 763.6L214.2 762.7Z" opacity="0.85" stroke-width="0.88" stroke="#d2141e" fill="#d2141e"/>
<path d="M210.0 760.8L215.8 753.3M215.8 753.3L215.1 755.6L213.8 754.6Z" opacity="0.91" stroke-width="0.97"/>
<path d="M210.0 747.6L214.0 746.0M214.0 746.0L212.6 747.4L212.0 745.9Z" opacity="0.57" stroke-width="0.79"/>
<path d="M210.0 734.3L214.6 734.7M214.6 734.7L212.7 735.3L212.9 733.7Z" opacity="0.59" stroke-width="0.81"/>
<path d="M210.0 721.0L214.6 723.1M214.6 723.1L212.6 723.1L213.3 721.6Z" opacity="0.62" stroke-width="0.82"/>
<path d="M210.0 707.7L214.0 711.3M214.0 711.3L212.1 710.7L213.2 709.5Z" opacity="0.64" stroke-width="0.83"/>
<path d="M210.0 694.4L216.4 704.9M216.4 704.9L214.0 702.9L215.7 701.9Z" opacity="1.00" stroke-width="1.09"/>
<path d="M210.0 681.1L208.1 664.7M208.1 664.7L209.9 668.5L207.3 668.8Z" opacity="1.00" stroke-width="1.22"/>
<path d="M210.0 667.9L211.9 651.5M211.9 651.5L212.8 655.6L210.1 655.2Z" opacity="1.00" stroke-width="1.22"/>
<path d="M210.0 654.6L203.6 665.1M203.6 665.1L204.3 662.0L206.0 663.1Z" opacity="1.00" stroke-width="1.09"/>
<path d="M210.0 641.3L206.0 644.9M206.0 644.9L206.8 643.1L207.9 644.3Z" opacity="0.64" stroke-width="0.83"/>
<path d="M210.0 628.0L205.4 630.2M205.4 630.2L206.7 628.7L207.4 630.1Z" opacity="0.62" stroke-width="0.82"/>
<path d="M210.0 614.7L205.4 615.1M205.4 615.1L207.1 614.2L207.3 615.8Z" opacity="0.59" stroke-width="0.81"/>
<path d="M210.0 601.4L206.1 599.9M206.1 599.9L208.0 599.8L207.5 601.3Z" opacity="0.57" stroke-width="0.79"/>
<path d="M210.0 588.2L204.2 580.6M204.2 580.6L206.2 582.0L205.0 582.9Z" opacity="0.91" stroke-width="0.97"/>
<path d="M210.0 574.9L203.6 561.1M203.6 561.1L205.8 563.5L204.0 564.3Z" opacity="0.85" stroke-width="0.88" stroke="#d2141e" fill="#d2141e"/>
<path d="M210.0 561.6L204.7 548.7M204.7 548.7L206.6 551.0L204.9 551.7Z" opacity="0.85" stroke-width="0.84" stroke="#d2141e" fill="#d2141e"/>
<path d="M210.0 548.3L205.4 535.8M205.4 535.8L207.2 538.1L205.5 538.7Z" opacity="0.85" stroke-width="0.82" stroke="#d2141e" fill="#d2141e"/>
<path d="M210.0 535.0L206.0 523.0M206.0 523.0L207.6 525.2L206.0 525.7Z" opacity="0.85" stroke-width="0.80" stroke="#d2141e" fill="#d2141e"/>
<path d="M223.3 814.0L226.4 801.1M226.4 801.1L226.6 803.9L224.9 803.5Z" opacity="0.85" stroke-width="0.82" stroke="#d2141e" fill="#d2141e"/>
<path d="M223.3 800.7L226.9 787.1M226.9 787.1L227.0 790.1L225.2 789.7Z" opacity="0.85" stroke-width="0.84" stroke="#d2141e" fill="#d2141e"/>
<path d="M223.3 787.4L227.5 773.0M227.5 773.0L227.6 776.2L225.7 775.6Z" opacity="0.85" stroke-width="0.88" stroke="#d2141e" fill="#d2141e"/>
<path d="M223.3 774.1L227.4 758.9M227.4 758.9L227.7 762.9L225.2 762.2Z" opacity="1.00" stroke-width="1.22"/>
<path d="M223.3 760.8L227.6 748.4M227.6 748.4L227.6 751.7L225.5 751.1Z" opacity="1.00" stroke-width="1.13"/>
<path d="M223.3 747.6L227.2 740.5M227.2 740.5L226.9 742.5L225.5 741.8Z" opacity="0.81" stroke-width="0.92"/>
<path d="M223.3 734.3L229.2 732.1M229.2 732.1L227.8 733.5L227.3 732.0Z" opacity="0.70" stroke-width="0.86"/>
<path d="M223.3 721.0L229.4 723.3M229.4 723.3L227.4 723.4L228.0 721.9Z" opacity="0.71" stroke-width="0.86"/>
<path d="M223.3 707.7L215.9 693.0M215.9 693.0L218.8 695.9L216.4 697.1Z" opacity="1.00" stroke-width="1.22"/>
<path d="M223.3 694.4L219.1 678.5M219.1 678.5L221.4 681.9L218.8 682.6Z" opacity="1.00" stroke-width="1.22"/>
<path d="M223.3 681.1L222.0 664.7M222.0 664.7L223.6 668.5L220.9 668.8Z" opacity="1.00" stroke-width="1.22"/>
<path d="M223.3 667.9L224.6 651.4M224.6 651.4L225.7 655.5L223.0 655.3Z" opacity="1.00" stroke-width="1.22"/>
<path d="M223.3 654.6L227.5 638.6M227.5 638.6L227.8 642.8L225.2 642.1Z" opacity="1.00" stroke-width="1.22"/>
<path d="M223.3 641.3L230.7 626.6M230.7 626.6L230.1 630.7L227.7 629.5Z" opacity="1.00" stroke-width="1.22"/>
<path d="M223.3 628.0L217.2 630.3M217.2 630.3L218.6 628.9L219.2 630.4Z" opacity="0.71" stroke-width="0.86"/>
<path d="M223.3 614.7L217.3 612.6M217.3 612.6L219.3 612.5L218.8 614.0Z" opacity="0.70" stroke-width="0.86"/>
<path d="M223.3 601.4L219.4 594.4M219.4 594.4L221.0 595.7L219.6 596.4Z" opacity="0.81" stroke-width="0.92"/>
<path d="M223.3 588.2L219.0 575.7M219.0 575.7L221.1 578.4L219.0 579.1Z" opacity="1.00" stroke-width="1.13"/>
<path d="M223.3 574.9L219.1 559.7M219.1 559.7L221.4 563.0L218.9 563.7Z" opacity="1.00" stroke-width="1.22"/>
<path d="M223.3 561.6L219.0 547.2M219.0 547.2L220.9 549.8L219.0 550.4Z" opacity="0.85" stroke-width="0.88" stroke="#d2141e" fill="#d2141e"/>
<path d="M223.3 548.3L219.7 534.8M219.7 534.8L221.3 537.3L219.6 537.8Z" opacity="0.85" stroke-width="0.84" stroke="#d2141e" fill="#d2141e"/>
<path d="M223.3 535.0L220.2 522.2M220.2 522.2L221.7 524.6L220.0 525.0Z" opacity="0.85" stroke-width="0.82" stroke="#d2141e" fill="#d2141e"/>
<path d="M236.6 814.0L238.5 800.6M238.5 800.6L239.0 803.4L237.2 803.2Z" opacity="0.85" stroke-width="0.83" stroke="#d2141e" fill="#d2141e"/>
<path d="M236.6 800.7L238.8 786.5M238.8 786.5L239.3 789.5L237.4 789.2Z" opacity="0.85" stroke-width="0.86" stroke="#d2141e" fill="#d2141e"/>
<path d="M236.6 787.4L239.3 772.1M239.3 772.1L239.7 775.4L237.7 775.1Z" opacity="0.85" stroke-width="0.88" stroke="#d2141e" fill="#d2141e"/>
<path d="M236.6 774.1L239.1 758.4M239.1 758.4L239.8 762.3L237.2 761.9Z" opacity="1.00" stroke-width="1.22"/>
<path d="M236.6 760.8L239.0 745.5M239.0 745.5L239.7 749.4L237.2 749.0Z" opacity="1.00" stroke-width="1.22"/>
<path d="M236.6 747.6L238.9 732.5M238.9 732.5L239.6 736.3L237.1 736.0Z" opacity="1.00" stroke-width="1.22"/>
<path d="M236.6 734.3L238.4 720.3M238.4 720.3L239.1 723.8L236.8 723.5Z" opacity="1.00" stroke-width="1.17"/>
<path d="M236.6 721.0L245.3 723.4M245.3 723.4L243.0 723.6L243.4 722.0Z" opacity="0.87" stroke-width="0.95"/>
<path d="M236.6 707.7L231.8 691.9M231.8 691.9L234.2 695.3L231.7 696.1Z" opacity="1.00" stroke-width="1.22"/>
<path d="M236.6 694.4L234.0 678.1M234.0 678.1L236.0 681.8L233.3 682.2Z" opacity="1.00" stroke-width="1.22"/>
<path d="M236.6 681.1L235.8 664.7M235.8 664.7L237.3 668.6L234.6 668.7Z" opacity="1.00" stroke-width="1.22"/>
<path d="M236.6 667.9L237.4 651.4M237.4 651.4L238.5 655.4L235.8 655.3Z" opacity="1.00" stroke-width="1.22"/>
<path d="M236.6 654.6L239.1 638.3M239.1 638.3L239.8 642.4L237.2 642.0Z" opacity="1.00" stroke-width="1.22"/>
<path d="M236.6 641.3L241.4 625.5M241.4 625.5L241.5 629.7L238.9 628.9Z" opacity="1.00" stroke-width="1.22"/>
<path d="M236.6 628.0L227.9 630.4M227.9 630.4L229.8 629.1L230.2 630.6Z" opacity="0.87" stroke-width="0.95"/>
<path d="M236.6 614.7L234.8 600.8M234.8 600.8L236.3 604.0L234.1 604.3Z" opacity="1.00" stroke-width="1.17"/>
<path d="M236.6 601.4L234.3 586.4M234.3 586.4L236.0 589.9L233.6 590.2Z" opacity="1.00" stroke-width="1.22"/>
<path d="M236.6 588.2L234.1 572.8M234.1 572.8L236.0 576.3L233.5 576.7Z" opacity="1.00" stroke-width="1.22"/>
<path d="M236.6 574.9L234.1 559.1M234.1 559.1L236.0 562.7L233.4 563.1Z" opacity="1.00" stroke-width="1.22"/>
<path d="M236.6 561.6L233.9 546.3M233.9 546.3L235.4 549.3L233.4 549.6Z" opacity="0.85" stroke-width="0.88" stroke="#d2141e" fill="#d2141e"/>
<path d="M236.6 548.3L234.3 534.1M234.3 534.1L235.7 536.9L233.9 537.2Z" opacity="0.85" stroke-width="0.86" stroke="#d2141e" fill="#d2141e"/>
<path d="M236.6 535.0L234.7 521.6M234.7 521.6L235.9 524.2L234.2 524.5Z" opacity="0.85" stroke-width="0.83" stroke="#d2141e" fill="#d2141e"/>
<path d="M249.9 814.0L250.5 800.3M250.5 800.3L251.3 803.1L249.5 803.0Z" opacity="0.85" stroke-width="0.83" stroke="#d2141e" fill="#d2141e"/>
<path d="M249.9 800.7L250.6 786.2M250.6 786.2L251.4 789.2L249.5 789.1Z" opacity="0.85" stroke-width="0.86" stroke="#d2141e" fill="#d2141e"/>
<path d="M249.9 787.4L250.8 771.8M250.8 771.8L251.6 775.0L249.6 774.9Z" opacity="0.85" stroke-width="0.88" stroke="#d2141e" fill="#d2141e"/>
<path d="M249.9 774.1L250.7 758.1M250.7 758.1L251.8 762.0L249.2 761.9Z" opacity="1.00" stroke-width="1.22"/>
<path d="M249.9 760.8L250.7 744.9M250.7 744.9L251.8 748.8L249.2 748.6Z" opacity="1.00" stroke-width="1.22"/>
<path d="M249.9 747.6L250.7 731.6M250.7 731.6L251.8 735.5L249.2 735.4Z" opacity="1.00" stroke-width="1.22"/>
<path d="M249.9 734.3L250.6 718.3M250.6 718.3L251.7 722.2L249.1 722.1Z" opacity="1.00" stroke-width="1.22"/>
<path d="M249.9 721.0L246.8 704.8M246.8 704.8L248.9 708.4L246.2 708.9Z" opacity="1.00" stroke-width="1.22"/>
<path d="M249.9 707.7L248.2 691.3M248.2 691.3L249.9 695.1L247.3 695.4Z" opacity="1.00" stroke-width="1.22"/>
<path d="M249.9 694.4L249.0 677.9M249.0 677.9L250.6 681.8L247.9 682.0Z" opacity="1.00" stroke-width="1.22"/>
<path d="M249.9 681.1L249.6 664.6M249.6 664.6L251.0 668.6L248.3 668.6Z" opacity="1.00" stroke-width="1.22"/>
<path d="M249.9 667.9L250.1 651.4M250.1 651.4L251.4 655.3L248.7 655.3Z" opacity="1.00" stroke-width="1.22"/>
<path d="M249.9 654.6L250.7 638.1M250.7 638.1L251.9 642.1L249.2 642.0Z" opacity="1.00" stroke-width="1.22"/>
<path d="M249.9 641.3L251.5 624.9M251.5 624.9L252.5 629.0L249.8 628.7Z" opacity="1.00" stroke-width="1.22"/>
<path d="M249.9 628.0L252.9 611.8M252.9 611.8L253.5 615.9L250.8 615.4Z" opacity="1.00" stroke-width="1.22"/>
<path d="M249.9 614.7L249.1 598.8M249.1 598.8L250.6 602.6L248.0 602.7Z" opacity="1.00" stroke-width="1.22"/>
<path d="M249.9 601.4L249.1 585.5M249.1 585.5L250.6 589.3L248.0 589.4Z" opacity="1.00" stroke-width="1.22"/>
<path d="M249.9 588.2L249.0 572.2M249.0 572.2L250.5 576.0L247.9 576.1Z" opacity="1.00" stroke-width="1.22"/>
<path d="M249.9 574.9L249.0 558.9M249.0 558.9L250.5 562.7L247.9 562.8Z" opacity="1.00" stroke-width="1.22"/>
<path d="M249.9 561.6L248.9 545.9M248.9 545.9L250.1 549.1L248.1 549.2Z" opacity="0.85" stroke-width="0.88" stroke="#d2141e" fill="#d2141e"/>
<path d="M249.9 548.3L249.1 533.8M249.1 533.8L250.2 536.7L248.3 536.8Z" opacity="0.85" stroke-width="0.86" stroke="#d2141e" fill="#d2141e"/>
<path d="M249.9 535.0L249.2 521.3M249.2 521.3L250.2 524.1L248.4 524.2Z" opacity="0.85" stroke-width="0.83" stroke="#d2141e" fill="#d2141e"/>
<path d="M263.1 814.0L262.5 800.3M262.5 800.3L263.5 803.0L261.7 803.1Z" opacity="0.85" stroke-width="0.83" stroke="#d2141e" fill="#d2141e"/>
<path d="M263.1 800.7L262.4 786.2M262.4 786.2L263.5 789.1L261.6 789.2Z" opacity="0.85" stroke-width="0.86" stroke="#d2141e" fill="#d2141e"/>
<path d="M263.1 787.4L262.2 771.8M262.2 771.8L263.4 774.9L261.4 775.0Z" opacity="0.85" stroke-width="0.88" stroke="#d2141e" fill="#d2141e"/>
<path d="M263.1 774.1L262.3 758.1M262.3 758.1L263.8 761.9L261.2 762.0Z" opacity="1.00" stroke-width="1.22"/>
<path d="M263.1 760.8L262.3 744.9M262.3 744.9L263.8 748.6L261.2 748.8Z" opacity="1.00" stroke-width="1.22"/>
<path d="M263.1 747.6L262.3 731.6M262.3 731.6L263.8 735.4L261.2 735.5Z" opacity="1.00" stroke-width="1.22"/>
<path d="M263.1 734.3L262.4 718.3M262.4 718.3L263.9 722.1L261.3 722.2Z" opacity="1.00" stroke-width="1.22"/>
<path d="M263.1 721.0L266.2 704.8M266.2 704.8L266.8 708.9L264.1 708.4Z" opacity="1.00" stroke-width="1.22"/>
<path d="M263.1 707.7L264.8 691.3M264.8 691.3L265.7 695.4L263.1 695.1Z" opacity="1.00" stroke-width="1.22"/>
<path d="M263.1 694.4L264.0 677.9M264.0 677.9L265.1 682.0L262.4 681.8Z" opacity="1.00" stroke-width="1.22"/>
<path d="M263.1 681.1L263.4 664.6M263.4 664.6L264.7 668.6L262.0 668.6Z" opacity="1.00" stroke-width="1.22"/>
<path d="M263.1 667.9L262.9 651.4M262.9 651.4L264.3 655.3L261.6 655.3Z" opacity="1.00" stroke-width="1.22"/>
<path d="M263.1 654.6L262.3 638.1M262.3 638.1L263.8 642.0L261.1 642.1Z" opacity="1.00" stroke-width="1.22"/>
<path d="M263.1 641.3L261.5 624.9M261.5 624.9L263.2 628.7L260.5 629.0Z" opacity="1.00" stroke-width="1.22"/>
<path d="M263.1 628.0L260.1 611.8M260.1 611.8L262.2 615.4L259.5 615.9Z" opacity="1.00" stroke-width="1.22"/>
<path d="M263.1 614.7L263.9 598.8M263.9 598.8L265.0 602.7L262.4 602.6Z" opacity="1.00" stroke-width="1.22"/>
<path d="M263.1 601.4L263.9 585.5M263.9 585.5L265.0 589.4L262.4 589.3Z" opacity="1.00" stroke-width="1.22"/>
<path d="M263.1 588.2L264.0 572.2M264.0 572.2L265.1 576.1L262.5 576.0Z" opacity="1.00" stroke-width="1.22"/>
<path d="M263.1 574.9L264.0 558.9M264.0 558.9L265.1 562.8L262.5 562.7Z" opacity="1.00" stroke-width="1.22"/>
<path d="M263.1 561.6L264.1 545.9M264.1 545.9L264.9 549.2L262.9 549.1Z" opacity="0.85" stroke-width="0.88" stroke="#d2141e" fill="#d2141e"/>
<path d="M263.1 548.3L263.9 533.8M263.9 533.8L264.7 536.8L262.8 536.7Z" opacity="0.85" stroke-width="0.86" stroke="#d2141e" fill="#d2141e"/>
<path d="M263.1 535.0L263.8 521.3M263.8 521.3L264.6 524.2L262.8 524.1Z" opacity="0.85" stroke-width="0.83" stroke="#d2141e" fill="#d2141e"/>
<path d="M276.4 814.0L274.5 800.6M274.5 800.6L275.8 803.2L274.0 803.4Z" opacity="0.85" stroke-width="0.83" stroke="#d2141e" fill="#d2141e"/>
<path d="M276.4 800.7L274.2 786.5M274.2 786.5L275.6 789.2L273.7 789.5Z" opacity="0.85" stroke-width="0.86" stroke="#d2141e" fill="#d2141e"/>
<path d="M276.4 787.4L273.7 772.1M273.7 772.1L275.3 775.1L273.3 775.4Z" opacity="0.85" stroke-width="0.88" stroke="#d2141e" fill="#d2141e"/>
<path d="M276.4 774.1L273.9 758.4M273.9 758.4L275.8 761.9L273.2 762.3Z" opacity="1.00" stroke-width="1.22"/>
<path d="M276.4 760.8L274.0 745.5M274.0 745.5L275.8 749.0L273.3 749.4Z" opacity="1.00" stroke-width="1.22"/>
<path d="M276.4 747.6L274.1 732.5M274.1 732.5L275.9 736.0L273.4 736.3Z" opacity="1.00" stroke-width="1.22"/>
<path d="M276.4 734.3L274.6 720.3M274.6 720.3L276.2 723.5L273.9 723.8Z" opacity="1.00" stroke-width="1.17"/>
<path d="M276.4 721.0L267.7 723.4M267.7 723.4L269.6 722.0L270.0 723.6Z" opacity="0.87" stroke-width="0.95"/>
<path d="M276.4 707.7L281.2 691.9M281.2 691.9L281.3 696.1L278.8 695.3Z" opacity="1.00" stroke-width="1.22"/>
<path d="M276.4 694.4L279.0 678.1M279.0 678.1L279.7 682.2L277.0 681.8Z" opacity="1.00" stroke-width="1.22"/>
<path d="M276.4 681.1L277.2 664.7M277.2 664.7L278.4 668.7L275.7 668.6Z" opacity="1.00" stroke-width="1.22"/>
<path d="M276.4 667.9L275.6 651.4M275.6 651.4L277.2 655.3L274.5 655.4Z" opacity="1.00" stroke-width="1.22"/>
<path d="M276.4 654.6L273.9 638.3M273.9 638.3L275.8 642.0L273.2 642.4Z" opacity="1.00" stroke-width="1.22"/>
<path d="M276.4 641.3L271.6 625.5M271.6 625.5L274.1 628.9L271.5 629.7Z" opacity="1.00" stroke-width="1.22"/>
<path d="M276.4 628.0L285.1 630.4M285.1 630.4L282.8 630.6L283.2 629.1Z" opacity="0.87" stroke-width="0.95"/>
<path d="M276.4 614.7L278.2 600.8M278.2 600.8L278.9 604.3L276.7 604.0Z" opacity="1.00" stroke-width="1.17"/>
<path d="M276.4 601.4L278.7 586.4M278.7 586.4L279.4 590.2L277.0 589.9Z" opacity="1.00" stroke-width="1.22"/>
<path d="M276.4 588.2L278.9 572.8M278.9 572.8L279.5 576.7L277.0 576.3Z" opacity="1.00" stroke-width="1.22"/>
<path d="M276.4 574.9L278.9 559.1M278.9 559.1L279.6 563.1L277.0 562.7Z" opacity="1.00" stroke-width="1.22"/>
<path d="M276.4 561.6L279.1 546.3M279.1 546.3L279.6 549.6L277.6 549.3Z" opacity="0.85" stroke-width="0.88" stroke="#d2141e" fill="#d2141e"/>
<path d="M276.4 548.3L278.7 534.1M278.7 534.1L279.1 537.2L277.3 536.9Z" opacity="0.85" stroke-width="0.86" stroke="#d2141e" fill="#d2141e"/>
<path d="M276.4 535.0L278.3 521.6M278.3 521.6L278.8 524.5L277.1 524.2Z" opacity="0.85" stroke-width="0.83" stroke="#d2141e" fill="#d2141e"/>
<path d="M289.7 814.0L286.6 801.1M286.6 801.1L288.1 803.5L286.4 803.9Z" opacity="0.85" stroke-width="0.82" stroke="#d2141e" fill="#d2141e"/>
<path d="M289.7 800.7L286.1 787.1M286.1 787.1L287.8 789.7L286.0 790.1Z" opacity="0.85" stroke-width="0.84" stroke="#d2141e" fill="#d2141e"/>
<path d="M289.7 787.4L285.5 773.0M285.5 773.0L287.3 775.6L285.4 776.2Z" opacity="0.85" stroke-width="0.88" stroke="#d2141e" fill="#d2141e"/>
<path d="M289.7 774.1L285.6 758.9M285.6 758.9L287.8 762.2L285.3 762.9Z" opacity="1.00" stroke-width="1.22"/>
<path d="M289.7 760.8L285.4 748.4M285.4 748.4L287.5 751.1L285.4 751.7Z" opacity="1.00" stroke-width="1.13"/>
<path d="M289.7 747.6L285.8 740.5M285.8 740.5L287.5 741.8L286.1 742.5Z" opacity="0.81" stroke-width="0.92"/>
<path d="M289.7 734.3L283.8 732.1M283.8 732.1L285.7 732.0L285.2 733.5Z" opacity="0.70" stroke-width="0.86"/>
<path d="M289.7 721.0L283.6 723.3M283.6 723.3L285.0 721.9L285.6 723.4Z" opacity="0.71" stroke-width="0.86"/>
<path d="M289.7 707.7L297.1 693.0M297.1 693.0L296.6 697.1L294.2 695.9Z" opacity="1.00" stroke-width="1.22"/>
<path d="M289.7 694.4L293.9 678.5M293.9 678.5L294.2 682.6L291.6 681.9Z" opacity="1.00" stroke-width="1.22"/>
<path d="M289.7 681.1L291.0 664.7M291.0 664.7L292.1 668.8L289.4 668.5Z" opacity="1.00" stroke-width="1.22"/>
<path d="M289.7 667.9L288.4 651.4M288.4 651.4L290.0 655.3L287.3 655.5Z" opacity="1.00" stroke-width="1.22"/>
<path d="M289.7 654.6L285.5 638.6M285.5 638.6L287.8 642.1L285.2 642.8Z" opacity="1.00" stroke-width="1.22"/>
<path d="M289.7 641.3L282.3 626.6M282.3 626.6L285.3 629.5L282.9 630.7Z" opacity="1.00" stroke-width="1.22"/>
<path d="M289.7 628.0L295.8 630.3M295.8 630.3L293.8 630.4L294.4 628.9Z" opacity="0.71" stroke-width="0.86"/>
<path d="M289.7 614.7L295.7 612.6M295.7 612.6L294.2 614.0L293.7 612.5Z" opacity="0.70" stroke-width="0.86"/>
<path d="M289.7 601.4L293.6 594.4M293.6 594.4L293.4 596.4L292.0 595.7Z" opacity="0.81" stroke-width="0.92"/>
<path d="M289.7 588.2L294.0 575.7M294.0 575.7L294.0 579.1L291.9 578.4Z" opacity="1.00" stroke-width="1.13"/>
<path d="M289.7 574.9L293.9 559.7M293.9 559.7L294.1 563.7L291.6 563.0Z" opacity="1.00" stroke-width="1.22"/>
<path d="M289.7 561.6L294.0 547.2M294.0 547.2L294.0 550.4L292.1 549.8Z" opacity="0.85" stroke-width="0.88" stroke="#d2141e" fill="#d2141e"/>
<path d="M289.7 548.3L293.3 534.8M293.3 534.8L293.4 537.8L291.7 537.3Z" opacity="0.85" stroke-width="0.84" stroke="#d2141e" fill="#d2141e"/>
<path d="M289.7 535.0L292.8 522.2M292.8 522.2L293.0 525.0L291.3 524.6Z" opacity="0.85" stroke-width="0.82" stroke="#d2141e" fill="#d2141e"/>
<path d="M303.0 814.0L299.0 802.0M299.0 802.0L300.6 804.2L299.0 804.7Z" opacity="0.85" stroke-width="0.80" stroke="#d2141e" fill="#d2141e"/>
<path d="M303.0 800.7L298.4 788.2M298.4 788.2L300.1 790.4L298.5 791.0Z" opacity="0.85" stroke-width="0.82" stroke="#d2141e" fill="#d2141e"/>
<path d="M303.0 787.4L297.7 774.5M297.7 774.5L299.6 776.8L297.9 777.5Z" opacity="0.85" stroke-width="0.84" stroke="#d2141e" fill="#d2141e"/>
<path d="M303.0 774.1L296.5 760.3M296.5 760.3L298.8 762.7L297.0 763.6Z" opacity="0.85" stroke-width="0.88" stroke="#d2141e" fill="#d2141e"/>
<path d="M303.0 760.8L297.2 753.3M297.2 753.3L299.2 754.6L297.9 755.6Z" opacity="0.91" stroke-width="0.97"/>
<path d="M303.0 747.6L299.0 746.0M299.0 746.0L301.0 745.9L300.4 747.4Z" opacity="0.57" stroke-width="0.79"/>
<path d="M303.0 734.3L298.4 734.7M298.4 734.7L300.1 733.7L300.3 735.3Z" opacity="0.59" stroke-width="0.81"/>
<path d="M303.0 721.0L298.4 723.1M298.4 723.1L299.7 721.6L300.4 723.1Z" opacity="0.62" stroke-width="0.82"/>
<path d="M303.0 707.7L299.0 711.3M299.0 711.3L299.8 709.5L300.9 710.7Z" opacity="0.64" stroke-width="0.83"/>
<path d="M303.0 694.4L296.6 704.9M296.6 704.9L297.3 701.9L299.0 702.9Z" opacity="1.00" stroke-width="1.09"/>
<path d="M303.0 681.1L304.9 664.7M304.9 664.7L305.7 668.8L303.1 668.5Z" opacity="1.00" stroke-width="1.22"/>
<path d="M303.0 667.9L301.1 651.5M301.1 651.5L302.9 655.2L300.2 655.6Z" opacity="1.00" stroke-width="1.22"/>
<path d="M303.0 654.6L309.4 665.1M309.4 665.1L307.0 663.1L308.7 662.0Z" opacity="1.00" stroke-width="1.09"/>
<path d="M303.0 641.3L307.0 644.9M307.0 644.9L305.1 644.3L306.2 643.1Z" opacity="0.64" stroke-width="0.83"/>
<path d="M303.0 628.0L307.6 630.2M307.6 630.2L305.6 630.1L306.3 628.7Z" opacity="0.62" stroke-width="0.82"/>
<path d="M303.0 614.7L307.6 615.1M307.6 615.1L305.7 615.8L305.9 614.2Z" opacity="0.59" stroke-width="0.81"/>
<path d="M303.0 601.4L306.9 599.9M306.9 599.9L305.5 601.3L305.0 599.8Z" opacity="0.57" stroke-width="0.79"/>
<path d="M303.0 588.2L308.8 580.6M308.8 580.6L308.0 582.9L306.8 582.0Z" opacity="0.91" stroke-width="0.97"/>
<path d="M303.0 574.9L309.4 561.1M309.4 561.1L309.0 564.3L307.2 563.5Z" opacity="0.85" stroke-width="0.88" stroke="#d2141e" fill="#d2141e"/>
<path d="M303.0 561.6L308.3 548.7M308.3 548.7L308.1 551.7L306.4 551.0Z" opacity="0.85" stroke-width="0.84" stroke="#d2141e" fill="#d2141e"/>
<path d="M303.0 548.3L307.6 535.8M307.6 535.8L307.5 538.7L305.8 538.1Z" opacity="0.85" stroke-width="0.82" stroke="#d2141e" fill="#d2141e"/>
<path d="M303.0 535.0L307.0 523.0M307.0 523.0L307.0 525.7L305.4 525.2Z" opacity="0.85" stroke-width="0.80" stroke="#d2141e" fill="#d2141e"/>
<path d="M316.3 800.7L311.0 789.6M311.0 789.6L312.8 791.5L311.4 792.2Z" opacity="0.85" stroke-width="0.78" stroke="#d2141e" fill="#d2141e"/>
<path d="M316.3 787.4L310.5 776.5M310.5 776.5L312.4 778.3L310.9 779.1Z" opacity="0.85" stroke-width="0.79" stroke="#d2141e" fill="#d2141e"/>
<path d="M316.3 774.1L310.1 763.8M310.1 763.8L312.0 765.5L310.7 766.3Z" opacity="0.85" stroke-width="0.78" stroke="#d2141e" fill="#d2141e"/>
<path d="M316.3 760.8L310.4 756.7M310.4 756.7L312.3 757.1L311.4 758.4Z" opacity="0.76" stroke-width="0.89"/>
<path d="M316.3 747.6L309.5 747.4M309.5 747.4L311.3 746.6L311.3 748.2Z" opacity="0.73" stroke-width="0.87"/>
<path d="M316.3 734.3L312.8 735.2M312.8 735.2L314.3 734.0L314.7 735.5Z" opacity="0.53" stroke-width="0.78"/>
<path d="M316.3 721.0L312.8 723.0M312.8 723.0L314.0 721.4L314.8 722.8Z" opacity="0.55" stroke-width="0.79"/>
<path d="M316.3 707.7L313.3 710.8M313.3 710.8L314.0 709.0L315.1 710.1Z" opacity="0.57" stroke-width="0.80"/>
<path d="M316.3 694.4L312.0 702.9M312.0 702.9L312.3 700.5L313.7 701.3Z" opacity="0.91" stroke-width="0.97"/>
<path d="M316.3 681.1L314.7 690.9M314.7 690.9L314.3 688.4L315.9 688.7Z" opacity="0.93" stroke-width="0.99"/>
<path d="M316.3 667.9L317.8 677.6M317.8 677.6L316.7 675.4L318.3 675.2Z" opacity="0.93" stroke-width="0.99"/>
<path d="M316.3 654.6L320.6 663.1M320.6 663.1L318.8 661.4L320.3 660.7Z" opacity="0.91" stroke-width="0.97"/>
<path d="M316.3 641.3L319.2 644.4M319.2 644.4L317.4 643.7L318.6 642.6Z" opacity="0.57" stroke-width="0.80"/>
<path d="M316.3 628.0L319.7 630.0M319.7 630.0L317.8 629.8L318.6 628.4Z" opacity="0.55" stroke-width="0.79"/>
<path d="M316.3 614.7L319.8 615.6M319.8 615.6L317.8 616.0L318.2 614.4Z" opacity="0.53" stroke-width="0.78"/>
<path d="M316.3 601.4L323.0 601.3M323.0 601.3L321.2 602.1L321.2 600.5Z" opacity="0.73" stroke-width="0.87"/>
<path d="M316.3 588.2L322.2 584.0M322.2 584.0L321.1 585.7L320.2 584.4Z" opacity="0.76" stroke-width="0.89"/>
<path d="M316.3 574.9L322.4 564.6M322.4 564.6L321.9 567.1L320.5 566.3Z" opacity="0.85" stroke-width="0.78" stroke="#d2141e" fill="#d2141e"/>
<path d="M316.3 561.6L322.1 550.7M322.1 550.7L321.6 553.3L320.2 552.5Z" opacity="0.85" stroke-width="0.79" stroke="#d2141e" fill="#d2141e"/>
<path d="M316.3 548.3L321.5 537.2M321.5 537.2L321.2 539.8L319.7 539.1Z" opacity="0.85" stroke-width="0.78" stroke="#d2141e" fill="#d2141e"/>
<path d="M329.6 800.7L324.0 791.2M324.0 791.2L325.8 792.7L324.5 793.5Z" opacity="0.85" stroke-width="0.74" stroke="#d2141e" fill="#d2141e"/>
<path d="M329.6 787.4L323.8 778.5M323.8 778.5L325.6 780.0L324.4 780.7Z" opacity="0.83" stroke-width="0.73" stroke="#d2141e" fill="#d2141e"/>
<path d="M329.6 774.1L324.0 766.6M324.0 766.6L325.7 767.7L324.6 768.5Z" opacity="0.76" stroke-width="0.70" stroke="#d2141e" fill="#d2141e"/>
<path d="M329.6 760.8L324.3 754.6M324.3 754.6L325.9 755.5L324.9 756.3Z" opacity="0.69" stroke-width="0.66" stroke="#d2141e" fill="#d2141e"/>
<path d="M329.6 747.6L324.0 748.3M324.0 748.3L325.7 747.3L325.9 748.9Z" opacity="0.66" stroke-width="0.83"/>
<path d="M329.6 734.3L323.8 736.6M323.8 736.6L325.2 735.2L325.8 736.7Z" opacity="0.70" stroke-width="0.85"/>
<path d="M329.6 721.0L327.0 722.9M327.0 722.9L327.9 721.2L328.9 722.5Z" opacity="0.51" stroke-width="0.77"/>
<path d="M329.6 707.7L325.0 713.3M325.0 713.3L325.5 711.4L326.7 712.4Z" opacity="0.76" stroke-width="0.89"/>
<path d="M329.6 694.4L326.5 701.4M326.5 701.4L326.5 699.4L328.0 700.0Z" opacity="0.78" stroke-width="0.90"/>
<path d="M329.6 681.1L328.5 688.8M328.5 688.8L327.9 686.9L329.5 687.1Z" opacity="0.80" stroke-width="0.91"/>
<path d="M329.6 667.9L330.6 675.6M330.6 675.6L329.6 673.8L331.2 673.6Z" opacity="0.80" stroke-width="0.91"/>
<path d="M329.6 654.6L332.6 661.5M332.6 661.5L331.2 660.2L332.6 659.5Z" opacity="0.78" stroke-width="0.90"/>
<path d="M329.6 641.3L334.1 646.9M334.1 646.9L332.4 646.0L333.6 645.0Z" opacity="0.76" stroke-width="0.89"/>
<path d="M329.6 628.0L332.2 629.9M332.2 629.9L330.2 629.5L331.2 628.2Z" opacity="0.51" stroke-width="0.77"/>
<path d="M329.6 614.7L335.3 617.1M335.3 617.1L333.4 617.1L333.9 615.6Z" opacity="0.70" stroke-width="0.85"/>
<path d="M329.6 601.4L335.1 602.2M335.1 602.2L333.2 602.8L333.4 601.2Z" opacity="0.66" stroke-width="0.83"/>
<path d="M329.6 588.2L334.8 582.0M334.8 582.0L334.2 583.6L333.2 582.8Z" opacity="0.69" stroke-width="0.66" stroke="#d2141e" fill="#d2141e"/>
<path d="M329.6 574.9L335.1 567.3M335.1 567.3L334.5 569.2L333.5 568.5Z" opacity="0.76" stroke-width="0.70" stroke="#d2141e" fill="#d2141e"/>
<path d="M329.6 561.6L335.3 552.7M335.3 552.7L334.7 554.9L333.5 554.2Z" opacity="0.83" stroke-width="0.73" stroke="#d2141e" fill="#d2141e"/>
<path d="M329.6 548.3L335.1 538.8M335.1 538.8L334.6 541.1L333.3 540.4Z" opacity="0.85" stroke-width="0.74" stroke="#d2141e" fill="#d2141e"/>
<path d="M342.8 787.4L337.4 780.3M337.4 780.3L339.0 781.3L338.0 782.1Z" opacity="0.74" stroke-width="0.69" stroke="#d2141e" fill="#d2141e"/>
<path d="M342.8 774.1L337.4 767.9M337.4 767.9L339.0 768.8L338.1 769.6Z" opacity="0.70" stroke-width="0.66" stroke="#d2141e" fill="#d2141e"/>
<path d="M342.8 760.8L337.8 755.8M337.8 755.8L339.3 756.4L338.4 757.3Z" opacity="0.64" stroke-width="0.64" stroke="#d2141e" fill="#d2141e"/>
<path d="M342.8 747.6L338.9 744.2M338.9 744.2L340.4 744.7L339.6 745.7Z" opacity="0.54" stroke-width="0.59" stroke="#d2141e" fill="#d2141e"/>
<path d="M342.8 734.3L338.3 736.7M338.3 736.7L339.5 735.2L340.2 736.6Z" opacity="0.63" stroke-width="0.82"/>
<path d="M342.8 721.0L338.6 724.7M338.6 724.7L339.5 722.9L340.5 724.1Z" opacity="0.66" stroke-width="0.83"/>
<path d="M342.8 707.7L339.4 712.5M339.4 712.5L339.8 710.6L341.1 711.5Z" opacity="0.68" stroke-width="0.84"/>
<path d="M342.8 694.4L340.6 700.1M340.6 700.1L340.5 698.2L342.0 698.8Z" opacity="0.69" stroke-width="0.85"/>
<path d="M342.8 681.1L342.0 687.4M342.0 687.4L341.5 685.5L343.1 685.7Z" opacity="0.70" stroke-width="0.86"/>
<path d="M342.8 667.9L343.6 674.1M343.6 674.1L342.6 672.4L344.2 672.2Z" opacity="0.70" stroke-width="0.86"/>
<path d="M342.8 654.6L345.1 660.3M345.1 660.3L343.7 658.9L345.2 658.3Z" opacity="0.69" stroke-width="0.85"/>
<path d="M342.8 641.3L346.3 646.1M346.3 646.1L344.6 645.1L345.9 644.2Z" opacity="0.68" stroke-width="0.84"/>
<path d="M342.8 628.0L347.0 631.7M347.0 631.7L345.2 631.1L346.2 629.9Z" opacity="0.66" stroke-width="0.83"/>
<path d="M342.8 614.7L347.4 617.2M347.4 617.2L345.4 617.0L346.2 615.6Z" opacity="0.63" stroke-width="0.82"/>
<path d="M342.8 601.4L346.8 598.1M346.8 598.1L346.1 599.6L345.2 598.6Z" opacity="0.54" stroke-width="0.59" stroke="#d2141e" fill="#d2141e"/>
<path d="M342.8 588.2L347.9 583.1M347.9 583.1L347.3 584.6L346.4 583.7Z" opacity="0.64" stroke-width="0.64" stroke="#d2141e" fill="#d2141e"/>
<path d="M342.8 574.9L348.2 568.7M348.2 568.7L347.6 570.4L346.6 569.5Z" opacity="0.70" stroke-width="0.66" stroke="#d2141e" fill="#d2141e"/>
<path d="M342.8 561.6L348.3 554.5M348.3 554.5L347.7 556.3L346.7 555.5Z" opacity="0.74" stroke-width="0.69" stroke="#d2141e" fill="#d2141e"/>
<path d="M356.1 774.1L351.0 769.0M351.0 769.0L352.6 769.7L351.7 770.6Z" opacity="0.64" stroke-width="0.64" stroke="#d2141e" fill="#d2141e"/>
<path d="M356.1 760.8L351.4 756.7M351.4 756.7L352.9 757.2L352.1 758.2Z" opacity="0.60" stroke-width="0.62" stroke="#d2141e" fill="#d2141e"/>
<path d="M356.1 747.6L352.0 744.5M352.0 744.5L353.6 744.9L352.8 745.9Z" opacity="0.53" stroke-width="0.59" stroke="#d2141e" fill="#d2141e"/>
<path d="M356.1 734.3L352.9 732.4M352.9 732.4L354.6 732.6L353.9 733.7Z" opacity="0.46" stroke-width="0.56" stroke="#d2141e" fill="#d2141e"/>
<path d="M356.1 707.7L353.5 711.9M353.5 711.9L353.8 709.9L355.1 710.8Z" opacity="0.61" stroke-width="0.81"/>
<path d="M356.1 694.4L354.4 699.2M354.4 699.2L354.3 697.3L355.8 697.8Z" opacity="0.62" stroke-width="0.82"/>
<path d="M356.1 681.1L355.5 686.3M355.5 686.3L354.9 684.4L356.5 684.6Z" opacity="0.63" stroke-width="0.82"/>
<path d="M356.1 667.9L356.7 673.0M356.7 673.0L355.7 671.3L357.3 671.1Z" opacity="0.63" stroke-width="0.82"/>
<path d="M356.1 654.6L357.8 659.4M357.8 659.4L356.5 657.9L358.0 657.4Z" opacity="0.62" stroke-width="0.82"/>
<path d="M356.1 641.3L358.7 645.5M358.7 645.5L357.1 644.4L358.5 643.5Z" opacity="0.61" stroke-width="0.81"/>
<path d="M356.1 614.7L359.3 612.8M359.3 612.8L358.3 614.1L357.7 613.0Z" opacity="0.46" stroke-width="0.56" stroke="#d2141e" fill="#d2141e"/>
<path d="M356.1 601.4L360.3 598.4M360.3 598.4L359.4 599.8L358.7 598.8Z" opacity="0.53" stroke-width="0.59" stroke="#d2141e" fill="#d2141e"/>
<path d="M356.1 588.2L360.9 584.0M360.9 584.0L360.1 585.5L359.3 584.6Z" opacity="0.60" stroke-width="0.62" stroke="#d2141e" fill="#d2141e"/>
<path d="M356.1 574.9L361.2 569.8M361.2 569.8L360.6 571.3L359.7 570.4Z" opacity="0.64" stroke-width="0.64" stroke="#d2141e" fill="#d2141e"/>
<path d="M369.4 760.8L365.1 757.6M365.1 757.6L366.7 758.0L365.9 759.0Z" opacity="0.55" stroke-width="0.60" stroke="#d2141e" fill="#d2141e"/>
<path d="M369.4 747.6L365.5 745.1M365.5 745.1L367.2 745.4L366.5 746.4Z" opacity="0.50" stroke-width="0.58" stroke="#d2141e" fill="#d2141e"/>
<path d="M369.4 734.3L366.1 732.5M366.1 732.5L367.8 732.7L367.2 733.8Z" opacity="0.46" stroke-width="0.56" stroke="#d2141e" fill="#d2141e"/>
<path d="M369.4 614.7L372.7 613.0M372.7 613.0L371.6 614.3L371.0 613.1Z" opacity="0.46" stroke-width="0.56" stroke="#d2141e" fill="#d2141e"/>
<path d="M369.4 601.4L373.3 599.0M373.3 599.0L372.3 600.3L371.6 599.2Z" opacity="0.50" stroke-width="0.58" stroke="#d2141e" fill="#d2141e"/>
<path d="M369.4 588.2L373.7 584.9M373.7 584.9L372.9 586.3L372.1 585.3Z" opacity="0.55" stroke-width="0.60" stroke="#d2141e" fill="#d2141e"/>
<path d="M382.7 747.6L379.4 745.6M379.4 745.6L381.0 745.8L380.4 747.0Z" opacity="0.46" stroke-width="0.56" stroke="#d2141e" fill="#d2141e"/>
<path d="M382.7 601.4L386.0 599.5M386.0 599.5L385.0 600.8L384.4 599.7Z" opacity="0.46" stroke-width="0.56" stroke="#d2141e" fill="#d2141e"/>
<path d="M261.9 623.0L262.4 609.4M262.4 609.4L263.4 612.7L261.2 612.7Z" opacity="1.00" stroke-width="1.15"/>
<path d="M272.5 625.2L273.0 614.1M273.0 614.1L273.8 616.8L272.0 616.8Z" opacity="1.00" stroke-width="1.04"/>
<path d="M282.4 629.6L293.6 635.7M293.6 635.7L290.4 635.2L291.4 633.3Z" opacity="1.00" stroke-width="1.11"/>
<path d="M291.2 636.0L300.6 642.2M300.6 642.2L297.8 641.5L298.9 639.9Z" opacity="1.00" stroke-width="1.05"/>
<path d="M298.4 644.1L306.1 651.3M306.1 651.3L303.6 650.2L304.8 648.9Z" opacity="0.97" stroke-width="1.01"/>
<path d="M303.8 653.4L309.3 662.0M309.3 662.0L307.3 660.4L308.7 659.5Z" opacity="0.95" stroke-width="1.00"/>
<path d="M307.2 663.7L310.0 673.3M310.0 673.3L308.6 671.3L310.1 670.8Z" opacity="0.94" stroke-width="0.99"/>
<path d="M308.3 674.5L308.3 684.5M308.3 684.5L307.5 682.1L309.1 682.1Z" opacity="0.93" stroke-width="0.99"/>
<path d="M307.2 685.3L304.3 694.9M304.3 694.9L304.2 692.3L305.8 692.8Z" opacity="0.94" stroke-width="0.99"/>
<path d="M303.8 695.6L298.4 704.2M298.4 704.2L299.0 701.7L300.4 702.5Z" opacity="0.95" stroke-width="1.00"/>
<path d="M298.4 704.9L290.8 712.2M290.8 712.2L292.0 709.8L293.2 711.1Z" opacity="0.97" stroke-width="1.01"/>
<path d="M291.2 713.0L281.7 719.2M281.7 719.2L283.5 716.9L284.5 718.5Z" opacity="1.00" stroke-width="1.05"/>
<path d="M282.4 719.4L271.2 725.4M271.2 725.4L273.4 723.1L274.4 724.9Z" opacity="1.00" stroke-width="1.11"/>
<path d="M272.5 723.8L272.0 712.7M272.0 712.7L273.0 715.3L271.2 715.4Z" opacity="1.00" stroke-width="1.04"/>
<path d="M261.9 726.0L261.4 712.5M261.4 712.5L262.6 715.7L260.4 715.8Z" opacity="1.00" stroke-width="1.15"/>
<path d="M251.1 726.0L251.6 712.5M251.6 712.5L252.6 715.8L250.4 715.7Z" opacity="1.00" stroke-width="1.15"/>
<path d="M240.5 723.8L241.0 712.7M241.0 712.7L241.8 715.4L240.0 715.3Z" opacity="1.00" stroke-width="1.04"/>
<path d="M230.6 719.4L241.8 725.4M241.8 725.4L238.6 724.9L239.6 723.1Z" opacity="1.00" stroke-width="1.11"/>
<path d="M221.8 713.0L231.3 719.2M231.3 719.2L228.5 718.5L229.5 716.9Z" opacity="1.00" stroke-width="1.05"/>
<path d="M214.6 704.9L222.2 712.2M222.2 712.2L219.8 711.1L221.0 709.8Z" opacity="0.97" stroke-width="1.01"/>
<path d="M209.2 695.6L214.6 704.2M214.6 704.2L212.6 702.5L214.0 701.7Z" opacity="0.95" stroke-width="1.00"/>
<path d="M205.8 685.3L208.7 694.9M208.7 694.9L207.2 692.8L208.8 692.3Z" opacity="0.94" stroke-width="0.99"/>
<path d="M204.7 674.5L204.7 684.5M204.7 684.5L203.9 682.1L205.5 682.1Z" opacity="0.93" stroke-width="0.99"/>
<path d="M205.8 663.7L203.0 673.3M203.0 673.3L202.9 670.8L204.4 671.3Z" opacity="0.94" stroke-width="0.99"/>
<path d="M209.2 653.4L203.7 662.0M203.7 662.0L204.3 659.5L205.7 660.4Z" opacity="0.95" stroke-width="1.00"/>
<path d="M214.6 644.1L206.9 651.3M206.9 651.3L208.2 648.9L209.4 650.2Z" opacity="0.97" stroke-width="1.01"/>
<path d="M221.8 636.0L212.4 642.2M212.4 642.2L214.1 639.9L215.2 641.5Z" opacity="1.00" stroke-width="1.05"/>
<path d="M230.6 629.6L219.4 635.7M219.4 635.7L221.6 633.3L222.6 635.2Z" opacity="1.00" stroke-width="1.11"/>
<path d="M240.5 625.2L240.0 614.1M240.0 614.1L241.0 616.8L239.2 616.8Z" opacity="1.00" stroke-width="1.04"/>
<path d="M251.1 623.0L250.6 609.4M250.6 609.4L251.8 612.7L249.6 612.7Z" opacity="1.00" stroke-width="1.15"/>
<path d="M173.2 635.7L169.8 639.5M169.8 639.5L170.4 637.6L171.6 638.7Z" opacity="0.63" stroke-width="0.82"/>
<path d="M178.8 625.5L174.5 628.6M174.5 628.6L175.5 626.9L176.4 628.2Z" opacity="0.64" stroke-width="0.82"/>
<path d="M185.5 616.1L180.5 618.2M180.5 618.2L181.8 616.8L182.4 618.3Z" opacity="0.65" stroke-width="0.83"/>
<path d="M193.4 607.7L187.7 608.5M187.7 608.5L189.4 607.5L189.6 609.1Z" opacity="0.67" stroke-width="0.84"/>
<path d="M202.3 600.3L196.2 599.4M196.2 599.4L198.1 598.9L197.9 600.5Z" opacity="0.69" stroke-width="0.85"/>
<path d="M212.1 594.1L206.2 590.0M206.2 590.0L208.2 590.4L207.3 591.7Z" opacity="0.75" stroke-width="0.88"/>
<path d="M222.6 589.1L218.7 579.2M218.7 579.2L220.4 581.2L218.8 581.9Z" opacity="0.98" stroke-width="1.02"/>
<path d="M233.6 585.5L231.2 572.6M231.2 572.6L232.8 575.5L230.7 575.9Z" opacity="1.00" stroke-width="1.13"/>
<path d="M244.9 583.3L243.7 569.8M243.7 569.8L245.1 573.0L242.9 573.2Z" opacity="1.00" stroke-width="1.15"/>
<path d="M256.5 582.6L256.5 569.0M256.5 569.0L257.6 572.3L255.4 572.3Z" opacity="1.00" stroke-width="1.15"/>
<path d="M268.1 583.3L269.3 569.8M269.3 569.8L270.1 573.2L267.9 573.0Z" opacity="1.00" stroke-width="1.15"/>
<path d="M279.4 585.5L281.8 572.6M281.8 572.6L282.3 575.9L280.2 575.5Z" opacity="1.00" stroke-width="1.13"/>
<path d="M290.4 589.1L294.3 579.2M294.3 579.2L294.2 581.9L292.6 581.2Z" opacity="0.98" stroke-width="1.02"/>
<path d="M300.9 594.1L306.8 590.0M306.8 590.0L305.7 591.7L304.8 590.4Z" opacity="0.75" stroke-width="0.88"/>
<path d="M310.7 600.3L316.8 599.4M316.8 599.4L315.1 600.5L314.9 598.9Z" opacity="0.69" stroke-width="0.85"/>
<path d="M319.6 607.7L325.3 608.5M325.3 608.5L323.4 609.1L323.6 607.5Z" opacity="0.67" stroke-width="0.84"/>
<path d="M327.5 616.1L332.5 618.2M332.5 618.2L330.6 618.3L331.2 616.8Z" opacity="0.65" stroke-width="0.83"/>
<path d="M334.2 625.5L338.5 628.6M338.5 628.6L336.6 628.2L337.5 626.9Z" opacity="0.64" stroke-width="0.82"/>
<path d="M339.8 635.7L343.2 639.5M343.2 639.5L341.4 638.7L342.6 637.6Z" opacity="0.63" stroke-width="0.82"/>
<path d="M237.7 618.4L236.5 606.0M236.5 606.0L237.8 608.9L235.8 609.1Z" opacity="1.00" stroke-width="1.10"/>
<path d="M234.6 609.0L232.4 596.4M232.4 596.4L234.0 599.3L231.9 599.6Z" opacity="1.00" stroke-width="1.11"/>
<path d="M231.5 599.6L228.7 587.3M228.7 587.3L230.4 590.0L228.4 590.5Z" opacity="1.00" stroke-width="1.11"/>
<path d="M228.7 591.5L225.7 579.3M225.7 579.3L227.4 582.0L225.4 582.5Z" opacity="1.00" stroke-width="1.10"/>
<path d="M275.3 618.4L276.5 606.0M276.5 606.0L277.2 609.1L275.2 608.9Z" opacity="1.00" stroke-width="1.10"/>
<path d="M278.4 609.0L280.6 596.4M280.6 596.4L281.1 599.6L279.0 599.3Z" opacity="1.00" stroke-width="1.11"/>
<path d="M281.5 599.6L284.3 587.3M284.3 587.3L284.6 590.5L282.6 590.0Z" opacity="1.00" stroke-width="1.11"/>
<path d="M284.3 591.5L287.3 579.3M287.3 579.3L287.6 582.5L285.6 582.0Z" opacity="1.00" stroke-width="1.10"/>
<path d="M339.8 713.3L336.3 717.1M336.3 717.1L336.9 715.3L338.1 716.3Z" opacity="0.63" stroke-width="0.82"/>
<path d="M334.2 723.5L329.9 726.6M329.9 726.6L330.9 724.9L331.8 726.2Z" opacity="0.64" stroke-width="0.82"/>
<path d="M327.5 732.9L322.4 735.0M322.4 735.0L323.7 733.5L324.3 735.0Z" opacity="0.65" stroke-width="0.83"/>
<path d="M319.6 741.3L313.8 742.2M313.8 742.2L315.5 741.1L315.7 742.7Z" opacity="0.67" stroke-width="0.84"/>
<path d="M310.7 748.7L304.5 747.9M304.5 747.9L306.4 747.3L306.2 748.9Z" opacity="0.69" stroke-width="0.85"/>
<path d="M300.9 754.9L295.0 750.9M295.0 750.9L296.9 751.3L296.0 752.6Z" opacity="0.75" stroke-width="0.88"/>
<path d="M290.4 759.9L286.6 749.9M286.6 749.9L288.3 752.0L286.7 752.6Z" opacity="0.98" stroke-width="1.02"/>
<path d="M279.4 763.5L277.0 750.6M277.0 750.6L278.7 753.5L276.6 753.9Z" opacity="1.00" stroke-width="1.13"/>
<path d="M268.1 765.7L266.8 752.2M266.8 752.2L268.2 755.3L266.0 755.5Z" opacity="1.00" stroke-width="1.15"/>
<path d="M256.5 766.4L256.5 752.8M256.5 752.8L257.6 756.0L255.4 756.0Z" opacity="1.00" stroke-width="1.15"/>
<path d="M244.9 765.7L246.2 752.2M246.2 752.2L247.0 755.5L244.8 755.3Z" opacity="1.00" stroke-width="1.15"/>
<path d="M233.6 763.5L236.0 750.6M236.0 750.6L236.4 753.9L234.3 753.5Z" opacity="1.00" stroke-width="1.13"/>
<path d="M222.6 759.9L226.4 749.9M226.4 749.9L226.3 752.6L224.7 752.0Z" opacity="0.98" stroke-width="1.02"/>
<path d="M212.1 754.9L218.0 750.9M218.0 750.9L217.0 752.6L216.1 751.3Z" opacity="0.75" stroke-width="0.88"/>
<path d="M202.3 748.7L208.5 747.9M208.5 747.9L206.8 748.9L206.6 747.3Z" opacity="0.69" stroke-width="0.85"/>
<path d="M193.4 741.3L199.2 742.2M199.2 742.2L197.3 742.7L197.5 741.1Z" opacity="0.67" stroke-width="0.84"/>
<path d="M185.5 732.9L190.6 735.0M190.6 735.0L188.7 735.0L189.3 733.5Z" opacity="0.65" stroke-width="0.83"/>
<path d="M178.8 723.5L183.1 726.6M183.1 726.6L181.2 726.2L182.1 724.9Z" opacity="0.64" stroke-width="0.82"/>
<path d="M173.2 713.3L176.7 717.1M176.7 717.1L174.9 716.3L176.1 715.3Z" opacity="0.63" stroke-width="0.82"/>
<path d="M275.3 730.6L274.0 718.3M274.0 718.3L275.3 721.1L273.3 721.3Z" opacity="1.00" stroke-width="1.10"/>
<path d="M278.4 740.0L276.3 727.4M276.3 727.4L277.8 730.3L275.8 730.6Z" opacity="1.00" stroke-width="1.11"/>
<path d="M281.5 749.4L278.8 737.0M278.8 737.0L280.5 739.7L278.5 740.2Z" opacity="1.00" stroke-width="1.11"/>
<path d="M284.3 757.5L281.2 745.4M281.2 745.4L283.0 748.1L281.0 748.6Z" opacity="1.00" stroke-width="1.10"/>
<path d="M237.7 730.6L239.0 718.3M239.0 718.3L239.7 721.3L237.7 721.1Z" opacity="1.00" stroke-width="1.10"/>
<path d="M234.6 740.0L236.7 727.4M236.7 727.4L237.2 730.6L235.2 730.3Z" opacity="1.00" stroke-width="1.11"/>
<path d="M231.5 749.4L234.2 737.0M234.2 737.0L234.5 740.2L232.5 739.7Z" opacity="1.00" stroke-width="1.11"/>
<path d="M228.7 757.5L231.8 745.4M231.8 745.4L232.0 748.6L230.0 748.1Z" opacity="1.00" stroke-width="1.10"/>
</g>
<path d="M170.2 748.5H342.8" stroke="#ee1c25" stroke-width="0.9" stroke-dasharray="5 4" opacity="0.55" fill="none"/>
<path d="M133.2 600.5H180.0" stroke="#ee1c25" stroke-width="0.9" stroke-dasharray="5 4" opacity="0.55" fill="none"/>
<path d="M333.0 600.5H379.8" stroke="#ee1c25" stroke-width="0.9" stroke-dasharray="5 4" opacity="0.55" fill="none"/>
<rect x="451.4" y="576.3" width="11.8" height="252.2" fill="url(#jet)"/>
<path d="M451.4 576.3h11.8" stroke="#333" stroke-width="0.6" opacity="0.35"/>
<text class="cb" x="468.8 480.4 492.1" y="584.3">1.2</text>
<path d="M451.4 618.3h11.8" stroke="#333" stroke-width="0.6" opacity="0.35"/>
<text class="cb" x="468.8" y="626.3">1</text>
<path d="M451.4 660.4h11.8" stroke="#333" stroke-width="0.6" opacity="0.35"/>
<text class="cb" x="468.8 480.4 492.1" y="668.4">0.8</text>
<path d="M451.4 702.4h11.8" stroke="#333" stroke-width="0.6" opacity="0.35"/>
<text class="cb" x="468.8 480.4 492.1" y="710.4">0.6</text>
<path d="M451.4 744.4h11.8" stroke="#333" stroke-width="0.6" opacity="0.35"/>
<text class="cb" x="468.8 480.4 492.1" y="752.4">0.4</text>
<path d="M451.4 786.5h11.8" stroke="#333" stroke-width="0.6" opacity="0.35"/>
<text class="cb" x="468.8 480.4 492.1" y="794.5">0.2</text>
<text x="471.6" y="551.6" font-size="25" fill="#2a2a2a" textLength="23.5" lengthAdjust="spacingAndGlyphs">mT</text>
<text class="cap" x="19.0" y="936.5" textLength="467.0">(c) deg.e=130°, deg.c=40°</text>
<g stroke="#969696" stroke-width="1.8" fill="none">
<path d="M589.2 496.5V837.3H949.5"/>
<path d="M589.2 496.5h4M949.5 837.3v-4"/>
<path d="M589.2 822.7h5"/>
<path d="M589.2 797.6h5"/>
<path d="M589.2 772.5h5"/>
<path d="M589.2 747.4h5"/>
<path d="M589.2 722.2h5"/>
<path d="M589.2 697.1h5"/>
<path d="M589.2 672.0h5"/>
<path d="M589.2 647.0h5"/>
<path d="M589.2 622.1h5"/>
<path d="M589.2 597.1h5"/>
<path d="M589.2 572.2h5"/>
<path d="M589.2 547.2h5"/>
<path d="M589.2 522.3h5"/>
<path d="M643.9 837.3v-5"/>
<path d="M705.2 837.3v-5"/>
<path d="M768.5 837.3v-5"/>
<path d="M833.6 837.3v-5"/>
<path d="M893.4 837.3v-5"/>
</g>
<text class="tk" transform="translate(586.2 830.7) scale(0.93 1)" text-anchor="end">−120</text>
<text class="tk" transform="translate(586.2 805.6) scale(0.93 1)" text-anchor="end">−100</text>
<text class="tk" transform="translate(586.2 780.5) scale(0.93 1)" text-anchor="end">−80</text>
<text class="tk" transform="translate(586.2 755.4) scale(0.93 1)" text-anchor="end">−60</text>
<text class="tk" transform="translate(586.2 730.2) scale(0.93 1)" text-anchor="end">−40</text>
<text class="tk" transform="translate(586.2 705.1) scale(0.93 1)" text-anchor="end">−20</text>
<text class="tk" transform="translate(586.2 680.0) scale(0.93 1)" text-anchor="end">0</text>
<text class="tk" transform="translate(586.2 655.0) scale(0.93 1)" text-anchor="end">20</text>
<text class="tk" transform="translate(586.2 630.1) scale(0.93 1)" text-anchor="end">40</text>
<text class="tk" transform="translate(586.2 605.1) scale(0.93 1)" text-anchor="end">60</text>
<text class="tk" transform="translate(586.2 580.2) scale(0.93 1)" text-anchor="end">80</text>
<text class="tk" transform="translate(586.2 555.2) scale(0.93 1)" text-anchor="end">100</text>
<text class="tk" transform="translate(586.2 530.3) scale(0.93 1)" text-anchor="end">120</text>
<text class="tk" transform="translate(644.4 862.1) scale(0.93 1)" text-anchor="middle">−100</text>
<text class="tk" transform="translate(705.7 862.1) scale(0.93 1)" text-anchor="middle">−50</text>
<text class="tk" transform="translate(769.0 862.1) scale(0.93 1)" text-anchor="middle">0</text>
<text class="tk" transform="translate(834.1 862.1) scale(0.93 1)" text-anchor="middle">50</text>
<text class="tk" transform="translate(893.9 862.1) scale(0.93 1)" text-anchor="middle">100</text>
<text x="769.0" y="883.6" text-anchor="middle" font-size="24" fill="#2a2a2a" stroke="#2a2a2a" stroke-width="0.35" textLength="54" lengthAdjust="spacingAndGlyphs">x/mm</text>
<text transform="translate(537.2 672.5) rotate(-90)" text-anchor="middle" font-size="24" fill="#2a2a2a" stroke="#2a2a2a" stroke-width="0.35" textLength="54" lengthAdjust="spacingAndGlyphs">y/mm</text>
<text x="679.4" y="504.6" font-size="23.5" fill="#222" stroke="#222" stroke-width="0.45" textLength="89" lengthAdjust="spacingAndGlyphs">Magnetic</text>
<text x="774.9" y="504.6" font-size="16" font-weight="bold" fill="#222" textLength="84" lengthAdjust="spacingAndGlyphs">flux density</text>
<g fill="none" stroke="#1a1a1a" stroke-width="0.8" opacity="0.8">
<circle cx="768.5" cy="672.0" r="149.50"/>
<circle cx="768.5" cy="672.0" r="122.09"/>
</g>
<g fill="none" stroke="#4a6a70" stroke-width="0.9" opacity="0.85">
<circle cx="768.5" cy="672.0" r="109.63" stroke="#333" stroke-width="0.6"/>
<circle cx="768.5" cy="672.0" r="49.83"/>
<circle cx="768.5" cy="672.0" r="36.13"/>
<path d="M686.1 633.6L688.4 629.0L691.0 624.5L693.8 620.2L696.8 616.0L700.1 612.0L703.6 608.3L707.4 604.7L711.3 601.3L715.4 598.2L719.6 595.3L724.1 592.7L728.6 590.3L733.3 588.1L738.1 586.3L743.1 584.7L748.0 583.4L753.1 582.4L758.2 581.6L763.3 581.2L768.5 581.1L773.7 581.2L778.8 581.6L783.9 582.4L789.0 583.4L793.9 584.7L798.9 586.3L803.7 588.1L808.4 590.3L812.9 592.7L817.4 595.3L821.6 598.2L825.7 601.3L829.6 604.7L833.4 608.3L836.9 612.0L840.2 616.0L843.2 620.2L846.0 624.5L848.6 629.0L850.9 633.6"/>
<path d="M766.9 622.2V581.1"/>
<path d="M770.1 622.2V581.1"/>
<path d="M708.8 603.4L706.5 605.5L704.2 607.7L702.0 610.0L699.9 612.3L697.8 614.8L695.9 617.3L694.0 619.8L692.2 622.5L690.5 625.2L689.0 627.9L687.5 630.7L686.1 633.6L718.8 648.8L719.7 647.1L720.6 645.4L721.5 643.8L722.5 642.1L723.6 640.6L724.7 639.0L725.9 637.5L727.1 636.0L728.4 634.6L729.7 633.2L731.1 631.9L732.5 630.6Z"/>
<path d="M828.2 603.4L830.5 605.5L832.8 607.7L835.0 610.0L837.1 612.3L839.2 614.8L841.1 617.3L843.0 619.8L844.8 622.5L846.5 625.2L848.0 627.9L849.5 630.7L850.9 633.6L818.2 648.8L817.3 647.1L816.4 645.4L815.5 643.8L814.5 642.1L813.4 640.6L812.3 639.0L811.1 637.5L809.9 636.0L808.6 634.6L807.3 633.2L805.9 631.9L804.5 630.6Z"/>
<path d="M850.9 710.4L848.6 715.0L846.0 719.5L843.2 723.8L840.2 728.0L836.9 732.0L833.4 735.7L829.6 739.3L825.7 742.7L821.6 745.8L817.4 748.7L812.9 751.3L808.4 753.7L803.7 755.9L798.9 757.7L793.9 759.3L789.0 760.6L783.9 761.6L778.8 762.4L773.7 762.8L768.5 762.9L763.3 762.8L758.2 762.4L753.1 761.6L748.0 760.6L743.1 759.3L738.1 757.7L733.3 755.9L728.6 753.7L724.1 751.3L719.6 748.7L715.4 745.8L711.3 742.7L707.4 739.3L703.6 735.7L700.1 732.0L696.8 728.0L693.8 723.8L691.0 719.5L688.4 715.0L686.1 710.4"/>
<path d="M766.9 721.8V762.9"/>
<path d="M770.1 721.8V762.9"/>
<path d="M828.2 740.6L830.5 738.5L832.8 736.3L835.0 734.0L837.1 731.7L839.2 729.2L841.1 726.7L843.0 724.2L844.8 721.5L846.5 718.8L848.0 716.1L849.5 713.3L850.9 710.4L818.2 695.2L817.3 696.9L816.4 698.6L815.5 700.2L814.5 701.9L813.4 703.4L812.3 705.0L811.1 706.5L809.9 708.0L808.6 709.4L807.3 710.8L805.9 712.1L804.5 713.4Z"/>
<path d="M708.8 740.6L706.5 738.5L704.2 736.3L702.0 734.0L699.9 731.7L697.8 729.2L695.9 726.7L694.0 724.2L692.2 721.5L690.5 718.8L689.0 716.1L687.5 713.3L686.1 710.4L718.8 695.2L719.7 696.9L720.6 698.6L721.5 700.2L722.5 701.9L723.6 703.4L724.7 705.0L725.9 706.5L727.1 708.0L728.4 709.4L729.7 710.8L731.1 712.1L732.5 713.4Z"/>
</g>
<g stroke="#ee1c25" fill="#ee1c25" stroke-linecap="round" stroke-linejoin="round">
<path d="M627.6 719.0L632.3 717.4M632.3 717.4L631.1 718.5L630.7 717.3Z" opacity="0.52" stroke-width="0.59" stroke="#d2141e" fill="#d2141e"/>
<path d="M627.6 705.5L631.9 704.5M631.9 704.5L630.6 705.5L630.3 704.2Z" opacity="0.50" stroke-width="0.58" stroke="#d2141e" fill="#d2141e"/>
<path d="M627.6 692.1L631.5 691.6M631.5 691.6L630.0 692.4L629.8 691.2Z" opacity="0.46" stroke-width="0.57" stroke="#d2141e" fill="#d2141e"/>
<path d="M627.6 651.9L623.8 651.3M623.8 651.3L625.4 650.9L625.2 652.2Z" opacity="0.46" stroke-width="0.57" stroke="#d2141e" fill="#d2141e"/>
<path d="M627.6 638.5L623.3 637.4M623.3 637.4L624.9 637.2L624.6 638.4Z" opacity="0.50" stroke-width="0.58" stroke="#d2141e" fill="#d2141e"/>
<path d="M627.6 625.0L622.9 623.5M622.9 623.5L624.6 623.4L624.2 624.6Z" opacity="0.52" stroke-width="0.59" stroke="#d2141e" fill="#d2141e"/>
<path d="M641.0 745.8L647.2 742.2M647.2 742.2L646.2 743.6L645.5 742.5Z" opacity="0.64" stroke-width="0.64" stroke="#d2141e" fill="#d2141e"/>
<path d="M641.0 732.4L647.1 729.5M647.1 729.5L646.0 730.8L645.4 729.6Z" opacity="0.62" stroke-width="0.63" stroke="#d2141e" fill="#d2141e"/>
<path d="M641.0 719.0L646.7 716.9M646.7 716.9L645.5 718.0L645.1 716.8Z" opacity="0.58" stroke-width="0.61" stroke="#d2141e" fill="#d2141e"/>
<path d="M641.0 705.5L646.2 704.2M646.2 704.2L644.9 705.2L644.5 704.0Z" opacity="0.54" stroke-width="0.59" stroke="#d2141e" fill="#d2141e"/>
<path d="M641.0 692.1L645.5 691.4M645.5 691.4L644.1 692.3L643.9 691.0Z" opacity="0.50" stroke-width="0.58" stroke="#d2141e" fill="#d2141e"/>
<path d="M641.0 678.7L644.7 678.5M644.7 678.5L643.2 679.2L643.2 678.0Z" opacity="0.45" stroke-width="0.56" stroke="#d2141e" fill="#d2141e"/>
<path d="M641.0 665.3L637.4 665.1M637.4 665.1L638.9 664.5L638.9 665.8Z" opacity="0.45" stroke-width="0.56" stroke="#d2141e" fill="#d2141e"/>
<path d="M641.0 651.9L636.6 651.2M636.6 651.2L638.2 650.8L638.0 652.0Z" opacity="0.50" stroke-width="0.58" stroke="#d2141e" fill="#d2141e"/>
<path d="M641.0 638.5L635.9 637.1M635.9 637.1L637.5 636.9L637.2 638.1Z" opacity="0.54" stroke-width="0.59" stroke="#d2141e" fill="#d2141e"/>
<path d="M641.0 625.0L635.3 622.9M635.3 622.9L637.0 622.9L636.6 624.1Z" opacity="0.58" stroke-width="0.61" stroke="#d2141e" fill="#d2141e"/>
<path d="M641.0 611.6L635.0 608.8M635.0 608.8L636.7 608.8L636.1 610.0Z" opacity="0.62" stroke-width="0.63" stroke="#d2141e" fill="#d2141e"/>
<path d="M641.0 598.2L634.9 594.7M634.9 594.7L636.5 594.9L635.9 596.0Z" opacity="0.64" stroke-width="0.64" stroke="#d2141e" fill="#d2141e"/>
<path d="M654.5 759.2L661.4 753.9M661.4 753.9L660.4 755.5L659.6 754.5Z" opacity="0.73" stroke-width="0.68" stroke="#d2141e" fill="#d2141e"/>
<path d="M654.5 745.8L661.5 741.2M661.5 741.2L660.4 742.7L659.7 741.6Z" opacity="0.71" stroke-width="0.67" stroke="#d2141e" fill="#d2141e"/>
<path d="M654.5 732.4L661.4 728.7M661.4 728.7L660.3 730.0L659.7 728.9Z" opacity="0.68" stroke-width="0.65" stroke="#d2141e" fill="#d2141e"/>
<path d="M654.5 719.0L660.9 716.3M660.9 716.3L659.7 717.5L659.2 716.3Z" opacity="0.63" stroke-width="0.63" stroke="#d2141e" fill="#d2141e"/>
<path d="M654.5 705.5L659.9 703.9M659.9 703.9L658.6 705.0L658.3 703.8Z" opacity="0.56" stroke-width="0.60" stroke="#d2141e" fill="#d2141e"/>
<path d="M654.5 692.1L658.5 691.4M658.5 691.4L657.1 692.3L656.9 691.1Z" opacity="0.48" stroke-width="0.57" stroke="#d2141e" fill="#d2141e"/>
<path d="M654.5 651.9L650.4 651.2M650.4 651.2L652.0 650.8L651.8 652.1Z" opacity="0.48" stroke-width="0.57" stroke="#d2141e" fill="#d2141e"/>
<path d="M654.5 638.5L649.0 636.8M649.0 636.8L650.6 636.7L650.3 637.9Z" opacity="0.56" stroke-width="0.60" stroke="#d2141e" fill="#d2141e"/>
<path d="M654.5 625.0L648.0 622.4M648.0 622.4L649.7 622.4L649.2 623.6Z" opacity="0.63" stroke-width="0.63" stroke="#d2141e" fill="#d2141e"/>
<path d="M654.5 611.6L647.5 607.9M647.5 607.9L649.2 608.1L648.6 609.3Z" opacity="0.68" stroke-width="0.65" stroke="#d2141e" fill="#d2141e"/>
<path d="M654.5 598.2L647.4 593.6M647.4 593.6L649.2 594.0L648.5 595.1Z" opacity="0.71" stroke-width="0.67" stroke="#d2141e" fill="#d2141e"/>
<path d="M654.5 584.8L647.5 579.5M647.5 579.5L649.3 580.0L648.5 581.1Z" opacity="0.73" stroke-width="0.68" stroke="#d2141e" fill="#d2141e"/>
<path d="M667.9 772.6L675.4 765.1M675.4 765.1L674.3 767.1L673.4 766.2Z" opacity="0.83" stroke-width="0.73" stroke="#d2141e" fill="#d2141e"/>
<path d="M667.9 759.2L675.7 752.4M675.7 752.4L674.6 754.3L673.7 753.3Z" opacity="0.82" stroke-width="0.73" stroke="#d2141e" fill="#d2141e"/>
<path d="M667.9 745.8L675.8 740.0M675.8 740.0L674.5 741.7L673.8 740.7Z" opacity="0.78" stroke-width="0.71" stroke="#d2141e" fill="#d2141e"/>
<path d="M667.9 732.4L675.7 727.7M675.7 727.7L674.4 729.2L673.8 728.1Z" opacity="0.75" stroke-width="0.69" stroke="#d2141e" fill="#d2141e"/>
<path d="M667.9 719.0L674.5 715.8M674.5 715.8L673.4 717.1L672.9 715.9Z" opacity="0.65" stroke-width="0.64" stroke="#d2141e" fill="#d2141e"/>
<path d="M667.9 705.5L673.7 710.9M673.7 710.9L671.7 710.2L672.8 709.0Z" opacity="0.80" stroke-width="0.91"/>
<path d="M667.9 692.1L671.0 699.7M671.0 699.7L669.5 698.2L671.0 697.6Z" opacity="0.82" stroke-width="0.92"/>
<path d="M667.9 678.7L668.9 687.0M668.9 687.0L667.9 685.1L669.5 684.9Z" opacity="0.83" stroke-width="0.93"/>
<path d="M667.9 665.3L666.8 673.6M666.8 673.6L666.3 671.5L667.8 671.7Z" opacity="0.83" stroke-width="0.93"/>
<path d="M667.9 651.9L664.7 659.5M664.7 659.5L664.8 657.3L666.2 658.0Z" opacity="0.82" stroke-width="0.92"/>
<path d="M667.9 638.5L662.1 643.8M662.1 643.8L662.9 642.0L664.0 643.1Z" opacity="0.80" stroke-width="0.91"/>
<path d="M667.9 625.0L661.2 621.9M661.2 621.9L662.9 622.0L662.3 623.2Z" opacity="0.65" stroke-width="0.64" stroke="#d2141e" fill="#d2141e"/>
<path d="M667.9 611.6L660.1 606.9M660.1 606.9L662.0 607.3L661.3 608.4Z" opacity="0.75" stroke-width="0.69" stroke="#d2141e" fill="#d2141e"/>
<path d="M667.9 598.2L660.0 592.4M660.0 592.4L662.0 593.1L661.2 594.1Z" opacity="0.78" stroke-width="0.71" stroke="#d2141e" fill="#d2141e"/>
<path d="M667.9 584.8L660.0 578.0M660.0 578.0L662.1 578.9L661.2 579.9Z" opacity="0.82" stroke-width="0.73" stroke="#d2141e" fill="#d2141e"/>
<path d="M667.9 571.4L660.4 563.9M660.4 563.9L662.4 564.9L661.4 565.9Z" opacity="0.83" stroke-width="0.73" stroke="#d2141e" fill="#d2141e"/>
<path d="M681.3 786.0L688.7 776.4M688.7 776.4L687.8 778.8L686.6 777.9Z" opacity="0.85" stroke-width="0.78" stroke="#d2141e" fill="#d2141e"/>
<path d="M681.3 772.6L689.6 763.0M689.6 763.0L688.5 765.5L687.3 764.4Z" opacity="0.85" stroke-width="0.80" stroke="#d2141e" fill="#d2141e"/>
<path d="M681.3 759.2L690.6 749.9M690.6 749.9L689.3 752.4L688.1 751.2Z" opacity="0.85" stroke-width="0.81" stroke="#d2141e" fill="#d2141e"/>
<path d="M681.3 745.8L691.9 736.8M691.9 736.8L690.3 739.4L689.1 738.0Z" opacity="0.85" stroke-width="0.84" stroke="#d2141e" fill="#d2141e"/>
<path d="M681.3 732.4L692.7 721.9M692.7 721.9L690.8 725.4L689.1 723.5Z" opacity="1.00" stroke-width="1.22"/>
<path d="M681.3 719.0L689.4 722.6M689.4 722.6L687.2 722.4L687.8 721.0Z" opacity="0.87" stroke-width="0.95"/>
<path d="M681.3 705.5L687.4 712.7M687.4 712.7L685.3 711.5L686.6 710.4Z" opacity="0.90" stroke-width="0.97"/>
<path d="M681.3 692.1L685.2 701.0M685.2 701.0L683.6 699.2L685.0 698.5Z" opacity="0.92" stroke-width="0.98"/>
<path d="M681.3 678.7L682.6 688.4M682.6 688.4L681.5 686.2L683.1 686.0Z" opacity="0.92" stroke-width="0.98"/>
<path d="M681.3 665.3L679.9 675.0M679.9 675.0L679.5 672.6L681.0 672.8Z" opacity="0.92" stroke-width="0.98"/>
<path d="M681.3 651.9L677.3 660.7M677.3 660.7L677.6 658.3L679.0 658.9Z" opacity="0.92" stroke-width="0.98"/>
<path d="M681.3 638.5L675.2 645.6M675.2 645.6L676.0 643.4L677.2 644.4Z" opacity="0.90" stroke-width="0.97"/>
<path d="M681.3 625.0L673.1 628.7M673.1 628.7L674.8 627.1L675.4 628.5Z" opacity="0.87" stroke-width="0.95"/>
<path d="M681.3 611.6L669.9 601.2M669.9 601.2L673.5 602.8L671.8 604.6Z" opacity="1.00" stroke-width="1.22"/>
<path d="M681.3 598.2L670.7 589.2M670.7 589.2L673.4 590.4L672.3 591.8Z" opacity="0.85" stroke-width="0.84" stroke="#d2141e" fill="#d2141e"/>
<path d="M681.3 584.8L672.0 575.5M672.0 575.5L674.5 576.8L673.3 578.0Z" opacity="0.85" stroke-width="0.81" stroke="#d2141e" fill="#d2141e"/>
<path d="M681.3 571.4L673.0 561.8M673.0 561.8L675.3 563.2L674.0 564.3Z" opacity="0.85" stroke-width="0.80" stroke="#d2141e" fill="#d2141e"/>
<path d="M681.3 558.0L673.9 548.3M673.9 548.3L676.0 549.8L674.8 550.7Z" opacity="0.85" stroke-width="0.78" stroke="#d2141e" fill="#d2141e"/>
<path d="M694.7 799.5L701.2 788.3M701.2 788.3L700.6 791.0L699.1 790.2Z" opacity="0.85" stroke-width="0.80" stroke="#d2141e" fill="#d2141e"/>
<path d="M694.7 786.0L702.1 774.6M702.1 774.6L701.4 777.4L699.9 776.4Z" opacity="0.85" stroke-width="0.83" stroke="#d2141e" fill="#d2141e"/>
<path d="M694.7 772.6L703.3 760.9M703.3 760.9L702.3 763.9L700.8 762.8Z" opacity="0.85" stroke-width="0.86" stroke="#d2141e" fill="#d2141e"/>
<path d="M694.7 759.2L704.9 747.2M704.9 747.2L703.6 750.3L702.0 749.0Z" opacity="0.85" stroke-width="0.88" stroke="#d2141e" fill="#d2141e"/>
<path d="M694.7 745.8L704.3 733.0M704.3 733.0L703.0 736.9L700.9 735.3Z" opacity="1.00" stroke-width="1.22"/>
<path d="M694.7 732.4L704.9 728.2M704.9 728.2L702.8 730.0L702.1 728.3Z" opacity="1.00" stroke-width="1.03"/>
<path d="M694.7 719.0L704.4 723.7M704.4 723.7L701.7 723.3L702.5 721.8Z" opacity="0.99" stroke-width="1.03"/>
<path d="M694.7 705.5L702.6 713.7M702.6 713.7L700.0 712.4L701.3 711.1Z" opacity="1.00" stroke-width="1.05"/>
<path d="M694.7 692.1L699.7 702.6M699.7 702.6L697.6 700.5L699.3 699.6Z" opacity="1.00" stroke-width="1.06"/>
<path d="M694.7 678.7L696.4 690.2M696.4 690.2L695.1 687.6L696.9 687.3Z" opacity="1.00" stroke-width="1.06"/>
<path d="M694.7 665.3L693.0 676.8M693.0 676.8L692.5 673.9L694.4 674.2Z" opacity="1.00" stroke-width="1.06"/>
<path d="M694.7 651.9L689.7 662.3M689.7 662.3L690.1 659.4L691.8 660.2Z" opacity="1.00" stroke-width="1.06"/>
<path d="M694.7 638.5L686.9 646.6M686.9 646.6L688.1 644.0L689.4 645.3Z" opacity="1.00" stroke-width="1.05"/>
<path d="M694.7 625.0L685.0 629.8M685.0 629.8L686.9 627.8L687.7 629.4Z" opacity="0.99" stroke-width="1.03"/>
<path d="M694.7 611.6L684.5 607.4M684.5 607.4L687.3 607.6L686.6 609.3Z" opacity="1.00" stroke-width="1.03"/>
<path d="M694.7 598.2L685.1 585.4M685.1 585.4L688.5 587.7L686.4 589.3Z" opacity="1.00" stroke-width="1.22"/>
<path d="M694.7 584.8L684.6 572.8M684.6 572.8L687.4 574.6L685.8 575.9Z" opacity="0.85" stroke-width="0.88" stroke="#d2141e" fill="#d2141e"/>
<path d="M694.7 571.4L686.1 559.7M686.1 559.7L688.6 561.5L687.1 562.6Z" opacity="0.85" stroke-width="0.86" stroke="#d2141e" fill="#d2141e"/>
<path d="M694.7 558.0L687.3 546.5M687.3 546.5L689.5 548.3L688.0 549.3Z" opacity="0.85" stroke-width="0.83" stroke="#d2141e" fill="#d2141e"/>
<path d="M694.7 544.5L688.3 533.4M688.3 533.4L690.3 535.2L688.8 536.1Z" opacity="0.85" stroke-width="0.80" stroke="#d2141e" fill="#d2141e"/>
<path d="M708.1 799.5L714.0 787.0M714.0 787.0L713.7 789.9L712.0 789.1Z" opacity="0.85" stroke-width="0.84" stroke="#d2141e" fill="#d2141e"/>
<path d="M708.1 786.0L715.0 773.1M715.0 773.1L714.4 776.2L712.7 775.3Z" opacity="0.85" stroke-width="0.87" stroke="#d2141e" fill="#d2141e"/>
<path d="M708.1 772.6L716.2 759.2M716.2 759.2L715.4 762.5L713.6 761.5Z" opacity="0.85" stroke-width="0.88" stroke="#d2141e" fill="#d2141e"/>
<path d="M708.1 759.2L715.8 745.2M715.8 745.2L715.1 749.2L712.8 747.9Z" opacity="1.00" stroke-width="1.22"/>
<path d="M708.1 745.8L715.9 732.1M715.9 732.1L715.1 736.0L712.9 734.8Z" opacity="1.00" stroke-width="1.22"/>
<path d="M708.1 732.4L719.2 726.9M719.2 726.9L717.0 729.1L716.1 727.3Z" opacity="1.00" stroke-width="1.09"/>
<path d="M708.1 719.0L720.8 723.1M720.8 723.1L717.4 723.2L718.1 721.1Z" opacity="1.00" stroke-width="1.14"/>
<path d="M708.1 705.5L718.1 715.4M718.1 715.4L714.9 713.8L716.5 712.2Z" opacity="1.00" stroke-width="1.17"/>
<path d="M708.1 692.1L714.1 704.7M714.1 704.7L711.7 702.2L713.7 701.2Z" opacity="1.00" stroke-width="1.17"/>
<path d="M708.1 678.7L710.2 692.4M710.2 692.4L708.5 689.3L710.8 689.0Z" opacity="1.00" stroke-width="1.17"/>
<path d="M708.1 665.3L706.1 679.0M706.1 679.0L705.5 675.6L707.7 675.9Z" opacity="1.00" stroke-width="1.17"/>
<path d="M708.1 651.9L702.1 664.4M702.1 664.4L702.5 660.9L704.6 661.9Z" opacity="1.00" stroke-width="1.17"/>
<path d="M708.1 638.5L698.2 648.3M698.2 648.3L699.8 645.1L701.4 646.7Z" opacity="1.00" stroke-width="1.17"/>
<path d="M708.1 625.0L695.5 629.2M695.5 629.2L698.2 627.2L698.8 629.3Z" opacity="1.00" stroke-width="1.14"/>
<path d="M708.1 611.6L697.0 606.1M697.0 606.1L700.1 606.6L699.3 608.4Z" opacity="1.00" stroke-width="1.09"/>
<path d="M708.1 598.2L700.4 584.5M700.4 584.5L703.4 587.2L701.1 588.4Z" opacity="1.00" stroke-width="1.22"/>
<path d="M708.1 584.8L700.4 570.7M700.4 570.7L703.4 573.5L701.1 574.7Z" opacity="1.00" stroke-width="1.22"/>
<path d="M708.1 571.4L700.1 558.0M700.1 558.0L702.6 560.2L700.9 561.2Z" opacity="0.85" stroke-width="0.88" stroke="#d2141e" fill="#d2141e"/>
<path d="M708.1 558.0L701.3 545.0M701.3 545.0L703.5 547.2L701.8 548.1Z" opacity="0.85" stroke-width="0.87" stroke="#d2141e" fill="#d2141e"/>
<path d="M708.1 544.5L702.2 532.0M702.2 532.0L704.2 534.2L702.6 535.0Z" opacity="0.85" stroke-width="0.84" stroke="#d2141e" fill="#d2141e"/>
<path d="M721.5 812.9L725.9 799.9M725.9 799.9L725.8 802.9L724.1 802.3Z" opacity="0.85" stroke-width="0.83" stroke="#d2141e" fill="#d2141e"/>
<path d="M721.5 799.5L726.5 785.9M726.5 785.9L726.4 789.0L724.6 788.3Z" opacity="0.85" stroke-width="0.86" stroke="#d2141e" fill="#d2141e"/>
<path d="M721.5 786.0L727.3 772.0M727.3 772.0L727.1 775.2L725.2 774.5Z" opacity="0.85" stroke-width="0.88" stroke="#d2141e" fill="#d2141e"/>
<path d="M721.5 772.6L728.3 758.0M728.3 758.0L727.9 761.5L726.0 760.6Z" opacity="0.85" stroke-width="0.88" stroke="#d2141e" fill="#d2141e"/>
<path d="M721.5 759.2L727.4 744.3M727.4 744.3L727.2 748.4L724.8 747.4Z" opacity="1.00" stroke-width="1.22"/>
<path d="M721.5 745.8L727.4 731.2M727.4 731.2L727.2 735.2L724.8 734.2Z" opacity="1.00" stroke-width="1.22"/>
<path d="M721.5 732.4L727.3 718.5M727.3 718.5L727.1 722.3L724.8 721.3Z" opacity="1.00" stroke-width="1.22"/>
<path d="M721.5 719.0L735.5 716.9M735.5 716.9L732.3 718.5L731.9 716.3Z" opacity="1.00" stroke-width="1.17"/>
<path d="M721.5 705.5L732.4 717.7M732.4 717.7L728.8 715.7L730.8 713.9Z" opacity="1.00" stroke-width="1.22"/>
<path d="M721.5 692.1L728.1 707.2M728.1 707.2L725.3 704.2L727.8 703.1Z" opacity="1.00" stroke-width="1.22"/>
<path d="M721.5 678.7L721.0 662.2M721.0 662.2L722.5 666.1L719.8 666.2Z" opacity="1.00" stroke-width="1.22"/>
<path d="M721.5 665.3L722.1 648.8M722.1 648.8L723.3 652.8L720.6 652.7Z" opacity="1.00" stroke-width="1.22"/>
<path d="M721.5 651.9L714.9 667.0M714.9 667.0L715.3 662.8L717.8 663.9Z" opacity="1.00" stroke-width="1.22"/>
<path d="M721.5 638.5L710.7 650.6M710.7 650.6L712.3 646.8L714.3 648.6Z" opacity="1.00" stroke-width="1.22"/>
<path d="M721.5 625.0L707.6 623.0M707.6 623.0L711.1 622.3L710.8 624.6Z" opacity="1.00" stroke-width="1.17"/>
<path d="M721.5 611.6L715.8 597.7M715.8 597.7L718.3 600.6L716.0 601.5Z" opacity="1.00" stroke-width="1.22"/>
<path d="M721.5 598.2L715.7 583.6M715.7 583.6L718.3 586.6L715.9 587.6Z" opacity="1.00" stroke-width="1.22"/>
<path d="M721.5 584.8L715.6 569.9M715.6 569.9L718.3 573.0L715.8 574.0Z" opacity="1.00" stroke-width="1.22"/>
<path d="M721.5 571.4L714.7 556.8M714.7 556.8L717.1 559.3L715.2 560.2Z" opacity="0.85" stroke-width="0.88" stroke="#d2141e" fill="#d2141e"/>
<path d="M721.5 558.0L715.8 543.9M715.8 543.9L717.9 546.4L716.0 547.1Z" opacity="0.85" stroke-width="0.88" stroke="#d2141e" fill="#d2141e"/>
<path d="M721.5 544.5L716.5 531.0M716.5 531.0L718.4 533.4L716.7 534.1Z" opacity="0.85" stroke-width="0.86" stroke="#d2141e" fill="#d2141e"/>
<path d="M721.5 531.1L717.2 518.2M717.2 518.2L719.0 520.5L717.3 521.1Z" opacity="0.85" stroke-width="0.83" stroke="#d2141e" fill="#d2141e"/>
<path d="M735.0 812.9L738.2 799.2M738.2 799.2L738.4 802.2L736.7 801.8Z" opacity="0.85" stroke-width="0.84" stroke="#d2141e" fill="#d2141e"/>
<path d="M735.0 799.5L738.7 785.2M738.7 785.2L738.9 788.3L737.0 787.8Z" opacity="0.85" stroke-width="0.87" stroke="#d2141e" fill="#d2141e"/>
<path d="M735.0 786.0L739.4 771.1M739.4 771.1L739.4 774.4L737.5 773.9Z" opacity="0.85" stroke-width="0.88" stroke="#d2141e" fill="#d2141e"/>
<path d="M735.0 772.6L739.1 757.2M739.1 757.2L739.4 761.2L736.9 760.6Z" opacity="1.00" stroke-width="1.22"/>
<path d="M735.0 759.2L739.1 743.8M739.1 743.8L739.4 747.8L736.9 747.1Z" opacity="1.00" stroke-width="1.22"/>
<path d="M735.0 745.8L739.1 730.4M739.1 730.4L739.4 734.4L736.8 733.7Z" opacity="1.00" stroke-width="1.22"/>
<path d="M735.0 732.4L739.0 717.0M739.0 717.0L739.3 721.0L736.8 720.3Z" opacity="1.00" stroke-width="1.22"/>
<path d="M735.0 719.0L738.2 704.0M738.2 704.0L738.6 707.8L736.2 707.3Z" opacity="1.00" stroke-width="1.22"/>
<path d="M735.0 705.5L732.9 689.2M732.9 689.2L734.7 692.9L732.1 693.3Z" opacity="1.00" stroke-width="1.22"/>
<path d="M735.0 692.1L733.8 675.7M733.8 675.7L735.4 679.5L732.7 679.7Z" opacity="1.00" stroke-width="1.22"/>
<path d="M735.0 678.7L734.6 662.2M734.6 662.2L736.0 666.1L733.3 666.2Z" opacity="1.00" stroke-width="1.22"/>
<path d="M735.0 665.3L735.3 648.8M735.3 648.8L736.6 652.8L733.9 652.7Z" opacity="1.00" stroke-width="1.22"/>
<path d="M735.0 651.9L736.1 635.4M736.1 635.4L737.2 639.5L734.5 639.3Z" opacity="1.00" stroke-width="1.22"/>
<path d="M735.0 638.5L737.0 622.1M737.0 622.1L737.9 626.2L735.2 625.8Z" opacity="1.00" stroke-width="1.22"/>
<path d="M735.0 625.0L731.7 610.0M731.7 610.0L733.7 613.4L731.3 613.9Z" opacity="1.00" stroke-width="1.22"/>
<path d="M735.0 611.6L730.9 596.2M730.9 596.2L733.1 599.6L730.6 600.3Z" opacity="1.00" stroke-width="1.22"/>
<path d="M735.0 598.2L730.8 582.8M730.8 582.8L733.1 586.1L730.6 586.8Z" opacity="1.00" stroke-width="1.22"/>
<path d="M735.0 584.8L730.8 569.3M730.8 569.3L733.1 572.7L730.5 573.4Z" opacity="1.00" stroke-width="1.22"/>
<path d="M735.0 571.4L730.8 555.9M730.8 555.9L733.0 559.3L730.5 560.0Z" opacity="1.00" stroke-width="1.22"/>
<path d="M735.0 558.0L730.6 543.0M730.6 543.0L732.4 545.8L730.5 546.3Z" opacity="0.85" stroke-width="0.88" stroke="#d2141e" fill="#d2141e"/>
<path d="M735.0 544.5L731.2 530.2M731.2 530.2L732.9 532.9L731.0 533.4Z" opacity="0.85" stroke-width="0.87" stroke="#d2141e" fill="#d2141e"/>
<path d="M735.0 531.1L731.7 517.5M731.7 517.5L733.3 520.0L731.5 520.5Z" opacity="0.85" stroke-width="0.84" stroke="#d2141e" fill="#d2141e"/>
<path d="M748.4 812.9L750.4 798.7M750.4 798.7L750.9 801.8L749.1 801.5Z" opacity="0.85" stroke-width="0.85" stroke="#d2141e" fill="#d2141e"/>
<path d="M748.4 799.5L750.7 784.7M750.7 784.7L751.2 787.8L749.3 787.5Z" opacity="0.85" stroke-width="0.88" stroke="#d2141e" fill="#d2141e"/>
<path d="M748.4 786.0L751.1 770.5M751.1 770.5L751.6 773.9L749.5 773.5Z" opacity="0.85" stroke-width="0.88" stroke="#d2141e" fill="#d2141e"/>
<path d="M748.4 772.6L750.9 756.8M750.9 756.8L751.6 760.8L749.0 760.4Z" opacity="1.00" stroke-width="1.22"/>
<path d="M748.4 759.2L750.8 743.4M750.8 743.4L751.5 747.4L749.0 747.0Z" opacity="1.00" stroke-width="1.22"/>
<path d="M748.4 745.8L750.8 730.0M750.8 730.0L751.5 734.0L748.9 733.6Z" opacity="1.00" stroke-width="1.22"/>
<path d="M748.4 732.4L750.8 716.6M750.8 716.6L751.5 720.6L748.9 720.2Z" opacity="1.00" stroke-width="1.22"/>
<path d="M748.4 719.0L750.7 703.1M750.7 703.1L751.4 707.1L748.8 706.8Z" opacity="1.00" stroke-width="1.22"/>
<path d="M748.4 705.5L747.1 689.1M747.1 689.1L748.8 692.9L746.1 693.1Z" opacity="1.00" stroke-width="1.22"/>
<path d="M748.4 692.1L747.7 675.6M747.7 675.6L749.2 679.5L746.5 679.7Z" opacity="1.00" stroke-width="1.22"/>
<path d="M748.4 678.7L748.1 662.2M748.1 662.2L749.5 666.2L746.8 666.2Z" opacity="1.00" stroke-width="1.22"/>
<path d="M748.4 665.3L748.6 648.8M748.6 648.8L749.9 652.8L747.2 652.7Z" opacity="1.00" stroke-width="1.22"/>
<path d="M748.4 651.9L749.1 635.4M749.1 635.4L750.3 639.4L747.6 639.3Z" opacity="1.00" stroke-width="1.22"/>
<path d="M748.4 638.5L749.6 622.0M749.6 622.0L750.7 626.1L748.0 625.9Z" opacity="1.00" stroke-width="1.22"/>
<path d="M748.4 625.0L746.1 609.2M746.1 609.2L747.9 612.8L745.3 613.2Z" opacity="1.00" stroke-width="1.22"/>
<path d="M748.4 611.6L746.0 595.8M746.0 595.8L747.9 599.4L745.3 599.8Z" opacity="1.00" stroke-width="1.22"/>
<path d="M748.4 598.2L745.9 582.4M745.9 582.4L747.8 586.0L745.2 586.4Z" opacity="1.00" stroke-width="1.22"/>
<path d="M748.4 584.8L745.9 569.0M745.9 569.0L747.8 572.6L745.2 573.0Z" opacity="1.00" stroke-width="1.22"/>
<path d="M748.4 571.4L745.9 555.6M745.9 555.6L747.8 559.2L745.2 559.6Z" opacity="1.00" stroke-width="1.22"/>
<path d="M748.4 558.0L745.6 542.4M745.6 542.4L747.2 545.4L745.2 545.8Z" opacity="0.85" stroke-width="0.88" stroke="#d2141e" fill="#d2141e"/>
<path d="M748.4 544.5L746.0 529.7M746.0 529.7L747.5 532.6L745.5 532.9Z" opacity="0.85" stroke-width="0.88" stroke="#d2141e" fill="#d2141e"/>
<path d="M748.4 531.1L746.4 517.0M746.4 517.0L747.7 519.7L745.8 520.0Z" opacity="0.85" stroke-width="0.85" stroke="#d2141e" fill="#d2141e"/>
<path d="M761.8 812.9L762.5 798.5M762.5 798.5L763.3 801.5L761.4 801.4Z" opacity="0.85" stroke-width="0.86" stroke="#d2141e" fill="#d2141e"/>
<path d="M761.8 799.5L762.6 784.4M762.6 784.4L763.4 787.5L761.4 787.4Z" opacity="0.85" stroke-width="0.88" stroke="#d2141e" fill="#d2141e"/>
<path d="M761.8 786.0L762.7 770.2M762.7 770.2L763.6 773.5L761.5 773.4Z" opacity="0.85" stroke-width="0.88" stroke="#d2141e" fill="#d2141e"/>
<path d="M761.8 772.6L762.6 756.7M762.6 756.7L763.7 760.6L761.1 760.4Z" opacity="1.00" stroke-width="1.22"/>
<path d="M761.8 759.2L762.6 743.2M762.6 743.2L763.7 747.1L761.1 747.0Z" opacity="1.00" stroke-width="1.22"/>
<path d="M761.8 745.8L762.6 729.8M762.6 729.8L763.7 733.7L761.1 733.6Z" opacity="1.00" stroke-width="1.22"/>
<path d="M761.8 732.4L762.6 716.4M762.6 716.4L763.7 720.3L761.1 720.2Z" opacity="1.00" stroke-width="1.22"/>
<path d="M761.8 719.0L761.2 702.5M761.2 702.5L762.7 706.4L760.0 706.5Z" opacity="1.00" stroke-width="1.22"/>
<path d="M761.8 705.5L761.4 689.0M761.4 689.0L762.8 693.0L760.1 693.0Z" opacity="1.00" stroke-width="1.22"/>
<path d="M761.8 692.1L761.6 675.6M761.6 675.6L763.0 679.6L760.3 679.6Z" opacity="1.00" stroke-width="1.22"/>
<path d="M761.8 678.7L761.7 662.2M761.7 662.2L763.1 666.2L760.4 666.2Z" opacity="1.00" stroke-width="1.22"/>
<path d="M761.8 665.3L761.9 648.8M761.9 648.8L763.2 652.8L760.5 652.7Z" opacity="1.00" stroke-width="1.22"/>
<path d="M761.8 651.9L762.0 635.4M762.0 635.4L763.3 639.4L760.6 639.3Z" opacity="1.00" stroke-width="1.22"/>
<path d="M761.8 638.5L762.2 622.0M762.2 622.0L763.5 626.0L760.8 625.9Z" opacity="1.00" stroke-width="1.22"/>
<path d="M761.8 625.0L762.4 608.6M762.4 608.6L763.6 612.6L760.9 612.5Z" opacity="1.00" stroke-width="1.22"/>
<path d="M761.8 611.6L761.0 595.6M761.0 595.6L762.5 599.4L759.9 599.5Z" opacity="1.00" stroke-width="1.22"/>
<path d="M761.8 598.2L761.0 582.2M761.0 582.2L762.5 586.0L759.9 586.1Z" opacity="1.00" stroke-width="1.22"/>
<path d="M761.8 584.8L761.0 568.8M761.0 568.8L762.5 572.6L759.9 572.7Z" opacity="1.00" stroke-width="1.22"/>
<path d="M761.8 571.4L761.0 555.4M761.0 555.4L762.5 559.2L759.9 559.3Z" opacity="1.00" stroke-width="1.22"/>
<path d="M761.8 558.0L760.9 542.1M760.9 542.1L762.1 545.3L760.0 545.4Z" opacity="0.85" stroke-width="0.88" stroke="#d2141e" fill="#d2141e"/>
<path d="M761.8 544.5L761.0 529.5M761.0 529.5L762.1 532.5L760.2 532.6Z" opacity="0.85" stroke-width="0.88" stroke="#d2141e" fill="#d2141e"/>
<path d="M761.8 531.1L761.1 516.7M761.1 516.7L762.2 519.6L760.3 519.7Z" opacity="0.85" stroke-width="0.86" stroke="#d2141e" fill="#d2141e"/>
<path d="M775.2 812.9L774.5 798.5M774.5 798.5L775.6 801.4L773.7 801.5Z" opacity="0.85" stroke-width="0.86" stroke="#d2141e" fill="#d2141e"/>
<path d="M775.2 799.5L774.4 784.4M774.4 784.4L775.6 787.4L773.6 787.5Z" opacity="0.85" stroke-width="0.88" stroke="#d2141e" fill="#d2141e"/>
<path d="M775.2 786.0L774.3 770.2M774.3 770.2L775.5 773.4L773.4 773.5Z" opacity="0.85" stroke-width="0.88" stroke="#d2141e" fill="#d2141e"/>
<path d="M775.2 772.6L774.4 756.7M774.4 756.7L775.9 760.4L773.3 760.6Z" opacity="1.00" stroke-width="1.22"/>
<path d="M775.2 759.2L774.4 743.2M774.4 743.2L775.9 747.0L773.3 747.1Z" opacity="1.00" stroke-width="1.22"/>
<path d="M775.2 745.8L774.4 729.8M774.4 729.8L775.9 733.6L773.3 733.7Z" opacity="1.00" stroke-width="1.22"/>
<path d="M775.2 732.4L774.4 716.4M774.4 716.4L775.9 720.2L773.3 720.3Z" opacity="1.00" stroke-width="1.22"/>
<path d="M775.2 719.0L775.8 702.5M775.8 702.5L777.0 706.5L774.3 706.4Z" opacity="1.00" stroke-width="1.22"/>
<path d="M775.2 705.5L775.6 689.0M775.6 689.0L776.9 693.0L774.2 693.0Z" opacity="1.00" stroke-width="1.22"/>
<path d="M775.2 692.1L775.4 675.6M775.4 675.6L776.7 679.6L774.0 679.6Z" opacity="1.00" stroke-width="1.22"/>
<path d="M775.2 678.7L775.3 662.2M775.3 662.2L776.6 666.2L773.9 666.2Z" opacity="1.00" stroke-width="1.22"/>
<path d="M775.2 665.3L775.1 648.8M775.1 648.8L776.5 652.7L773.8 652.8Z" opacity="1.00" stroke-width="1.22"/>
<path d="M775.2 651.9L775.0 635.4M775.0 635.4L776.4 639.3L773.7 639.4Z" opacity="1.00" stroke-width="1.22"/>
<path d="M775.2 638.5L774.8 622.0M774.8 622.0L776.2 625.9L773.5 626.0Z" opacity="1.00" stroke-width="1.22"/>
<path d="M775.2 625.0L774.6 608.6M774.6 608.6L776.1 612.5L773.4 612.6Z" opacity="1.00" stroke-width="1.22"/>
<path d="M775.2 611.6L776.0 595.6M776.0 595.6L777.1 599.5L774.5 599.4Z" opacity="1.00" stroke-width="1.22"/>
<path d="M775.2 598.2L776.0 582.2M776.0 582.2L777.1 586.1L774.5 586.0Z" opacity="1.00" stroke-width="1.22"/>
<path d="M775.2 584.8L776.0 568.8M776.0 568.8L777.1 572.7L774.5 572.6Z" opacity="1.00" stroke-width="1.22"/>
<path d="M775.2 571.4L776.0 555.4M776.0 555.4L777.1 559.3L774.5 559.2Z" opacity="1.00" stroke-width="1.22"/>
<path d="M775.2 558.0L776.1 542.1M776.1 542.1L777.0 545.4L774.9 545.3Z" opacity="0.85" stroke-width="0.88" stroke="#d2141e" fill="#d2141e"/>
<path d="M775.2 544.5L776.0 529.5M776.0 529.5L776.8 532.6L774.9 532.5Z" opacity="0.85" stroke-width="0.88" stroke="#d2141e" fill="#d2141e"/>
<path d="M775.2 531.1L775.9 516.7M775.9 516.7L776.7 519.7L774.8 519.6Z" opacity="0.85" stroke-width="0.86" stroke="#d2141e" fill="#d2141e"/>
<path d="M788.6 812.9L786.6 798.7M786.6 798.7L787.9 801.5L786.1 801.8Z" opacity="0.85" stroke-width="0.85" stroke="#d2141e" fill="#d2141e"/>
<path d="M788.6 799.5L786.3 784.7M786.3 784.7L787.7 787.5L785.8 787.8Z" opacity="0.85" stroke-width="0.88" stroke="#d2141e" fill="#d2141e"/>
<path d="M788.6 786.0L785.9 770.5M785.9 770.5L787.5 773.5L785.4 773.9Z" opacity="0.85" stroke-width="0.88" stroke="#d2141e" fill="#d2141e"/>
<path d="M788.6 772.6L786.1 756.8M786.1 756.8L788.0 760.4L785.4 760.8Z" opacity="1.00" stroke-width="1.22"/>
<path d="M788.6 759.2L786.2 743.4M786.2 743.4L788.0 747.0L785.5 747.4Z" opacity="1.00" stroke-width="1.22"/>
<path d="M788.6 745.8L786.2 730.0M786.2 730.0L788.1 733.6L785.5 734.0Z" opacity="1.00" stroke-width="1.22"/>
<path d="M788.6 732.4L786.2 716.6M786.2 716.6L788.1 720.2L785.5 720.6Z" opacity="1.00" stroke-width="1.22"/>
<path d="M788.6 719.0L786.3 703.1M786.3 703.1L788.2 706.8L785.6 707.1Z" opacity="1.00" stroke-width="1.22"/>
<path d="M788.6 705.5L789.9 689.1M789.9 689.1L790.9 693.1L788.2 692.9Z" opacity="1.00" stroke-width="1.22"/>
<path d="M788.6 692.1L789.3 675.6M789.3 675.6L790.5 679.7L787.8 679.5Z" opacity="1.00" stroke-width="1.22"/>
<path d="M788.6 678.7L788.9 662.2M788.9 662.2L790.2 666.2L787.5 666.2Z" opacity="1.00" stroke-width="1.22"/>
<path d="M788.6 665.3L788.4 648.8M788.4 648.8L789.8 652.7L787.1 652.8Z" opacity="1.00" stroke-width="1.22"/>
<path d="M788.6 651.9L787.9 635.4M787.9 635.4L789.4 639.3L786.7 639.4Z" opacity="1.00" stroke-width="1.22"/>
<path d="M788.6 638.5L787.4 622.0M787.4 622.0L789.0 625.9L786.3 626.1Z" opacity="1.00" stroke-width="1.22"/>
<path d="M788.6 625.0L790.9 609.2M790.9 609.2L791.7 613.2L789.1 612.8Z" opacity="1.00" stroke-width="1.22"/>
<path d="M788.6 611.6L791.0 595.8M791.0 595.8L791.7 599.8L789.1 599.4Z" opacity="1.00" stroke-width="1.22"/>
<path d="M788.6 598.2L791.1 582.4M791.1 582.4L791.8 586.4L789.2 586.0Z" opacity="1.00" stroke-width="1.22"/>
<path d="M788.6 584.8L791.1 569.0M791.1 569.0L791.8 573.0L789.2 572.6Z" opacity="1.00" stroke-width="1.22"/>
<path d="M788.6 571.4L791.1 555.6M791.1 555.6L791.8 559.6L789.2 559.2Z" opacity="1.00" stroke-width="1.22"/>
<path d="M788.6 558.0L791.4 542.4M791.4 542.4L791.8 545.8L789.8 545.4Z" opacity="0.85" stroke-width="0.88" stroke="#d2141e" fill="#d2141e"/>
<path d="M788.6 544.5L791.0 529.7M791.0 529.7L791.5 532.9L789.5 532.6Z" opacity="0.85" stroke-width="0.88" stroke="#d2141e" fill="#d2141e"/>
<path d="M788.6 531.1L790.6 517.0M790.6 517.0L791.2 520.0L789.3 519.7Z" opacity="0.85" stroke-width="0.85" stroke="#d2141e" fill="#d2141e"/>
<path d="M802.0 812.9L798.8 799.2M798.8 799.2L800.3 801.8L798.6 802.2Z" opacity="0.85" stroke-width="0.84" stroke="#d2141e" fill="#d2141e"/>
<path d="M802.0 799.5L798.3 785.2M798.3 785.2L800.0 787.8L798.1 788.3Z" opacity="0.85" stroke-width="0.87" stroke="#d2141e" fill="#d2141e"/>
<path d="M802.0 786.0L797.6 771.1M797.6 771.1L799.5 773.9L797.6 774.4Z" opacity="0.85" stroke-width="0.88" stroke="#d2141e" fill="#d2141e"/>
<path d="M802.0 772.6L797.9 757.2M797.9 757.2L800.1 760.6L797.6 761.2Z" opacity="1.00" stroke-width="1.22"/>
<path d="M802.0 759.2L797.9 743.8M797.9 743.8L800.1 747.1L797.6 747.8Z" opacity="1.00" stroke-width="1.22"/>
<path d="M802.0 745.8L797.9 730.4M797.9 730.4L800.2 733.7L797.6 734.4Z" opacity="1.00" stroke-width="1.22"/>
<path d="M802.0 732.4L798.0 717.0M798.0 717.0L800.2 720.3L797.7 721.0Z" opacity="1.00" stroke-width="1.22"/>
<path d="M802.0 719.0L798.8 704.0M798.8 704.0L800.8 707.3L798.4 707.8Z" opacity="1.00" stroke-width="1.22"/>
<path d="M802.0 705.5L804.1 689.2M804.1 689.2L804.9 693.3L802.3 692.9Z" opacity="1.00" stroke-width="1.22"/>
<path d="M802.0 692.1L803.2 675.7M803.2 675.7L804.3 679.7L801.6 679.5Z" opacity="1.00" stroke-width="1.22"/>
<path d="M802.0 678.7L802.4 662.2M802.4 662.2L803.7 666.2L801.0 666.1Z" opacity="1.00" stroke-width="1.22"/>
<path d="M802.0 665.3L801.7 648.8M801.7 648.8L803.1 652.7L800.4 652.8Z" opacity="1.00" stroke-width="1.22"/>
<path d="M802.0 651.9L800.9 635.4M800.9 635.4L802.5 639.3L799.8 639.5Z" opacity="1.00" stroke-width="1.22"/>
<path d="M802.0 638.5L800.0 622.1M800.0 622.1L801.8 625.8L799.1 626.2Z" opacity="1.00" stroke-width="1.22"/>
<path d="M802.0 625.0L805.3 610.0M805.3 610.0L805.7 613.9L803.3 613.4Z" opacity="1.00" stroke-width="1.22"/>
<path d="M802.0 611.6L806.1 596.2M806.1 596.2L806.4 600.3L803.9 599.6Z" opacity="1.00" stroke-width="1.22"/>
<path d="M802.0 598.2L806.2 582.8M806.2 582.8L806.4 586.8L803.9 586.1Z" opacity="1.00" stroke-width="1.22"/>
<path d="M802.0 584.8L806.2 569.3M806.2 569.3L806.5 573.4L803.9 572.7Z" opacity="1.00" stroke-width="1.22"/>
<path d="M802.0 571.4L806.2 555.9M806.2 555.9L806.5 560.0L804.0 559.3Z" opacity="1.00" stroke-width="1.22"/>
<path d="M802.0 558.0L806.4 543.0M806.4 543.0L806.5 546.3L804.6 545.8Z" opacity="0.85" stroke-width="0.88" stroke="#d2141e" fill="#d2141e"/>
<path d="M802.0 544.5L805.8 530.2M805.8 530.2L806.0 533.4L804.1 532.9Z" opacity="0.85" stroke-width="0.87" stroke="#d2141e" fill="#d2141e"/>
<path d="M802.0 531.1L805.3 517.5M805.3 517.5L805.5 520.5L803.7 520.0Z" opacity="0.85" stroke-width="0.84" stroke="#d2141e" fill="#d2141e"/>
<path d="M815.5 812.9L811.1 799.9M811.1 799.9L812.9 802.3L811.2 802.9Z" opacity="0.85" stroke-width="0.83" stroke="#d2141e" fill="#d2141e"/>
<path d="M815.5 799.5L810.5 785.9M810.5 785.9L812.4 788.3L810.6 789.0Z" opacity="0.85" stroke-width="0.86" stroke="#d2141e" fill="#d2141e"/>
<path d="M815.5 786.0L809.7 772.0M809.7 772.0L811.8 774.5L809.9 775.2Z" opacity="0.85" stroke-width="0.88" stroke="#d2141e" fill="#d2141e"/>
<path d="M815.5 772.6L808.7 758.0M808.7 758.0L811.0 760.6L809.1 761.5Z" opacity="0.85" stroke-width="0.88" stroke="#d2141e" fill="#d2141e"/>
<path d="M815.5 759.2L809.6 744.3M809.6 744.3L812.2 747.4L809.8 748.4Z" opacity="1.00" stroke-width="1.22"/>
<path d="M815.5 745.8L809.6 731.2M809.6 731.2L812.2 734.2L809.8 735.2Z" opacity="1.00" stroke-width="1.22"/>
<path d="M815.5 732.4L809.7 718.5M809.7 718.5L812.2 721.3L809.9 722.3Z" opacity="1.00" stroke-width="1.22"/>
<path d="M815.5 719.0L801.5 716.9M801.5 716.9L805.1 716.3L804.7 718.5Z" opacity="1.00" stroke-width="1.17"/>
<path d="M815.5 705.5L804.6 717.7M804.6 717.7L806.2 713.9L808.2 715.7Z" opacity="1.00" stroke-width="1.22"/>
<path d="M815.5 692.1L808.9 707.2M808.9 707.2L809.2 703.1L811.7 704.2Z" opacity="1.00" stroke-width="1.22"/>
<path d="M815.5 678.7L816.0 662.2M816.0 662.2L817.2 666.2L814.5 666.1Z" opacity="1.00" stroke-width="1.22"/>
<path d="M815.5 665.3L814.9 648.8M814.9 648.8L816.4 652.7L813.7 652.8Z" opacity="1.00" stroke-width="1.22"/>
<path d="M815.5 651.9L822.1 667.0M822.1 667.0L819.2 663.9L821.7 662.8Z" opacity="1.00" stroke-width="1.22"/>
<path d="M815.5 638.5L826.3 650.6M826.3 650.6L822.7 648.6L824.7 646.8Z" opacity="1.00" stroke-width="1.22"/>
<path d="M815.5 625.0L829.4 623.0M829.4 623.0L826.2 624.6L825.9 622.3Z" opacity="1.00" stroke-width="1.17"/>
<path d="M815.5 611.6L821.2 597.7M821.2 597.7L821.0 601.5L818.7 600.6Z" opacity="1.00" stroke-width="1.22"/>
<path d="M815.5 598.2L821.3 583.6M821.3 583.6L821.1 587.6L818.7 586.6Z" opacity="1.00" stroke-width="1.22"/>
<path d="M815.5 584.8L821.4 569.9M821.4 569.9L821.2 574.0L818.7 573.0Z" opacity="1.00" stroke-width="1.22"/>
<path d="M815.5 571.4L822.3 556.8M822.3 556.8L821.8 560.2L819.9 559.3Z" opacity="0.85" stroke-width="0.88" stroke="#d2141e" fill="#d2141e"/>
<path d="M815.5 558.0L821.2 543.9M821.2 543.9L821.0 547.1L819.1 546.4Z" opacity="0.85" stroke-width="0.88" stroke="#d2141e" fill="#d2141e"/>
<path d="M815.5 544.5L820.5 531.0M820.5 531.0L820.3 534.1L818.6 533.4Z" opacity="0.85" stroke-width="0.86" stroke="#d2141e" fill="#d2141e"/>
<path d="M815.5 531.1L819.8 518.2M819.8 518.2L819.7 521.1L818.0 520.5Z" opacity="0.85" stroke-width="0.83" stroke="#d2141e" fill="#d2141e"/>
<path d="M828.9 799.5L823.0 787.0M823.0 787.0L825.0 789.1L823.3 789.9Z" opacity="0.85" stroke-width="0.84" stroke="#d2141e" fill="#d2141e"/>
<path d="M828.9 786.0L822.0 773.1M822.0 773.1L824.3 775.3L822.6 776.2Z" opacity="0.85" stroke-width="0.87" stroke="#d2141e" fill="#d2141e"/>
<path d="M828.9 772.6L820.8 759.2M820.8 759.2L823.4 761.5L821.6 762.5Z" opacity="0.85" stroke-width="0.88" stroke="#d2141e" fill="#d2141e"/>
<path d="M828.9 759.2L821.2 745.2M821.2 745.2L824.2 747.9L821.9 749.2Z" opacity="1.00" stroke-width="1.22"/>
<path d="M828.9 745.8L821.1 732.1M821.1 732.1L824.1 734.8L821.9 736.0Z" opacity="1.00" stroke-width="1.22"/>
<path d="M828.9 732.4L817.8 726.9M817.8 726.9L820.9 727.3L820.0 729.1Z" opacity="1.00" stroke-width="1.09"/>
<path d="M828.9 719.0L816.2 723.1M816.2 723.1L818.9 721.1L819.6 723.2Z" opacity="1.00" stroke-width="1.14"/>
<path d="M828.9 705.5L818.9 715.4M818.9 715.4L820.5 712.2L822.1 713.8Z" opacity="1.00" stroke-width="1.17"/>
<path d="M828.9 692.1L822.9 704.7M822.9 704.7L823.3 701.2L825.3 702.2Z" opacity="1.00" stroke-width="1.17"/>
<path d="M828.9 678.7L826.8 692.4M826.8 692.4L826.2 689.0L828.5 689.3Z" opacity="1.00" stroke-width="1.17"/>
<path d="M828.9 665.3L830.9 679.0M830.9 679.0L829.3 675.9L831.5 675.6Z" opacity="1.00" stroke-width="1.17"/>
<path d="M828.9 651.9L834.9 664.4M834.9 664.4L832.4 661.9L834.5 660.9Z" opacity="1.00" stroke-width="1.17"/>
<path d="M828.9 638.5L838.8 648.3M838.8 648.3L835.6 646.7L837.2 645.1Z" opacity="1.00" stroke-width="1.17"/>
<path d="M828.9 625.0L841.5 629.2M841.5 629.2L838.2 629.3L838.8 627.2Z" opacity="1.00" stroke-width="1.14"/>
<path d="M828.9 611.6L840.0 606.1M840.0 606.1L837.7 608.4L836.9 606.6Z" opacity="1.00" stroke-width="1.09"/>
<path d="M828.9 598.2L836.6 584.5M836.6 584.5L835.9 588.4L833.6 587.2Z" opacity="1.00" stroke-width="1.22"/>
<path d="M828.9 584.8L836.6 570.7M836.6 570.7L835.9 574.7L833.6 573.5Z" opacity="1.00" stroke-width="1.22"/>
<path d="M828.9 571.4L836.9 558.0M836.9 558.0L836.1 561.2L834.4 560.2Z" opacity="0.85" stroke-width="0.88" stroke="#d2141e" fill="#d2141e"/>
<path d="M828.9 558.0L835.7 545.0M835.7 545.0L835.2 548.1L833.5 547.2Z" opacity="0.85" stroke-width="0.87" stroke="#d2141e" fill="#d2141e"/>
<path d="M828.9 544.5L834.8 532.0M834.8 532.0L834.4 535.0L832.8 534.2Z" opacity="0.85" stroke-width="0.84" stroke="#d2141e" fill="#d2141e"/>
<path d="M842.3 799.5L835.8 788.3M835.8 788.3L837.9 790.2L836.4 791.0Z" opacity="0.85" stroke-width="0.80" stroke="#d2141e" fill="#d2141e"/>
<path d="M842.3 786.0L834.9 774.6M834.9 774.6L837.1 776.4L835.6 777.4Z" opacity="0.85" stroke-width="0.83" stroke="#d2141e" fill="#d2141e"/>
<path d="M842.3 772.6L833.7 760.9M833.7 760.9L836.2 762.8L834.7 763.9Z" opacity="0.85" stroke-width="0.86" stroke="#d2141e" fill="#d2141e"/>
<path d="M842.3 759.2L832.1 747.2M832.1 747.2L835.0 749.0L833.4 750.3Z" opacity="0.85" stroke-width="0.88" stroke="#d2141e" fill="#d2141e"/>
<path d="M842.3 745.8L832.7 733.0M832.7 733.0L836.1 735.3L834.0 736.9Z" opacity="1.00" stroke-width="1.22"/>
<path d="M842.3 732.4L832.1 728.2M832.1 728.2L834.9 728.3L834.2 730.0Z" opacity="1.00" stroke-width="1.03"/>
<path d="M842.3 719.0L832.6 723.7M832.6 723.7L834.5 721.8L835.3 723.3Z" opacity="0.99" stroke-width="1.03"/>
<path d="M842.3 705.5L834.4 713.7M834.4 713.7L835.7 711.1L837.0 712.4Z" opacity="1.00" stroke-width="1.05"/>
<path d="M842.3 692.1L837.3 702.6M837.3 702.6L837.7 699.6L839.4 700.5Z" opacity="1.00" stroke-width="1.06"/>
<path d="M842.3 678.7L840.6 690.2M840.6 690.2L840.1 687.3L841.9 687.6Z" opacity="1.00" stroke-width="1.06"/>
<path d="M842.3 665.3L844.0 676.8M844.0 676.8L842.6 674.2L844.5 673.9Z" opacity="1.00" stroke-width="1.06"/>
<path d="M842.3 651.9L847.3 662.3M847.3 662.3L845.2 660.2L846.9 659.4Z" opacity="1.00" stroke-width="1.06"/>
<path d="M842.3 638.5L850.1 646.6M850.1 646.6L847.6 645.3L848.9 644.0Z" opacity="1.00" stroke-width="1.05"/>
<path d="M842.3 625.0L852.0 629.8M852.0 629.8L849.3 629.4L850.1 627.8Z" opacity="0.99" stroke-width="1.03"/>
<path d="M842.3 611.6L852.5 607.4M852.5 607.4L850.4 609.3L849.7 607.6Z" opacity="1.00" stroke-width="1.03"/>
<path d="M842.3 598.2L851.9 585.4M851.9 585.4L850.6 589.3L848.5 587.7Z" opacity="1.00" stroke-width="1.22"/>
<path d="M842.3 584.8L852.4 572.8M852.4 572.8L851.2 575.9L849.6 574.6Z" opacity="0.85" stroke-width="0.88" stroke="#d2141e" fill="#d2141e"/>
<path d="M842.3 571.4L850.9 559.7M850.9 559.7L849.9 562.6L848.4 561.5Z" opacity="0.85" stroke-width="0.86" stroke="#d2141e" fill="#d2141e"/>
<path d="M842.3 558.0L849.7 546.5M849.7 546.5L849.0 549.3L847.5 548.3Z" opacity="0.85" stroke-width="0.83" stroke="#d2141e" fill="#d2141e"/>
<path d="M842.3 544.5L848.7 533.4M848.7 533.4L848.2 536.1L846.7 535.2Z" opacity="0.85" stroke-width="0.80" stroke="#d2141e" fill="#d2141e"/>
<path d="M855.7 786.0L848.3 776.4M848.3 776.4L850.4 777.9L849.2 778.8Z" opacity="0.85" stroke-width="0.78" stroke="#d2141e" fill="#d2141e"/>
<path d="M855.7 772.6L847.4 763.0M847.4 763.0L849.7 764.4L848.5 765.5Z" opacity="0.85" stroke-width="0.80" stroke="#d2141e" fill="#d2141e"/>
<path d="M855.7 759.2L846.4 749.9M846.4 749.9L848.9 751.2L847.7 752.4Z" opacity="0.85" stroke-width="0.81" stroke="#d2141e" fill="#d2141e"/>
<path d="M855.7 745.8L845.1 736.8M845.1 736.8L847.9 738.0L846.7 739.4Z" opacity="0.85" stroke-width="0.84" stroke="#d2141e" fill="#d2141e"/>
<path d="M855.7 732.4L844.3 721.9M844.3 721.9L847.9 723.5L846.2 725.4Z" opacity="1.00" stroke-width="1.22"/>
<path d="M855.7 719.0L847.6 722.6M847.6 722.6L849.2 721.0L849.8 722.4Z" opacity="0.87" stroke-width="0.95"/>
<path d="M855.7 705.5L849.6 712.7M849.6 712.7L850.4 710.4L851.7 711.5Z" opacity="0.90" stroke-width="0.97"/>
<path d="M855.7 692.1L851.8 701.0M851.8 701.0L852.0 698.5L853.4 699.2Z" opacity="0.92" stroke-width="0.98"/>
<path d="M855.7 678.7L854.4 688.4M854.4 688.4L853.9 686.0L855.5 686.2Z" opacity="0.92" stroke-width="0.98"/>
<path d="M855.7 665.3L857.1 675.0M857.1 675.0L856.0 672.8L857.5 672.6Z" opacity="0.92" stroke-width="0.98"/>
<path d="M855.7 651.9L859.7 660.7M859.7 660.7L858.0 658.9L859.4 658.3Z" opacity="0.92" stroke-width="0.98"/>
<path d="M855.7 638.5L861.8 645.6M861.8 645.6L859.8 644.4L861.0 643.4Z" opacity="0.90" stroke-width="0.97"/>
<path d="M855.7 625.0L863.9 628.7M863.9 628.7L861.6 628.5L862.2 627.1Z" opacity="0.87" stroke-width="0.95"/>
<path d="M855.7 611.6L867.1 601.2M867.1 601.2L865.2 604.6L863.5 602.8Z" opacity="1.00" stroke-width="1.22"/>
<path d="M855.7 598.2L866.3 589.2M866.3 589.2L864.7 591.8L863.6 590.4Z" opacity="0.85" stroke-width="0.84" stroke="#d2141e" fill="#d2141e"/>
<path d="M855.7 584.8L865.0 575.5M865.0 575.5L863.7 578.0L862.5 576.8Z" opacity="0.85" stroke-width="0.81" stroke="#d2141e" fill="#d2141e"/>
<path d="M855.7 571.4L864.0 561.8M864.0 561.8L863.0 564.3L861.7 563.2Z" opacity="0.85" stroke-width="0.80" stroke="#d2141e" fill="#d2141e"/>
<path d="M855.7 558.0L863.1 548.3M863.1 548.3L862.2 550.7L861.0 549.8Z" opacity="0.85" stroke-width="0.78" stroke="#d2141e" fill="#d2141e"/>
<path d="M869.1 772.6L861.6 765.1M861.6 765.1L863.6 766.2L862.7 767.1Z" opacity="0.83" stroke-width="0.73" stroke="#d2141e" fill="#d2141e"/>
<path d="M869.1 759.2L861.3 752.4M861.3 752.4L863.3 753.3L862.4 754.3Z" opacity="0.82" stroke-width="0.73" stroke="#d2141e" fill="#d2141e"/>
<path d="M869.1 745.8L861.2 740.0M861.2 740.0L863.2 740.7L862.5 741.7Z" opacity="0.78" stroke-width="0.71" stroke="#d2141e" fill="#d2141e"/>
<path d="M869.1 732.4L861.3 727.7M861.3 727.7L863.2 728.1L862.6 729.2Z" opacity="0.75" stroke-width="0.69" stroke="#d2141e" fill="#d2141e"/>
<path d="M869.1 719.0L862.5 715.8M862.5 715.8L864.1 715.9L863.6 717.1Z" opacity="0.65" stroke-width="0.64" stroke="#d2141e" fill="#d2141e"/>
<path d="M869.1 705.5L863.3 710.9M863.3 710.9L864.2 709.0L865.3 710.2Z" opacity="0.80" stroke-width="0.91"/>
<path d="M869.1 692.1L866.0 699.7M866.0 699.7L866.0 697.6L867.5 698.2Z" opacity="0.82" stroke-width="0.92"/>
<path d="M869.1 678.7L868.1 687.0M868.1 687.0L867.5 684.9L869.1 685.1Z" opacity="0.83" stroke-width="0.93"/>
<path d="M869.1 665.3L870.2 673.6M870.2 673.6L869.2 671.7L870.7 671.5Z" opacity="0.83" stroke-width="0.93"/>
<path d="M869.1 651.9L872.3 659.5M872.3 659.5L870.8 658.0L872.2 657.3Z" opacity="0.82" stroke-width="0.92"/>
<path d="M869.1 638.5L874.9 643.8M874.9 643.8L873.0 643.1L874.1 642.0Z" opacity="0.80" stroke-width="0.91"/>
<path d="M869.1 625.0L875.8 621.9M875.8 621.9L874.7 623.2L874.1 622.0Z" opacity="0.65" stroke-width="0.64" stroke="#d2141e" fill="#d2141e"/>
<path d="M869.1 611.6L876.9 606.9M876.9 606.9L875.7 608.4L875.0 607.3Z" opacity="0.75" stroke-width="0.69" stroke="#d2141e" fill="#d2141e"/>
<path d="M869.1 598.2L877.0 592.4M877.0 592.4L875.8 594.1L875.0 593.1Z" opacity="0.78" stroke-width="0.71" stroke="#d2141e" fill="#d2141e"/>
<path d="M869.1 584.8L877.0 578.0M877.0 578.0L875.8 579.9L874.9 578.9Z" opacity="0.82" stroke-width="0.73" stroke="#d2141e" fill="#d2141e"/>
<path d="M869.1 571.4L876.6 563.9M876.6 563.9L875.6 565.9L874.6 564.9Z" opacity="0.83" stroke-width="0.73" stroke="#d2141e" fill="#d2141e"/>
<path d="M882.5 759.2L875.6 753.9M875.6 753.9L877.4 754.5L876.6 755.5Z" opacity="0.73" stroke-width="0.68" stroke="#d2141e" fill="#d2141e"/>
<path d="M882.5 745.8L875.5 741.2M875.5 741.2L877.3 741.6L876.6 742.7Z" opacity="0.71" stroke-width="0.67" stroke="#d2141e" fill="#d2141e"/>
<path d="M882.5 732.4L875.6 728.7M875.6 728.7L877.3 728.9L876.7 730.0Z" opacity="0.68" stroke-width="0.65" stroke="#d2141e" fill="#d2141e"/>
<path d="M882.5 719.0L876.1 716.3M876.1 716.3L877.8 716.3L877.3 717.5Z" opacity="0.63" stroke-width="0.63" stroke="#d2141e" fill="#d2141e"/>
<path d="M882.5 705.5L877.1 703.9M877.1 703.9L878.7 703.8L878.4 705.0Z" opacity="0.56" stroke-width="0.60" stroke="#d2141e" fill="#d2141e"/>
<path d="M882.5 692.1L878.5 691.4M878.5 691.4L880.1 691.1L879.9 692.3Z" opacity="0.48" stroke-width="0.57" stroke="#d2141e" fill="#d2141e"/>
<path d="M882.5 651.9L886.6 651.2M886.6 651.2L885.2 652.1L885.0 650.8Z" opacity="0.48" stroke-width="0.57" stroke="#d2141e" fill="#d2141e"/>
<path d="M882.5 638.5L888.0 636.8M888.0 636.8L886.7 637.9L886.4 636.7Z" opacity="0.56" stroke-width="0.60" stroke="#d2141e" fill="#d2141e"/>
<path d="M882.5 625.0L889.0 622.4M889.0 622.4L887.8 623.6L887.3 622.4Z" opacity="0.63" stroke-width="0.63" stroke="#d2141e" fill="#d2141e"/>
<path d="M882.5 611.6L889.5 607.9M889.5 607.9L888.4 609.3L887.8 608.1Z" opacity="0.68" stroke-width="0.65" stroke="#d2141e" fill="#d2141e"/>
<path d="M882.5 598.2L889.6 593.6M889.6 593.6L888.5 595.1L887.8 594.0Z" opacity="0.71" stroke-width="0.67" stroke="#d2141e" fill="#d2141e"/>
<path d="M882.5 584.8L889.5 579.5M889.5 579.5L888.5 581.1L887.7 580.0Z" opacity="0.73" stroke-width="0.68" stroke="#d2141e" fill="#d2141e"/>
<path d="M896.0 745.8L889.8 742.2M889.8 742.2L891.5 742.5L890.8 743.6Z" opacity="0.64" stroke-width="0.64" stroke="#d2141e" fill="#d2141e"/>
<path d="M896.0 732.4L889.9 729.5M889.9 729.5L891.6 729.6L891.0 730.8Z" opacity="0.62" stroke-width="0.63" stroke="#d2141e" fill="#d2141e"/>
<path d="M896.0 719.0L890.3 716.9M890.3 716.9L891.9 716.8L891.5 718.0Z" opacity="0.58" stroke-width="0.61" stroke="#d2141e" fill="#d2141e"/>
<path d="M896.0 705.5L890.8 704.2M890.8 704.2L892.5 704.0L892.1 705.2Z" opacity="0.54" stroke-width="0.59" stroke="#d2141e" fill="#d2141e"/>
<path d="M896.0 692.1L891.5 691.4M891.5 691.4L893.1 691.0L892.9 692.3Z" opacity="0.50" stroke-width="0.58" stroke="#d2141e" fill="#d2141e"/>
<path d="M896.0 678.7L892.3 678.5M892.3 678.5L893.8 678.0L893.8 679.2Z" opacity="0.45" stroke-width="0.56" stroke="#d2141e" fill="#d2141e"/>
<path d="M896.0 665.3L899.6 665.1M899.6 665.1L898.1 665.8L898.1 664.5Z" opacity="0.45" stroke-width="0.56" stroke="#d2141e" fill="#d2141e"/>
<path d="M896.0 651.9L900.4 651.2M900.4 651.2L899.0 652.0L898.8 650.8Z" opacity="0.50" stroke-width="0.58" stroke="#d2141e" fill="#d2141e"/>
<path d="M896.0 638.5L901.1 637.1M901.1 637.1L899.8 638.1L899.5 636.9Z" opacity="0.54" stroke-width="0.59" stroke="#d2141e" fill="#d2141e"/>
<path d="M896.0 625.0L901.7 622.9M901.7 622.9L900.4 624.1L900.0 622.9Z" opacity="0.58" stroke-width="0.61" stroke="#d2141e" fill="#d2141e"/>
<path d="M896.0 611.6L902.0 608.8M902.0 608.8L900.9 610.0L900.3 608.8Z" opacity="0.62" stroke-width="0.63" stroke="#d2141e" fill="#d2141e"/>
<path d="M896.0 598.2L902.1 594.7M902.1 594.7L901.1 596.0L900.5 594.9Z" opacity="0.64" stroke-width="0.64" stroke="#d2141e" fill="#d2141e"/>
<path d="M909.4 719.0L904.7 717.4M904.7 717.4L906.3 717.3L905.9 718.5Z" opacity="0.52" stroke-width="0.59" stroke="#d2141e" fill="#d2141e"/>
<path d="M909.4 705.5L905.1 704.5M905.1 704.5L906.7 704.2L906.4 705.5Z" opacity="0.50" stroke-width="0.58" stroke="#d2141e" fill="#d2141e"/>
<path d="M909.4 692.1L905.5 691.6M905.5 691.6L907.2 691.2L907.0 692.4Z" opacity="0.46" stroke-width="0.57" stroke="#d2141e" fill="#d2141e"/>
<path d="M909.4 651.9L913.2 651.3M913.2 651.3L911.8 652.2L911.6 650.9Z" opacity="0.46" stroke-width="0.57" stroke="#d2141e" fill="#d2141e"/>
<path d="M909.4 638.5L913.7 637.4M913.7 637.4L912.4 638.4L912.1 637.2Z" opacity="0.50" stroke-width="0.58" stroke="#d2141e" fill="#d2141e"/>
<path d="M909.4 625.0L914.1 623.5M914.1 623.5L912.8 624.6L912.4 623.4Z" opacity="0.52" stroke-width="0.59" stroke="#d2141e" fill="#d2141e"/>
<path d="M774.0 620.0L774.5 606.4M774.5 606.4L775.5 609.7L773.3 609.6Z" opacity="1.00" stroke-width="1.15"/>
<path d="M784.7 622.2L786.2 608.7M786.2 608.7L787.0 612.1L784.8 611.8Z" opacity="1.00" stroke-width="1.15"/>
<path d="M794.7 626.7L797.2 613.5M797.2 613.5L797.6 616.8L795.5 616.4Z" opacity="1.00" stroke-width="1.15"/>
<path d="M803.5 633.1L805.3 627.8M805.3 627.8L805.5 629.7L804.0 629.2Z" opacity="0.66" stroke-width="0.84"/>
<path d="M810.8 641.2L818.1 653.0M818.1 653.0L815.4 650.7L817.3 649.5Z" opacity="1.00" stroke-width="1.16"/>
<path d="M816.3 650.7L822.2 663.3M822.2 663.3L819.7 660.8L821.8 659.8Z" opacity="1.00" stroke-width="1.17"/>
<path d="M819.7 661.1L822.8 674.0M822.8 674.0L821.0 671.2L823.1 670.7Z" opacity="1.00" stroke-width="1.14"/>
<path d="M820.8 672.0L820.8 685.1M820.8 685.1L819.8 682.0L821.9 682.0Z" opacity="1.00" stroke-width="1.13"/>
<path d="M819.7 682.9L816.6 695.8M816.6 695.8L816.3 692.4L818.4 693.0Z" opacity="1.00" stroke-width="1.14"/>
<path d="M816.3 693.3L810.4 705.9M810.4 705.9L810.8 702.4L812.9 703.4Z" opacity="1.00" stroke-width="1.17"/>
<path d="M810.8 702.8L803.6 714.5M803.6 714.5L804.3 711.1L806.3 712.2Z" opacity="1.00" stroke-width="1.16"/>
<path d="M803.5 710.9L801.7 705.5M801.7 705.5L803.1 707.0L801.5 707.5Z" opacity="0.66" stroke-width="0.84"/>
<path d="M794.7 717.3L792.2 704.1M792.2 704.1L793.8 707.1L791.7 707.5Z" opacity="1.00" stroke-width="1.15"/>
<path d="M784.7 721.8L783.1 708.3M783.1 708.3L784.6 711.4L782.4 711.6Z" opacity="1.00" stroke-width="1.15"/>
<path d="M774.0 724.0L773.4 710.4M773.4 710.4L774.7 713.7L772.5 713.8Z" opacity="1.00" stroke-width="1.15"/>
<path d="M763.0 724.0L763.6 710.4M763.6 710.4L764.5 713.8L762.3 713.7Z" opacity="1.00" stroke-width="1.15"/>
<path d="M752.3 721.8L753.9 708.3M753.9 708.3L754.6 711.6L752.4 711.4Z" opacity="1.00" stroke-width="1.15"/>
<path d="M742.3 717.3L744.8 704.1M744.8 704.1L745.3 707.5L743.2 707.1Z" opacity="1.00" stroke-width="1.15"/>
<path d="M733.5 710.9L735.3 705.5M735.3 705.5L735.5 707.5L733.9 707.0Z" opacity="0.66" stroke-width="0.84"/>
<path d="M726.2 702.8L733.4 714.5M733.4 714.5L730.7 712.2L732.7 711.1Z" opacity="1.00" stroke-width="1.16"/>
<path d="M720.7 693.3L726.6 705.9M726.6 705.9L724.1 703.4L726.2 702.4Z" opacity="1.00" stroke-width="1.17"/>
<path d="M717.3 682.9L720.4 695.8M720.4 695.8L718.6 693.0L720.7 692.4Z" opacity="1.00" stroke-width="1.14"/>
<path d="M716.2 672.0L716.2 685.1M716.2 685.1L715.1 682.0L717.2 682.0Z" opacity="1.00" stroke-width="1.13"/>
<path d="M717.3 661.1L714.2 674.0M714.2 674.0L713.9 670.7L716.0 671.2Z" opacity="1.00" stroke-width="1.14"/>
<path d="M720.7 650.7L714.8 663.3M714.8 663.3L715.2 659.8L717.3 660.8Z" opacity="1.00" stroke-width="1.17"/>
<path d="M726.2 641.2L718.9 653.0M718.9 653.0L719.7 649.5L721.6 650.7Z" opacity="1.00" stroke-width="1.16"/>
<path d="M733.5 633.1L731.7 627.8M731.7 627.8L733.0 629.2L731.5 629.7Z" opacity="0.66" stroke-width="0.84"/>
<path d="M742.3 626.7L739.8 613.5M739.8 613.5L741.5 616.4L739.4 616.8Z" opacity="1.00" stroke-width="1.15"/>
<path d="M752.3 622.2L750.8 608.7M750.8 608.7L752.2 611.8L750.0 612.1Z" opacity="1.00" stroke-width="1.15"/>
<path d="M763.0 620.0L762.5 606.4M762.5 606.4L763.7 609.6L761.5 609.7Z" opacity="1.00" stroke-width="1.15"/>
<path d="M684.4 632.8L678.2 638.2M678.2 638.2L679.2 636.3L680.2 637.5Z" opacity="0.82" stroke-width="0.92"/>
<path d="M690.0 622.5L682.2 625.9M682.2 625.9L683.8 624.3L684.4 625.8Z" opacity="0.84" stroke-width="0.93"/>
<path d="M696.8 613.0L687.9 612.1M687.9 612.1L690.1 611.6L690.0 613.2Z" opacity="0.87" stroke-width="0.95"/>
<path d="M704.8 604.5L697.3 595.6M697.3 595.6L699.8 597.2L698.3 598.4Z" opacity="1.00" stroke-width="1.06"/>
<path d="M713.8 597.0L707.9 585.1M707.9 585.1L710.3 587.5L708.4 588.4Z" opacity="1.00" stroke-width="1.14"/>
<path d="M723.7 590.7L718.9 578.0M718.9 578.0L721.1 580.7L719.0 581.5Z" opacity="1.00" stroke-width="1.15"/>
<path d="M734.2 585.7L730.6 572.6M730.6 572.6L732.6 575.5L730.4 576.1Z" opacity="1.00" stroke-width="1.15"/>
<path d="M745.3 582.1L742.9 568.7M742.9 568.7L744.6 571.8L742.4 572.1Z" opacity="1.00" stroke-width="1.15"/>
<path d="M756.8 579.9L755.6 566.4M755.6 566.4L757.0 569.5L754.8 569.7Z" opacity="1.00" stroke-width="1.15"/>
<path d="M768.5 579.2L768.5 565.6M768.5 565.6L769.6 568.9L767.4 568.9Z" opacity="1.00" stroke-width="1.15"/>
<path d="M780.2 579.9L781.4 566.4M781.4 566.4L782.2 569.7L780.0 569.5Z" opacity="1.00" stroke-width="1.15"/>
<path d="M791.7 582.1L794.1 568.7M794.1 568.7L794.6 572.1L792.4 571.8Z" opacity="1.00" stroke-width="1.15"/>
<path d="M802.8 585.7L806.4 572.6M806.4 572.6L806.6 576.1L804.4 575.5Z" opacity="1.00" stroke-width="1.15"/>
<path d="M813.3 590.7L818.1 578.0M818.1 578.0L818.0 581.5L815.9 580.7Z" opacity="1.00" stroke-width="1.15"/>
<path d="M823.2 597.0L829.1 585.1M829.1 585.1L828.6 588.4L826.7 587.5Z" opacity="1.00" stroke-width="1.14"/>
<path d="M832.2 604.5L839.7 595.6M839.7 595.6L838.7 598.4L837.2 597.2Z" opacity="1.00" stroke-width="1.06"/>
<path d="M840.2 613.0L849.1 612.1M849.1 612.1L847.0 613.2L846.9 611.6Z" opacity="0.87" stroke-width="0.95"/>
<path d="M847.0 622.5L854.8 625.9M854.8 625.9L852.6 625.8L853.2 624.3Z" opacity="0.84" stroke-width="0.93"/>
<path d="M852.6 632.8L858.8 638.2M858.8 638.2L856.8 637.5L857.8 636.3Z" opacity="0.82" stroke-width="0.92"/>
<path d="M730.5 625.9L727.5 613.3M727.5 613.3L729.2 616.0L727.2 616.5Z" opacity="1.00" stroke-width="1.12"/>
<path d="M724.1 618.2L719.3 605.8M719.3 605.8L721.4 608.4L719.4 609.2Z" opacity="1.00" stroke-width="1.14"/>
<path d="M717.8 610.5L711.9 598.8M711.9 598.8L714.3 601.1L712.4 602.1Z" opacity="1.00" stroke-width="1.13"/>
<path d="M712.2 603.7L705.7 592.6M705.7 592.6L708.2 594.8L706.4 595.8Z" opacity="1.00" stroke-width="1.12"/>
<path d="M806.5 625.9L809.5 613.3M809.5 613.3L809.8 616.5L807.8 616.0Z" opacity="1.00" stroke-width="1.12"/>
<path d="M812.9 618.2L817.7 605.8M817.7 605.8L817.6 609.2L815.6 608.4Z" opacity="1.00" stroke-width="1.14"/>
<path d="M819.2 610.5L825.1 598.8M825.1 598.8L824.6 602.1L822.7 601.1Z" opacity="1.00" stroke-width="1.13"/>
<path d="M824.8 603.7L831.3 592.6M831.3 592.6L830.6 595.8L828.8 594.8Z" opacity="1.00" stroke-width="1.12"/>
<path d="M852.6 711.2L846.4 716.6M846.4 716.6L847.4 714.7L848.5 715.9Z" opacity="0.82" stroke-width="0.92"/>
<path d="M847.0 721.5L839.3 724.9M839.3 724.9L840.8 723.3L841.5 724.8Z" opacity="0.84" stroke-width="0.93"/>
<path d="M840.2 731.0L831.3 730.1M831.3 730.1L833.5 729.5L833.3 731.1Z" opacity="0.87" stroke-width="0.95"/>
<path d="M832.2 739.5L824.6 730.7M824.6 730.7L827.2 732.2L825.7 733.4Z" opacity="1.00" stroke-width="1.06"/>
<path d="M823.2 747.0L817.3 735.0M817.3 735.0L819.7 737.4L817.8 738.4Z" opacity="1.00" stroke-width="1.14"/>
<path d="M813.3 753.3L808.6 740.6M808.6 740.6L810.7 743.2L808.7 744.0Z" opacity="1.00" stroke-width="1.15"/>
<path d="M802.8 758.3L799.2 745.1M799.2 745.1L801.1 748.0L799.0 748.6Z" opacity="1.00" stroke-width="1.15"/>
<path d="M791.7 761.9L789.2 748.5M789.2 748.5L790.9 751.5L788.7 751.9Z" opacity="1.00" stroke-width="1.15"/>
<path d="M780.2 764.1L779.0 750.5M779.0 750.5L780.4 753.7L778.1 753.9Z" opacity="1.00" stroke-width="1.15"/>
<path d="M768.5 764.8L768.5 751.2M768.5 751.2L769.6 754.5L767.4 754.5Z" opacity="1.00" stroke-width="1.15"/>
<path d="M756.8 764.1L758.0 750.5M758.0 750.5L758.9 753.9L756.6 753.7Z" opacity="1.00" stroke-width="1.15"/>
<path d="M745.3 761.9L747.8 748.5M747.8 748.5L748.3 751.9L746.1 751.5Z" opacity="1.00" stroke-width="1.15"/>
<path d="M734.2 758.3L737.8 745.1M737.8 745.1L738.0 748.6L735.9 748.0Z" opacity="1.00" stroke-width="1.15"/>
<path d="M723.7 753.3L728.4 740.6M728.4 740.6L728.3 744.0L726.3 743.2Z" opacity="1.00" stroke-width="1.15"/>
<path d="M713.8 747.0L719.7 735.0M719.7 735.0L719.2 738.4L717.3 737.4Z" opacity="1.00" stroke-width="1.14"/>
<path d="M704.8 739.5L712.4 730.7M712.4 730.7L711.3 733.4L709.8 732.2Z" opacity="1.00" stroke-width="1.06"/>
<path d="M696.8 731.0L705.7 730.1M705.7 730.1L703.7 731.1L703.5 729.5Z" opacity="0.87" stroke-width="0.95"/>
<path d="M690.0 721.5L697.7 724.9M697.7 724.9L695.5 724.8L696.2 723.3Z" opacity="0.84" stroke-width="0.93"/>
<path d="M684.4 711.2L690.6 716.6M690.6 716.6L688.5 715.9L689.6 714.7Z" opacity="0.82" stroke-width="0.92"/>
<path d="M806.5 718.1L803.5 705.5M803.5 705.5L805.3 708.3L803.2 708.8Z" opacity="1.00" stroke-width="1.12"/>
<path d="M812.9 725.8L808.0 713.5M808.0 713.5L810.2 716.1L808.2 716.9Z" opacity="1.00" stroke-width="1.14"/>
<path d="M819.2 733.5L813.3 721.8M813.3 721.8L815.7 724.1L813.8 725.1Z" opacity="1.00" stroke-width="1.13"/>
<path d="M824.8 740.3L818.3 729.1M818.3 729.1L820.7 731.3L818.9 732.3Z" opacity="1.00" stroke-width="1.12"/>
<path d="M730.5 718.1L733.5 705.5M733.5 705.5L733.8 708.8L731.7 708.3Z" opacity="1.00" stroke-width="1.12"/>
<path d="M724.1 725.8L729.0 713.5M729.0 713.5L728.8 716.9L726.8 716.1Z" opacity="1.00" stroke-width="1.14"/>
<path d="M717.8 733.5L723.7 721.8M723.7 721.8L723.2 725.1L721.3 724.1Z" opacity="1.00" stroke-width="1.13"/>
<path d="M712.2 740.3L718.7 729.1M718.7 729.1L718.1 732.3L716.3 731.3Z" opacity="1.00" stroke-width="1.12"/>
</g>
<path d="M630.2 597.3H688.8" stroke="#ee1c25" stroke-width="0.9" stroke-dasharray="5 4" opacity="0.55" fill="none"/>
<path d="M848.2 597.3H906.8" stroke="#ee1c25" stroke-width="0.9" stroke-dasharray="5 4" opacity="0.55" fill="none"/>
<path d="M631.5 746.7H690.0" stroke="#ee1c25" stroke-width="0.9" stroke-dasharray="5 4" opacity="0.55" fill="none"/>
<path d="M847.0 746.7H905.5" stroke="#ee1c25" stroke-width="0.9" stroke-dasharray="5 4" opacity="0.55" fill="none"/>
<rect x="964.0" y="571.5" width="12.0" height="255.8" fill="url(#jet)"/>
<path d="M964.0 608.9h12.0" stroke="#333" stroke-width="0.6" opacity="0.35"/>
<text class="cb" x="981.4" y="616.9">1</text>
<path d="M964.0 652.5h12.0" stroke="#333" stroke-width="0.6" opacity="0.35"/>
<text class="cb" x="981.4 993.0 1004.7" y="660.5">0.8</text>
<path d="M964.0 696.2h12.0" stroke="#333" stroke-width="0.6" opacity="0.35"/>
<text class="cb" x="981.4 993.0 1004.7" y="704.2">0.6</text>
<path d="M964.0 739.9h12.0" stroke="#333" stroke-width="0.6" opacity="0.35"/>
<text class="cb" x="981.4 993.0 1004.7" y="747.9">0.4</text>
<path d="M964.0 783.6h12.0" stroke="#333" stroke-width="0.6" opacity="0.35"/>
<text class="cb" x="981.4 993.0 1004.7" y="791.6">0.2</text>
<text x="984.2" y="546.8" font-size="25" fill="#2a2a2a" textLength="23.5" lengthAdjust="spacingAndGlyphs">mT</text>
<text class="cap" x="538.5" y="936.5" textLength="470.5">(d) deg.e=130°, deg.c=80°</text>
</svg></div></body></html>
